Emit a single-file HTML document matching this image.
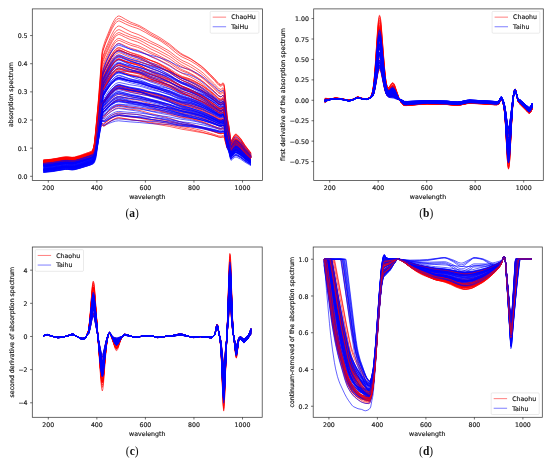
<!DOCTYPE html>
<html lang="en">
<head>
<meta charset="utf-8">
<title>Spectra of ChaoHu and TaiHu</title>
<style>
html,body{margin:0;padding:0;background:#fff;}
body{width:550px;height:460px;overflow:hidden;}
svg{display:block;}
.t text{font-family:"DejaVu Sans","Liberation Sans",sans-serif;font-size:6.25px;fill:#1c1c1c;stroke:#1c1c1c;stroke-width:0.18px;}
.cap text{font-family:"Liberation Serif","DejaVu Serif",serif;font-size:11.5px;fill:#111;}
</style>
</head>
<body>
<svg width="550" height="460" viewBox="0 0 550 460">
<rect width="550" height="460" fill="#fff"/>
<g><g fill="none" stroke-width="0.9" stroke-opacity="0.68" stroke-linejoin="round"><g stroke="#ff0000"><path d="M43.4 163.5l9.1-.8 12.8-1.9 2.4 0 4.3 .4 2.4-.2 5.5-1.4 9.1-2.8 2.4-.8 1.2-.7 .6-.8 .6-1.3 .6-1.7 .6-2.5 5.5-33.6 1.8-10.5 .6-1.4 1.2-1 2.5-3.7 3-3.9 2.4-2.8 2.4-2.2 1.3-.9 1.2-.6 1.8-.4 1.2 .1 6.1 1.8 4.8 1.2 7.3 1.3 3.1 .6 9.1 2.4 8.5 1.9 9.7 2.6 12.1 4.5 9.7 2.4 4.9 1.6 4.2 1.6 3 1.3 3.1 1.5 9.1 4.9 4.2 2.6 1.9 .5 .6-.1 1.2-.7 .6-.1 .6 .4 .6 1.1 .6 3.2 1.8 12 .6 3.1 1.2 2.2 .6 1.8 1.3 6.2 .6 1.6 1.8-2.5 1.8-2.1 .6-.4 .6-.1 .6 .1 1.2 .6 3.1 2.5 4.2 4.7 6.1 5.5"/><path d="M43.4 161.9l8.5-.9 4.3-.7 4.8-1 4.3-.6 2.4 0 4.3 .5 2.4-.2 5.5-1.5 9.7-3.3 2.4-1.1 .6-.7 1.2-3.4 .6-2.8 .6-4.4 3.7-34.6 1.8-18.6 1.2-14.4 .6-4.6 .6-2.1 2.4-6 4.9-10.4 1.8-3.5 2.4-3.8 1.3-1.6 1.2-1 1.8-.8 .6 0 1.2 .5 4.9 2.2 5.4 2.2 6.7 2 2.4 .9 5.5 2.6 5.5 2.8 6 2.6 3.1 1.5 9.7 5.3 6 4.3 4.3 2.6 2.4 1.2 5.5 2 2.4 1.1 3.7 2 6 3.6 3.7 2.6 5.4 4.5 5.5 4.8 3.6 3.7 1.2 .8 1.3 .6 .6-.1 1.2-1.1 .6-.2 .6 .7 .6 1.7 .6 4.7 1.8 18.3 .6 4.9 1.2 4.5 .6 3.2 1.3 9.4 .6 2.5 1.8-3.1 1.8-2.6 .6-.6 .6-.1 .6 .1 1.2 .8 3.1 3.1 4.2 5.7 6.1 6.9"/><path d="M43.4 160.1l8.5-1 4.3-.7 4.8-1 4.3-.7 2.4 0 4.3 .6 2.4-.2 6.1-1.8 9.1-3.2 2.4-1.1 .6-.4 .6-.8 1.2-2.5 .6-2.1 2.5-10.5 2.4-7 .6-1.5 .6-.9 .6-.5 .6-.2 1.2 1.1 .6 0 4.9-3.6 3-2 3.7-1.8 1.2-.3 1.8-.3 3 .4 9.1 1.5 8.5 1.2 12.2 2.5 18.2 3.2 12.1 2.7 7.3 1.2 14.6 2.6 7.8 1.7 3.1 .9 3.6 1.3 1.8 .4 1.3 .1 1.8-.4 .6 .3 .6 .6 2.4 9.2 .6 1.5 1.2 0 .6 .9 1.3 4.1 .6 1 1.8-2.2 1.8-1.9 .6-.4 .6-.1 .6 .1 1.2 .5 3.1 2.1 4.2 4 6.1 4.8"/><path d="M43.4 163.1l9.1-1 8.5-1.6 4.3-.7 2.4 0 4.3 .5 2.4-.2 6.1-1.8 9.1-3.3 2.4-1.1 .6-.7 .6-1.2 .6-1.5 .6-2.1 3.1-17.6 4.2-21.8 .6-1.2 1.2-.4 2.5-3 4.2-4.5 1.8-1.8 3.7-2.7 1.2-.6 1.8-.3 1.2 .1 10.3 2.2 9.7 1.5 18.9 4.1 9.1 3 7.2 2.8 4.3 1.4 3 .8 5.5 .9 3 .7 8.5 2.6 3 1.1 3.1 1.4 9.1 4.4 3.6 2 1.2 .5 1.3 .3 .6-.1 1.2-.6 .6-.2 .6 .4 .6 1 .6 3.1 1.8 11.5 .6 2.9 1.2 2.3 .6 1.9 1.3 5.9 .6 1.5 1.8-2.3 1.8-1.8 .6-.4 .6-.2 .6 .2 1.2 .5 3.1 2.3 4.2 4.2 6.1 5"/><path d="M43.4 162.3l9.1-.8 12.8-1.9 2.4 0 4.3 .4 2.4-.2 5.5-1.3 9.7-2.9 2.4-.9 .6-.7 .6-1.5 .6-2.1 .6-2.9 1.2-10.5 3.1-33.2 1.8-22 1.2-16.8 .6-5.9 .6-2.8 2.4-7 6.1-14.2 2.4-4.4 1.9-2.7 1.2-1.2 1.2-.7 .6-.1 1.2 .2 1.8 .8 4.3 2.4 5.4 2.7 6.7 2.4 2.4 1.1 5.5 2.9 4.9 2.9 7.9 3.8 9.1 5.1 2.4 1.6 5.4 4.2 4.9 3.4 2.4 1.4 4.9 2.1 2.4 1.3 4.9 3 4.8 3.3 3.1 2.4 3.6 3.4 7.9 7.6 3 3.4 1.2 1.1 1.9 .9 .6-.1 1.2-1.3 .6-.3 .6 .8 .6 1.9 .6 5.1 1.8 19.8 .6 5.3 1.2 4.9 .6 3.4 1.3 10.4 .6 2.7 1.8-3.4 1.8-2.9 .6-.6 .6-.2 .6 .2 1.2 .9 3.1 3.4 4.2 6.4 3.1 4 3 3.7"/><path d="M43.4 161.5l9.8-1 12.1-2.1 2.4 0 4.3 .4 1.8-.1 1.8-.4 4.9-1.6 9.1-3.1 2.4-1.1 .6-.8 .6-1.4 .6-1.8 .6-2.6 7.3-52.3 .6-2.2 1.2-1.4 1.8-3.2 4.9-7.4 1.8-2.6 2.4-2.8 1.3-1.2 1.2-.7 1.8-.6 1.2 .1 5.5 1.6 4.2 1.1 3.1 .6 4.8 .7 3 .6 10.4 3 6 1.5 3.1 1 9.1 3.6 6.6 3.4 4.9 2.2 2.4 .9 7.3 2.2 4.9 1.9 4.2 1.9 3 1.6 3.1 1.9 9.1 6.1 3 2.3 1.2 .8 1.9 .6 .6-.1 1.2-.9 .6-.3 .6 .6 .6 1.3 3 22.3 1.2 3.1 .6 2.4 1.3 7.4 .6 1.8 1.8-2.8 1.8-2.3 .6-.5 .6-.1 .6 .1 1.2 .7 3.1 2.8 4.2 5.1 6.1 6.2"/><path d="M43.4 161.7l7.9-.8 9.7-1.6 4.3-.6 2.4 .1 4.3 .4 2.4-.1 6.1-1.5 8.5-2.6 3-1.2 .6-.6 .6-1.1 .6-1.7 .6-2.3 .6-3.5 4.3-33.3 2.4-20.8 .6-3.8 .6-1.6 1.2-2 1.9-3.6 5.4-8.9 2.4-3 1.9-1.9 1.2-.8 1.8-.6 1.2 .2 5.5 1.9 4.8 1.5 7.3 1.8 2.4 .7 11 4.3 7.9 2.7 9.7 3.9 3 1.5 9.7 5.4 8.5 3.7 8.5 4.1 3.6 1.9 3.1 1.9 6 4.1 7.9 5.8 1.9 .7 .6-.1 1.2-.9 .6-.2 .6 .5 .6 1.4 3 22.6 1.2 3.5 .6 2.5 1.3 7.8 .6 2.1 1.8-2.7 1.8-2.2 .6-.5 .6-.2 .6 .1 1.2 .7 3.1 2.7 4.2 5 6.1 6"/><path d="M43.4 161.4l9.1-.9 8.5-1.5 4.3-.5 2.4 0 4.3 .4 2.4-.2 6.1-1.6 9.1-2.9 2.4-1 .6-.7 .6-1.2 .6-1.5 .6-2.3 3.1-18.4 3.6-20.6 .6-3.3 .6-1.5 1.2-.7 1.8-2.6 4.9-5.9 2.4-2.6 3.1-2.6 1.2-.6 1.8-.4 1.2 .1 4.9 1 3 .5 9.1 1 2.4 .3 3.7 .9 7.9 2.3 8.5 1.8 9.7 2.3 12.1 4.3 9.1 2.3 11.5 3.7 3.7 1.6 5.4 2.6 3.7 2.1 3.6 2.3 1.2 .6 1.3 .4 .6-.1 1.2-.7 .6-.1 .6 .4 .6 1.2 .6 3.4 1.8 12.7 .6 3.2 1.2 2.2 .6 1.9 1.3 6.3 .6 1.5 1.8-2.6 1.8-2.2 .6-.5 .6-.1 .6 .1 1.2 .7 3.1 2.5 4.2 4.8 6.1 5.8"/><path d="M43.4 162.4l8.5-1 9.1-1.7 4.3-.6 2.4 0 4.3 .5 2.4-.2 5.5-1.5 9.1-3.1 3-1.3 .6-.7 1.2-2.7 .6-2.1 .6-3.4 6.7-45.1 .6-2.6 1.8-2.3 1.9-3.2 4.2-6.3 1.8-2.4 2.4-2.6 1.3-1.1 1.2-.7 1.8-.6 1.2 .2 5.5 1.6 4.8 1.3 9.1 1.9 3.7 1.2 8.5 3.4 7.9 2.3 10.3 3.2 6 2.6 4.3 1.6 2.4 .6 6.7 1.3 3.6 1.1 6.1 2.5 4.3 2.1 11.5 7.2 4.2 2.9 1.9 .7 .6-.1 1.2-.8 .6-.1 .6 .5 .6 1.2 .6 3.5 1.8 13.1 .6 3.3 1.2 2.2 .6 2 1.3 6.8 .6 1.7 1.8-2.8 1.8-2.3 .6-.6 .6-.1 .6 .1 1.2 .7 3.1 2.7 4.2 5.1 6.1 6.2"/><path d="M43.4 163.3l8.5-1 9.1-1.6 4.3-.6 2.4 0 4.3 .4 2.4-.1 6.7-2 7.9-2.8 3-1.3 .6-.5 .6-.8 1.2-2.7 .6-2.3 1.8-9 1.3-5.3 2.4-9.2 1.2-3 .6-.8 1.2 .3 .6-.2 1.9-1.5 3-2.3 3.6-2.2 3.1-1.5 1.2-.3 1.8-.2 7.9 .9 10.3 .7 3.6 .6 11 2.5 17.6 3.3 11.5 2.9 9.7 1.6 9.1 1.9 6.7 1.9 13.3 4.5 1.9 .1 1.8-.5 .6 .2 .6 .8 2.4 10.9 .6 2.1 1.2 1 .6 1.2 1.3 4.7 .6 1.2 1.8-2.1 1.8-1.8 .6-.4 .6-.1 .6 .1 1.2 .6 3.1 2.1 4.2 3.9 6.1 4.7"/><path d="M43.4 161.7l9.8-1 12.1-1.9 2.4 0 4.3 .4 2.4-.2 5.5-1.6 9.1-3 2.4-1 .6-.4 .6-1.1 .6-1.6 .6-2.2 .6-3.2 4.3-34.6 3-26.6 .6-2.3 1.2-2 1.8-3.6 6.7-10.6 2.4-2.9 1.3-1.3 1.2-.8 1.8-.6 1.2 .2 4.9 1.7 3.6 1.1 7.9 1.9 2.4 .8 3.7 1.6 9.7 5.2 17.6 7.4 10.9 6.1 2.4 1.1 4.9 1.7 2.4 1.1 4.3 2.1 6 3.2 3.7 2.3 6 4.4 4.3 3.2 3.6 3.2 1.2 .7 1.3 .5 .6 0 1.2-.8 .6-.2 .6 .6 .6 1.5 3 22.2 1.2 3.2 .6 2.5 1.3 8 .6 2.2 1.8-2.8 1.8-2.4 .6-.5 .6-.2 .6 .2 1.2 .7 3.1 2.7 4.2 5.2 6.1 6.2"/><path d="M43.4 161.4l9.1-.9 12.8-2 2.4 0 4.3 .4 2.4-.2 5.5-1.5 9.1-2.9 2.4-.8 .6-.5 .6-.8 .6-1.2 .6-1.6 .6-2.4 3.1-16.3 2.4-11.4 1.2-5 .6-1.9 .6-.5 .6-.1 .6-.3 1.8-1.9 4.9-4.7 2.4-2.1 3.1-2.1 1.2-.5 1.8-.3 1.2 .1 5.5 1.1 4.8 .8 10.3 1.4 15.8 2.8 4.9 1.1 8.5 2.1 12.1 4 7.9 1.8 14 3.8 7.2 2.6 3.7 1.6 3.6 1.9 1.2 .4 1.3 .3 .6-.1 1.8-.7 .6 .4 .6 .9 2.4 13.4 .6 2.5 1.2 1.4 .6 1.5 1.3 5.5 .6 1.4 1.8-2.5 1.8-2 .6-.5 .6-.1 .6 .1 1.2 .7 3.1 2.6 4.2 4.6 3.1 2.9 3 2.6"/><path d="M43.4 160.2l8.5-.8 9.1-1.5 4.3-.5 2.4 0 4.3 .4 2.4-.1 6.7-1.8 8.5-2.6 2.4-1 .6-.8 .6-1.4 .6-1.8 .6-2.7 4.3-31.5 3-24 .6-2.4 1.2-1.5 2.5-4.1 4.2-6.2 1.8-2.4 2.4-2.5 1.3-1.1 1.2-.7 1.8-.5 1.2 .1 4.9 1.3 3 .7 8.5 1.4 2.4 .5 3.7 1.2 9.7 4 18.2 5.4 10.3 5 2.4 .9 7.3 2.4 4.9 2.2 3 1.5 4.9 3 12.1 9 2.4 2 1.2 .7 1.9 .7 .6-.1 1.2-.9 .6-.2 .6 .5 .6 1.4 .6 3.8 1.8 14.3 .6 3.6 1.2 2.7 .6 2.3 1.3 7.3 .6 1.9 1.8-3 1.8-2.4 .6-.6 .6-.1 .6 .1 1.2 .7 3.1 2.8 4.2 5.4 6.1 6.4"/><path d="M43.4 161.4l8.5-1 4.3-.8 4.8-1 4.3-.7 2.4 0 4.3 .4 2.4-.2 5.5-1.7 9.1-3.1 2.4-.9 .6-.5 .6-.8 .6-1.3 .6-1.6 .6-2.4 3.1-16.7 2.4-11.5 1.2-5.2 .6-2 .6-.6 .6-.1 .6-.2 1.8-2.2 4.9-5 2.4-2.3 3.1-2.2 1.2-.6 1.8-.3 1.2 .1 9.1 1.9 8.5 1.2 2.4 .5 12.2 3.7 17.6 4.3 10.3 3.3 3 .6 5.5 1 3.6 .9 6.7 2.1 4.3 1.6 9.7 4.6 6 3.3 1.9 .5 .6 0 1.8-.6 .6 .4 .6 1 2.4 13.3 .6 2.7 1.2 1.8 .6 1.6 1.3 5.7 .6 1.4 1.8-2.2 1.8-1.9 .6-.4 .6-.2 .6 .2 1.2 .5 3.1 2.2 4.2 4.2 6.1 5"/><path d="M43.4 161.7l8.5-.9 9.1-1.5 4.3-.6 2.4 0 4.3 .4 2.4-.2 5.5-1.4 9.7-2.9 1.8-.6 .6-.5 .6-1.1 .6-1.6 .6-2.2 .6-3.3 3.7-28.1 3-25.5 .6-4.2 .6-1.9 1.2-1.9 1.2-2.4 7.3-11.9 2.4-3.1 1.3-1.3 1.2-.8 1.8-.6 1.2 .1 1.8 .6 3.7 1.5 5.4 1.9 9.7 2.6 18.3 6.4 10.3 4.9 6.6 3.9 4.9 2.5 2.4 1 4.9 1.6 3 1.1 6.7 3 3.6 1.8 3.7 2.1 5.4 3.6 4.3 2.9 3 2.4 1.2 .8 1.9 .6 .6-.1 1.2-.9 .6-.3 .6 .6 .6 1.4 3 22.6 1.2 3.1 .6 2.5 1.3 7.9 .6 2 1.8-2.9 1.8-2.3 .6-.5 .6-.2 .6 .2 1.2 .8 3.1 2.9 4.2 5.4 3.1 3.4 3 3"/><path d="M43.4 160.2l9.8-.9 12.1-1.8 2.4 0 4.3 .5 2.4-.2 6.1-1.6 9.1-2.9 2.4-.9 .6-.6 .6-1.1 .6-1.3 .6-1.9 3.1-16.3 2.4-11.1 1.8-7.4 .6-.9 1.2 0 .6-.6 1.9-2.1 4.2-4.2 1.8-1.6 3.7-2.5 1.2-.5 1.8-.3 1.2 .1 6.1 .9 10.3 1.1 3 .6 3.1 1 7.9 3.2 3.6 1.3 15.2 4 11.5 3.9 9.7 2.3 10.3 3.1 3.7 1.4 5.4 2.2 9.1 4.1 1.9 .4 .6-.1 1.8-.6 .6 .3 .6 .9 2.4 11.8 .6 2.1 1.2 1.1 .6 1.3 1.3 5.3 .6 1.4 1.8-2.3 1.8-2 .6-.4 .6-.1 .6 .1 1.2 .6 3.1 2.3 4.2 4.2 6.1 5.2"/><path d="M43.4 161l9.8-.9 12.1-1.9 2.4 0 4.3 .4 2.4-.2 5.5-1.5 9.7-2.9 2.4-1 .6-.6 1.2-2.9 .6-2.3 .6-3.6 5.5-41.3 1.2-10.3 .6-3.1 .6-1.3 1.2-1.8 1.9-3.4 4.2-6.8 1.8-2.6 2.4-2.8 1.3-1.1 1.2-.8 1.8-.6 1.2 .1 6.7 1.7 9.7 1.3 2.4 .5 3.7 1.4 9.7 4.2 17.6 5.7 2.4 1.1 8.5 4.3 9.7 3.6 5.5 2.5 4.2 2.2 3.1 1.8 3 2 8.5 6 3 2.4 1.2 .9 1.9 .7 .6-.1 1.2-.9 .6-.2 .6 .5 .6 1.4 3 22.7 1.2 3.3 .6 2.4 1.3 7.6 .6 2 1.8-2.8 1.8-2.3 .6-.5 .6-.2 .6 .1 1.2 .7 3.1 2.7 4.2 5.1 6.1 6.1"/><path d="M43.4 161.9l9.1-.8 12.8-2 2.4 0 4.3 .4 1.8-.1 1.8-.4 4.9-1.4 9.7-2.9 1.8-.8 .6-.6 .6-1.1 .6-1.4 .6-2 3.1-14.8 2.4-10.1 .6-2.2 1.2-3.3 .6-.4 .6 .1 .6-.1 7.3-6.3 3-2.1 2.5-1.3 2.4-.5 7.9 1.1 9.7 1 4.9 .9 9.7 2.7 7.2 1.8 10.4 2.7 12.1 3.9 9.7 2.1 10.3 2.7 9.7 3.3 8.5 3.3 1.9 .3 .6 0 1.8-.5 .6 .2 .6 .8 2.4 10.4 .6 1.8 1.2 .6 .6 1 1.3 4.8 .6 1.3 1.8-2.3 1.8-1.8 .6-.4 .6-.1 .6 .1 1.2 .6 3.1 2.3 4.2 4.2 6.1 5"/><path d="M43.4 163.8l9.1-.9 12.8-2 2.4 0 4.3 .5 2.4-.2 5.5-1.4 8.5-2.7 3-1.1 .6-.5 .6-1 .6-1.6 .6-2.1 .6-3.2 3.7-30.4 3.6-33.8 .6-2.6 3-5.9 4.9-7.7 1.8-2.7 2.4-2.8 1.3-1.2 1.2-.8 1.8-.6 1.2 .1 5.5 1.9 4.2 1.2 7.9 1.6 2.4 .7 5.5 1.9 5.5 2.2 7.2 2.4 9.8 3.9 3 1.4 10.3 5.9 8.5 3.5 12.1 6 3.1 1.9 5.4 3.8 4.3 3.2 3.6 3.3 1.2 .7 1.3 .5 .6-.1 1.2-.9 .6-.3 .6 .7 .6 1.5 3 24.7 1.2 3.7 .6 2.7 1.3 8.2 .6 2.2 1.8-2.9 1.8-2.4 .6-.6 .6-.1 .6 .1 1.2 .7 3.1 2.9 4.2 5.3 6.1 6.4"/><path d="M43.4 163.5l9.1-1 12.8-2.2 2.4 0 4.3 .4 2.4-.2 5.5-1.6 9.7-3.3 2.4-1 .6-.5 .6-1.1 .6-1.7 .6-2.2 .6-3.5 3.7-31.8 3.6-35.6 .6-2.8 3.7-8.2 3.6-7 1.8-3.1 2.4-3.4 1.3-1.4 1.2-.9 1.8-.7 1.2 .2 5.5 2.1 4.8 1.6 2.5 .6 4.8 1 3 .9 9.8 3.3 5.4 1.7 3.7 1.5 9.7 4.9 6.6 4.3 4.3 2.5 2.4 1.1 5.5 1.8 2.4 1 4.3 2.1 4.2 2.4 3 2 2.5 1.9 10.3 8.6 3 2.8 1.2 .9 1.9 .8 .6-.2 1.2-1.1 .6-.3 .6 .7 .6 1.6 .6 4.5 1.8 17.5 .6 4.7 1.2 4.4 .6 3 1.3 9 .6 2.3 1.8-3 1.8-2.4 .6-.6 .6-.1 .6 .1 1.2 .8 3.1 3 4.2 5.5 3.1 3.4 3 3.2"/><path d="M43.4 163.2l9.1-.9 12.8-2 2.4 0 4.3 .4 2.4-.2 5.5-1.4 10.3-3.1 1.8-.8 .6-.9 1.2-4.1 .6-3.3 .6-5.2 3.7-38.1 3-37.3 .6-4.3 .6-1.9 2.4-6.2 4.9-10.4 1.8-3.6 2.4-3.8 1.3-1.7 1.2-1 1.8-.8 1.2 .2 5.5 2.5 4.2 1.6 3.1 1 4.2 1.2 2.4 1 4.3 2.2 7.3 4.2 7.2 3.5 10.4 5.5 2.4 1.5 4.8 3.7 5.5 3.9 9.1 4.8 7.9 4.9 3.6 2.5 3.1 2.5 6 5.3 3.7 3.4 3 3.2 1.2 1.1 1.9 .8 .6-.1 1.2-1.2 .6-.3 .6 .8 .6 1.8 .6 4.9 2.4 25.2 1.2 5.6 .6 3.6 1.3 10.2 .6 2.8 1.8-3 1.8-2.5 .6-.6 .6-.2 .6 .2 1.2 .7 3.1 3 4.2 5.5 6.1 6.7"/><path d="M43.4 160.9l8.5-.9 9.1-1.7 4.3-.6 2.4 0 4.3 .4 2.4-.2 5.5-1.4 11.5-3.7 .6-.4 .6-.8 1.2-2.5 .6-2.1 1.8-8.4 1.3-4.7 2.4-7.8 1.2-2.2 .6-.6 1.2 .7 .6 0 7.3-5.2 1.8-1.1 3.1-1.5 1.2-.4 1.8-.3 1.2 .1 9.7 1.3 10.9 1 10.4 1.5 7.9 .9 9.7 1.5 12.1 2.5 9.7 1.4 10.3 2 9.1 2.6 9.7 3.2 1.9 .1 1.8-.5 .6 .3 .6 .7 2.4 10.9 .6 2 1.2 .8 .6 1.2 1.3 4.5 .6 1.1 1.8-2.2 1.8-1.8 .6-.4 .6-.1 .6 .1 1.2 .5 3.1 2.2 4.2 4 6.1 4.8"/><path d="M43.4 161.8l9.1-.9 8.5-1.4 4.3-.5 2.4 0 4.3 .4 2.4-.2 6.1-1.6 9.1-2.8 2.4-.9 .6-.8 .6-1.2 .6-1.5 .6-2.3 3.1-18.3 4.2-23.8 .6-1.4 1.2-.8 1.8-2.5 6.7-8.2 2.4-2.3 1.3-.9 1.2-.7 1.8-.4 1.2 .1 1.8 .5 6.1 1.9 4.9 1.3 22.4 4.6 4.9 1.3 9.7 3.3 6 2.7 5.5 2.2 9.1 2.5 11.5 4.1 9.1 4.3 3.7 1.9 4.2 2.5 1.9 .5 .6-.1 1.2-.6 .6-.2 .6 .4 .6 1.1 3 18.4 1.2 2.6 .6 2 1.3 6.3 .6 1.7 1.8-2.3 1.8-1.9 .6-.4 .6-.1 .6 .1 1.2 .6 3.1 2.1 4.2 4.1 6.1 5"/><path d="M43.4 162.7l8.5-1 4.3-.7 4.8-1 4.3-.6 2.4 0 4.3 .5 2.4-.1 5.5-1.6 8.5-3 3-1.2 .6-.5 .6-1 .6-1.6 .6-2.1 .6-3.2 4.3-32.7 2.4-20.2 .6-4.3 .6-2 1.2-1.8 1.8-3.3 6.7-10.2 2.4-2.8 1.3-1.2 1.2-.8 1.8-.5 1.2 .1 1.8 .6 3.7 1.5 5.4 1.8 8.5 2.5 6.1 2.5 5.5 2.5 6 2.3 3.7 1.6 9.1 4.2 12.1 7.1 7.9 3.6 12.1 6 9.1 5.8 3.7 2.4 3 2.3 1.2 .8 1.9 .7 .6-.1 1.2-.8 .6-.2 .6 .5 .6 1.3 3 20.8 1.2 3.3 .6 2.4 1.3 7.6 .6 2.1 1.8-2.6 1.8-2.1 .6-.4 .6-.2 .6 .2 1.2 .6 3.1 2.5 4.2 4.7 6.1 5.6"/><path d="M43.4 162.8l8.5-1 4.3-.7 4.8-.9 4.3-.7 2.4 0 4.3 .5 2.4-.1 5.5-1.6 9.1-3 2.4-1 .6-.4 .6-.9 .6-1.4 .6-1.8 .6-2.7 3.1-19.1 3.6-21.9 .6-2.9 .6-1.3 1.2-1 1.8-2.6 6.7-8.5 2.4-2.4 1.3-1 1.2-.7 1.8-.5 1.2 .1 1.8 .5 3.7 1.1 5.4 1.5 9.1 1.6 10.4 2.7 7.8 1.7 11 3.1 7.3 2.9 4.2 1.4 2.4 .6 5.5 .9 4.2 1.2 4.9 1.8 4.2 2 17 10.2 1.9 .5 .6-.1 1.2-.7 .6-.2 .6 .4 .6 1.2 .6 3.3 1.8 12.2 .6 3 1.2 2 .6 1.9 1.3 6.3 .6 1.6 1.8-2.7 1.8-2.2 .6-.5 .6-.2 .6 .2 1.2 .6 3.1 2.7 4.2 4.8 6.1 6"/><path d="M43.4 161.3l9.8-.9 12.1-1.8 2.4 0 4.3 .4 2.4-.1 5.5-1.5 10.3-3.3 1.8-.8 .6-.8 1.2-3.5 .6-2.9 .6-4.5 3.7-32.4 1.8-17.3 1.2-13.2 .6-3.4 3-6.7 4.9-9.3 1.8-3.1 2.4-3.5 1.3-1.4 1.2-1 1.8-.6 1.2 .1 1.8 .8 5.5 2.8 4.8 2.3 6.1 2.1 2.4 1 9.8 4.6 7.8 3.3 10.4 4.9 2.4 1.4 4.8 3.3 5.5 3.5 9.1 4.4 10.9 6.2 3.1 2.1 5.4 4.2 4.9 3.8 3 2.7 1.2 .9 1.9 .7 .6-.1 1.2-1.1 .6-.3 .6 .6 .6 1.6 .6 4 1.8 15.1 .6 3.8 1.2 2.9 .6 2.4 1.3 8.5 .6 2.3 1.8-3.3 1.8-2.6 .6-.6 .6-.2 .6 .2 1.2 .9 3.1 3.2 4.2 6 3.1 3.7 3 3.4"/><path d="M43.4 161.9l8.5-1 4.3-.7 4.8-1.1 4.3-.6 2.4 0 4.3 .5 2.4-.1 6.1-1.8 10.9-3.9 .6-.4 .6-.7 1.2-2.6 .6-2 1.8-8.5 1.3-4.7 2.4-7.9 .6-1.4 .6-.9 .6-.7 .6 .2 .6 .4 .6 0 7.3-5.8 1.8-1.3 3.1-1.8 1.2-.4 1.8-.3 3 .4 9.7 2 9.1 1.5 11 2.3 18.2 3 11.5 2.8 7.9 1.3 5.5 1.1 8.5 2.1 15.7 5 1.9 .2 .6 0 1.8-.6 .6 .3 .6 .6 2.4 9.5 .6 1.5 1.2 .1 .6 .9 1.3 4.2 .6 1.1 1.8-2.3 1.8-1.9 .6-.4 .6-.1 .6 .1 1.2 .6 3.1 2.2 4.2 4.3 6.1 5"/><path d="M43.4 161.4l8.5-1 4.3-.7 4.8-1 4.3-.7 2.4 0 4.3 .5 2.4-.1 5.5-1.7 9.7-3.5 2.4-1.1 .6-.8 1.2-3.5 .6-2.9 .6-4.5 5.5-49.8 1.2-13.3 .6-3.6 3.7-7.9 4.2-8.1 1.8-3.1 2.4-3.4 1.3-1.4 1.2-1 1.8-.6 1.2 .1 5.5 2.3 4.8 1.8 7.3 2.1 1.8 .6 6.1 2.8 5.5 2.7 7.9 3.4 9.7 5.5 7.2 5.1 4.3 2.5 2.4 1.1 5.5 1.9 3 1.3 3.7 1.9 6 3.4 3.7 2.5 5.4 4.2 4.9 4 3 2.9 1.2 .9 1.9 .8 .6-.1 1.2-1 .6-.3 .6 .6 .6 1.6 .6 4.4 1.8 16.9 .6 4.5 1.2 4.1 .6 2.9 1.3 8.9 .6 2.4 1.8-3 1.8-2.4 .6-.5 .6-.2 .6 .2 1.2 .7 3.1 3 4.2 5.5 3.1 3.4 3 3.2"/><path d="M43.4 160.9l9.1-1 12.8-2.1 2.4 0 4.3 .5 2.4-.2 5.5-1.6 9.1-3.1 2.4-1 .6-.5 .6-1.1 1.2-4.4 .6-3.8 .6-5.4 3.7-38.2 3-36.2 .6-3.7 3-7.8 4.9-10.5 1.8-3.7 2.4-3.9 1.3-1.7 1.2-1.1 1.8-.7 1.2 .2 5.5 2.8 4.8 2.1 2.5 1 4.8 1.5 2.4 .9 6.1 2.9 4.3 2.1 6 2.7 3.7 1.9 9.7 5.8 6 4.7 5.5 3.8 9.1 4.6 5.5 3.4 4.2 2.8 3.7 2.9 5.4 4.9 5.5 5.2 3 3.3 1.2 1.1 1.9 .9 .6-.1 1.2-1.2 .6-.4 .6 .8 .6 1.9 .6 5 1.8 19.6 .6 5.3 1.2 5.1 .6 3.5 1.3 10.2 .6 2.8 1.8-3.3 1.8-2.7 .6-.6 .6-.2 .6 .2 1.2 .8 3.1 3.3 4.2 6 3.1 3.8 3 3.5"/><path d="M43.4 164l8.5-1 4.3-.7 4.8-1 4.3-.6 2.4 0 4.3 .4 2.4-.2 5.5-1.6 9.1-3.1 2.4-1 .6-.5 .6-1.3 1.2-4.9 .6-4.2 .6-5.8 3.1-34.5 3.6-47.7 .6-3.9 3-8.6 6.7-14.9 2.4-4.2 1.3-1.8 1.2-1.1 1.2-.7 .6-.2 1.2 .2 5.5 2.8 4.8 2.1 2.5 .9 4.2 1.3 2.4 1 6.1 3.2 5.5 3.3 7.2 3.7 3.1 2 7.3 5.1 7.2 6.2 4.3 3.1 2.4 1.4 6.1 2.7 2.4 1.3 5.5 3.4 4.2 3 3.7 3 5.4 5.1 4.9 4.9 3 3.5 1.2 1.2 1.9 1 .6-.1 1.2-1.3 .6-.3 .6 .8 .6 2 .6 5.3 2.4 26.6 1.2 5.5 .6 3.7 1.3 10.9 .6 3 1.8-3.5 1.8-2.8 .6-.6 .6-.2 .6 .1 1.2 .9 3.1 3.3 4.2 6.3 6.1 7.6"/><path d="M43.4 160.8l8.5-.9 9.1-1.6 4.3-.6 2.4 0 4.3 .4 2.4-.2 5.5-1.5 9.7-3.2 2.4-1 .6-.7 1.2-3.1 .6-2.4 .6-3.9 5.5-45.2 1.2-11.6 .6-3.7 .6-1.5 1.2-2.1 1.9-3.8 4.2-7.3 1.8-2.8 2.4-2.9 1.3-1.3 1.2-.8 1.8-.5 1.2 .3 6.1 2.6 4.8 1.9 7.3 2.1 2.4 .9 10.4 4.2 6 2.3 3.7 1.5 9.1 4.3 6 3.8 5.5 3.1 9.1 3.7 12.1 6 3.7 2.2 4.8 3.2 3.7 2.7 3.6 3.2 1.2 .7 1.3 .5 .6-.1 1.2-.9 .6-.2 .6 .6 .6 1.5 .6 4 1.8 14.9 .6 3.9 1.2 3.1 .6 2.5 1.3 8 .6 2.2 1.8-3 1.8-2.3 .6-.6 .6-.1 .6 .1 1.2 .8 3.1 2.9 4.2 5.4 3.1 3.4 3 3.1"/><path d="M43.4 160.3l8.5-.9 4.3-.7 4.8-1.1 4.3-.6 2.4 0 4.3 .5 2.4-.2 5.5-1.6 9.7-3.6 2.4-1.1 .6-.8 1.2-3.6 .6-3 .6-4.6 4.3-41.2 1.2-12.5 1.2-14.4 .6-4.3 .6-1.8 3.1-7.2 4.2-8.8 1.8-3.4 2.4-3.7 1.3-1.6 1.2-1 1.8-.7 1.2 .2 5.5 2.6 4.8 2 2.5 .9 4.8 1.4 2.4 .9 6.1 3 4.9 2.6 7.2 3.2 9.1 4.8 3.1 1.8 5.4 3.9 4.9 3.2 2.4 1.2 4.9 2 2.4 1.2 5.5 3.2 4.2 2.7 2.4 1.8 3.1 2.5 9.1 8.2 3 3.1 1.2 1 1.9 .9 .6-.1 1.2-1.2 .6-.2 .6 .7 .6 1.7 3 27 1.2 4.1 .6 2.9 1.3 9.4 .6 2.5 1.8-3.3 1.8-2.7 .6-.7 .6-.1 .6 .1 1.2 .8 3.1 3.3 4.2 6 3.1 3.8 3 3.6"/><path d="M43.4 161l9.1-.9 12.8-2 2.4 0 4.3 .4 2.4-.1 5.5-1.4 10.9-3.4 1.2-.5 .6-.4 .6-1.2 1.2-4.6 .6-4 .6-5.8 3.7-41.8 3-40.4 .6-4.1 3.1-9.5 3-7.7 2.4-5.7 2.4-4.5 1.9-2.8 1.2-1.2 1.2-.7 .6-.1 1.2 .2 5.5 2.7 4.2 1.9 3.1 1.2 4.2 1.3 2.4 1 4.3 2.5 7.3 4.8 6 3.3 3.1 1.8 9.7 6.2 6 5.1 4.9 3.5 2.4 1.4 4.9 2.2 2.4 1.2 3.7 2.3 6 4.3 3.7 3.1 5.4 5.3 5.5 5.6 3 3.6 1.2 1.1 1.9 1 .6-.1 1.2-1.2 .6-.4 .6 .8 .6 2 .6 5.4 1.8 21 .6 5.6 1.2 5.4 .6 3.7 1.3 11 .6 2.9 1.8-3.5 1.8-2.9 .6-.7 .6-.1 .6 .1 1.2 .9 3.1 3.5 4.2 6.6 3.1 4 3 3.8"/><path d="M43.4 163.8l8.5-.9 9.1-1.6 4.3-.6 2.4 0 4.3 .4 2.4-.1 5.5-1.5 9.1-3 2.4-.9 1.2-.7 .6-1 .6-1.6 .6-2.1 .6-3.2 3.7-31.1 3.6-35.2 .6-3 3.7-8.3 3-6 2.4-4.2 2.4-3.4 1.3-1.4 1.2-1 1.8-.7 1.2 .2 1.8 .7 6.1 2.8 4.9 1.9 7.2 1.8 10.4 2.8 5.4 1.3 4.3 1.5 9.1 4.4 6 3.7 4.3 2.1 3 1.2 5.5 1.4 2.4 .8 3.7 1.6 5.4 2.8 3.7 2.2 4.2 3.2 7.3 6 3.6 3.4 1.2 .8 1.3 .5 .6 0 1.2-1.1 .6-.2 .6 .6 .6 1.7 .6 4.5 1.8 17.7 .6 4.6 1.2 4.1 .6 2.9 1.3 8.6 .6 2.2 1.8-3.1 1.8-2.6 .6-.6 .6-.2 .6 .2 1.2 .8 3.1 3 4.2 5.7 6.1 6.9"/></g><g stroke="#0000ff"><path d="M43.4 165.5l9.1-1 12.8-2.1 2.4-.1 4.3 .4 2.4-.2 5.5-1.7 9.7-3.5 1.8-.8 1.8-1.1 .6-1.1 .6-1.7 .6-2.4 .6-3.7 1.2-10.8 2.5-24.6 3-33.3 .6-5.9 .6-3.1 3.1-7.7 2.4-4.9 2.4-4.1 2.4-3.2 1.9-2.1 1.2-.9 1.8-.6 1.2 .2 5.5 2 3.6 1.2 3 .8 5.5 1.2 3 1.1 5.5 2.5 4.9 2.4 6 2.6 3.1 1.5 9.1 4.9 6.6 4.3 3.7 1.9 3 1.2 6.7 1.7 4.2 1.8 4.3 2.3 4.2 2.9 13.4 11.2 2.4 2.2 1.2 .9 1.9 .7 .6-.1 1.2-1 .6-.3 .6 .6 .6 1.6 .6 4.7 2.4 23.6 1.2 4.9 .6 3.2 1.3 9.6 .6 2.5 1.8-3.1 1.8-2.5 .6-.6 .6-.1 .6 .1 1.2 .8 3.1 3 4.2 5.5 6.1 6.8"/><path d="M43.4 172.1l9.1-.9 12.8-2 2.4 0 4.3 .4 2.4-.1 5.5-1.5 9.1-2.7 2.4-.9 1.2-.6 .6-.6 .6-1 .6-1.4 .6-1.9 1.8-9.3 3.7-20.2 .6-2.7 1.2-1.2 .6-.1 1.2 .3 4.9-2.3 3-1.2 3.7-1.1 3-.3 11.5 1.1 9.1 .6 11.6 1.1 19.4 1.1 10.9 1.3 9.1 .8 6.1 .7 4.8 .8 17.6 3.5 1.9 .2 2.4-.4 .6 .2 .6 .5 .6 2.6 1.8 10.3 .6 2.8 1.2 2.7 .6 1.8 1.3 5.3 .6 1.4 1.8-1.7 1.8-1.4 .6-.4 1.2 0 1.2 .5 3.1 1.7 4.2 3.2 6.1 3.9"/><path d="M43.4 168l9.1-1 12.8-2.2 2.4 0 4.3 .4 1.8-.1 5.5-1.6 9.7-3.3 1.8-.6 1.8-.9 .6-.6 .6-1.1 .6-1.3 .6-2 6.1-31.9 1.2-1.8 .6-.1 .6 .3 .6 .1 4.3-2.9 3.6-2.2 3.7-1.5 1.2-.3 1.8-.2 17.6 1.3 4.9 .7 26.7 5 14.5 3.5 13.4 2.4 7.9 1.2 5.4 1 4.9 1.1 5.4 1.6 1.9 .2 1.8-.3 .6 .2 .6 .6 .6 2.7 2.4 13 1.2 2.7 .6 1.8 1.3 5.7 .6 1.5 1.8-1.7 1.8-1.5 .6-.3 1.2 0 1.2 .4 3.1 1.7 4.2 3.2 6.1 3.9"/><path d="M43.4 164.8l9.1-.9 12.8-2 2.4 0 4.3 .4 2.4-.2 5.5-1.5 10.3-3 2.4-.9 .6-.4 .6-.8 .6-1.3 .6-1.8 .6-2.6 5.5-36.6 1.2-7 .6-2.7 .6-1.2 .6-.5 .6-.7 1.3-2.1 2.4-3.5 3.6-4.4 2.4-2.3 1.3-1 1.2-.6 1.8-.5 1.2 .1 10.3 2.7 8.5 1.8 3.7 1.1 9.7 3.3 17.6 4.6 3 1.1 9.7 3.9 6.7 2.2 13.3 4.8 9.1 4 7.3 3.7 1.9 .4 .6 0 1.8-.8 .6 .4 .6 1 3 18.6 1.2 2.6 .6 2 1.3 6.6 .6 1.8 1.8-2.4 1.8-2 .6-.5 .6-.1 .6 .1 1.2 .6 3.1 2.3 4.2 4.4 6.1 5.3"/><path d="M43.4 166.1l9.1-.9 12.8-2 2.4 0 4.3 .4 2.4-.2 5.5-1.5 9.1-3 1.8-.6 2.4-1.2 .6-.6 .6-1.1 .6-1.4 .6-2.1 6.1-34.3 1.2-3.1 .6-.6 .6 .2 .6-.2 1.9-1.9 1.8-1.6 3.6-2.5 3.7-1.7 1.2-.4 1.8-.2 1.2 0 9.1 1.4 7.9 .9 3 .5 13.4 3.5 7.3 1.5 9.7 1.7 10.9 2.8 8.5 1.5 7.9 1.9 6.1 1.6 15.1 5.1 1.9 .4 .6-.1 1.8-.5 .6 .3 .6 .7 .6 2.8 1.8 10.6 .6 2.8 1.2 2.4 .6 1.9 1.3 5.8 .6 1.6 1.8-2 1.8-1.7 .6-.3 .6-.2 .6 .1 1.2 .5 3.1 1.9 4.2 3.5 6.1 4.4"/><path d="M43.4 169.2l9.1-.9 12.8-1.9 2.4 0 4.3 .4 2.4-.2 5.5-1.5 9.7-3.1 1.8-.6 1.8-1 .6-.8 .6-1.3 .6-1.7 .6-2.7 1.9-12.2 4.2-31.6 1.2-7.1 .6-1.6 1.2-1.6 1.9-2.9 1.8-2.5 2.4-2.8 1.8-1.7 3.1-2.4 1.2-.6 1.8-.4 1.2 .1 5.5 1.4 4.8 1 9.7 1.4 10.4 1.9 6 .9 3.1 .7 9.1 2.8 6.6 2.5 3.7 1.1 3.6 .9 7.9 1.1 3 .7 4.3 1.3 4.2 1.5 4.3 1.9 7.9 3.9 4.8 2.8 1.9 .5 .6 0 1.2-.6 .6-.2 .6 .4 .6 1.2 .6 3.6 1.8 14.2 .6 3.8 1.2 3.3 .6 2.3 1.3 6.9 .6 1.8 1.8-2.5 1.8-2 .6-.5 .6-.1 .6 .1 1.2 .6 3.1 2.5 4.2 4.6 6.1 5.5"/><path d="M43.4 166.9l8.5-1 9.1-1.7 4.3-.6 2.4 0 4.3 .5 2.4-.2 5.5-1.6 10.3-3.4 2.4-1 .6-.6 1.2-2.4 .6-2.1 .6-3.1 5.5-37.9 1.2-7.3 .6-2.3 .6-.9 .6-.6 .6-.9 1.3-2.1 2.4-3.5 3.6-4.6 2.4-2.4 1.3-1 1.2-.7 1.8-.4 1.2 .1 9.7 2.2 7.9 1.3 3 .6 10.4 3.1 7.2 1.9 9.8 3 3 1 4.8 1.9 3.7 1.1 3 .7 6.7 .8 4.2 1 5.5 1.9 4.3 1.8 11.5 5.9 4.2 2.3 1.9 .5 .6-.1 1.2-.6 .6-.2 .6 .4 .6 1.1 .6 3.5 1.8 13.9 .6 3.8 1.2 3.4 .6 2.3 1.3 7.1 .6 1.9 1.8-2.4 1.8-2 .6-.5 .6-.1 .6 .1 1.2 .6 3.1 2.4 4.2 4.3 6.1 5.3"/><path d="M43.4 165.9l9.1-.9 8.5-1.5 4.3-.6 2.4 0 4.3 .4 2.4-.2 5.5-1.5 8.5-2.8 2.4-.9 1.8-.8 .6-.6 .6-1 .6-1.3 .6-2 .6-2.9 5.5-32.4 1.2-4.2 .6-1 1.2-.2 4.3-4.1 3.6-2.9 3.7-2 1.2-.4 1.8-.3 1.2 .1 10.3 1.9 9.7 1.4 11 2.5 18.2 3.8 12.7 3.7 7.3 1.7 13.3 3.4 9.1 2.9 7.3 2.7 1.9 .3 .6 0 1.8-.6 .6 .3 .6 .8 .6 2.9 1.8 11.1 .6 3 1.2 2.5 .6 2 1.3 6 .6 1.6 1.8-2.1 1.8-1.7 .6-.4 .6-.1 .6 .1 1.2 .6 3.1 2 4.2 3.8 6.1 4.6"/><path d="M43.4 169.1l9.1-1 8.5-1.7 4.3-.7 2.4 0 4.3 .5 2.4-.2 5.5-1.7 10.3-3.6 2.4-1.1 .6-.8 1.2-3.4 .6-2.8 .6-4.2 3.1-26.2 3.6-34.1 .6-2.9 3.7-7.4 3-5.2 2.4-3.7 2.4-2.9 1.3-1.3 1.2-.8 1.8-.6 1.2 .2 1.8 .6 4.3 1.7 5.4 1.9 8.5 2.5 11 4.4 7.9 2.8 10.3 4.3 7.3 3.9 4.2 1.8 2.4 .8 6.1 1.4 4.9 1.6 6 2.6 4.3 2.2 7.9 5 3 2.1 3 2.4 1.2 .7 1.3 .5 .6 0 1.2-.8 .6-.2 .6 .6 .6 1.4 .6 4.1 1.8 15.9 .6 4.3 1.2 4.1 .6 2.7 1.3 8.4 .6 2.3 1.8-2.7 1.8-2.2 .6-.5 .6-.1 .6 .1 1.2 .7 3.1 2.7 4.2 5 6.1 6"/><path d="M43.4 169.2l9.8-.9 12.1-1.8 2.4 0 4.3 .3 2.4-.1 5.5-1.5 10.3-3.1 3-1.3 .6-.6 1.2-2.9 .6-2.5 .6-3.8 3.1-24.6 3.6-32.3 .6-3.2 2.5-5.3 1.2-2.2 1.8-3 2.4-3.2 2.4-2.6 1.9-1.6 1.2-.7 1.8-.4 1.2 .2 7.3 2.6 4.8 1.5 7.3 1.4 11 2.6 7.2 1.4 12.2 3.4 10.9 4.5 9.1 2.4 4.3 1.5 3 1.3 4.8 2.7 9.7 6.8 6.7 4.2 1.2 .4 1.3 .1 .6-.1 1.2-1 .6-.3 .6 .4 .6 1.2 .6 4 2.4 20.5 1.2 4.5 .6 2.8 1.3 8.1 .6 2.2 1.8-2.6 1.8-2 .6-.5 .6-.1 .6 .1 1.2 .7 3.1 2.7 4.2 4.7 3.1 3 3 2.7"/><path d="M43.4 165.1l9.1-.9 8.5-1.4 4.3-.6 2.4 0 4.3 .5 2.4-.2 5.5-1.4 9.1-2.9 2.4-.9 1.8-1 .6-.8 .6-1.3 .6-1.7 .6-2.7 5.5-33.3 .6-2.9 1.2-4 .6-.5 .6-.1 .6-.5 1.3-1.6 2.4-2.6 3.6-3.2 3.7-2.2 1.2-.5 1.8-.3 1.2 .2 1.8 .4 7.9 2.5 4.3 1.1 6.6 1 13.4 1.5 3 .4 3.7 .9 6.6 1.8 8.5 2.7 3.7 .9 3 .6 8.5 1 7.9 1.6 4.9 1.3 6 2.1 4.9 1.9 3.6 1.8 1.8 .7 1.3 .1 1.8-.4 .6 .3 .6 1 3 18.7 1.2 3 .6 2.1 1.3 6.3 .6 1.6 1.8-2.1 1.8-1.7 .6-.4 .6-.2 .6 .1 1.2 .6 3.1 2 4.2 3.9 6.1 4.7"/><path d="M43.4 171.8l9.1-.9 12.8-2 2.4 0 4.3 .4 2.4-.2 5.5-1.5 10.3-3.2 2.4-1.1 .6-.6 1.2-2.9 .6-2.4 .6-3.7 3.1-23.9 3.6-31.3 .6-2.8 3.1-5.4 3-4.4 2.4-3.1 2.4-2.5 1.9-1.6 1.2-.7 1.8-.4 1.2 .1 1.8 .5 9.7 3.1 8.5 2.1 11 3.8 6.6 1.9 11.6 3.7 3 1.2 10.9 5.3 21.3 8.4 7.9 3.9 6.6 3.7 1.9 .5 .6 0 1.2-.7 .6-.2 .6 .4 .6 1.1 3 20.1 1.2 2.8 .6 2.3 1.3 7.3 .6 1.9 1.8-2.6 1.8-2.1 .6-.4 .6-.2 .6 .2 1.2 .6 3.1 2.6 4.2 4.7 6.1 5.7"/><path d="M43.4 168.2l8.5-.9 9.1-1.6 4.3-.6 2.4 0 4.3 .5 2.4-.1 5.5-1.4 9.1-2.8 2.4-.9 1.2-.6 .6-.7 .6-1.3 .6-1.5 .6-2.4 1.2-7.3 4.9-32.6 1.2-5.6 .6-1.2 1.2-.9 2.5-2.9 4.8-5 2.4-1.8 1.9-1.2 1.2-.5 1.8-.4 1.2 .1 10.3 2.2 9.1 1.5 18.2 4.5 11.6 3.6 6.6 2.5 3.7 1.2 3 .8 7.9 1.5 7.3 2.2 4.8 1.8 16.4 7.2 1.9 .4 .6-.1 1.8-.7 .6 .3 .6 .9 2.4 14 .6 2.8 1.2 2.1 .6 1.8 1.3 6.3 .6 1.7 1.8-2.4 1.8-1.9 .6-.5 .6-.1 .6 .1 1.2 .6 3.1 2.4 4.2 4.3 6.1 5.2"/><path d="M43.4 166.4l9.8-.9 12.1-1.8 2.4-.1 4.3 .4 1.8-.1 2.4-.6 13.4-3.9 1.8-.6 2.4-1.1 .6-.7 .6-1.1 .6-1.5 .6-2.3 5.5-31.1 .6-2.8 1.2-3.3 .6-.4 .6 0 3.7-4 3.6-3 2.4-1.5 1.9-.9 1.8-.4 1.2-.1 9.1 1.2 10.9 1.1 18.8 3.5 10.4 2.4 6.6 1.8 4.9 1.2 10.9 1.8 10.3 2.2 9.1 2.7 8.5 3 1.9 .3 .6 0 1.8-.6 .6 .3 .6 .8 .6 2.9 1.8 11.6 .6 3.1 1.2 2.9 .6 1.9 1.3 6 .6 1.6 1.8-2.1 1.8-1.6 .6-.4 .6-.1 .6 .1 1.2 .4 3.1 2 4.2 3.7 6.1 4.5"/><path d="M43.4 165.3l9.1-1 12.8-2.1 2.4-.1 4.3 .4 2.4-.2 5.5-1.6 10.3-3.5 2.4-1 .6-.7 .6-1.3 .6-1.8 .6-2.7 .6-4.1 3.7-34.3 3-31.7 .6-4.4 .6-2 2.5-5.8 3-6.1 2.4-4.1 2.4-3.3 1.9-2.1 1.2-.9 1.8-.6 1.2 .1 9.7 3.8 9.7 3.1 6.7 2.9 4.9 2.4 6.6 2.8 3.7 2 7.3 4.3 6.6 4.6 4.9 3 3 1.5 4.9 1.9 3 1.4 6.1 3.1 4.2 2.5 3.1 2 4.8 3.5 5.5 4 3 2.5 1.2 .7 1.9 .7 .6-.1 1.2-1 .6-.3 .6 .5 .6 1.5 3 24.5 1.2 3.8 .6 2.8 1.3 9.1 .6 2.4 1.8-3 1.8-2.5 .6-.6 .6-.2 .6 .2 1.2 .7 3.1 3 4.2 5.6 6.1 6.7"/><path d="M43.4 163.4l9.1-1 8.5-1.5 4.3-.6 2.4 0 4.3 .5 2.4-.2 5.5-1.5 9.7-3.1 2.4-1 .6-.5 .6-1 .6-1.6 .6-2.1 .6-3.2 6.7-53.1 .6-3.8 .6-1.7 1.2-1.7 1.9-3.4 3.6-5.9 2.4-3.6 2.4-2.8 1.3-1.2 1.2-.8 1.8-.6 1.2 .1 1.8 .5 3.7 1.2 5.4 1.5 8.5 2 6.1 2.2 5.5 2.1 7.2 2.5 10.4 4.7 7.2 3.9 3.7 1.7 3 1.1 5.5 1.3 2.4 .8 3.7 1.4 4.2 1.9 5.5 3.1 15.1 10.1 1.9 .5 .6 0 1.2-.9 .6-.2 .6 .5 .6 1.3 3 22 1.2 3.2 .6 2.5 1.3 7.8 .6 2.1 1.8-2.8 1.8-2.3 .6-.5 .6-.2 .6 .1 1.2 .7 3.1 2.7 4.2 5 6.1 6.1"/><path d="M43.4 168.2l8.5-.9 9.1-1.6 4.3-.6 2.4 0 4.3 .4 2.4-.2 5.5-1.5 9.7-3 1.8-.6 1.2-.7 .6-.7 .6-1.2 .6-1.7 .6-2.4 1.8-11.8 4.3-30.2 1.2-6.7 .6-1.5 1.2-1.1 2.5-3.4 4.8-5.5 2.4-2.2 1.9-1.3 1.2-.6 1.8-.4 1.2 .1 6.1 1 10.3 1.3 2.4 .4 3.7 1.1 7.9 2.5 6.6 2 3.1 1 8.5 3.4 6.6 3.1 6.1 2.4 9.1 2.6 11.5 3.8 9.1 3.8 7.9 3.8 1.9 .5 .6-.1 1.8-.7 .6 .4 .6 .9 3 18 1.2 2.5 .6 2 1.3 6.6 .6 1.7 1.8-2.3 1.8-2 .6-.4 .6-.1 .6 .1 1.2 .6 3.1 2.4 4.2 4.3 6.1 5.3"/><path d="M43.4 169.9l9.1-1 8.5-1.4 4.3-.6 2.4 0 4.3 .5 2.4-.2 5.5-1.5 9.7-3.3 3-1.3 .6-.5 .6-1.1 .6-1.5 .6-2.1 .6-3.2 1.9-13.3 4.2-34.3 .6-4.4 .6-3.2 .6-1.5 3.1-5.1 2.4-3.5 2.4-3.1 2.4-2.5 1.9-1.5 1.2-.7 1.8-.5 1.2 .1 6.7 1.1 10.3 1.1 3.6 .9 11.6 4.4 18.2 5.3 12.1 5.1 19.4 6.9 3.7 1.6 4.8 2.3 4.3 2.3 3.6 2.3 1.2 .5 1.3 .4 .6-.1 1.2-.7 .6-.2 .6 .5 .6 1.1 .6 3.7 1.8 14.4 .6 3.8 1.2 3.4 .6 2.4 1.3 7.4 .6 1.9 1.8-2.6 1.8-2.1 .6-.5 .6-.1 .6 .1 1.2 .6 3.1 2.5 4.2 4.6 6.1 5.7"/><path d="M43.4 163.5l7.9-.8 9.7-1.7 3.7-.5 2.4-.1 5.5 .6 1.8-.1 5.5-1.4 7.8-2.5 3.1-1 2.4-1.2 .6-.6 .6-1.2 .6-1.5 .6-2.3 6.1-37.8 1.2-5.1 .6-1.1 .6-.2 .6-.4 1.3-1.8 2.4-3.1 3.6-3.6 3.7-2.6 1.2-.5 1.8-.3 1.2 .1 1.8 .4 9.7 2.3 7.9 1.4 11.6 3 18.2 4.2 11.5 3.6 10.3 2.2 10.3 2.9 3.7 1.3 5.4 2.3 4.3 1.8 3.6 1.9 1.2 .4 1.3 .3 .6-.1 1.8-.6 .6 .3 .6 1 .6 3.3 1.8 12.8 .6 3.5 1.2 3.3 .6 2.2 1.3 6.6 .6 1.8 1.8-2.2 1.8-1.8 .6-.4 .6-.1 .6 .1 1.2 .5 3.1 2.1 4.2 4 6.1 4.8"/><path d="M43.4 172.5l9.1-.9 8.5-1.5 4.3-.7 2.4 0 4.3 .4 2.4-.2 5.5-1.5 9.7-3.2 3-1.2 .6-.6 .6-1.1 .6-1.7 .6-2.4 1.2-8.5 3.1-29.3 3-33.5 .6-5.1 .6-2.8 1.8-4.8 1.3-2.7 2.4-4.8 2.4-4.1 2.4-3.4 1.9-2.1 1.2-.9 1.8-.6 1.2 .2 1.8 .6 3.7 1.4 5.4 1.9 8.5 2.5 15.8 5.6 3 1.3 11.6 5.9 6 4.1 6.1 3.7 7.3 3.4 14 7 8.4 5.5 3.1 2.1 3.6 3.1 1.2 .8 1.3 .5 .6 0 1.2-.8 .6-.2 .6 .6 .6 1.5 3 24.1 1.2 3.7 .6 2.8 1.3 8.6 .6 2.4 1.8-2.9 1.8-2.4 .6-.6 .6-.1 .6 .1 1.2 .8 3.1 2.8 4.2 5.3 6.1 6.4"/><path d="M43.4 170.6l8.5-.9 9.1-1.6 4.3-.6 2.4 0 4.3 .4 2.4-.1 5.5-1.6 9.7-3.2 3.6-1.6 .6-.6 1.2-3 .6-2.4 .6-3.9 3.1-23.5 2.4-20.8 1.2-9.3 .6-2.5 2.5-4.5 1.2-1.9 1.8-2.7 2.4-2.9 2.4-2.3 1.9-1.4 1.2-.7 1.8-.4 1.2 .1 8.5 2 8.5 1.3 2.4 .5 3.7 1.1 9.1 3.2 18.2 4.7 10.9 4.4 9.1 2.8 10.9 4.2 3.1 1.4 6 3.3 8.5 5 1.9 .5 .6 0 1.2-.8 .6-.2 .6 .5 .6 1.2 .6 3.7 2.4 19 1.2 4 .6 2.6 1.3 7.6 .6 2 1.8-2.4 1.8-2 .6-.4 .6-.1 .6 .1 1.2 .6 3.1 2.3 4.2 4.4 6.1 5.3"/><path d="M43.4 165.7l9.8-1 12.1-2 2.4 0 4.3 .4 2.4-.2 5.5-1.6 9.7-3.1 2.4-.9 .6-.5 .6-1 .6-1.4 .6-2 .6-3 6.1-46.3 1.2-7.8 .6-1.6 1.2-1.5 1.9-3.2 3.6-5.5 2.4-3.3 2.4-2.6 1.3-1.2 1.2-.7 1.8-.5 1.2 .1 1.8 .5 6.7 2.5 4.3 1.3 7.8 1.7 11 3.3 18.8 4.4 3 1.2 8.5 3.7 7.9 2.7 11.5 4.6 3.1 1.5 4.8 2.6 9.7 5.8 1.9 .4 .6-.1 1.2-.8 .6-.2 .6 .4 .6 1.2 .6 3.8 1.8 14.9 .6 4 1.2 3.7 .6 2.5 1.3 7.7 .6 2 1.8-2.6 1.8-2.1 .6-.5 .6-.1 .6 .1 1.2 .7 3.1 2.6 4.2 4.8 6.1 5.8"/><path d="M43.4 165.3l9.1-1 8.5-1.5 4.3-.6 2.4 0 4.3 .5 2.4-.2 5.5-1.6 9.1-3.1 2.4-1 1.2-.7 .6-.7 .6-1.1 .6-1.5 .6-2.1 3.1-16.4 2.4-12 .6-2.4 1.2-1.6 .6 0 .6 .4 .6 .1 4.9-3.4 3.6-2.1 3.1-1.4 1.2-.3 1.8-.2 9.1 .8 11.5 .8 29.2 3.8 12.1 2.4 9.1 1.2 7.3 1.4 4.2 1.1 10.3 3.3 6.7 1.8 2.5 .2 2.4-.7 .6 .1 .6 .7 .6 2.8 1.8 11.2 .6 3 1.2 2.8 .6 1.9 1.3 5.7 .6 1.5 1.8-2 1.8-1.6 .6-.3 .6-.1 .6 .1 1.2 .5 3.1 1.9 4.2 3.6 6.1 4.3"/><path d="M43.4 169.2l8.5-.9 9.1-1.6 4.3-.6 2.4 0 4.3 .5 2.4-.2 5.5-1.5 9.7-2.9 3-1.2 .6-.5 .6-.9 .6-1.5 .6-1.9 .6-3.1 1.9-12.7 4.2-32.8 1.2-7.2 .6-1.4 1.2-1.7 1.9-3.1 2.4-3.4 2.4-3 2.4-2.4 1.9-1.5 1.2-.6 1.8-.5 1.2 0 9.7 2.1 9.7 1.5 3.7 .9 7.9 2.5 7.9 1.9 10.3 2.8 11.5 4.3 9.7 2.4 4.9 1.5 3 1.2 4.2 2 9.8 5.6 5.4 3 1.2 .5 1.9 .4 .6-.2 1.2-.8 .6-.2 .6 .4 .6 1 .6 3.7 2.4 18.4 1.2 3.9 .6 2.6 1.3 7.3 .6 1.9 1.8-2.3 1.8-2 .6-.4 .6-.1 .6 .1 1.2 .5 3.1 2.3 4.2 4.3 6.1 5.1"/><path d="M43.4 170.1l9.1-.9 12.8-1.9 2.4 0 4.3 .4 2.4-.2 5.5-1.4 9.7-2.9 2.4-.9 .6-.5 .6-.9 .6-1.5 .6-2.1 .6-3.1 2.5-19.3 4.2-38.8 .6-4.5 .6-2.3 3.1-5.4 3-4.4 2.4-3.3 2.4-2.5 1.9-1.7 1.2-.7 1.8-.4 6.1 .7 10.3 .1 1.8 .3 2.4 .7 3.7 1.6 7.3 3.9 2.4 1.2 17.6 6.7 13.3 7.2 11 5.1 7.2 2.9 3.1 1.3 7.3 3.9 6.6 4.3 1.9 .6 .6 0 1.2-.8 .6-.2 .6 .5 .6 1.3 3 21.9 1.2 3.4 .6 2.5 1.3 7.9 .6 2.2 1.8-2.7 1.8-2.1 .6-.5 .6-.2 .6 .2 1.2 .6 3.1 2.6 4.2 4.9 6.1 5.8"/><path d="M43.4 169.3l9.1-1 8.5-1.4 4.3-.6 2.4-.1 4.3 .5 2.4-.2 5.5-1.5 9.7-3.1 2.4-1 .6-.5 .6-1.2 .6-1.7 .6-2.3 .6-3.7 1.2-10.1 1.9-17.3 3.6-37.9 .6-4.8 .6-2.5 3.1-6.5 4.2-7.5 1.8-2.8 2.4-3.1 1.3-1.3 1.2-.9 1.8-.5 1.2 .1 1.8 .7 4.9 2.2 4.8 2 9.1 2.8 17.6 6.6 10.4 5.2 7.2 4.5 4.3 2.3 2.4 1 5.5 1.7 3 1.2 3.7 1.7 4.8 2.5 2.4 1.4 3.1 2 9.7 6.9 3 2.4 1.2 .8 1.9 .7 .6-.1 1.2-1 .6-.2 .6 .5 .6 1.4 3 24.3 1.2 3.8 .6 2.8 1.3 8.6 .6 2.4 1.8-3 1.8-2.4 .6-.5 .6-.2 .6 .1 1.2 .8 3.1 2.8 4.2 5.3 6.1 6.5"/><path d="M43.4 164.4l9.8-.9 12.1-1.9 2.4 0 4.3 .4 2.4-.2 5.5-1.5 9.1-3 2.4-.9 2.4-1.1 .6-.7 .6-1.2 .6-1.5 .6-2.3 5.5-31.4 .6-2.9 1.2-3.6 .6-.4 .6 0 3.7-4.3 3.6-3 3.7-2.3 1.2-.4 1.8-.3 3 .4 9.7 2 8.5 1.2 11 2 7.2 1.2 10.4 2.4 7.2 2.1 4.3 .9 3 .5 6.1 .5 4.2 .7 6.1 1.5 4.3 1.3 9.7 3.8 5.4 2.3 1.9 .5 .6 0 1.8-.5 .6 .3 .6 .8 .6 3.2 1.8 12.1 .6 3.2 1.2 3.2 .6 2.1 1.3 6.1 .6 1.7 1.8-2 1.8-1.7 .6-.4 .6-.1 .6 .1 1.2 .5 3.1 2 4.2 3.6 6.1 4.4"/><path d="M43.4 164.2l9.1-1 8.5-1.6 4.3-.7 2.4 0 4.3 .5 2.4-.2 5.5-1.7 9.7-3.4 3.6-1.8 .6-.6 .6-1.2 .6-1.6 .6-2.4 .6-3.7 5.5-42.8 1.2-9 .6-2.9 1.2-1.8 1.3-2.5 1.8-3.1 1.2-1.8 2.4-2.9 2.4-2.3 1.9-1.4 1.2-.6 1.8-.4 1.2 .1 7.3 1.7 9.1 1.4 2.4 .5 4.3 1.3 7.9 2.8 9.7 2.9 9.1 3.3 6 2.8 4.9 2.1 2.4 .9 7.3 2.1 9.7 3.8 3.7 1.8 5.4 3.1 5.5 3.3 3 2.1 1.2 .7 1.9 .5 .6-.1 1.2-.8 .6-.2 .6 .4 .6 1.3 .6 3.9 2.4 19.5 1.2 4 .6 2.7 1.3 7.9 .6 2.1 1.8-2.6 1.8-2 .6-.5 .6-.1 .6 .1 1.2 .7 3.1 2.5 4.2 4.7 6.1 5.6"/><path d="M43.4 171.4l9.1-.9 12.8-2.1 2.4 0 4.3 .5 2.4-.2 5.5-1.6 9.7-3.1 3.6-1.6 .6-.5 1.2-2.4 .6-1.9 .6-3 3.1-19.8 2.4-17.1 1.2-6.3 .6-1.9 1.2-1.4 1.9-2.6 1.8-2.1 3-2.9 2.4-1.8 1.9-1.1 1.2-.5 1.8-.3 1.2 0 8.5 1.4 11.5 1.2 6.1 1 10.9 2.2 4.9 1.6 12.1 4.9 3.7 1.3 4.2 1.1 6.7 1 3 .6 9.7 2.8 9.7 3.9 7.9 3.6 1.9 .4 .6 0 1.8-.5 .6 .3 .6 .9 3 17.8 1.2 2.7 .6 2 1.3 6.3 .6 1.7 1.8-2.2 1.8-1.7 .6-.4 .6-.2 .6 .1 1.2 .6 3.1 2.1 4.2 3.9 6.1 4.7"/><path d="M43.4 172.3l9.1-.9 8.5-1.4 4.3-.6 2.4 0 4.3 .5 2.4-.2 5.5-1.4 10.9-3.4 3-1.4 .6-.8 1.2-3.3 .6-2.8 .6-4.1 3.1-24.9 3-27.8 .6-4.9 .6-2.6 1.9-4.5 1.2-2.5 1.8-3.3 2.4-3.6 2.4-3 1.9-1.8 1.2-.8 1.8-.6 1.2 .2 1.8 .6 9.7 3.8 7.9 2.6 11.6 5.1 18.2 6.9 7.3 3.6 4.2 1.9 2.4 .8 6.7 2 7.9 3.2 4.2 1.9 3.7 1.9 9.1 5.2 4.2 2.7 1.9 .6 .6 0 1.2-.7 .6-.1 .6 .4 .6 1.2 3 20.8 1.2 3.4 .6 2.4 1.3 7.7 .6 2.1 1.8-2.5 1.8-1.9 .6-.5 .6-.1 .6 .1 1.2 .6 3.1 2.4 4.2 4.5 6.1 5.3"/><path d="M43.4 166.9l7.9-.8 9.7-1.7 4.3-.5 2.4 0 4.3 .4 2.4-.2 5.5-1.4 10.3-3.1 3-1.2 .6-.5 1.2-2.5 .6-2.1 .6-3.2 5.5-36.8 1.2-6.2 .6-1.8 1.2-1.1 1.9-2.9 1.8-2.3 3.6-3.7 3.7-2.8 1.2-.5 1.8-.4 1.2 .1 1.8 .5 11 3.2 7.8 1.6 18.3 4.4 9.7 3.1 6.6 2.6 5.5 1.8 9.1 2.3 15.8 4.5 6.7 2.4 3 1.4 3 1.6 1.2 .5 1.3 .3 .6 0 1.8-.6 .6 .3 .6 1 3 18.5 1.2 2.9 .6 2.1 1.3 6.5 .6 1.7 1.8-2.2 1.8-1.8 .6-.5 .6-.1 .6 .1 1.2 .5 3.1 2.1 4.2 3.9 6.1 5"/><path d="M43.4 164.3l9.8-.9 12.1-1.9 2.4 0 4.3 .3 1.8-.1 6.1-1.7 9.7-3 2.4-.9 1.2-.8 .6-1 .6-1.6 .6-2.3 .6-3.4 3.7-32.4 3-29.9 .6-5.1 .6-2.5 3.7-8.2 1.8-3.5 2.4-4.1 2.4-3.2 1.9-2 1.2-.8 1.8-.6 .6 .1 1.2 .3 5.5 2.3 4.8 1.7 2.5 .7 4.8 1.1 2.4 .8 9.8 3.6 8.5 2.7 10.9 4 10.9 5.7 2.4 1 4.9 1.6 2.4 1 4.9 2.2 3.6 1.9 4.9 3.2 11.5 8.9 2.4 2 1.2 .8 1.9 .6 .6-.1 1.2-1.1 .6-.3 .6 .6 .6 1.4 .6 4.5 1.8 17.6 .6 4.7 1.2 4.4 .6 3 1.3 8.9 .6 2.4 1.8-3.1 1.8-2.5 .6-.6 .6-.1 .6 .1 1.2 .7 3.1 2.8 4.2 5.4 6.1 6.6"/><path d="M43.4 170.5l8.5-.8 9.1-1.6 4.3-.5 2.4 0 4.3 .5 2.4-.1 5.5-1.4 9.7-3 3.6-1.5 .6-.7 1.2-3.2 .6-2.7 .6-4.2 3.1-26.9 3.6-36.6 .6-3.5 3.1-7.4 2.4-4.6 2.4-3.8 2.4-3 1.9-1.9 1.2-.8 1.8-.6 1.2 .2 1.8 .6 5.5 2.2 4.8 1.8 8.5 2.3 9.8 3.7 7.8 2.6 10.4 4 3 1.4 10.3 5.6 18.2 8.1 3.7 1.8 7.8 4.7 3.1 2 3.6 2.9 1.2 .7 1.3 .4 .6 0 1.2-.8 .6-.2 .6 .6 .6 1.4 .6 4.1 1.8 15.8 .6 4.3 1.2 4 .6 2.7 1.3 8.3 .6 2.2 1.8-2.7 1.8-2.2 .6-.5 .6-.1 .6 .1 1.2 .7 3.1 2.6 4.2 4.9 6.1 6"/><path d="M43.4 163.6l8.5-.9 9.1-1.5 4.3-.6 2.4 0 4.3 .5 2.4-.1 5.5-1.4 9.1-2.7 3.6-1.3 .6-.5 .6-1 .6-1.2 .6-1.8 3.1-15.4 3-13.7 1.2-1 .6 .2 1.2 .9 .6-.3 1.3-.9 3-1.8 3.6-1.9 3.7-1.4 3-.3 17 1.3 3 .3 14.6 3 6.1 .8 10.9 1.2 10.3 2 8.5 1.2 6.7 1.1 6 1.3 16.4 4.1 1.9 .2 2.4-.4 .6 .2 .6 .5 .6 2.6 1.8 9.8 .6 2.6 1.2 2.3 .6 1.8 1.3 5.4 .6 1.4 1.8-1.8 1.8-1.5 .6-.4 .6 0 .6 0 1.2 .5 3.1 1.8 4.2 3.3 6.1 4.1"/><path d="M43.4 164.3l8.5-.8 9.1-1.6 4.3-.5 2.4 0 4.3 .4 2.4-.2 5.5-1.4 9.1-2.8 2.4-.8 1.2-.7 .6-.9 .6-1.4 .6-1.9 .6-3 1.8-13.3 4.3-33.8 1.2-8.4 .6-1.8 1.2-1.6 2.5-4.3 4.8-7.3 2.4-2.8 1.9-1.7 1.2-.8 1.8-.5 1.2 .1 5.5 1.7 5.4 1.4 7.3 1.6 3.7 1.2 9.1 3.7 7.9 2.6 9.7 3.6 2.4 1.1 4.8 2.3 4.3 1.8 2.4 .9 7.9 2 7.9 3.1 3.6 1.6 3.1 1.6 9.7 5.8 3 2 1.2 .7 1.9 .6 .6-.1 1.2-.8 .6-.2 .6 .4 .6 1.3 .6 3.7 1.8 14.7 .6 3.8 1.2 3.6 .6 2.5 1.3 7.7 .6 2 1.8-2.6 1.8-2.2 .6-.5 .6-.2 .6 .1 1.2 .7 3.1 2.5 4.2 4.7 6.1 5.8"/><path d="M43.4 163.5l9.1-.9 12.8-2.2 2.4 0 4.3 .4 2.4-.3 5.5-1.6 9.7-3.4 2.4-1 1.2-.8 .6-.9 .6-1.4 .6-1.8 .6-2.8 5.5-33.1 1.2-5.2 .6-1.7 .6-.5 .6-.1 .6-.5 1.3-1.8 2.4-3.1 3.6-3.8 3.7-2.9 1.2-.5 1.8-.4 1.2 .1 1.8 .4 6.7 2 4.3 1.1 7.8 1.5 9.8 2.3 7.8 1.6 9.1 2.1 3.1 .8 5.4 1.7 4.9 1.4 7.9 1.6 3.6 .8 5.5 1.6 4.2 1.5 17 7.6 1.9 .3 .6 0 1.8-.8 .6 .4 .6 .9 .6 3.2 1.8 12.6 .6 3.4 1.2 3.2 .6 2.2 1.3 6.6 .6 1.8 1.8-2.2 1.8-1.7 .6-.4 .6-.2 .6 .1 1.2 .6 3.1 2.1 4.2 3.9 6.1 4.8"/><path d="M43.4 170l9.1-1 8.5-1.6 4.3-.6 2.4 0 4.3 .5 2.4-.2 6.1-1.8 9.1-3.3 3.6-1.7 .6-.6 .6-1.1 .6-1.6 .6-2.2 .6-3.4 3.1-23.1 2.4-20 1.2-9 .6-3.1 3.1-5.7 1.8-2.7 2.4-3 1.8-1.8 3.1-2.5 1.2-.6 1.8-.3 1.2 .1 10.3 3 9.7 2.2 11 3.6 7.9 2.4 10.9 4 6 2.8 4.9 2 2.4 .8 7.3 1.9 7.9 2.9 4.9 2.3 14.5 8.1 1.2 .6 1.9 .4 .6-.1 1.2-.7 .6-.3 .6 .4 .6 1.1 3 19.9 1.2 2.9 .6 2.2 1.3 7.3 .6 1.9 1.8-2.5 1.8-2.1 .6-.4 .6-.1 .6 .1 1.2 .7 3.1 2.6 4.2 4.7 3.1 2.9 3 2.7"/><path d="M43.4 171.9l9.1-.9 8.5-1.4 4.3-.5 2.4 0 4.3 .4 2.4-.1 5.5-1.4 9.1-2.7 3.6-1.4 .6-.5 1.2-2.2 .6-1.8 .6-2.8 3.1-18.2 2.4-15.5 1.2-4.3 .6-1.1 1.2-.5 2.5-2.2 4.8-3.5 4.3-2.2 1.2-.3 1.8-.3 17 2.3 3.6 .6 15.2 4.3 6.1 1.4 9.7 1.9 11.5 3.3 23.1 5.3 7.9 2.1 6 1.9 1.9 .4 2.4-.4 .6 .2 .6 .7 2.4 11.4 .6 2.3 1.2 1.6 .6 1.5 1.3 5.6 .6 1.5 1.8-2 1.8-1.6 .6-.3 .6-.1 .6 .1 1.2 .5 3.1 2 4.2 3.7 6.1 4.4"/><path d="M43.4 165.5l9.1-1 8.5-1.6 4.3-.6 2.4-.1 4.3 .4 2.4-.2 5.5-1.7 9.7-3.3 2.4-1.1 1.2-.8 .6-.9 .6-1.5 .6-2 .6-3.1 5.5-40.5 1.2-8.3 .6-3.1 .6-1.4 1.2-1.6 1.3-2.3 1.2-1.9 1.8-2.7 2.4-3 2.4-2.5 1.9-1.6 1.2-.6 1.8-.5 1.8 .3 10.3 2.9 9.1 2 11 3.6 18.2 5.5 3 1.2 9.7 4.4 19.4 7 3.7 1.4 4.2 2 3.7 1.9 2.4 1.4 3 2.1 1.2 .6 1.3 .5 .6 0 1.2-.6 .6-.1 .6 .5 .6 1.2 3 20.7 1.2 2.9 .6 2.3 1.3 7.2 .6 1.9 1.8-2.5 1.8-2.2 .6-.4 .6-.2 .6 .1 1.2 .7 3.1 2.5 4.2 4.6 6.1 5.7"/><path d="M43.4 167.6l8.5-.9 9.1-1.6 4.3-.6 2.4 0 4.3 .5 2.4-.1 5.5-1.4 9.7-3.1 3.6-1.6 .6-.5 .6-1.2 .6-1.7 .6-2.3 .6-3.7 3.1-25 3.6-32.9 .6-3.9 .6-1.8 2.5-5.5 2.4-4.6 2.4-3.8 2.4-3 1.9-1.8 1.2-.8 1.8-.6 1.2 .1 1.8 .6 5.5 2.2 4.8 1.7 8.5 2.2 10.4 3.8 7.2 2.1 11 3.7 2.4 1 9.7 4.7 8.5 2.9 14 5.7 4.2 2.2 3.6 2.1 3.1 2 3.6 3 1.8 1 .7 .2 .6 0 1.2-.7 .6-.2 .6 .6 .6 1.4 .6 4.1 1.8 16.1 .6 4.2 1.2 3.9 .6 2.7 1.3 8.1 .6 2.2 1.8-2.8 1.8-2.2 .6-.6 .6-.1 .6 .1 1.2 .7 3.1 2.6 4.2 4.9 6.1 6"/><path d="M43.4 170.1l8.5-.9 4.3-.7 4.8-1 4.3-.7 2.4 0 4.3 .5 2.4-.1 5.5-1.6 9.7-3.2 3.6-1.6 .6-.5 .6-1.2 .6-1.7 .6-2.4 .6-3.7 1.3-10 1.8-17.2 3.6-37.6 .6-5 .6-2.5 1.9-5 1.2-2.8 1.8-3.7 2.4-4.1 2.4-3.2 1.9-2.1 1.2-.8 1.8-.6 1.2 .1 1.8 .7 4.3 1.8 5.4 2.1 9.1 2.9 9.8 3.9 7.2 2.5 9.7 4.3 3.7 1.8 10.9 6.6 7.3 3.5 13.3 6.8 8.5 5.4 7.9 5.6 1.9 .6 .6-.1 1.2-.9 .6-.3 .6 .6 .6 1.4 3 23.8 1.2 3.6 .6 2.7 1.3 8.6 .6 2.4 1.8-3 1.8-2.4 .6-.6 .6-.1 .6 .1 1.2 .8 3.1 3 4.2 5.5 3.1 3.4 3 3.1"/><path d="M43.4 170.7l9.1-.9 12.8-2.1 2.4 0 4.3 .4 2.4-.2 5.5-1.6 9.1-2.9 1.8-.6 1.8-.9 .6-.7 .6-1.1 .6-1.5 .6-2.2 1.8-10.8 4.3-27.8 1.2-4.8 .6-1.1 1.2-.6 2.5-2.5 4.8-4 4.3-2.5 1.2-.4 1.8-.3 6.7 .7 10.9 .5 4.9 .9 9.7 2.5 7.9 1.8 9.1 2.4 10.9 3.3 3.6 .7 7.3 .9 4.9 1 4.8 1.4 3.7 1.3 15.7 6.4 1.9 .4 .6 0 1.8-.5 .6 .3 .6 .8 .6 3 1.8 11.4 .6 3.1 1.2 2.9 .6 2.1 1.3 6.1 .6 1.7 1.8-2 1.8-1.6 .6-.4 .6-.1 .6 .1 1.2 .5 3.1 1.9 4.2 3.6 6.1 4.4"/><path d="M43.4 164.2l10.4-.9 11.5-1.6 2.4 0 4.3 .3 2.4-.2 5.5-1.4 9.1-2.8 2.4-.8 1.8-.9 .6-.6 .6-1 .6-1.4 .6-2.1 5.5-29.8 .6-2.8 1.2-2.7 .6-.3 .6 .2 .6-.1 1.9-1.9 1.8-1.7 2.4-1.9 1.8-1.2 3.1-1.6 1.2-.4 1.8-.3 3 .4 9.1 1.5 9.1 1 11.6 1.9 18.8 2.5 10.3 2.3 9.1 1.6 9.1 2 4.9 1.3 15.1 5 1.9 .2 .6-.1 1.8-.6 .6 .2 .6 .7 .6 3 1.8 11.8 .6 3.1 1.2 3.1 .6 2 1.3 6 .6 1.6 1.8-2 1.8-1.6 .6-.4 .6-.1 .6 .1 1.2 .5 3.1 1.9 4.2 3.6 6.1 4.4"/><path d="M43.4 166.9l9.1-1 8.5-1.6 4.3-.7 2.4 0 4.3 .5 2.4-.2 5.5-1.7 9.1-3.2 2.4-1 1.2-.8 .6-.9 .6-1.3 .6-1.7 .6-2.7 5.5-32 .6-2.6 .6-1.8 .6-1.3 .6-.2 .6 0 .6-.2 2.5-2.1 3.6-2.7 1.8-1.2 3.7-1.8 1.2-.3 1.8-.3 6.7 .6 10.9 .4 3.6 .5 11.6 3 17.6 3.4 10.3 2.6 3 .5 7.3 .9 5.5 1.1 5.4 1.4 3.7 1.1 9.7 3.5 4.8 2 1.9 .4 .6 0 1.8-.5 .6 .3 .6 .8 3 17.5 1.2 2.7 .6 2 1.3 5.9 .6 1.6 1.8-2.1 1.8-1.7 .6-.4 .6-.1 .6 .1 1.2 .4 3.1 2 4.2 3.6 6.1 4.6"/><path d="M43.4 170.8l8.5-.8 9.1-1.5 4.3-.6 2.4 0 4.3 .5 2.4-.2 5.5-1.4 9.1-2.7 2.4-.8 1.2-.7 .6-1 1.2-3.7 .6-3.1 .6-4.5 3.1-27.6 3-31.2 .6-5.3 .6-2.8 3.1-6.7 3.6-6.6 2.4-3.9 2.4-3.2 1.3-1.3 1.2-.8 1.8-.7 1.2 .2 1.8 .7 7.3 3.3 4.3 1.7 7.2 1.8 11.6 4 9.1 2.5 7.3 1.7 2.4 .7 2.4 1.1 8.5 4.2 7.3 2.8 14 6.1 4.2 2.5 4.2 2.7 3.1 2.1 3.6 3 1.2 .7 1.3 .5 .6 0 1.2-.9 .6-.2 .6 .6 .6 1.5 .6 4.4 1.8 17.2 .6 4.6 1.2 4.3 .6 2.9 1.3 8.5 .6 2.3 1.8-2.9 1.8-2.4 .6-.5 .6-.1 .6 .1 1.2 .8 3.1 2.9 4.2 5.3 3.1 3.3 3 3.1"/><path d="M43.4 165.7l9.1-.8 12.8-1.9 2.4-.1 4.3 .4 2.4-.2 5.5-1.4 9.7-2.9 3-1.1 .6-.6 .6-1.1 .6-1.5 .6-2.2 .6-3.3 5.5-42.6 1.2-8.9 .6-3 .6-1.3 .6-.8 2.5-4 2.4-3.4 2.4-2.8 2.4-2.3 1.9-1.4 1.2-.6 1.8-.4 1.2 .1 8.5 2 8.5 1.4 2.4 .5 3.7 1.2 9.1 3.3 18.2 4.9 10.3 4.2 9.7 2.9 10.9 4.3 3.1 1.4 5.4 3 4.9 2.8 3.6 2.4 1.2 .6 1.3 .3 .6 0 1.2-.7 .6-.2 .6 .5 .6 1.2 .6 3.8 2.4 19.1 1.2 4.1 .6 2.6 1.3 7.7 .6 2 1.8-2.4 1.8-1.9 .6-.5 .6-.1 .6 .1 1.2 .6 3.1 2.3 4.2 4.3 6.1 5.3"/><path d="M43.4 166.8l8.5-.9 9.1-1.7 4.3-.6 2.4 0 4.3 .5 2.4-.2 5.5-1.5 9.1-2.9 2.4-.9 1.8-.9 .6-.7 .6-1.1 .6-1.6 .6-2.2 6.1-38 1.2-4.9 .6-1.1 .6-.2 .6-.4 1.3-1.8 2.4-2.8 3-2.8 2.4-1.8 1.9-1.1 1.2-.5 1.8-.3 1.2 0 10.3 2.1 9.7 1.5 11 2.6 7.2 1.6 9.1 2.1 3.1 .9 5.4 1.8 4.9 1.4 9.7 1.9 7.9 2.1 4.9 1.7 15.7 6.6 1.9 .3 .6-.1 1.8-.8 .6 .3 .6 .9 .6 3.1 1.8 11.7 .6 3.1 1.2 2.5 .6 2 1.3 6.3 .6 1.7 1.8-2.3 1.8-1.9 .6-.4 .6-.1 .6 .1 1.2 .6 3.1 2.3 4.2 4.2 6.1 5.1"/><path d="M43.4 163.9l9.1-.9 12.8-2 2.4 0 4.3 .4 2.4-.2 5.5-1.5 9.7-3.3 1.8-.7 2.4-1.3 .6-.9 .6-1.6 .6-2.1 .6-3.3 7.3-59.5 .6-2 .6-1 1.9-4.4 1.8-3.5 2.4-3.7 1.8-2.3 3.1-3.1 1.2-.8 1.8-.5 1.2 .2 6.1 2.2 4.8 1.5 7.9 1.9 15.8 4.4 4.3 1.4 10.3 4.7 6.6 3.9 5.5 2.8 9.1 3.5 12.8 5.6 8.4 4.9 3.1 1.9 3 2.3 1.2 .8 1.9 .7 .6-.1 1.2-.8 .6-.2 .6 .5 .6 1.4 3 23.4 1.2 3.7 .6 2.6 1.3 8.2 .6 2.1 1.8-2.7 1.8-2.2 .6-.5 .6-.2 .6 .2 1.2 .7 3.1 2.7 4.2 5.1 3.1 3.1 3 2.9"/></g><g stroke="#ff0000"><path d="M43.4 161.1l9.1-.9 12.8-2.1 2.4-.1 4.3 .5 2.4-.2 6.1-1.7 9.1-3.1 2.4-1 .6-.4 .6-.8 1.2-2.4 .6-2.1 2.5-10.5 2.4-7.4 .6-1.6 .6-1 .6-.7 .6-.3 1.2 .9 .6 0 4.9-3.7 3-2.1 3.7-1.8 1.2-.4 1.8-.2 3 .3 9.7 1.5 8.5 .9 29.8 4.4 11.5 2.6 8.5 1.6 10.9 2.4 18.2 5.3 1.9 .2 2.4-.5 .6 .2 .6 .7 2.4 9 .6 1.5 1.2-.2 .6 .8 1.3 4 .6 1 1.8-2.3 1.8-1.9 .6-.4 .6-.1 .6 .1 1.2 .6 3.1 2.2 4.2 4.2 6.1 5.1"/><path d="M43.4 162.4l9.1-.9 12.8-1.9 2.4 0 4.3 .4 2.4-.2 5.5-1.4 9.7-3 2.4-.9 .6-.4 1.2-2 .6-1.6 .6-2.3 2.5-12.6 2.4-10.8 1.2-4.8 .6-2.1 .6-1.3 .6-.4 .6 .1 .6-.3 1.9-2 3-2.9 1.8-1.6 1.8-1.4 3.1-1.9 1.2-.4 1.8-.3 1.2 0 9.7 1.6 11.6 1.2 15.1 2.2 2.5 .4 7.8 2.2 7.9 2.5 3.7 1 3.6 .7 9.1 1.2 7.9 1.9 6.1 2 9.7 4 4.2 1.8 1.9 .4 .6 0 1.8-.7 .6 .3 .6 .9 2.4 12.7 .6 2.5 1.2 1.4 .6 1.5 1.3 5.1 .6 1.3 1.8-2.4 1.8-1.9 .6-.4 .6-.1 .6 .1 1.2 .6 3.1 2.2 4.2 4.2 6.1 5.1"/></g><g stroke="#0000ff"><path d="M43.4 165.5l9.8-1 12.1-2 2.4-.1 4.3 .4 1.8-.1 1.8-.5 4.3-1.3 9.1-3.1 1.8-.6 1.8-.9 .6-.8 .6-1.2 .6-1.6 .6-2.4 5.5-35.4 .6-3.7 1.2-5.5 .6-1.2 1.2-.6 1.9-2.4 2.4-2.7 3.6-3.7 3.7-2.6 1.2-.6 1.8-.3 1.8 .3 10.3 2.4 8.5 1.6 11.6 3.3 7.9 2 10.3 3.1 6.6 2.6 4.9 1.7 10.3 2.4 10.9 3.3 9.1 3.7 7.9 3.7 1.9 .4 .6 0 1.8-.7 .6 .3 .6 1 3 18.2 1.2 2.7 .6 2 1.3 6.5 .6 1.8 1.8-2.3 1.8-1.8 .6-.5 .6-.1 .6 .1 1.2 .6 3.1 2.3 4.2 4.2 6.1 5"/></g><g stroke="#ff0000"><path d="M43.4 161.5l7.9-.9 9.7-1.7 4.3-.6 2.4 0 4.3 .5 2.4-.2 5.5-1.4 8.5-2.7 3-1.1 1.2-.7 .6-.9 .6-1.4 .6-1.9 .6-2.9 7.3-53.3 .6-2 1.2-1.6 1.9-3.6 3-4.9 3-4.3 2.4-2.6 1.3-1.2 1.2-.7 1.8-.5 1.2 .2 5.5 2 4.8 1.6 7.9 1.9 2.4 .7 9.8 3.4 7.8 2.3 9.8 3.6 3 1.3 10.3 5.3 9.1 3.4 11.5 5.1 3.7 2.1 5.4 3.3 3.7 2.5 4.2 3.1 1.9 .7 .6-.1 1.2-.8 .6-.2 .6 .6 .6 1.3 .6 3.7 1.8 13.8 .6 3.5 1.2 2.8 .6 2.3 1.3 7.3 .6 1.9 1.8-2.7 1.8-2.2 .6-.5 .6-.1 .6 .1 1.2 .7 3.1 2.7 4.2 5 6.1 6"/></g><g stroke="#0000ff"><path d="M43.4 164.6l7.9-.9 9.7-1.9 4.3-.6 2.4 0 4.3 .5 2.4-.2 5.5-1.5 9.1-3 1.8-.7 2.4-1.1 .6-.7 .6-1.2 .6-1.6 .6-2.4 6.1-40.3 1.2-6.4 .6-1.5 1.2-1 1.3-2.1 2.4-3.5 3-3.7 2.4-2.3 1.9-1.4 1.2-.7 1.8-.4 1.2 0 9.1 1.9 10.3 1.7 3.7 1.1 8.5 2.7 17.6 4.5 12.7 4.8 7.9 2.2 13.4 4.4 8.4 3.7 7.3 3.9 1.9 .5 .6-.1 1.2-.6 .6-.2 .6 .4 .6 1.1 .6 3.5 1.8 13.4 .6 3.6 1.2 3.3 .6 2.3 1.3 7 .6 1.9 1.8-2.4 1.8-1.9 .6-.5 .6-.1 .6 .1 1.2 .7 3.1 2.3 4.2 4.4 6.1 5.2"/></g><g stroke="#ff0000"><path d="M43.4 161.9l8.5-1 9.1-1.6 4.3-.7 2.4 .1 4.3 .5 2.4-.2 5.5-1.5 9.7-3.2 2.4-1 .6-.6 1.2-2.9 .6-2.2 .6-3.5 5.5-40.3 1.2-9.8 .6-3.2 .6-1.3 1.2-1.7 1.9-3.5 4.2-6.8 1.8-2.7 2.4-2.8 1.3-1.3 1.2-.8 1.8-.6 1.2 .1 4.9 1.4 4.2 1 7.9 1.4 1.8 .4 3.7 1.4 7.9 3.9 3 1.3 6.7 2.1 7.9 2.1 2.4 .8 2.4 1.1 8.5 4.3 8.5 3.4 11.5 5.4 3.1 1.7 5.4 3.6 4.9 3.2 3 2.3 1.2 .7 1.9 .6 .6-.1 1.2-.9 .6-.3 .6 .5 .6 1.3 .6 3.8 1.8 14.1 .6 3.6 1.2 2.7 .6 2.2 1.3 7.4 .6 1.9 1.8-2.9 1.8-2.4 .6-.5 .6-.1 .6 .1 1.2 .7 3.1 2.9 4.2 5.3 6.1 6.5"/><path d="M43.4 162.3l9.1-1 8.5-1.4 4.3-.6 2.4 0 4.3 .4 2.4-.1 5.5-1.5 9.7-3 1.8-.7 1.2-.7 .6-1.1 .6-1.6 .6-2.3 .6-3.5 3.7-33.3 3.6-38 .6-3.2 3.7-9.1 3-6.5 2.4-4.7 2.4-3.7 1.3-1.6 1.2-1.1 1.8-.7 1.2 .2 1.8 .7 3.7 1.8 5.4 2.2 6.7 2 3 1.1 10.4 5 7.2 3.1 9.1 4.6 3.1 1.7 5.4 3.7 4.9 3.1 2.4 1.2 4.9 2 2.4 1.1 5.5 3 4.2 2.6 2.4 1.7 3.1 2.5 9.1 7.7 3 2.9 1.2 1 1.9 .7 .6-.1 1.2-1.1 .6-.4 .6 .7 .6 1.6 .6 4.6 1.8 17.6 .6 4.7 1.2 4.3 .6 3 1.3 9.2 .6 2.5 1.8-3.1 1.8-2.6 .6-.6 .6-.1 .6 .1 1.2 .8 3.1 3.1 4.2 5.7 3.1 3.6 3 3.3"/><path d="M43.4 162.9l8.5-.9 4.3-.7 4.8-1 4.3-.7 2.4 0 4.3 .5 2.4-.2 5.5-1.5 9.7-3.4 2.4-1 .6-.6 1.2-2.4 .6-2 .6-3 2.5-15 2.4-13.9 1.8-10.3 .6-2.1 1.8-1.7 1.9-2.7 4.2-5.4 1.8-2.1 2.4-2.3 1.3-1 1.2-.6 1.8-.5 1.2 .1 5.5 1.4 4.8 1 9.7 1.5 11 2.9 6 1.3 3.1 .8 9.1 3 6 2.5 4.3 1.4 3 .8 5.5 .9 3 .7 3.7 1.1 4.8 1.7 3 1.3 3.7 1.8 8.5 4.5 3.6 2.3 1.2 .5 1.3 .3 .6-.1 1.2-.7 .6-.1 .6 .4 .6 1.1 3 19.3 1.2 2.8 .6 2 1.3 6.4 .6 1.6 1.8-2.4 1.8-2 .6-.4 .6-.1 .6 .1 1.2 .6 3.1 2.3 4.2 4.3 6.1 5.2"/></g><g stroke="#0000ff"><path d="M43.4 163.4l8.5-1 4.3-.7 4.8-1.1 4.3-.6 2.4 0 4.3 .5 2.4-.2 5.5-1.6 9.7-3.5 1.8-.7 2.4-1.3 .6-.6 .6-1.1 .6-1.4 .6-2.1 3.1-15.3 2.4-10.2 .6-1.9 1.2-.1 1.2 1.3 .6-.1 1.3-1.1 1.8-1.2 3.6-1.9 4.3-1.6 3-.3 9.7 1.1 10.9 1 17 2.4 5.5 1 13.3 3.3 5.5 1 9.1 1.1 7.9 1.4 4.9 1 14.5 3.4 3.1 .3 2.4-.6 .6 .2 .6 .5 .6 2.6 2.4 13 1.2 3 .6 2 1.3 5.6 .6 1.5 1.8-1.6 1.8-1.3 .6-.3 1.2 0 1.2 .4 3.1 1.6 4.2 2.9 6.1 3.6"/></g><g stroke="#ff0000"><path d="M43.4 161.6l9.1-.9 12.8-2 2.4 0 4.3 .5 2.4-.2 5.5-1.5 10.3-3.3 1.8-.8 .6-.8 1.2-4.1 .6-3.3 1.2-11.7 3.1-35.7 1.8-23.6 1.2-18.3 .6-5.7 .6-2.6 2.4-7.3 6.1-14.8 2.4-4.6 1.9-2.9 1.2-1.2 1.2-.7 .6-.1 1.2 .2 1.8 .9 3.7 2.2 5.4 2.9 2.5 1 4.2 1.6 2.4 1.1 5.5 3.2 5.5 3.5 6 3.3 3.1 1.8 9.7 6.5 6 5.1 4.9 3.8 2.4 1.5 4.9 2.4 2.4 1.4 7.3 4.9 3.6 2.6 3.7 3.1 5.4 5.3 4.3 4.3 3 3.6 1.2 1.2 1.9 1.1 .6-.1 1.2-1.3 .6-.3 .6 .8 .6 2 .6 5.4 2.4 27.1 1.2 5.6 .6 3.8 1.3 11.2 .6 3 1.8-3.5 1.8-2.9 .6-.7 .6-.1 .6 .1 1.2 .9 3.1 3.4 4.2 6.4 3.1 4.1 3 3.7"/></g><g stroke="#0000ff"><path d="M43.4 167.1l8.5-.8 9.1-1.5 4.3-.6 2.4 .1 4.3 .4 2.4-.1 5.5-1.4 9.7-2.9 1.8-.7 2.4-1.2 .6-.8 .6-1.2 .6-1.8 .6-2.6 5.5-33.6 .6-3 1.2-4.2 .6-.7 .6-.2 1.9-2.5 1.8-2.1 3.6-3.3 3.7-2.4 1.2-.5 1.8-.3 1.2 .1 9.7 1.9 9.7 1.6 13.4 3.8 17 3.7 3.6 1.1 9.7 3.3 9.1 2.7 10.3 2.7 4.3 1.2 6.1 2.1 6 2.4 1.9 .3 .6 0 1.8-.6 .6 .3 .6 .8 3 17.1 1.2 2.7 .6 2 1.3 6.2 .6 1.6 1.8-2 1.8-1.7 .6-.3 .6-.1 .6 0 1.2 .6 3.1 1.9 4.2 3.7 6.1 4.5"/></g><g stroke="#ff0000"><path d="M43.4 163.1l9.8-.9 12.1-1.7 2.4 0 4.3 .3 2.4-.1 5.5-1.4 9.7-2.9 2.4-.9 .6-.5 .6-1 .6-1.5 .6-2.1 .6-3.1 3.7-27.4 3.6-29.1 .6-1.9 1.2-2 1.9-3.5 3.6-5.8 1.8-2.6 2.4-2.9 1.9-1.8 1.2-.7 1.8-.6 1.2 .2 8.5 2.5 8.5 1.8 2.4 .7 6.1 2.4 5.5 2.3 7.9 3 10.9 4.7 6 3.4 5.5 2.8 9.1 3.3 10.9 4.9 3.7 2 5.4 3.4 4.3 2.9 3 2.3 1.2 .8 1.9 .7 .6-.1 1.2-.8 .6-.2 .6 .5 .6 1.3 .6 3.6 1.8 13.4 .6 3.4 1.2 2.4 .6 2.1 1.3 7.3 .6 1.9 1.8-2.9 1.8-2.3 .6-.6 .6-.1 .6 .1 1.2 .8 3.1 2.8 4.2 5.3 6.1 6.3"/></g><g stroke="#0000ff"><path d="M43.4 169.1l8.5-.9 4.3-.7 4.8-1 4.3-.6 2.4 0 4.3 .5 2.4-.2 5.5-1.5 8.5-3.1 2.4-.9 2.4-1.4 .6-.8 .6-1.4 .6-1.8 .6-2.8 1.9-13.3 4.8-39.6 .6-4.3 .6-2.2 1.2-2 1.3-2.4 1.8-2.9 1.2-1.8 2.4-3.1 2.4-2.4 1.9-1.5 1.2-.6 1.8-.5 1.2 .1 10.3 3 7.3 1.5 2.4 .6 11 3.7 7.2 2.1 9.1 3.2 3.1 1.2 5.4 2.6 4.9 2.1 2.4 .8 7.3 2 4.3 1.6 4.2 1.8 4.9 2.5 15.1 9.1 1.9 .6 .6-.1 1.2-.7 .6-.2 .6 .4 .6 1.2 3 21.3 1.2 3.3 .6 2.4 1.3 7.4 .6 2 1.8-2.5 1.8-2.1 .6-.5 .6-.1 .6 .1 1.2 .6 3.1 2.4 4.2 4.6 6.1 5.6"/><path d="M43.4 164.6l8.5-1 9.1-1.7 4.3-.6 2.4 0 4.3 .5 2.4-.2 5.5-1.5 9.7-3.2 3-1.3 .6-.6 .6-1.1 .6-1.6 .6-2.3 .6-3.5 3.7-30.9 3-27.6 .6-4.3 .6-2 1.2-2.4 1.9-4.2 2.4-4.7 2.4-4.1 2.4-3.3 1.9-2.1 1.2-.9 1.8-.6 1.2 .2 1.8 .7 7.9 3.9 4.3 1.8 8.5 2.4 12.1 3 3.6 1.2 4.3 2 6.7 3.5 6.6 4.3 4.3 2.6 2.4 1.3 13.4 5.9 8.5 2.8 5.4 2.4 3.7 2.3 4.8 3.8 1.2 .7 1.3 .4 .6-.1 1.2-.8 .6-.2 .6 .6 .6 1.4 .6 4.3 1.8 16.5 .6 4.4 1.2 4.3 .6 2.9 1.3 8.6 .6 2.3 1.8-2.7 1.8-2.2 .6-.5 .6-.2 .6 .2 1.2 .7 3.1 2.8 4.2 5.2 3.1 3.2 3 2.9"/></g><g stroke="#ff0000"><path d="M43.4 162l9.1-.9 12.8-1.9 2.4 0 4.3 .4 2.4-.2 5.5-1.4 9.1-2.7 2.4-.9 .6-.5 .6-1.2 .6-1.7 .6-2.4 .6-3.6 3.7-30.8 3-28.9 .6-4.7 .6-2.2 2.4-4.8 6.7-11.1 2.4-3.2 1.9-2 1.2-.9 1.8-.5 1.2 .2 5.5 2.3 4.8 1.7 3.1 .8 6 1.2 11 3.1 6.6 1.6 3.7 1.2 8.5 3 1.8 .8 4.8 2.7 4.9 2.4 2.4 .9 4.9 1.5 2.4 .9 7.9 3.6 3.6 1.9 3.7 2.3 4.8 3.5 4.3 3.4 3.6 3.5 1.8 1.1 .7 .3 .6-.1 1.2-1 .6-.2 .6 .6 .6 1.7 .6 4.7 1.8 18.4 .6 4.9 1.2 4.9 .6 3 1.3 8.8 .6 2.2 1.8-2.9 1.8-2.4 .6-.5 .6-.2 .6 .2 1.2 .7 3.1 2.8 4.2 5.3 6.1 6.4"/></g><g stroke="#0000ff"><path d="M43.4 163.7l7.9-.9 9.7-1.8 4.3-.6 2.4 0 4.3 .5 2.4-.1 5.5-1.5 9.7-3.2 3.6-1.6 .6-.5 .6-1 .6-1.4 .6-2 .6-3.1 5.5-35.9 1.2-6.4 .6-2.1 1.2-1 1.9-3.1 1.8-2.6 1.8-2.1 1.8-1.9 3.7-3 1.2-.5 1.8-.4 1.8 .2 10.3 2.8 9.1 1.9 11 3.4 6.6 1.8 9.7 3 3.1 1 5.4 2.2 4.9 1.7 10.3 2.6 10.3 3.3 3.7 1.4 5.4 2.5 8.5 4.2 1.9 .5 .6 0 1.8-.8 .6 .4 .6 1 .6 3.3 2.4 16.3 1.2 3.2 .6 2.3 1.3 7 .6 1.8 1.8-2.2 1.8-1.8 .6-.4 .6-.1 .6 .1 1.2 .6 3.1 2.2 4.2 4.1 6.1 4.9"/><path d="M43.4 163.8l9.1-.9 8.5-1.5 4.3-.6 2.4 0 4.3 .4 2.4-.1 5.5-1.6 9.7-3.2 3.6-1.6 .6-.5 .6-1 .6-1.5 .6-2 .6-3.2 5.5-35.4 1.2-6.2 .6-1.9 1.2-1 1.9-3.1 1.8-2.6 3.6-4.3 3.7-3.2 1.2-.7 1.8-.4 1.2 0 1.8 .4 7.9 1.7 7.9 1.5 2.4 .6 3.1 1.1 7.3 3.2 3 1.1 15.8 4.8 7.3 2.8 4.2 1.4 9.7 2.4 8.5 2.8 5.5 2.2 14.5 6.9 1.9 .4 .6-.1 1.8-.8 .6 .3 .6 1 .6 3.1 1.8 11.8 .6 3 1.2 2.3 .6 1.9 1.3 6.6 .6 1.8 1.8-2.5 1.8-2 .6-.4 .6-.1 .6 .1 1.2 .6 3.1 2.6 4.2 4.6 3.1 2.8 3 2.6"/><path d="M43.4 170.2l9.8-1 12.1-2 2.4-.1 4.3 .4 1.8-.1 1.8-.4 4.3-1.3 9.1-3 1.8-.7 1.8-.9 .6-.6 .6-1.2 .6-1.5 .6-2.1 1.2-6.9 4.9-31 1.2-4.7 .6-1 1.2-.6 1.9-2 2.4-2.4 3.6-3.2 3.7-2.3 1.2-.4 1.8-.4 3 .4 10.3 2.2 8.5 1.1 10.4 1.7 9.1 1 9.1 .7 3 .5 4.3 1 6 1.8 9.7 2.5 10.3 2.5 8.5 2.8 7.9 3.1 1.9 .4 .6-.1 1.8-.6 .6 .3 .6 .8 .6 3.2 1.8 12.4 .6 3.3 1.2 2.8 .6 2.1 1.3 6.1 .6 1.6 1.8-2.2 1.8-1.9 .6-.4 .6-.1 .6 .1 1.2 .6 3.1 2.2 4.2 4.1 6.1 4.9"/></g><g stroke="#ff0000"><path d="M43.4 163l8.5-1 9.1-1.7 4.3-.7 2.4 0 4.3 .5 2.4-.2 5.5-1.6 9.7-3.3 2.4-1 .6-.6 .6-1.2 .6-1.8 .6-2.6 .6-3.9 3.7-32.9 3-31.1 .6-5 .6-2.4 2.4-5.6 4.3-8.6 1.8-3.3 2.4-3.6 1.9-2.3 1.2-1 1.8-.6 1.2 .2 1.8 .8 4.3 2.2 5.4 2.4 8.5 2.8 10.4 4.2 5.4 2 2.4 1.1 10.4 6 7.2 5.1 4.9 3.1 2.4 1.3 7.3 3.1 6.7 3.7 4.2 2.5 3.1 2.2 6 4.7 4.3 3.5 3 2.8 1.2 .9 1.9 .8 .6-.1 1.2-1 .6-.3 .6 .7 .6 1.6 3 25.1 1.2 3.9 .6 2.9 1.3 8.9 .6 2.4 1.8-3 1.8-2.5 .6-.5 .6-.2 .6 .2 1.2 .7 3.1 3 4.2 5.4 6.1 6.6"/></g><g stroke="#0000ff"><path d="M43.4 168.6l9.1-.9 12.8-2.1 2.4 0 4.3 .4 2.4-.2 5.5-1.6 9.1-3.2 2.4-.9 1.2-.8 .6-.9 .6-1.3 .6-1.8 .6-2.6 5.5-36.8 .6-3.6 1.2-5.4 .6-1 1.2-.9 2.5-2.9 3.6-3.8 1.8-1.7 3.7-2.5 1.2-.5 1.8-.4 1.2 .1 8.5 1.7 8.5 1.2 3 .6 4.3 1.2 7.3 2.4 17.6 4.7 6.6 2.4 3.7 1.1 3 .7 6.7 1.1 4.2 1 4.9 1.5 4.2 1.5 12.2 5.6 4.2 2.2 1.9 .4 .6 0 1.8-.6 .6 .3 .6 1 3 18.4 1.2 2.9 .6 2.1 1.3 6.4 .6 1.7 1.8-2.1 1.8-1.8 .6-.4 .6-.2 .6 .1 1.2 .5 3.1 2 4.2 3.9 6.1 4.8"/><path d="M43.4 164.4l9.1-.9 12.8-2 2.4 0 4.3 .4 2.4-.2 5.5-1.5 9.7-2.9 2.4-1 .6-.4 .6-1 .6-1.4 .6-2 .6-3 5.5-40.4 1.2-8.4 .6-3.2 .6-1.4 1.2-1.3 1.9-3 3.6-5.1 2.4-2.9 2.4-2.4 1.3-1 1.2-.7 1.8-.5 1.2 .1 1.8 .5 3.7 1.2 5.4 1.4 9.1 2 17.6 4.8 4.3 1.8 6.7 3.4 6 3.3 3.1 1.3 4.2 1.3 6.1 .9 3 .7 3.1 1 4.8 1.9 5.5 2.7 14.5 8.4 1.9 .6 .6-.1 1.2-.7 .6-.1 .6 .4 .6 1.2 .6 3.5 1.8 13.8 .6 3.7 1.2 3.4 .6 2.3 1.3 7.4 .6 1.9 1.8-2.4 1.8-2 .6-.5 .6-.1 .6 .1 1.2 .7 3.1 2.4 4.2 4.4 6.1 5.4"/><path d="M43.4 169.2l8.5-.9 9.1-1.6 4.3-.6 2.4 0 4.3 .5 2.4-.2 5.5-1.4 9.7-3.2 3-1.3 .6-.6 .6-1.4 .6-1.9 .6-2.8 1.2-9.7 3.1-31.9 3-36.1 .6-5.1 .6-2.6 2.5-6.5 2.4-5.2 2.4-4.6 1.8-2.9 1.8-2.4 1.3-1.4 1.2-1 1.8-.6 1.2 .3 1.8 .8 6.7 3.5 4.3 1.9 7.2 2 10.4 3 6 1.4 3.7 1.1 9.7 3.6 6 3.3 4.9 2.3 2.4 .8 5.5 1.6 3 1.1 6.1 3.1 4.8 3.1 3.1 2.4 9.1 7.7 3 3 1.2 1 1.9 .8 .6-.1 1.2-1 .6-.3 .6 .7 .6 1.7 .6 5.1 1.8 20 .6 5.3 1.2 5 .6 3.4 1.3 9.7 .6 2.5 1.8-3.3 1.8-2.7 .6-.6 .6-.1 .6 .1 1.2 .9 3.1 3.3 4.2 6.1 3.1 3.8 3 3.5"/><path d="M43.4 163.2l9.1-.9 8.5-1.4 4.3-.6 2.4 .1 4.3 .4 2.4-.1 5.5-1.5 9.1-2.9 2.4-1 1.2-.6 .6-.5 1.2-2.2 .6-1.8 .6-2.9 2.5-14.8 3-17.3 1.2-4.5 .6-1.3 .6-.3 .6 0 .6-.5 1.3-1.6 2.4-2.6 3.6-3.4 3.7-2.4 1.2-.5 1.8-.3 1.2 .1 1.8 .3 9.7 2.5 9.1 1.6 11 2.5 19.4 3.5 10.3 3.1 9.1 2 9.7 2.8 4.9 1.7 13.9 5.6 1.9 .4 .6-.1 1.8-.6 .6 .3 .6 .8 .6 3.1 1.8 11.4 .6 3 1.2 2.3 .6 1.9 1.3 6.1 .6 1.6 1.8-2.3 1.8-1.9 .6-.4 .6-.1 .6 .1 1.2 .5 3.1 2.3 4.2 4.2 6.1 5.1"/><path d="M43.4 171.5l9.1-1 8.5-1.5 4.3-.7 2.4 0 4.3 .5 2.4-.2 5.5-1.5 9.7-3.3 1.8-.7 1.2-.7 .6-.9 .6-1.1 .6-1.6 .6-2.3 5.5-30.8 .6-2.2 .6-1.2 .6-.8 1.8-.1 4.9-3.1 3-1.6 3.7-1.5 1.2-.3 1.8-.2 13.3 1.5 22.5 1.5 4.3 .4 9.1 1.4 11.5 2.1 10.3 1 6.7 1 6.7 1.3 15.7 4.1 1.9 .2 2.4-.4 .6 .2 .6 .6 .6 2.8 1.8 11.1 .6 2.9 1.2 2.9 .6 1.9 1.3 5.6 .6 1.4 1.8-1.8 1.8-1.5 .6-.3 .6-.1 .6 .1 1.2 .4 3.1 1.8 4.2 3.4 6.1 4"/></g><g stroke="#ff0000"><path d="M43.4 160.2l9.1-.8 12.8-2 2.4 0 4.3 .4 2.4-.1 5.5-1.5 9.1-2.8 2.4-.9 .6-.4 .6-1 1.2-4.2 .6-3.5 .6-5.2 3.7-36.5 3-34.6 .6-3.7 3-7.6 4.9-10.3 1.8-3.6 2.4-3.9 1.3-1.6 1.2-1.1 1.8-.8 1.2 .2 1.8 .8 3.7 1.9 5.4 2.4 6.7 2.2 2.4 1 5.5 2.9 5.5 3.1 7.2 3.4 9.8 5.2 2.4 1.5 5.4 4 4.9 3.1 2.4 1.2 4.9 1.9 2.4 1.2 4.3 2.4 5.4 3.5 3.7 2.8 5.4 4.9 5.5 5 3 3.2 1.2 1 1.9 .9 .6-.1 1.2-1.1 .6-.3 .6 .7 .6 1.8 .6 4.9 2.4 24.2 1.2 5.1 .6 3.4 1.3 9.9 .6 2.7 1.8-3.2 1.8-2.5 .6-.6 .6-.2 .6 .2 1.2 .7 3.1 3.1 4.2 5.7 6.1 6.9"/></g><g stroke="#0000ff"><path d="M43.4 163.6l9.1-1.1 8.5-1.6 4.3-.7 2.4 0 4.3 .4 2.4-.2 5.5-1.7 9.7-3.3 1.8-.8 1.8-.9 .6-.5 .6-1 .6-1.6 .6-2.3 .6-3.4 7.3-63.3 .6-2.3 .6-1.2 1.9-4.8 1.8-3.9 2.4-4.3 1.8-2.7 3.1-3.6 1.2-.9 1.8-.6 1.2 .1 1.8 .7 5.5 2.2 4.8 1.7 22.5 5.9 3.6 1.3 3.1 1.4 4.2 2.4 4.3 2.5 4.8 3.1 4.3 2.2 3.6 1.6 5.5 1.5 3 1.1 4.3 1.8 3.6 1.9 4.9 3.1 15.1 11.4 1.9 .7 .6-.1 1.2-.9 .6-.2 .6 .5 .6 1.5 3 24.8 1.2 3.7 .6 2.7 1.3 8.5 .6 2.2 1.8-3.1 1.8-2.5 .6-.6 .6-.1 .6 .1 1.2 .7 3.1 2.8 4.2 5.4 6.1 6.7"/><path d="M43.4 171.9l9.1-.9 8.5-1.5 4.3-.6 2.4 0 4.3 .4 2.4-.2 5.5-1.5 10.3-3.2 3-1.3 .6-.6 1.2-2.7 .6-2.2 .6-3.5 3.1-22.1 2.4-19.7 1.2-8.3 .6-2.5 3.7-6.2 1.8-2.6 2.4-3.1 2.4-2.4 1.9-1.5 1.2-.7 1.8-.4 1.2 .1 10.9 2.6 9.1 1.6 11 3 7.2 1.7 8.5 3.1 8.5 3.6 3.7 1.3 3.6 .9 6.1 1 3 .6 5.5 1.6 4.2 1.4 3.7 1.4 5.4 2.6 4.3 2.2 3 1.8 1.8 .9 1.3 .4 .6-.1 1.2-.6 .6-.1 .6 .4 .6 1.2 .6 3.5 1.8 14.1 .6 3.8 1.2 3.6 .6 2.4 1.3 7.1 .6 1.9 1.8-2.3 1.8-1.9 .6-.4 .6-.2 .6 .1 1.2 .6 3.1 2.2 4.2 4.2 6.1 5.1"/></g><g stroke="#ff0000"><path d="M43.4 162.7l8.5-.9 4.3-.7 4.8-1 4.3-.6 2.4 0 4.3 .5 2.4-.2 5.5-1.5 9.1-3.1 2.4-.9 .6-.3 .6-.5 .6-1.1 .6-1.6 .6-2.2 .6-3.3 7.3-58.4 .6-2 1.2-1.9 1.9-3.5 3.6-5.8 1.8-2.6 2.4-2.8 1.9-1.8 1.2-.7 1.8-.5 1.2 .1 6.1 1.5 9.7 1.3 3 .6 3.7 1.4 7.9 3.8 2.4 1 17 5.5 2.4 1.2 9.1 4.8 8.5 3.3 10.9 5.4 3.7 2.2 5.4 3.8 4.9 3.5 3 2.4 1.2 .8 1.9 .7 .6-.1 1.2-1 .6-.2 .6 .5 .6 1.5 .6 4 1.8 15.5 .6 4.1 1.2 3.8 .6 2.6 1.3 8 .6 2.1 1.8-2.7 1.8-2.3 .6-.5 .6-.1 .6 .1 1.2 .7 3.1 2.7 4.2 5.1 6.1 6"/><path d="M43.4 163.3l8.5-.9 9.1-1.5 4.3-.6 2.4 0 4.3 .4 2.4-.1 5.5-1.4 9.1-2.9 2.4-.8 1.2-.8 .6-.9 .6-1.5 .6-2.1 .6-3.1 3.7-29.6 3.6-32.6 .6-2.6 3.7-7.5 3-5.6 2.4-3.9 2.4-3.1 1.3-1.3 1.2-.9 1.8-.6 1.2 .1 7.3 2.5 4.8 1.4 5.5 1.3 2.4 .9 3.1 1.6 7.3 4.4 2.4 1.2 6.7 2.8 8.5 3.1 2.4 1 10.9 6.3 8.5 3.7 9.7 5 3 1.7 3.7 2.5 8.5 6.1 3 2.5 1.2 .8 1.9 .6 .6 0 1.2-1 .6-.3 .6 .6 .6 1.4 3 22.8 1.2 3.4 .6 2.6 1.3 8 .6 2.2 1.8-2.8 1.8-2.3 .6-.5 .6-.2 .6 .2 1.2 .7 3.1 2.8 4.2 5.1 6.1 6.3"/></g><g stroke="#0000ff"><path d="M43.4 163.5l9.1-1 8.5-1.5 4.3-.6 2.4 0 4.3 .5 2.4-.2 5.5-1.5 9.7-3.2 1.8-.7 1.8-1.1 .6-.8 .6-1.4 .6-1.8 .6-2.7 5.5-34.9 1.2-6.1 .6-2.3 .6-.8 .6-.2 .6-.6 1.3-2 2.4-3.1 3.6-3.9 3.7-2.8 1.2-.6 1.8-.3 1.8 .2 10.9 2.5 22.5 4.1 3.6 .8 10.4 3.5 7.2 2.9 4.9 1.7 2.4 .7 8.5 1.9 9.1 2.9 5.5 2.3 9.1 4.3 4.2 2.1 1.9 .4 .6 0 1.8-.8 .6 .4 .6 1 3 18.9 1.2 2.9 .6 2.1 1.3 6.6 .6 1.8 1.8-2.4 1.8-1.9 .6-.5 .6-.1 .6 .1 1.2 .6 3.1 2.2 4.2 4.3 6.1 5.2"/></g><g stroke="#ff0000"><path d="M43.4 162.5l8.5-1 4.3-.7 4.8-1 4.3-.6 2.4 0 4.3 .4 2.4-.2 5.5-1.6 9.7-3.3 2.4-1 .6-.6 .6-1.2 .6-1.8 .6-2.4 .6-3.8 3.7-31.9 3-29.8 .6-4.9 .6-2.3 1.2-2.5 1.2-2.9 3.7-7.3 2.4-4.5 2.4-3.6 1.9-2.2 1.2-1 1.8-.7 1.2 .2 7.9 3.1 4.2 1.4 5.5 1.5 3 1.2 4.9 2.7 6.1 3.7 7.3 3.4 10.9 5.4 6 3.9 4.9 2.9 2.4 1.2 7.3 2.9 9.7 5.2 3.7 2.3 6 4.5 4.9 3.9 3 2.8 1.2 .9 1.9 .8 .6-.1 1.2-1 .6-.2 .6 .6 .6 1.6 3 24.3 1.2 3.6 .6 2.7 1.3 8.7 .6 2.3 1.8-3 1.8-2.4 .6-.6 .6-.1 .6 .1 1.2 .8 3.1 3 4.2 5.6 3.1 3.4 3 3.2"/></g><g stroke="#0000ff"><path d="M43.4 166l8.5-.9 9.1-1.6 4.3-.6 2.4 0 4.3 .5 2.4-.2 5.5-1.5 9.1-2.8 2.4-.9 1.2-.6 .6-.7 .6-1 .6-1.4 .6-1.9 3.1-15.3 2.4-11.1 .6-2.1 1.2-.2 1.2 .9 .6 .2 4.9-2.7 3-1.5 3.7-1.3 3-.4 13.3 1.3 23.1 1.5 4.3 .4 9.7 1.2 11.5 1.8 9.7 1 11.5 1.4 8.5 1.5 9.1 1.9 1.9 .1 1.8-.3 .6 .2 .6 .5 .6 2.7 1.8 10.6 .6 2.8 1.2 2.6 .6 1.8 1.3 5.3 .6 1.4 1.8-1.7 1.8-1.5 .6-.3 1.2 0 1.2 .4 3.1 1.8 4.2 3.2 6.1 4"/><path d="M43.4 164.8l9.8-.9 12.1-1.9 2.4 0 4.3 .4 2.4-.2 5.5-1.4 9.7-3 1.8-.7 1.8-.9 .6-.7 .6-1.1 .6-1.5 .6-2.3 5.5-31.9 .6-3.1 1.2-3.8 .6-.7 .6 0 .6-.4 1.3-1.6 2.4-2.7 3.6-3.3 3.7-2.4 1.2-.5 1.8-.4 1.8 .2 10.9 2 23.1 3.3 3.6 .7 3.7 1 6.7 2.1 7.2 2.7 5.5 1.9 22.5 5.8 7.8 2.5 7.3 2.7 1.9 .3 .6 0 1.8-.6 .6 .3 .6 .8 .6 3 1.8 11.8 .6 3.1 1.2 3.1 .6 2 1.3 6.3 .6 1.7 1.8-2 1.8-1.7 .6-.4 .6-.1 .6 .1 1.2 .6 3.1 2 4.2 3.7 6.1 4.4"/><path d="M43.4 170.1l9.1-.9 12.8-2 2.4 0 4.3 .4 2.4-.2 5.5-1.4 9.1-3 2.4-.9 1.2-.7 .6-1 1.2-4 .6-3.4 .6-4.9 3.1-30.1 3-34.5 .6-6.1 .6-3.3 3.1-7.1 3-5.5 2.4-3.9 2.4-3.1 1.9-1.9 1.2-.8 1.8-.4 1.2 .2 5.5 2.4 4.8 1.9 7.3 2.1 2.4 .9 11.6 5.4 18.2 7.2 2.4 1.3 9.1 5.4 9.1 3.8 5.5 2.8 3.6 2.1 4.9 3.3 10.3 7.9 3 2.6 1.2 .9 1.9 .7 .6-.1 1.2-.9 .6-.3 .6 .6 .6 1.5 .6 4.3 1.8 16.7 .6 4.5 1.2 4.1 .6 2.9 1.3 9 .6 2.4 1.8-3 1.8-2.5 .6-.5 .6-.2 .6 .1 1.2 .7 3.1 2.9 4.2 5.3 6.1 6.6"/><path d="M43.4 163.5l9.1-.9 12.8-1.9 2.4 0 4.3 .4 2.4-.2 5.5-1.4 9.1-2.7 2.4-.8 1.2-.7 .6-.8 .6-1.5 .6-2 .6-2.9 1.8-14.3 4.9-42.5 .6-4.9 .6-2.5 1.2-1.9 1.9-3.8 2.4-4.1 1.8-3 1.8-2.6 2.4-2.8 1.3-1.2 1.2-.8 1.8-.6 1.2 .1 4.9 1.4 3 .7 4.2 .7 4.9 .7 2.4 .6 3.7 1.2 8.5 3.5 7.3 2.2 9.7 3.2 2.4 1 10.9 5.3 7.3 2.6 6.7 2.8 6 2.2 3.1 1.4 3.6 1.9 3 1.8 3.1 2.1 3.6 3.1 1.8 1 .7 .2 .6-.1 1.2-.8 .6-.2 .6 .6 .6 1.5 .6 4.4 1.8 17.4 .6 4.6 1.2 4.5 .6 2.9 1.3 8.6 .6 2.2 1.8-2.8 1.8-2.4 .6-.5 .6-.1 .6 .1 1.2 .7 3.1 2.7 4.2 5.1 6.1 6.2"/></g><g stroke="#ff0000"><path d="M43.4 163.9l8.5-.9 9.1-1.6 4.3-.5 2.4 0 4.3 .4 2.4-.2 5.5-1.4 9.7-2.9 2.4-1 .6-.5 1.2-2.5 .6-2.1 .6-3.1 6.7-42.5 .6-2.3 1.8-2.1 1.9-2.7 3.6-4.7 2.4-2.8 2.4-2.2 1.3-1 1.2-.6 1.8-.4 1.2 .1 5.5 1.5 4.8 1.2 9.7 1.7 10.4 2.7 7.2 1.7 11 3.6 7.2 3.1 3.7 1.3 3 .8 6.7 1 3.6 .9 5.5 2 4.2 1.9 12.2 6.7 4.2 2.6 1.9 .5 .6-.1 1.2-.7 .6-.2 .6 .4 .6 1.2 .6 3.2 1.8 12.3 .6 3 1.2 2.2 .6 1.9 1.3 6.3 .6 1.7 1.8-2.7 1.8-2.1 .6-.5 .6-.1 .6 .1 1.2 .6 3.1 2.5 4.2 4.7 6.1 5.7"/></g><g stroke="#0000ff"><path d="M43.4 170.9l8.5-.9 4.3-.7 4.8-1 4.3-.6 2.4 .1 4.3 .5 2.4-.2 5.5-1.5 9.1-3.1 2.4-.9 1.2-.8 .6-.9 .6-1.3 .6-1.9 .6-2.7 1.8-12.1 3.7-27.2 1.2-7.8 .6-2.9 .6-1.4 1.2-1.4 1.9-2.6 5.4-6.5 2.4-2.3 1.9-1.5 1.2-.6 1.8-.5 1.2 .1 10.3 1.9 9.1 1.3 3.7 1 9.1 2.8 17.6 3.9 3 1 9.1 3.2 7.3 2.1 13.3 4.3 9.1 3.9 7.3 3.7 1.9 .4 .6 0 1.2-.6 .6-.2 .6 .4 .6 1.1 .6 3.4 1.8 13 .6 3.4 1.2 2.7 .6 2.1 1.3 6.7 .6 1.7 1.8-2.5 1.8-2 .6-.5 .6-.1 .6 .1 1.2 .6 3.1 2.4 4.2 4.6 6.1 5.5"/><path d="M43.4 164l8.5-.9 4.3-.7 4.8-1 4.3-.6 2.4 0 4.3 .5 2.4-.1 5.5-1.6 9.7-3.3 3.6-1.6 .6-.6 1.2-2.7 .6-2.2 6.1-40.2 1.2-6.6 .6-1.8 1.2-1.1 1.9-3.2 1.8-2.7 3.6-4.4 2.4-2.3 1.3-.9 1.2-.6 1.8-.5 1.2 .1 1.8 .5 5.5 1.6 4.8 1.3 8.5 1.7 9.8 2.4 8.5 1.8 10.3 2.6 11.5 4.3 9.7 2.6 11.5 3.8 3.7 1.6 5.4 2.5 3.7 1.9 3.6 2.2 1.2 .5 1.3 .4 .6 0 1.2-.6 .6-.1 .6 .4 .6 1.1 .6 3.6 2.4 17.8 1.2 3.7 .6 2.4 1.3 7.2 .6 1.9 1.8-2.2 1.8-1.9 .6-.4 .6-.1 .6 .1 1.2 .6 3.1 2.2 4.2 4.1 6.1 5"/></g></g>
<rect x="32.3" y="8.9" width="230.1" height="171.5" fill="none" stroke="#3a3a3a" stroke-width="0.75"/>
<path d="M48.3 180.4v2.2M96.85 180.4v2.2M145.4 180.4v2.2M193.95 180.4v2.2M242.5 180.4v2.2M32.3 176.3h-2.2M32.3 148.16h-2.2M32.3 120.01h-2.2M32.3 91.86h-2.2M32.3 63.71h-2.2M32.3 35.56h-2.2" stroke="#222" stroke-width="0.65" fill="none"/>
<rect x="210.2" y="11.4" width="48.7" height="21.8" rx="1" fill="#fff" fill-opacity="0.8" stroke="#d4d4d4" stroke-width="0.5"/>
<path d="M212.7 17.15h13.4" stroke="#ff0000" stroke-opacity="0.5" stroke-width="1.0"/>
<path d="M212.7 26.75h13.4" stroke="#0000ff" stroke-opacity="0.5" stroke-width="1.0"/>
<g class="t"><text x="48.3" y="189.8" text-anchor="middle">200</text><text x="96.85" y="189.8" text-anchor="middle">400</text><text x="145.4" y="189.8" text-anchor="middle">600</text><text x="193.95" y="189.8" text-anchor="middle">800</text><text x="242.5" y="189.8" text-anchor="middle">1000</text><text x="27.6" y="178.9" text-anchor="end">0.0</text><text x="27.6" y="150.76" text-anchor="end">0.1</text><text x="27.6" y="122.61" text-anchor="end">0.2</text><text x="27.6" y="94.46" text-anchor="end">0.3</text><text x="27.6" y="66.31" text-anchor="end">0.4</text><text x="27.6" y="38.16" text-anchor="end">0.5</text><text x="147.35" y="198.5" text-anchor="middle">wavelength</text><text transform="translate(13.3 94.65) rotate(-90)" text-anchor="middle" font-size="6.55">absorption spectrum</text><text x="231.2" y="19.4">ChaoHu</text><text x="231.2" y="29">TaiHu</text></g></g>
<g><g fill="none" stroke-width="0.9" stroke-opacity="0.68" stroke-linejoin="round"><g stroke="#ff0000"><path d="M324.8 99.4l1.3-.2 3 .2 5.5-.9 1.8-.1 2.4 .2 4.2 .7 4.9 1.1 1.8 .1 1.2-.3 2.4-.8 3.1-1.7 1.2-.3 1.2 .1 3.6 1.2 3.1 .3 1.8-.1 1.2-.5 1.2-.9 1.2-1.4 .6-1.2 .6-1.8 .6-2.6 .6-3.9 .7-5.2 1.2-14.9 2.4-36.9 .6-7.1 .6-5 .6-2.3 .6 .5 .6 3.3 .6 5.7 3.1 40.9 1.2 12 .6 4.1 .6 2.9 .6 1.8 .6 .9 .6 .2 .6-.4 2.4-3.6 .6-.6 .7-.1 .6 .3 .6 .8 .6 1.3 4.2 12.6 1.2 2.9 1.8 2.7 1.9 1.8 .6 .3 .6 .1 1.8 0 16.4-1.4 3.6-.2 19.4 .5 8.5 .7 3 .1 2.4-.2 6.7-1.4 3-.3 12.2 .5 12.7 .9 2.4 0 1.8-.5 .6-1.3 1.3-3.7 .6-.4 .6 .9 1.2 3.8 .6 2.6 .6 4.1 .6 6.3 .6 8.8 1.8 33.6 .6 7.5 .6 2.7 .7-2.7 .6-7.7 1.8-35.3 1.2-19.3 .6-6.8 .6-4.6 .6-2.6 .6-.5 .6 1.1 1.8 8.4 .6 1.9 .6 1.3 1.3 1.5 6.6 6.6 1.2 1.4 .7 .5 .6 .3 .6-.2 1.2-1.5 1.2-2.5"/><path d="M324.8 98.8l1.3-.1 3 .5 5.5-.9 2.4 0 6.6 .9 4.3 1 1.8 0 1.2-.2 2.4-.8 3.1-1.7 1.2-.3 1.2 .2 3.6 1.1 3.1 .3 1.8-.1 1.2-.5 1.2-.8 1.2-1.3 .6-1.2 .6-1.7 .6-2.6 .6-3.8 .7-5.2 1.2-14.6 2.4-36.4 .6-7 .6-4.9 .6-2.3 .6 .5 .6 3.3 .6 5.6 3.1 40.4 1.2 11.8 .6 4.1 .6 2.9 .6 1.8 .6 1 .6 .2 .6-.3 2.4-3.2 .6-.5 .7-.1 .6 .3 .6 .8 .6 1.2 4.2 11.8 1.2 2.7 1.8 2.6 1.9 1.7 .6 .4 .6 .1 1.8 0 16.4-1.4 3.6-.2 19.4 .5 8.5 .7 3 .1 2.4-.2 6.7-1.4 3-.3 12.2 .5 12.7 .9 2.4 0 1.8-.5 .6-1.3 1.3-3.7 .6-.4 .6 .9 1.2 3.8 .6 2.6 .6 4.1 .6 6.2 .6 8.7 1.8 33.1 .6 7.5 .6 2.7 .7-2.7 .6-7.6 1.8-34.8 1.2-18.9 .6-6.5 .6-4.6 .6-2.4 .6-.6 .6 1.1 1.8 8.1 .6 1.9 .6 1.3 1.3 1.6 6.6 6.6 1.2 1.4 .7 .5 .6 .3 .6-.2 1.2-1.5 1.2-2.4"/><path d="M324.8 99.9l1.9-.4 7.2-1.2 1.9-.2 3.6 .3 4.2 .7 4.3 1 1.8 0 1.2-.2 2.4-.8 3.1-1.7 1.2-.3 1.2 .2 3.6 1.1 2.5 .3 1.8 0 1.2-.3 1.2-.7 1.2-.9 .6-.7 .6-1.1 .6-1.7 .6-2.5 .6-3.7 .7-5 1.2-14.3 2.4-35.5 .6-6.9 .6-4.8 .6-2.2 .6 .5 .6 3.2 .6 5.5 3.1 39.3 1.2 11.6 .6 3.9 .6 2.7 .6 1.7 .6 .9 .6 .1 .6-.5 .6-.8 1.8-2.9 .6-.6 .7-.2 .6 .4 .6 .8 .6 1.2 4.2 12.5 1.2 2.9 1.8 2.6 1.9 1.8 .6 .3 .6 .1 1.8 0 17-1.4 3.6-.1 18.8 .5 8.5 .7 3 .1 2.4-.2 6.7-1.5 3-.3 12.2 .5 12.7 .9 2.4 .1 1.8-.6 .6-1.2 1.3-3.7 .6-.4 .6 .9 1.2 3.8 .6 2.6 .6 4.1 .6 6.2 .6 8.8 1.8 33.3 .6 7.5 .6 2.7 .7-2.8 .6-7.6 1.8-35 1.2-19.2 .6-6.7 .6-4.6 .6-2.6 .6-.5 .6 1.1 1.8 8.4 .6 2 .6 1.3 1.3 1.5 6.6 6.5 1.2 1.4 .7 .6 .6 .2 .6-.2 1.2-1.5 1.2-2.4"/><path d="M324.8 99.6l1.3-.3 3 0 5.5-.9 1.8-.1 2.4 .2 4.2 .7 4.9 1.1 1.8 0 1.2-.2 2.4-.8 3.1-1.7 1.2-.3 1.2 .2 3.6 1.1 3.1 .3 1.8-.1 1.2-.5 1.2-.8 1.2-1.3 .6-1.1 .6-1.6 .6-2.5 .6-3.6 .7-4.9 1.2-14.1 2.4-34.7 .6-6.8 .6-4.7 .6-2.2 .6 .6 .6 3.1 .6 5.3 3.1 38.6 1.2 11.3 .6 3.9 .6 2.7 .6 1.7 .6 .8 .6 .1 .6-.4 2.4-3.5 .6-.6 .7-.1 .6 .3 .6 .8 .6 1.2 4.2 12.1 1.2 2.8 1.8 2.6 1.9 1.8 .6 .3 .6 .1 1.8 0 16.4-1.4 3.6-.2 19.4 .5 8.5 .7 3 .1 2.4-.2 6.7-1.4 3-.3 12.2 .5 12.7 .9 2.4 0 1.8-.5 .6-1.3 1.3-3.7 .6-.4 .6 .9 1.2 3.8 .6 2.5 .6 3.9 .6 6 .6 8.5 1.8 32.1 .6 7.2 .6 2.6 .7-2.7 .6-7.3 1.8-33.6 1.2-18 .6-6.1 .6-4.2 .6-2.3 .6-.6 .6 1 1.8 7 .6 1.7 .6 1.1 .7 .7 2.4 2.3 6.7 6.7 .6 .2 .6-.2 1.2-1.5 1.2-2.4"/><path d="M324.8 99.9l1.3-.3 3.6-.4 4.2-.8 1.9-.1 3.6 .3 4.2 .7 4.3 .9 1.8 .1 1.2-.3 2.4-.8 3.1-1.6 1.2-.3 1.2 .2 3.6 1 3.1 .4 1.8-.1 1.2-.5 1.2-.8 1.2-1.3 .6-1 .6-1.6 .6-2.4 .6-3.5 .7-4.9 1.2-13.7 2.4-34.1 .6-6.6 .6-4.6 .6-2.1 .6 .5 .6 3 .6 5.2 3.1 37.9 1.2 11 .6 3.8 .6 2.6 .6 1.7 .6 .8 .6 .1 .6-.4 .6-.8 1.8-2.8 .6-.6 .7-.1 .6 .3 .6 .8 .6 1.2 4.2 11.9 1.2 2.7 1.8 2.6 1.9 1.8 .6 .3 .6 .1 1.8 0 17-1.4 3.6-.1 18.8 .4 8.5 .8 3 .1 2.4-.3 6.7-1.4 3-.3 12.2 .5 12.7 .9 2.4 .1 1.8-.6 .6-1.3 1.3-3.6 .6-.4 .6 .9 1.2 3.8 .6 2.6 .6 3.9 .6 6.1 .6 8.6 1.8 32.5 .6 7.3 .6 2.7 .7-2.7 .6-7.4 1.8-34.2 1.2-18.5 .6-6.4 .6-4.5 .6-2.4 .6-.6 .6 1.1 1.8 8 .6 1.8 .6 1.3 1.3 1.5 6.6 6.6 1.2 1.4 .7 .5 .6 .3 .6-.2 1.2-1.5 1.2-2.5"/><path d="M324.8 101.7l4.3-2 6.1-1 1.8 0 2.4 .2 4.2 .7 3.7 .9 1.8 .1 1.8-.2 2.4-.8 3.1-1.6 1.2-.3 1.2 .1 3.6 1.1 2.5 .3 1.8 0 1.2-.3 1.2-.6 1.2-1 .6-.8 .6-1.1 .6-1.6 .6-2.4 .6-3.5 .7-4.7 1.2-13.5 2.4-33.3 .6-6.5 .6-4.5 .6-2.1 .6 .5 .6 3 .6 5.1 3.1 37.1 1.2 10.8 .6 3.8 .6 2.6 .6 1.7 .6 .9 .6 .2 .6-.3 2.4-3.1 .6-.4 .7-.1 .6 .3 .6 .7 .6 1.1 4.2 10.9 1.2 2.6 1.8 2.4 1.9 1.7 1.2 .5 1.8-.1 17-1.3 3.6-.2 18.8 .5 8.5 .7 3 .1 3-.3 6.7-1.4 2.4-.2 12.2 .5 12.7 .9 2.4 0 1.8-.5 .6-1.3 1.3-3.6 .6-.4 .6 .9 1.2 3.6 .6 2.5 .6 3.7 .6 5.7 .6 8 1.8 30.5 .6 6.9 .6 2.4 .7-2.5 .6-7 1.8-32.2 1.2-17.8 .6-6.3 .6-4.3 .6-2.5 .6-.5 .6 1.2 1.8 8.3 .6 1.9 .6 1.3 1.3 1.5 6.6 6.6 1.2 1.4 .7 .6 .6 .2 .6-.2 1.2-1.5 1.2-2.4"/><path d="M324.8 100.3l2.5-.5 6.6-1.2 1.9-.1 3.6 .3 4.2 .7 4.3 .9 1.8 .1 1.2-.3 2.4-.8 3.1-1.6 1.2-.3 1.2 .2 3.6 1 2.5 .3 1.8 .1 1.2-.3 1.2-.7 1.2-.9 .6-.7 .6-1.1 .6-1.5 .6-2.4 .6-3.3 .7-4.7 1.2-13.1 2.4-32.7 .6-6.3 .6-4.4 .6-2.1 .6 .5 .6 2.9 .6 5 3.1 36.4 1.2 10.7 .6 3.7 .6 2.7 .6 1.7 .6 1 .6 .3 .6-.1 .6-.4 1.8-1.9 .6-.3 .7-.1 .6 .3 .6 .7 1.2 2.1 3.6 8.4 1.2 2.2 1.8 2.3 1.9 1.6 1.2 .5 1.8-.1 17-1.3 3.6-.1 19.4 .5 7.9 .7 3 .1 2.4-.2 6.7-1.5 3-.3 5.5 .2 13.9 .8 6.1 .5 1.8 0 1.8-.6 .6-1.2 1.3-3.6 .6-.4 .6 .9 1.2 3.7 .6 2.5 .6 3.8 .6 5.8 .6 8.2 1.8 31 .6 7 .6 2.5 .7-2.6 .6-7 1.8-32.8 1.2-18.1 .6-6.4 .6-4.4 .6-2.4 .6-.5 .6 1.1 1.8 8.5 .6 1.9 .6 1.4 1.3 1.5 6.6 6.7 1.2 1.4 .7 .5 .6 .3 .6-.2 1.2-1.5 1.2-2.4"/><path d="M324.8 100.1l1.9-.3 2.4-.3 4.8-.8 1.9-.1 3.6 .3 4.2 .6 4.3 .9 1.8 .1 1.8-.4 2.5-.9 3-1.5 .6 0 1.2 .1 3.6 1 4.3 .4 1.8-.5 2.4-1.3 .6-.5 .6-.8 .6-1.3 .6-1.8 .7-2.7 1.2-7.8 2.4-19.5 .6-3.8 .6-2.6 .6-1.2 .6 .3 .6 1.7 .6 3 3.1 21.7 1.2 6.4 1.2 4 .6 1.1 .6 .7 .6 .4 .6 .1 .6-.1 2.4-.8 1.3 .2 .6 .3 1.2 1.1 4.8 5.3 3.1 2.5 1.2 .7 .6 .1 2.4 0 19.4-1.3 20 .5 7.9 .7 3 .1 2.4-.2 6.7-1.4 3-.3 4.9 .1 15.2 .9 5.4 .4 1.8 0 1.8-.5 .6-1.2 1.3-3.4 .6-.4 .6 .8 .6 1.4 1.2 3.3 .6 2.5 .6 3.8 .6 5.2 1.8 19.8 .6 4.5 .6 1.6 .7-1.7 .6-4.5 3-34.6 .6-5 .6-3.6 .6-2 .6-.2 .6 1.2 1.8 7.7 .6 1.8 .6 1 .7 .7 1.8 1.4 6.6 6.4 .7 .6 .6 .2 .6-.2 1.2-1.6 1.2-2.5"/><path d="M324.8 100.4l3.1-.7 6-1.1 1.9-.2 3.6 .3 4.2 .7 4.3 .9 1.8 .1 1.2-.3 2.4-.7 3.1-1.6 1.2-.3 1.2 .2 3.6 1 2.5 .3 1.8 .1 1.2-.4 1.2-.6 1.2-.9 .6-.7 .6-1 .6-1.5 .6-2.2 .6-3.3 .7-4.5 1.2-12.8 2.4-31.9 .6-6.1 .6-4.3 .6-2 .6 .4 .6 2.9 .6 4.9 3.1 35.3 1.2 10.4 .6 3.5 .6 2.5 .6 1.6 .6 .8 .6 .2 .6-.3 2.4-2.9 .6-.5 .7-.1 .6 .3 .6 .7 1.2 2.4 3.6 9.3 1.2 2.5 1.8 2.5 1.9 1.7 1.2 .5 1.8-.1 16.4-1.3 3.6-.2 19.4 .5 8.5 .7 3 .1 2.4-.2 6.7-1.4 3-.4 12.2 .5 12.7 .9 2.4 .1 1.8-.6 .6-1.2 1.3-3.7 .6-.4 .6 .9 1.2 3.6 .6 2.3 .6 3.6 .6 5.6 .6 7.9 1.8 29.8 .6 6.7 .6 2.5 .7-2.5 .6-6.8 1.8-31.6 1.2-17.4 .6-6.2 .6-4.2 .6-2.4 .6-.5 .6 1.2 1.8 8.1 .6 2 .6 1.2 1.3 1.6 6.6 6.6 1.2 1.4 .7 .5 .6 .3 .6-.2 1.2-1.5 1.2-2.4"/><path d="M324.8 101.5l4.3-2.1 5.5-1 1.8 0 2.4 .2 4.8 .7 3.7 .8 1.8 .2 1.8-.3 2.4-.7 3.1-1.6 1.2-.3 1.2 .2 3.6 1 2.5 .3 1.8 .1 1.2-.4 1.2-.6 1.2-.8 .6-.7 .6-.9 .6-1.4 .6-2.1 .6-3.1 .7-4.4 1.2-12.2 2.4-30.5 .6-6 .6-4.1 .6-1.9 .6 .5 .6 2.7 .6 4.7 3.1 33.9 1.2 9.9 .6 3.4 .6 2.5 .6 1.5 .6 .9 .6 .2 .6-.3 2.4-2.6 .6-.4 .7-.1 .6 .3 .6 .6 1.2 2.3 3.6 8.6 1.2 2.4 1.8 2.4 1.9 1.7 1.2 .4 1.8-.1 17-1.4 3.6-.1 18.8 .5 8.5 .7 3 .1 2.4-.2 6.7-1.4 3-.3 12.2 .5 12.7 .9 2.4 0 1.8-.5 .6-1.3 1.3-3.7 .6-.4 .6 .9 1.2 3.5 .6 2.3 .6 3.4 .6 5.4 .6 7.5 1.8 28.6 .6 6.4 .6 2.3 .7-2.3 .6-6.6 1.8-30.3 1.2-16.9 .6-6.1 .6-4.2 .6-2.3 .6-.5 .6 1.2 1.8 8 .6 1.9 .6 1.2 .7 .8 7.2 7 1.2 1.3 .7 .6 .6 .2 .6-.2 1.2-1.5 1.2-2.5"/><path d="M324.8 101.2l4.3-1.8 6.1-1 1.8 0 2.4 .3 4.2 .7 3.7 .8 1.8 .1 1.8-.2 2.4-.8 3.1-1.5 1.2-.3 1.2 .1 3.6 1 4.3 .4 1.2-.3 1.2-.6 1.2-.7 .6-.6 .6-.8 .6-1.2 .6-1.9 .6-2.7 .7-3.9 1.2-10.9 2.4-27.3 .6-5.2 .6-3.7 .6-1.7 .6 .4 .6 2.4 .6 4.2 3.1 30.3 1.2 8.9 .6 3 .6 2.2 .6 1.5 .6 .7 .6 .3 .6-.2 .6-.4 1.8-1.7 .6-.3 .7-.1 .6 .3 .6 .5 1.2 1.9 3 6.1 1.2 2.1 .6 .9 1.8 1.9 1.9 1.6 1.2 .4 1.8 0 17-1.3 3.6-.1 19.4 .5 7.9 .7 3 .1 2.4-.2 6.7-1.4 3-.3 4.9 .1 15.2 .9 5.4 .4 1.8 .1 1.8-.6 .6-1.2 1.3-3.4 .6-.4 .6 .8 1.2 3.5 .6 2.3 .6 3.4 .6 5.3 .6 7.3 1.8 27.4 .6 6.2 .6 2.2 .7-2.3 .6-6.3 1.8-29.2 1.2-16.4 .6-5.9 .6-4.2 .6-2.3 .6-.4 .6 1.2 1.8 8.1 .6 1.9 .6 1.3 .7 .8 7.2 7.1 1.2 1.3 .7 .5 .6 .3 .6-.2 1.2-1.5 1.2-2.5"/><path d="M324.8 99.2l1.3-.1 3 .2 5.5-.9 1.8-.1 3.6 .4 3.6 .7 3.7 .8 1.8 .2 1.8-.3 2.4-.8 3.1-1.7 1.2-.3 1.2 .2 3.6 1.1 2.5 .3 1.8 .1 1.2-.4 1.2-.6 1.2-.8 .6-.7 .6-.9 .6-1.3 .6-2.1 .6-3.1 .7-4.2 1.2-12 2.4-30 .6-5.8 .6-4 .6-1.9 .6 .4 .6 2.7 .6 4.6 3.1 33.2 1.2 9.7 .6 3.3 .6 2.3 .6 1.5 .6 .6 .6 .1 .6-.4 .6-.8 1.8-2.5 .6-.5 .7-.2 .6 .3 .6 .7 .6 1.1 3.6 9.3 1.2 2.7 .6 1 1.2 1.6 1.2 1.4 1.3 1 1.2 .4 1.8 0 17-1.3 3.6-.1 19.4 .5 7.9 .7 3 .1 3-.3 6.7-1.4 2.4-.2 5.5 .1 14.6 .9 5.4 .4 1.8 0 1.8-.5 .6-1.3 1.3-3.5 .6-.4 .6 .9 1.2 3.6 .6 2.3 .6 3.6 .6 5.4 .6 7.6 1.8 28.7 .6 6.5 .6 2.3 .7-2.4 .6-6.6 1.8-30.4 1.2-17 .6-6.1 .6-4.2 .6-2.4 .6-.4 .6 1.1 1.8 7.7 .6 1.8 .6 1.1 .7 .7 2.4 2.1 6 6 .7 .5 .6 .3 .6-.2 1.2-1.6 1.2-2.4"/><path d="M324.8 101.1l4.3-1.7 6.1-1.1 1.8 .1 2.4 .2 4.2 .8 3.7 .8 1.8 .2 1.8-.2 2.4-.9 3.1-1.7 1.2-.3 1.2 .2 3.6 1.1 2.5 .3 1.8 .1 1.2-.3 1.2-.7 1.2-.7 .6-.6 .6-.8 .6-1.2 .6-1.8 .6-2.7 .7-3.8 1.2-10.9 2.4-27 .6-5.3 .6-3.6 .6-1.7 .6 .4 .6 2.4 .6 4.1 3.1 30.2 1.2 8.9 .6 3.1 .6 2.2 .6 1.5 .6 .9 .6 .4 .6 0 .6-.3 1.8-1.3 .6-.2 .7 0 .6 .2 .6 .5 1.2 1.7 3 5.2 1.2 1.9 2.4 2.5 1.9 1.5 1.2 .4 1.8-.1 17-1.2 3.6-.1 19.4 .6 7.9 .7 3 .1 3-.3 6.7-1.5 2.4-.2 4.9 .2 15.2 .8 5.4 .5 1.8 0 1.8-.6 .6-1.1 1.3-3.4 .6-.4 .6 .9 1.2 3.4 .6 2.3 .6 3.4 .6 5.1 .6 7.2 1.8 26.7 .6 6.1 .6 2.1 .7-2.2 .6-6.1 1.8-28.6 1.2-16.1 .6-5.8 .6-4.1 .6-2.2 .6-.5 .6 1.2 1.8 7.9 .6 1.8 .6 1.2 .7 .8 2.4 2.1 6 6.1 .7 .5 .6 .3 .6-.2 1.2-1.6 1.2-2.4"/><path d="M324.8 101.5l4.3-2.1 5.5-1 1.8-.1 2.4 .2 4.8 .8 3.7 .9 1.8 .2 1.8-.3 2.4-.9 3.1-1.6 1.2-.3 1.2 .1 3.6 1.1 2.5 .4 1.8 0 1.2-.3 1.2-.6 1.2-.9 .6-.7 .6-.9 .6-1.4 .6-2.2 .6-3.2 .7-4.4 1.2-12.5 2.4-31.1 .6-6 .6-4.2 .6-1.9 .6 .4 .6 2.8 .6 4.8 3.1 34.5 1.2 10.1 .6 3.5 .6 2.5 .6 1.6 .6 .8 .6 .2 .6-.3 2.4-2.8 .6-.4 .7-.1 .6 .2 .6 .7 1.2 2.3 3 7.4 1.2 2.6 .6 1.1 1.2 1.5 1.2 1.4 1.3 1 1.2 .4 1.8 0 17-1.3 3.6-.2 19.4 .6 7.9 .6 3 .2 3-.4 6.7-1.4 2.4-.2 5.5 .2 14.6 .8 5.4 .5 1.8 0 1.8-.6 .6-1.2 1.3-3.5 .6-.4 .6 .9 1.2 3.6 .6 2.3 .6 3.7 .6 5.5 .6 7.8 1.8 29.5 .6 6.6 .6 2.4 .7-2.5 .6-6.7 1.8-31.2 1.2-17.4 .6-6.2 .6-4.4 .6-2.4 .6-.5 .6 1.2 1.8 8.2 .6 1.9 .6 1.2 .7 .8 7.2 7 1.2 1.4 .7 .5 .6 .3 .6-.2 1.2-1.5 1.2-2.5"/><path d="M324.8 102l1.3-.6 1.8-1.3 1.2-.7 5.5-1 1.8 0 2.4 .2 4.8 .7 3.7 .9 1.8 .2 1.8-.3 2.4-.8 3.1-1.6 1.2-.3 1.2 .1 3.6 1.1 3.1 .3 1.8 0 3-1.4 1.2-1.1 .6-.9 .6-1.4 .6-2.2 .7-3.2 1.2-9 2.4-22.5 .6-4.4 .6-3 .6-1.4 .6 .3 .6 2 .6 3.5 3.1 25 1.2 7.3 .6 2.5 .6 1.8 .6 1.1 .6 .6 .6 .1 .6-.2 2.4-2.1 .6-.3 .7-.1 .6 .2 .6 .5 .6 .7 4.2 7.5 1.2 1.7 3.1 2.9 1.2 .7 .6 .1 2.4 0 19.4-1.3 20 .5 7.9 .7 3 .1 2.4-.2 6.7-1.4 3-.4 4.9 .2 15.2 .9 5.4 .4 1.8 0 1.8-.5 .6-1.2 1.3-3.4 .6-.4 .6 .8 1.2 3.1 .6 1.8 .6 2.7 .6 4.1 .6 5.7 1.8 21.6 .6 4.8 .6 1.7 .7-1.8 .6-4.9 3-37.1 .6-5.1 .6-3.7 .6-2.1 .6-.3 .6 1.2 1.8 7.7 .6 1.7 .6 1.1 .7 .6 1.8 1.4 6.6 6.5 .7 .6 .6 .2 .6-.2 1.2-1.5 1.2-2.6"/><path d="M324.8 99.3l1.3-.2 3-.1 5.5-.9 1.8 0 3.6 .3 3.6 .6 3.7 .9 1.8 .2 1.8-.3 2.4-.8 3.7-1.8 .6-.1 1.2 .1 3.6 1.1 2.5 .3 1.8 .1 1.8-.6 1.8-.9 .6-.5 .6-.6 .6-1.1 .6-1.6 .6-2.5 .7-3.5 1.2-10.1 2.4-25.1 .6-4.9 .6-3.3 .6-1.6 .6 .4 .6 2.2 .6 3.8 3.1 28 1.2 8.3 .6 2.9 .6 2.1 .6 1.4 .6 .8 .6 .4 .6 0 .6-.2 1.8-1.2 .6-.2 .7 0 .6 .2 .6 .5 1.2 1.5 3.6 5.8 1.2 1.7 3.1 3 1.2 .7 .6 .1 2.4 0 16.4-1.3 3-.1 20 .5 7.9 .7 3 .1 2.4-.2 6.7-1.4 3-.3 4.9 .1 15.2 .9 5.4 .4 1.8 0 1.8-.5 .6-1.2 1.3-3.5 .6-.4 .6 .8 1.2 3.3 .6 2 .6 3 .6 4.6 .6 6.4 1.8 24.4 .6 5.5 .6 1.9 .7-2 .6-5.6 1.8-26 1.2-14.9 .6-5.4 .6-3.8 .6-2.1 .6-.4 .6 1.2 1.8 7.4 .6 1.7 .6 1.1 .7 .7 1.8 1.4 6.6 6.6 .7 .5 .6 .3 .6-.2 1.2-1.6 1.2-2.5"/><path d="M324.8 100.8l4.3-1.3 4.8-.9 1.9-.2 3.6 .3 4.2 .8 4.3 1 1.8 0 1.2-.2 2.4-.9 3.1-1.7 1.2-.3 1.2 .2 3.6 1.1 2.5 .3 1.8 .1 1.2-.3 1.2-.7 1.2-.8 .6-.6 .6-.9 .6-1.2 .6-1.9 .6-2.9 .7-3.9 1.2-11.3 2.4-28 .6-5.5 .6-3.7 .6-1.8 .6 .4 .6 2.5 .6 4.3 3.1 31.2 1.2 9.2 .6 3.2 .6 2.3 .6 1.5 .6 .9 .6 .3 .6 0 .6-.4 1.8-1.5 .6-.3 .7 0 .6 .2 .6 .6 1.2 1.8 3.6 7 1.2 2 2.4 2.7 1.3 1 .6 .3 .6 .1 2.4-.1 16.4-1.3 3-.1 20 .5 7.9 .7 3 .1 2.4-.2 6.7-1.4 3-.3 5.5 .1 14.6 .8 5.4 .5 1.8 0 1.8-.5 .6-1.3 1.3-3.5 .6-.4 .6 .8 1.2 3.4 .6 2.1 .6 3.1 .6 4.8 .6 6.8 1.8 25.6 .6 5.8 .6 2.1 .7-2.2 .6-5.8 1.8-27.3 1.2-15.4 .6-5.6 .6-3.9 .6-2.2 .6-.4 .6 1.2 1.8 7.9 .6 1.8 .6 1.2 1.3 1.5 6.6 6.5 1.2 1.3 .7 .6 .6 .3 .6-.3 1.2-1.5 1.2-2.4"/><path d="M324.8 100.7l4.3-1.3 4.8-.9 1.9-.2 3.6 .3 4.2 .7 4.3 .9 1.8 .1 1.8-.4 2.5-.9 3-1.6 .6 0 1.2 .1 3.6 1.1 4.3 .3 1.8-.5 1.8-.9 .6-.5 .6-.5 .6-.9 .6-1.4 .6-2.2 .7-3.1 1.2-8.9 2.4-22.1 .6-4.3 .6-3 .6-1.4 .6 .4 .6 1.9 .6 3.4 3.1 24.7 1.2 7.3 1.2 4.5 .6 1.3 .6 .8 .6 .4 .6 .1 .6-.1 2.4-.9 1.3 .2 .6 .4 1.2 1.2 4.8 6.1 3.1 2.8 1.2 .7 .6 .1 2.4-.1 16.4-1.2 3-.1 20 .5 7.9 .7 3 .1 3-.3 6.7-1.4 2.4-.3 4.9 .2 15.2 .8 5.4 .5 1.8 0 1.8-.5 .6-1.2 1.3-3.5 .6-.4 .6 .8 .6 1.4 1.2 3.5 .6 2.7 .6 4.1 .6 5.7 1.8 21.7 .6 4.9 .6 1.7 .7-1.8 .6-4.9 1.8-23.5 1.2-13.6 .6-5.1 .6-3.7 .6-2 .6-.3 .6 1.2 1.8 7.4 .6 1.6 .6 1.1 .7 .6 1.8 1.4 6.6 6.5 .7 .5 .6 .2 .6-.2 1.2-1.5 1.2-2.5"/><path d="M324.8 102.2l1.3-.6 1.8-1.4 1.2-.7 5.5-1 1.8-.1 2.4 .2 4.8 .8 3.7 .8 1.8 .2 1.8-.3 2.4-.8 3.1-1.5 1.2-.3 1.2 .1 3.6 1.1 2.5 .3 1.8 0 1.2-.3 1.2-.6 1.2-.8 .6-.6 .6-.9 .6-1.3 .6-1.9 .6-3 .7-4 1.2-11.5 2.4-28.6 .6-5.6 .6-3.8 .6-1.8 .6 .4 .6 2.5 .6 4.4 3.1 31.9 1.2 9.4 .6 3.3 .6 2.3 .6 1.6 .6 .9 .6 .4 .6 0 .6-.4 1.8-1.4 .6-.3 .7 0 .6 .3 1.2 1.3 3.6 6.7 1.2 1.9 2.4 2.5 1.9 1.5 1.2 .5 1.8-.1 17-1.2 3.6-.1 19.4 .6 7.9 .7 3 .1 3-.3 6.7-1.5 2.4-.2 4.9 .2 15.2 .8 5.4 .5 1.8 0 1.8-.5 .6-1.2 1.3-3.4 .6-.3 .6 .8 1.2 3.6 .6 2.3 .6 3.6 .6 5.4 .6 7.4 1.8 27.9 .6 6.3 .6 2.3 .7-2.3 .6-6.4 1.8-29.6 1.2-16.6 .6-5.8 .6-4.2 .6-2.2 .6-.5 .6 1.2 1.8 8 .6 1.9 .6 1.2 1.3 1.5 6.6 6.5 1.2 1.3 .7 .6 .6 .3 .6-.2 1.2-1.5 1.2-2.5"/><path d="M324.8 100.9l4.3-1.5 6.1-1.1 1.8 0 2.4 .3 4.2 .8 3.7 .8 1.8 .2 1.8-.3 2.4-.8 3.7-1.9 .6-.1 1.2 .2 3.6 1.1 2.5 .3 1.8 .1 1.8-.6 1.8-1 .6-.5 .6-.6 .6-.9 .6-1.4 .6-2.2 .7-3.2 1.2-9.1 2.4-22.8 .6-4.4 .6-3 .6-1.5 .6 .4 .6 2 .6 3.5 3.1 25.3 1.2 7.4 .6 2.6 .6 1.9 .6 1.2 .6 .6 .6 .3 .6-.1 .6-.3 1.8-1.4 .6-.2 .7-.1 .6 .2 .6 .5 1.2 1.5 4.2 6.6 3 3 1.3 1 .6 .3 .6 .1 2.4-.1 19.4-1.3 20 .5 7.9 .8 3 .1 2.4-.2 6.7-1.5 3-.3 4.9 .2 15.2 .8 5.4 .5 1.8 0 1.8-.6 .6-1.1 1.3-3.4 .6-.4 .6 .8 1.2 3.1 .6 1.9 .6 2.7 .6 4.1 .6 5.7 1.8 21.4 .6 4.9 .6 1.7 .7-1.8 .6-4.9 3-37 .6-5.1 .6-3.8 .6-2 .6-.3 .6 1.2 1.8 8.1 .6 1.9 .6 1.2 .7 .7 2.4 2.2 6 6.1 .7 .5 .6 .3 .6-.2 1.2-1.6 1.2-2.4"/><path d="M324.8 100l1.3-.3 3.6-.2 4.9-.8 1.8-.1 2.4 .2 4.2 .7 4.9 1 1.8 0 1.2-.2 2.4-.8 3.1-1.6 1.2-.3 1.2 .2 3.6 1 3.1 .4 1.8-.1 1.2-.5 1.2-.7 1.2-1.1 .6-.9 .6-1.3 .6-2 .6-2.9 .7-4.1 1.2-11.4 2.4-28.6 .6-5.6 .6-3.8 .6-1.8 .6 .4 .6 2.6 .6 4.4 3.1 31.7 1.2 9.3 .6 3.2 .6 2.3 .6 1.5 .6 .8 .6 .2 .6-.2 .6-.5 1.8-1.9 .6-.3 .7-.1 .6 .2 .6 .6 1.2 2.1 3.6 7.9 1.2 2.2 1.8 2.2 1.9 1.6 1.2 .4 1.8 0 17-1.3 3.6-.2 19.4 .5 7.9 .7 3 .1 2.4-.2 6.7-1.4 3-.3 5.5 .2 13.9 .7 6.1 .5 1.8 0 1.8-.5 .6-1.2 1.3-3.6 .6-.4 .6 .8 1.2 3.6 .6 2.3 .6 3.4 .6 5.4 .6 7.5 1.8 28.4 .6 6.4 .6 2.3 .7-2.3 .6-6.5 1.8-30.1 1.2-16.7 .6-5.9 .6-4.2 .6-2.2 .6-.5 .6 1.1 1.8 7.3 .6 1.7 .6 1 .7 .7 1.8 1.4 6.6 6.5 .7 .5 .6 .3 .6-.2 1.2-1.6 1.2-2.5"/><path d="M324.8 100.4l2.5-.6 6.6-1.2 1.9-.1 3.6 .3 4.2 .7 4.3 1 1.8 0 1.2-.2 2.4-.9 3.1-1.6 1.2-.3 1.2 .1 3.6 1.1 2.5 .3 1.8 .1 1.2-.3 1.2-.6 1.2-.9 .6-.7 .6-.9 .6-1.4 .6-2.1 .6-3 .7-4.2 1.2-12 2.4-29.7 .6-5.8 .6-4 .6-1.9 .6 .4 .6 2.7 .6 4.6 3.1 33.1 1.2 9.8 .6 3.4 .6 2.4 .6 1.6 .6 1 .6 .3 .6-.1 .6-.3 1.8-1.6 .6-.3 .7-.1 .6 .3 .6 .6 1.2 1.9 4.2 8.5 .6 .9 1.8 2.1 1.9 1.6 1.2 .4 1.8 0 17-1.4 3.6-.1 19.4 .5 7.9 .7 3 .1 2.4-.2 6.7-1.4 3-.3 5.5 .2 14.6 .8 5.4 .4 1.8 0 1.8-.5 .6-1.2 1.3-3.5 .6-.4 .6 .8 1.2 3.6 .6 2.3 .6 3.5 .6 5.4 .6 7.6 1.8 28.5 .6 6.4 .6 2.3 .7-2.3 .6-6.6 1.8-30.1 1.2-16.6 .6-5.9 .6-4.1 .6-2.2 .6-.5 .6 1.1 1.8 7.3 .6 1.7 .6 1.1 .7 .7 2.4 2.1 6 6 .7 .6 .6 .2 .6-.2 1.2-1.5 1.2-2.5"/><path d="M324.8 102.3l1.3-.7 1.8-1.3 1.2-.7 5.5-1 1.8-.1 2.4 .2 4.8 .8 3.7 .9 1.8 .2 1.8-.3 2.4-.9 3.7-1.9 .6 0 1.2 .1 3.6 1.1 2.5 .4 1.8 0 1.2-.3 1.2-.6 1.2-.7 .6-.6 .6-.7 .6-1.1 .6-1.6 .6-2.5 .7-3.5 1.2-9.9 2.4-24.9 .6-4.8 .6-3.4 .6-1.5 .6 .4 .6 2.2 .6 3.8 3.1 27.6 1.2 8.1 .6 2.8 .6 2 .6 1.4 .6 .7 .6 .2 .6-.1 .6-.4 1.8-1.5 .6-.3 .7-.1 .6 .3 .6 .5 1.2 1.7 3.6 6.7 1.2 1.9 2.4 2.6 1.3 1 .6 .3 .6 .1 2.4 0 16.4-1.4 3-.1 19.4 .5 8.5 .7 3 .1 2.4-.2 6.7-1.4 3-.3 5.5 .2 13.9 .7 6.1 .5 1.8 0 1.8-.5 .6-1.2 1.3-3.6 .6-.4 .6 .8 1.2 3.4 .6 2 .6 3 .6 4.7 .6 6.6 1.8 25 .6 5.6 .6 2 .7-2.1 .6-5.7 1.8-26.7 1.2-15.3 .6-5.6 .6-3.9 .6-2.2 .6-.4 .6 1.2 1.8 7.9 .6 1.9 .6 1.1 .7 .8 2.4 2.2 6 6 .7 .6 .6 .2 .6-.2 1.2-1.5 1.2-2.5"/><path d="M324.8 101.1l4.3-1.6 6.1-1.1 1.8 0 2.4 .3 4.2 .7 3.7 .9 1.8 .2 1.8-.3 2.4-.9 3.1-1.7 1.2-.3 1.2 .2 3.6 1.1 2.5 .3 1.8 .1 1.2-.3 1.2-.7 1.2-.9 .6-.8 .6-.9 .6-1.5 .6-2.3 .6-3.3 .7-4.5 1.2-13 2.4-32.2 .6-6.2 .6-4.4 .6-2 .6 .5 .6 2.9 .6 4.9 3.1 35.8 1.2 10.5 .6 3.6 .6 2.5 .6 1.6 .6 .9 .6 .2 .6-.3 2.4-2.9 .6-.5 .7-.1 .6 .3 .6 .7 .6 1.1 4.2 10.5 1.2 2.5 1.8 2.4 1.9 1.7 1.2 .4 1.8 0 17-1.4 3.6-.1 19.4 .5 7.9 .7 3 .1 2.4-.2 6.7-1.5 3-.3 6.1 .2 13.3 .8 6.1 .5 1.8 0 1.8-.6 .6-1.2 1.3-3.6 .6-.5 .6 .9 1.2 3.6 .6 2.3 .6 3.6 .6 5.5 .6 7.7 1.8 29.2 .6 6.5 .6 2.4 .7-2.4 .6-6.7 1.8-30.9 1.2-17 .6-6 .6-4.2 .6-2.3 .6-.5 .6 1.1 1.8 7.6 .6 1.7 .6 1.1 9.1 9 .7 .5 .6 .3 .6-.3 1.2-1.5 1.2-2.5"/><path d="M324.8 100.7l4.3-1.2 4.8-.8 1.9-.2 3.6 .3 4.2 .7 4.3 .9 1.8 .1 1.2-.3 2.4-.8 3.1-1.6 1.2-.3 1.2 .2 3.6 1 2.5 .3 1.8 .1 1.2-.3 1.2-.6 1.2-.8 .6-.6 .6-.8 .6-1.3 .6-1.9 .6-2.8 .7-3.8 1.2-11.1 2.4-27.5 .6-5.4 .6-3.7 .6-1.7 .6 .4 .6 2.4 .6 4.3 3.1 30.6 1.2 9 .6 3.1 .6 2.2 .6 1.4 .6 .8 .6 .2 .6-.2 .6-.4 1.8-1.8 .6-.4 .7 0 .6 .2 .6 .6 .6 .9 4.2 8.5 1.2 1.9 2.4 2.7 1.3 1 .6 .3 .6 .1 2.4-.1 16.4-1.2 3-.1 20 .5 7.9 .7 3 .1 2.4-.2 6.7-1.5 3-.3 4.9 .2 15.2 .8 5.4 .5 1.8 0 1.8-.6 .6-1.2 1.3-3.4 .6-.5 .6 .9 1.2 3.4 .6 2.1 .6 3.1 .6 4.9 .6 6.7 1.8 25.6 .6 5.7 .6 2.1 .7-2.1 .6-5.9 1.8-27.1 1.2-15.2 .6-5.4 .6-3.9 .6-2.1 .6-.4 .6 1.1 1.8 7.6 .6 1.8 .6 1.2 .7 .8 7.2 7.1 1.2 1.3 .7 .6 .6 .2 .6-.2 1.2-1.5 1.2-2.5"/><path d="M324.8 101.5l4.3-2 6.1-1 1.8 0 2.4 .3 4.2 .7 3.7 .8 1.8 .2 1.8-.3 2.4-.8 3.1-1.7 1.2-.3 1.2 .2 3.6 1.1 2.5 .3 1.8 .1 1.2-.4 1.2-.6 1.2-.8 .6-.7 .6-.9 .6-1.3 .6-2 .6-3 .7-4.1 1.2-11.7 2.4-29.2 .6-5.6 .6-4 .6-1.8 .6 .4 .6 2.6 .6 4.5 3.1 32.4 1.2 9.6 .6 3.2 .6 2.3 .6 1.5 .6 .8 .6 .2 .6-.2 2.4-2.5 .6-.4 .7 0 .6 .2 .6 .6 1.2 2.2 3 6.7 1.2 2.5 .6 .9 1.2 1.5 1.2 1.3 1.3 1 1.2 .4 1.8 0 17-1.3 3.6-.1 19.4 .5 7.9 .7 3 .1 2.4-.2 6.7-1.5 3-.3 5.5 .2 14.6 .8 5.4 .5 1.8 0 1.8-.6 .6-1.2 1.3-3.5 .6-.4 .6 .9 1.2 3.5 .6 2.2 .6 3.4 .6 5.3 .6 7.3 1.8 27.6 .6 6.2 .6 2.3 .7-2.3 .6-6.3 1.8-29.3 1.2-16.3 .6-5.7 .6-4 .6-2.3 .6-.4 .6 1.1 1.8 8 .6 1.9 .6 1.2 1.3 1.6 6.6 6.6 1.2 1.4 .7 .5 .6 .3 .6-.2 1.2-1.5 1.2-2.4"/><path d="M324.8 100l1.9-.3 3-.3 4.9-.8 1.8-.1 2.4 .2 4.2 .7 4.9 1 1.8 .1 1.8-.4 2.5-.9 3-1.6 .6-.1 1.2 .2 3.6 1.1 4.3 .3 1.8-.5 2.4-1.3 .6-.5 .6-.8 .6-1.2 .6-1.9 .7-2.7 1.2-7.8 2.4-19.6 .6-3.8 .6-2.7 .6-1.2 .6 .3 .6 1.7 .6 3 3.1 21.9 1.2 6.4 1.2 4 .6 1.1 .6 .7 .6 .3 .6 .1 .6-.2 2.4-.8 1.3 .1 .6 .4 1.2 1.1 4.8 5.6 3.1 2.6 1.2 .7 .6 .1 2.4-.1 19.4-1.3 20 .5 7.9 .7 3 .2 2.4-.3 6.7-1.4 3-.3 4.9 .1 15.2 .9 5.4 .5 1.8 0 1.8-.6 .6-1.2 1.3-3.4 .6-.4 .6 .8 .6 1.4 1.2 3.1 .6 2.3 .6 3.4 .6 4.9 1.8 18.2 .6 4.1 .6 1.4 .7-1.5 .6-4.2 3-32 .6-4.6 .6-3.4 .6-1.8 .6-.3 .6 1.2 1.8 7.4 .6 1.7 .6 1.1 .7 .6 1.8 1.4 6.6 6.5 .7 .5 .6 .3 .6-.2 1.2-1.6 1.2-2.5"/><path d="M324.8 98.8l1.3-.1 3 .5 5.5-1 2.4 0 6 .9 4.3 1 1.8 .2 1.8-.3 2.4-.9 3.7-1.9 .6-.1 1.2 .2 3.6 1.1 2.5 .3 1.8 .1 1.2-.3 1.8-.8 1.8-1.2 .6-.8 .6-1.3 .6-1.9 .7-2.9 1.2-8.3 2.4-20.8 .6-4.1 .6-2.8 .6-1.3 .6 .3 .6 1.9 .6 3.2 3.1 23.2 1.2 6.8 1.2 4.2 .6 1.3 .6 .7 .6 .4 .6 .1 .6-.1 2.4-.8 1.3 .2 .6 .3 1.2 1.2 4.2 4.8 3.7 3.1 1.2 .7 .6 .1 2.4-.1 19.4-1.2 20 .5 7.9 .7 3 .1 2.4-.2 6.7-1.4 3-.3 4.9 .1 15.2 .9 5.4 .4 1.8 0 1.8-.5 .6-1.2 1.3-3.3 .6-.4 .6 .8 1.2 3.2 .6 1.8 .6 2.8 .6 4.2 .6 5.7 1.8 21.7 .6 4.8 .6 1.8 .7-1.8 .6-5 1.8-23.3 1.2-13.5 .6-5.1 .6-3.6 .6-1.9 .6-.4 .6 1.2 1.8 7.1 .6 1.6 .6 1 2.5 1.8 6.6 6.5 .7 .5 .6 .3 .6-.3 1.2-1.5 1.2-2.5"/><path d="M324.8 100.6l4.3-1.2 4.8-.9 1.9-.1 3.6 .3 4.2 .7 4.3 1 1.8 0 1.2-.2 2.4-.9 3.1-1.6 1.2-.3 1.2 .1 3.6 1.1 2.5 .3 1.8 .1 1.2-.3 1.2-.6 1.2-.9 .6-.6 .6-.8 .6-1.3 .6-2 .6-2.9 .7-4 1.2-11.5 2.4-28.5 .6-5.6 .6-3.8 .6-1.8 .6 .4 .6 2.5 .6 4.4 3.1 31.7 1.2 9.3 .6 3.2 .6 2.2 .6 1.4 .6 .7 .6 .1 .6-.3 2.4-2.9 .6-.5 .7-.1 .6 .3 .6 .6 1.2 2.3 3 7.2 1.2 2.5 .6 1 1.2 1.5 1.2 1.3 1.3 1 1.2 .5 1.8-.1 17-1.3 3.6-.1 19.4 .5 7.9 .7 3 .2 2.4-.3 6.7-1.4 3-.3 5.5 .2 14.6 .8 5.4 .4 1.8 .1 1.8-.6 .6-1.2 1.3-3.5 .6-.4 .6 .9 1.2 3.4 .6 2.2 .6 3.3 .6 5 .6 7.1 1.8 26.8 .6 6 .6 2.1 .7-2.2 .6-6.1 1.8-28.4 1.2-16 .6-5.7 .6-4 .6-2.3 .6-.4 .6 1.1 1.8 7.7 .6 1.8 .6 1.1 .7 .8 2.4 2.1 6 6.1 .7 .5 .6 .3 .6-.2 1.2-1.6 1.2-2.4"/><path d="M324.8 99.5l1.3-.2 3 .2 5.5-1 1.8 0 2.4 .2 4.2 .7 4.9 1.1 1.8 .1 1.2-.3 2.4-.9 3.1-1.6 1.2-.4 1.2 .2 3.6 1.1 3.1 .4 1.8-.1 1.2-.5 1.2-.8 1.2-1.2 .6-1 .6-1.5 .6-2.2 .6-3.3 .7-4.4 1.2-12.7 2.4-31.6 .6-6.1 .6-4.3 .6-2 .6 .5 .6 2.8 .6 4.9 3.1 35.1 1.2 10.3 .6 3.6 .6 2.5 .6 1.7 .6 .9 .6 .3 .6-.1 .6-.5 1.8-2 .6-.3 .7-.1 .6 .3 .6 .6 1.2 2.2 3.6 8.5 1.2 2.3 1.8 2.4 1.9 1.6 1.2 .5 1.8-.1 17-1.4 3.6-.1 18.8 .5 8.5 .7 3 .1 2.4-.2 6.7-1.4 3-.3 12.2 .5 12.7 .9 2.4 0 1.8-.5 .6-1.3 1.3-3.7 .6-.4 .6 .9 1.2 3.7 .6 2.3 .6 3.7 .6 5.6 .6 8 1.8 30.2 .6 6.8 .6 2.4 .7-2.5 .6-6.9 1.8-31.9 1.2-17.7 .6-6.3 .6-4.4 .6-2.4 .6-.5 .6 1.2 1.8 8 .6 1.8 .6 1.2 .7 .8 2.4 2.2 6 6 .7 .6 .6 .2 .6-.2 1.2-1.5 1.2-2.5"/><path d="M324.8 99.4l1.3-.1 3 .2 5.5-.9 1.8-.1 3.6 .4 3.6 .6 3.7 .9 1.8 .1 1.8-.2 2.4-.9 3.1-1.5 1.2-.3 1.2 .1 3.6 1.1 2.5 .3 1.8 0 1.2-.3 1.2-.6 1.2-.8 .6-.6 .6-.8 .6-1.3 .6-1.9 .6-2.8 .7-3.8 1.2-11.1 2.4-27.5 .6-5.3 .6-3.7 .6-1.7 .6 .4 .6 2.4 .6 4.2 3.1 30.6 1.2 8.9 .6 3.1 .6 2.1 .6 1.4 .6 .7 .6 .1 .6-.3 2.4-2.6 .6-.5 .7-.1 .6 .3 .6 .6 1.2 2.1 3.6 8.2 1.2 2.2 1.8 2.2 1.9 1.7 1.2 .4 1.8 0 17-1.4 3.6-.1 19.4 .5 7.9 .7 3 .1 2.4-.2 6.7-1.4 3-.3 5.5 .1 13.9 .8 6.1 .5 1.8 0 1.8-.5 .6-1.3 1.3-3.5 .6-.5 .6 .9 1.2 3.4 .6 2.1 .6 3.2 .6 4.9 .6 6.9 1.8 26.2 .6 5.9 .6 2.1 .7-2.2 .6-6 1.8-27.9 1.2-15.6 .6-5.7 .6-4 .6-2.2 .6-.4 .6 1.2 1.8 8 .6 1.9 .6 1.3 1.3 1.4 6.6 6.6 1.2 1.3 .7 .6 .6 .3 .6-.2 1.2-1.6 1.2-2.4"/><path d="M324.8 99.5l1.3-.2 3 .1 5.5-.9 1.8-.1 2.4 .2 4.2 .7 4.9 1.1 1.8 0 1.2-.2 2.4-.8 3.1-1.7 1.2-.3 1.2 .2 3.6 1.1 3.1 .3 1.8-.1 1.2-.5 1.2-.7 1.2-1.2 .6-1 .6-1.4 .6-2.2 .6-3.2 .7-4.4 1.2-12.6 2.4-31.2 .6-6 .6-4.2 .6-2 .6 .5 .6 2.8 .6 4.8 3.1 34.6 1.2 10.3 .6 3.5 .6 2.5 .6 1.7 .6 .9 .6 .3 .6-.2 .6-.5 1.8-1.8 .6-.4 .7-.1 .6 .3 .6 .6 1.2 2.2 3 6.8 1.2 2.4 .6 1 1.2 1.5 1.2 1.3 1.3 1 1.2 .4 1.8 0 17-1.3 3.6-.2 19.4 .6 7.9 .7 3 .1 3-.3 6.7-1.5 2.4-.2 5.5 .2 14.6 .8 5.4 .5 1.8 0 1.8-.6 .6-1.2 1.3-3.5 .6-.4 .6 .9 1.2 3.7 .6 2.4 .6 3.7 .6 5.7 .6 8 1.8 30 .6 6.7 .6 2.5 .7-2.5 .6-6.9 1.8-31.8 1.2-17.7 .6-6.2 .6-4.4 .6-2.4 .6-.5 .6 1.2 1.8 8.4 .6 1.9 .6 1.3 1.3 1.6 6.6 6.5 1.2 1.4 .7 .6 .6 .2 .6-.2 1.2-1.5 1.2-2.4"/><path d="M324.8 101.6l4.3-1.9 5.5-1 1.8-.1 2.4 .3 4.8 .7 3.7 .8 1.8 .2 1.8-.3 2.4-.8 3.7-1.7 .6-.1 1.2 .1 3.6 1.1 4.3 .4 1.8-.6 1.8-.9 .6-.5 .6-.5 .6-.8 .6-1.3 .6-2 .7-2.7 1.2-8.1 2.4-20.1 .6-3.9 .6-2.7 .6-1.3 .6 .3 .6 1.8 .6 3.1 3.1 22.4 1.2 6.7 1.2 4 .6 1.2 .6 .7 .6 .4 .6 .1 .6-.1 2.4-.8 1.3 .1 .6 .4 1.2 1.1 4.2 4.6 3.7 2.8 1.2 .7 .6 .1 2.4 0 19.4-1.2 20 .5 7.9 .7 3 .1 2.4-.2 6.7-1.4 3-.3 4.3 .1 15.8 .9 5.4 .5 1.8 0 1.8-.6 .6-1.1 1.3-3.3 .6-.4 .6 .8 1.2 3.2 .6 1.8 .6 2.7 .6 4 .6 5.6 1.8 20.8 .6 4.6 .6 1.7 .7-1.7 .6-4.8 1.8-22.4 1.2-13.1 .6-4.8 .6-3.5 .6-1.9 .6-.3 .6 1.1 1.8 7.7 .6 1.7 .6 1.2 .7 .8 7.2 7 1.2 1.4 .7 .5 .6 .3 .6-.2 1.2-1.6 1.2-2.4"/><path d="M324.8 101.1l4.3-1.6 6.1-1 1.8 0 2.4 .3 4.2 .6 3.7 .9 1.8 .2 1.8-.3 2.4-.8 3.1-1.6 1.2-.3 1.2 .1 3.6 1.1 2.5 .3 1.8 .1 1.2-.4 1.2-.6 1.2-.9 .6-.7 .6-.9 .6-1.4 .6-2.2 .6-3.2 .7-4.4 1.2-12.4 2.4-30.9 .6-6 .6-4.2 .6-1.9 .6 .4 .6 2.8 .6 4.7 3.1 34.4 1.2 10.1 .6 3.4 .6 2.5 .6 1.5 .6 .8 .6 .2 .6-.2 2.4-2.8 .6-.4 .7-.1 .6 .3 .6 .6 .6 1.1 4.2 10 1.2 2.3 1.8 2.3 1.9 1.7 1.2 .4 1.8 0 17-1.4 3.6-.1 19.4 .5 7.9 .7 3 .1 3-.3 6.7-1.4 2.4-.2 5.5 .1 13.9 .8 6.1 .5 1.8 0 1.8-.5 .6-1.3 1.3-3.5 .6-.4 .6 .8 1.2 3.6 .6 2.2 .6 3.5 .6 5.4 .6 7.5 1.8 28.4 .6 6.4 .6 2.3 .7-2.3 .6-6.5 1.8-30.2 1.2-16.8 .6-6 .6-4.2 .6-2.3 .6-.5 .6 1.2 1.8 8.2 .6 1.9 .6 1.3 1.3 1.5 6.6 6.6 1.2 1.4 .7 .5 .6 .3 .6-.2 1.2-1.5 1.2-2.5"/><path d="M324.8 101.3l4.3-1.8 6.1-1.1 1.8 .1 2.4 .2 4.2 .8 3.7 .9 1.8 .2 1.8-.3 2.4-.9 3.1-1.7 1.2-.3 1.2 .2 3.6 1.1 2.5 .3 1.8 .1 1.2-.4 1.2-.6 1.2-.9 .6-.7 .6-1 .6-1.4 .6-2.1 .6-3.1 .7-4.4 1.2-12.3 2.4-30.8 .6-5.9 .6-4.2 .6-1.9 .6 .4 .6 2.8 .6 4.7 3.1 34.1 1.2 10.1 .6 3.4 .6 2.4 .6 1.6 .6 .8 .6 .2 .6-.3 2.4-2.8 .6-.5 .7-.1 .6 .3 .6 .7 1.2 2.3 3.6 8.8 1.2 2.4 1.8 2.4 1.9 1.7 1.2 .4 1.8 0 17-1.4 3.6-.1 19.4 .5 7.9 .7 3 .1 2.4-.2 6.7-1.5 3-.3 12.2 .5 12.7 .9 2.4 .1 1.8-.6 .6-1.2 1.3-3.6 .6-.5 .6 .9 1.2 3.5 .6 2.3 .6 3.4 .6 5.2 .6 7.4 1.8 28 .6 6.3 .6 2.3 .7-2.3 .6-6.4 1.8-29.8 1.2-16.5 .6-5.8 .6-4.2 .6-2.2 .6-.5 .6 1.2 1.8 8.1 .6 1.9 .6 1.3 1.3 1.6 6.6 6.6 1.2 1.4 .7 .5 .6 .3 .6-.2 1.2-1.5 1.2-2.4"/><path d="M324.8 99.4l1.3-.2 3 .2 5.5-.9 1.8-.1 3.6 .4 3.6 .6 3.7 .9 1.8 .2 1.8-.3 2.4-.8 3.7-1.9 .6-.1 1.2 .2 3.6 1.1 2.5 .3 1.8 .1 1.2-.4 1.2-.6 1.2-.8 .6-.6 .6-.8 .6-1.2 .6-1.9 .6-2.8 .7-3.8 1.2-11.1 2.4-27.5 .6-5.3 .6-3.7 .6-1.8 .6 .5 .6 2.4 .6 4.2 3.1 30.6 1.2 9 .6 3.2 .6 2.2 .6 1.5 .6 .8 .6 .3 .6-.1 .6-.4 1.8-1.5 .6-.3 .7-.1 .6 .3 .6 .5 1.2 1.9 3.6 7 1.2 2 2.4 2.7 1.3 .9 .6 .3 .6 .2 2.4-.1 16.4-1.3 3-.1 20 .5 7.9 .7 3 .1 2.4-.2 6.7-1.4 3-.4 5.5 .2 14.6 .8 5.4 .5 1.8 0 1.8-.5 .6-1.3 1.3-3.5 .6-.4 .6 .8 1.2 3.3 .6 2.1 .6 3 .6 4.7 .6 6.6 1.8 24.9 .6 5.6 .6 2 .7-2 .6-5.7 1.8-26.6 1.2-15 .6-5.4 .6-3.8 .6-2.1 .6-.4 .6 1.1 1.8 7.5 .6 1.8 .6 1.1 .7 .7 2.4 2.2 6 6.1 .7 .5 .6 .3 .6-.2 1.2-1.5 1.2-2.5"/><path d="M324.8 99l1.3-.1 3 .4 5.5-1 2.4 0 6 .9 4.3 1 1.8 .2 1.8-.3 2.4-.9 3.7-1.9 .6 0 1.2 .1 3.6 1.1 2.5 .3 1.8 .1 1.8-.6 1.8-1 .6-.5 .6-.7 .6-1 .6-1.7 .6-2.4 .7-3.5 1.2-10 2.4-24.9 .6-4.9 .6-3.3 .6-1.6 .6 .4 .6 2.2 .6 3.8 3.1 27.7 1.2 8.2 .6 2.8 .6 2 .6 1.2 .6 .7 .6 .2 .6-.1 .6-.5 1.8-1.6 .6-.3 .7-.1 .6 .2 .6 .6 1.2 1.7 3 5.7 1.2 2 .6 .8 2.4 2.5 1.3 .9 .6 .3 .6 .1 2.4 0 19.4-1.3 20 .5 7.9 .7 3 .1 2.4-.2 6.7-1.4 3-.4 4.9 .2 15.2 .9 5.4 .4 1.8 0 1.8-.5 .6-1.2 1.3-3.4 .6-.4 .6 .8 1.2 3.3 .6 2 .6 3 .6 4.5 .6 6.3 1.8 23.7 .6 5.4 .6 1.9 .7-2 .6-5.4 1.8-25.3 1.2-14.3 .6-5.2 .6-3.6 .6-2 .6-.4 .6 1.1 1.8 7.4 .6 1.7 .6 1.1 .7 .8 2.4 2.2 6 6.1 .7 .6 .6 .2 .6-.2 1.2-1.5 1.2-2.5"/><path d="M324.8 100.6l4.3-1.2 4.8-.9 1.9-.1 3.6 .3 4.2 .7 4.3 .9 1.8 .1 1.2-.3 2.4-.8 3.1-1.6 1.2-.3 1.2 .2 3.6 1 2.5 .3 1.8 .1 1.2-.3 1.2-.6 1.2-.8 .6-.6 .6-.9 .6-1.3 .6-1.9 .6-2.9 .7-4 1.2-11.5 2.4-28.5 .6-5.5 .6-3.9 .6-1.7 .6 .4 .6 2.5 .6 4.4 3.1 31.7 1.2 9.3 .6 3.1 .6 2.3 .6 1.5 .6 .7 .6 .2 .6-.2 2.4-2.5 .6-.3 .7-.1 .6 .2 .6 .6 .6 1 4.2 9.1 1.2 2.1 1.8 2.2 1.9 1.6 1.2 .4 1.8 0 17-1.3 3.6-.1 19.4 .5 7.9 .7 3 .1 2.4-.2 6.7-1.5 3-.3 5.5 .2 14.6 .8 5.4 .5 1.8 0 1.8-.6 .6-1.2 1.3-3.5 .6-.4 .6 .8 1.2 3.5 .6 2.1 .6 3.3 .6 5 .6 7 1.8 26.6 .6 5.9 .6 2.2 .7-2.2 .6-6.1 1.8-28.2 1.2-15.8 .6-5.7 .6-4 .6-2.2 .6-.4 .6 1.1 1.8 7.5 .6 1.7 .6 1.1 .7 .7 2.4 2.1 6 6.1 .7 .5 .6 .3 .6-.3 1.2-1.5 1.2-2.5"/><path d="M324.8 99l1.3-.1 3 .5 5.5-1 2.4 0 6 .9 4.3 1 1.8 .2 1.8-.3 2.4-.9 3.7-1.9 .6-.1 1.2 .2 3.6 1.1 2.5 .3 1.8 .1 1.8-.6 1.8-.9 .6-.5 .6-.6 .6-.9 .6-1.5 .6-2.2 .7-3.1 1.2-9 2.4-22.5 .6-4.4 .6-3 .6-1.4 .6 .3 .6 2 .6 3.5 3.1 25 1.2 7.4 .6 2.5 .6 1.9 .6 1.2 .6 .7 .6 .2 .6 0 .6-.3 1.8-1.3 .6-.2 .7-.1 .6 .2 1.2 1.1 4.8 7.2 3 2.9 1.3 1 .6 .3 .6 .1 2.4-.1 19.4-1.3 20 .6 7.9 .7 3 .1 2.4-.2 6.7-1.5 3-.3 4.9 .2 15.2 .8 5.4 .5 1.8 0 1.8-.5 .6-1.2 1.3-3.4 .6-.4 .6 .8 .6 1.5 1.2 3.4 .6 2.7 .6 4 .6 5.6 1.8 21 .6 4.7 .6 1.7 .7-1.7 .6-4.9 3-36.4 .6-5.2 .6-3.7 .6-2.1 .6-.3 .6 1.3 1.8 8 .6 1.8 .6 1.2 .7 .7 1.8 1.5 6.6 6.5 .7 .6 .6 .2 .6-.2 1.2-1.5 1.2-2.5"/><path d="M324.8 102.2l1.3-.7 1.8-1.4 1.2-.7 5.5-1 1.8-.1 2.4 .2 4.8 .8 3.7 .8 1.8 .2 1.8-.3 2.4-.8 3.7-1.8 .6 0 1.2 .1 3.6 1.1 4.3 .3 1.2-.3 2.4-.9 1.2-.7 .6-.6 .6-1 .6-1.6 .7-2.4 1.2-6.9 2.4-17.3 .6-3.4 .6-2.3 .6-1.1 .6 .3 .6 1.5 .6 2.7 3.1 19.2 1.2 5.8 1.2 3.5 .6 1 .6 .6 .6 .4 1.2 0 2.4-.7 1.3 .2 .6 .3 1.2 .9 3.6 3.4 2.4 1.6 1.9 1.5 1.2 .6 .6 .1 2.4 0 16.4-1.1 3.6-.1 19.4 .5 7.9 .8 3 .1 2.4-.2 6.7-1.5 3-.3 4.3 .2 15.8 .8 5.4 .5 1.8 0 1.8-.5 .6-1.2 1.3-3.2 .6-.4 .6 .8 .6 1.3 1.2 3 .6 2.2 .6 3.1 .6 4.4 1.8 16.2 .6 3.7 .6 1.3 .7-1.4 .6-3.7 3-29 .6-4.3 .6-3.2 .6-1.8 .6-.2 .6 1.3 1.8 7.6 .6 1.7 .6 1.2 .7 .7 2.4 2.1 6 6.1 .7 .5 .6 .3 .6-.2 1.2-1.6 1.2-2.4"/><path d="M324.8 99.9l1.9-.4 3-.4 4.2-.8 1.9-.2 3.6 .3 4.2 .8 4.3 1 1.8 0 1.8-.4 2.5-1 1.8-1.1 1.2-.5 .6-.1 1.2 .1 3.6 1.2 2.5 .3 1.8 .1 1.2-.3 2.4-1 1.2-.7 .6-.5 .6-1 .6-1.6 .7-2.4 1.2-7 2.4-17.4 .6-3.4 .6-2.4 .6-1.1 .6 .3 .6 1.6 .6 2.6 3.1 19.5 1.2 5.8 1.2 3.6 .6 1.1 .6 .6 .6 .4 1.2 .2 2.4-.5 1.3 .2 .6 .3 1.2 .8 4.8 4.2 3.1 2.4 1.2 .7 .6 .1 2.4-.1 19.4-1.2 20 .5 7.9 .7 3 .1 2.4-.2 6.7-1.4 3-.4 4.3 .2 15.8 .9 5.4 .4 1.8 0 1.8-.5 .6-1.2 1.3-3.3 .6-.4 .6 .7 .6 1.4 1.2 3 .6 2.2 .6 3.3 .6 4.5 1.8 17.1 .6 3.8 .6 1.4 .7-1.4 .6-4 3-30.4 .6-4.5 .6-3.3 .6-1.9 .6-.2 .6 1.3 1.8 7.3 .6 1.6 .6 1 2.5 1.9 6.6 6.4 .7 .5 .6 .3 .6-.2 1.2-1.6 1.2-2.5"/><path d="M324.8 100.3l2.5-.6 6.6-1.1 1.9-.1 3.6 .3 4.2 .6 4.3 1 1.8 0 1.8-.4 2.5-.9 3-1.5 .6-.1 1.2 .2 3.6 1 4.3 .4 1.8-.5 1.8-.8 1.2-.7 .6-.6 .6-.9 .6-1.6 .7-2.2 1.2-6.6 2.4-16.5 .6-3.2 .6-2.2 .6-1.1 .6 .3 .6 1.5 1.2 5.8 1.9 11.6 1.2 6.5 1.2 4.4 .6 1.5 .6 1 .6 .6 .6 .4 .6 .2 3-.4 1.3 .2 .6 .2 4.8 3.6 2.4 1.4 1.9 1.4 1.2 .7 .6 .1 2.4 0 17-1.1 3-.1 19.4 .5 7.9 .7 3 .2 2.4-.2 6.7-1.5 3-.3 4.3 .1 15.8 .9 5.4 .5 1.8 0 1.8-.5 .6-1.2 1.3-3.1 .6-.4 .6 .7 .6 1.4 1.2 3 .6 2.2 .6 3.3 .6 4.4 1.8 16.5 .6 3.7 .6 1.4 .7-1.4 .6-3.8 3-29.4 .6-4.4 .6-3.2 .6-1.8 .6-.2 .6 1.2 1.8 7.2 .6 1.6 .6 1 2.5 1.9 6.6 6.5 .7 .5 .6 .3 .6-.3 1.2-1.5 1.2-2.5"/><path d="M324.8 102.9l1.3-.7 1.8-1.9 1.2-.9 .6-.2 4.9-.9 1.8-.1 2.4 .2 4.8 .8 3.7 .9 1.8 .2 1.8-.3 2.4-.8 3.1-1.7 1.2-.3 1.2 .2 3.6 1.1 4.3 .4 1.2-.3 3.6-1.4 .6-.5 .6-.7 .6-1.3 .7-2 1.2-5.9 2.4-14.8 .6-2.9 .6-2 .6-.9 .6 .2 .6 1.3 1.2 5.3 1.9 10.4 1.2 5.8 1.2 4 .6 1.3 .6 1 .6 .6 1.2 .5 3-.1 1.9 .4 1.2 .6 6 3.8 1.9 1.4 1.2 .7 .6 .1 2.4 0 19.4-1.2 20 .5 7.9 .7 3 .1 2.4-.2 6.7-1.4 3-.3 4.3 .1 15.8 .9 5.4 .4 1.8 0 1.8-.5 .6-1.1 1.3-3.3 .6-.4 .6 .7 .6 1.4 1.2 2.8 .6 2.1 .6 3 .6 4.1 1.8 15.5 .6 3.5 .6 1.2 .7-1.2 .6-3.6 3-27.6 .6-4.2 .6-3 .6-1.7 .6-.2 .6 1.2 1.8 6.9 .6 1.5 .6 1 2.5 1.9 6.6 6.4 .7 .5 .6 .3 .6-.2 1.2-1.6 1.2-2.5"/><path d="M324.8 99.4l1.3-.2 3 0 5.5-.9 1.8 0 3.6 .3 3.6 .6 3.7 .9 1.8 .2 1.8-.3 2.4-.8 3.1-1.6 1.2-.3 1.2 .1 3.6 1.1 3.7 .4 1.2-.1 4.2-1.4 .6-.4 .6-.6 .6-1.2 .7-1.7 1.2-5.3 2.4-13.2 .6-2.5 .6-1.8 .6-.8 .6 .2 .6 1.1 .6 2.1 3.1 14.7 1.2 4.4 1.2 2.7 .6 .8 .6 .5 .6 .3 1.2 .1 1.8-.3 1.3 0 1.8 .6 6.6 4.3 1.9 1.5 1.2 .6 .6 .1 2.4 0 19.4-1.2 20 .5 7.9 .7 3 .1 2.4-.2 6.7-1.4 3-.3 4.3 .1 15.8 .9 5.4 .4 1.8 0 1.8-.5 .6-1.1 1.3-3.3 .6-.4 .6 .7 .6 1.3 1.2 2.9 .6 2 .6 3 .6 4.2 1.8 15.6 .6 3.5 .6 1.2 .7-1.3 .6-3.6 3-27.5 .6-4 .6-3 .6-1.6 .6-.2 .6 1 1.8 6.2 .6 1.3 .6 .8 2.5 1.5 2.4 2.4 4.9 4.4 .6 .2 .6-.2 1.2-1.6 1.2-2.5"/><path d="M324.8 100.8l4.3-1.2 4.8-.8 1.9-.2 3.6 .3 4.2 .7 4.3 .9 1.8 0 1.8-.4 2.5-.8 3-1.5 .6-.1 1.2 .2 3.6 1 4.3 .3 1.8-.5 3-1.3 .6-.5 .6-.8 .6-1.3 .7-1.9 1.2-5.8 2.4-14.4 .6-2.7 .6-2 .6-.9 .6 .2 .6 1.3 .6 2.2 3.1 16 1.2 4.7 .6 1.6 .6 1.2 .6 .7 .6 .4 .6 .1 1.2-.3 1.8-1 .6-.2 1.3 .1 .6 .3 1.2 1 3.6 3.9 4.3 3.2 1.2 .7 .6 .1 2.4-.1 16.4-1 3.6-.1 19.4 .5 7.9 .7 3 .1 2.4-.2 6.7-1.4 3-.3 4.3 .1 15.8 .9 5.4 .5 1.8 0 1.8-.6 .6-1.1 1.3-3.2 .6-.4 .6 .7 .6 1.3 1.2 2.9 .6 1.9 .6 2.9 .6 4 1.8 14.9 .6 3.3 .6 1.2 .7-1.2 .6-3.5 3-26.8 1.2-7.2 .6-1.7 .6-.2 .6 1.2 1.8 6.8 .6 1.6 .6 .9 2.5 1.6 2.4 2.5 4.2 3.9 .7 .5 .6 .2 .6-.2 1.2-1.5 1.2-2.6"/><path d="M324.8 101.9l1.3-.6 1.8-1.2 1.2-.7 5.5-1 1.8-.1 2.4 .2 4.8 .8 3.7 .9 1.8 .2 1.8-.3 2.4-.8 3.7-1.9 .6-.1 1.2 .1 3.6 1.1 2.5 .4 1.8 .1 1.8-.6 1.8-.8 1.2-.8 .6-.7 .6-1 .6-1.7 .7-2.5 1.2-7.4 2.4-18.3 .6-3.5 .6-2.5 .6-1.1 .6 .2 .6 1.7 1.2 6.5 1.9 12.8 1.2 7.2 1.2 5 .6 1.5 .6 1.2 .6 .7 .6 .4 .6 .1 3-.4 1.3 .2 .6 .2 1.2 .9 4.2 3.9 3.7 2.8 1.2 .6 .6 .2 2.4-.1 19.4-1.2 20 .5 7.9 .7 3 .1 2.4-.2 6.7-1.4 3-.3 4.3 .1 15.8 .9 5.4 .4 1.8 0 1.8-.5 .6-1.2 1.3-3.3 .6-.4 .6 .8 .6 1.4 1.2 3.1 .6 2.4 .6 3.4 .6 4.9 1.8 18.1 .6 4.1 .6 1.4 .7-1.5 .6-4.2 3-31.5 .6-4.5 .6-3.2 .6-1.8 .6-.3 .6 1.1 1.8 6.8 .6 1.6 .6 .9 2.5 1.7 6.6 6.5 .7 .5 .6 .2 .6-.2 1.2-1.6 1.2-2.5"/><path d="M324.8 99.6l1.3-.2 3 .1 5.5-.9 1.8 0 3.6 .3 3.6 .6 3.7 .8 1.8 .2 1.8-.2 2.4-.8 3.7-1.8 .6-.1 1.2 .2 3.6 1 4.3 .4 1.2-.3 3.6-1.6 .6-.4 .6-.8 .6-1.3 .7-2 1.2-5.8 2.4-14.4 .6-2.9 .6-1.9 .6-.9 .6 .2 .6 1.3 1.2 5.1 1.9 10.2 1.2 5.8 1.2 3.9 1.2 2.2 .6 .7 1.2 .6 3.7 0 1.8 .6 6 3.4 2.5 1.8 1.2 .6 .6 .2 2.4-.1 16.4-1.1 3.6-.1 19.4 .5 7.9 .7 3 .2 2.4-.2 6.7-1.5 3-.3 4.3 .1 15.8 .9 5.4 .5 1.8 0 1.8-.5 .6-1.2 1.3-3.2 .6-.4 .6 .7 .6 1.3 1.2 2.8 .6 1.9 .6 2.9 .6 3.9 1.8 14.7 .6 3.3 .6 1.2 .7-1.2 .6-3.4 3-26.7 1.2-7.2 .6-1.7 .6-.2 .6 1.2 1.8 6.9 .6 1.5 .6 .9 2.5 1.7 2.4 2.4 4.2 3.9 .7 .5 .6 .3 .6-.3 1.2-1.5 1.2-2.6"/><path d="M324.8 98.3l1.3-.1 3 1 5.5-.8 3 0 6 .9 3.7 .8 1.8 .2 1.8-.2 2.4-.9 3.1-1.6 1.2-.3 1.2 .2 3.6 1 3.7 .4 1.2-.1 4.2-1.5 .6-.3 .6-.8 .6-1.1 .7-1.8 1.2-5.5 2.4-13.6 .6-2.7 .6-1.8 .6-.9 .6 .2 .6 1.3 .6 2.1 3.1 15.2 1.2 4.5 1.2 2.8 .6 .8 .6 .5 .6 .3 1.2 0 2.4-.4 1.3 .1 .6 .2 1.2 .7 3.6 2.6 2.4 1.5 1.9 1.3 1.2 .7 .6 .1 2.4 0 16.4-1.1 3.6-.1 19.4 .5 7.9 .7 3 .2 3-.4 6.7-1.4 2.4-.2 4.3 .1 15.8 .9 5.4 .5 1.8 0 1.8-.5 .6-1.2 1.3-3.2 .6-.4 .6 .7 .6 1.3 1.2 2.7 .6 1.8 .6 2.6 .6 3.6 1.8 13.5 .6 3.1 .6 1.1 .7-1.2 .6-3.1 3-24.8 1.2-6.9 .6-1.6 .6-.2 .6 1.2 1.8 6.8 .6 1.5 .6 .9 2.5 1.7 6.6 6.3 .7 .5 .6 .3 .6-.3 1.2-1.5 1.2-2.5"/><path d="M324.8 101.2l4.3-1.9 6.1-1 1.8 0 2.4 .3 4.2 .7 3.7 .9 1.8 .2 1.8-.3 2.4-.9 3.1-1.7 1.2-.3 1.2 .2 3.6 1.1 2.5 .3 1.8 .1 1.2-.3 3.6-1.4 .6-.5 .6-.7 .6-1.3 .7-2 1.2-5.9 2.4-14.6 .6-2.9 .6-2 .6-.9 .6 .2 .6 1.3 .6 2.3 3.1 16.4 1.2 4.9 1.2 3 .6 .9 .6 .5 .6 .3 1.2 .2 2.4-.4 1.3 .1 .6 .2 1.2 .8 3.6 2.6 2.4 1.5 1.9 1.3 1.2 .7 .6 .1 2.4 0 16.4-1.1 3.6-.1 19.4 .5 7.9 .7 3 .2 2.4-.3 6.7-1.4 3-.3 4.3 .1 15.8 .9 5.4 .5 1.8 0 1.8-.5 .6-1.2 1.3-3.2 .6-.4 .6 .7 .6 1.4 1.2 2.8 .6 2 .6 3 .6 4 1.8 15.2 .6 3.4 .6 1.2 .7-1.3 .6-3.5 3-27.4 1.2-7.4 .6-1.8 .6-.2 .6 1.2 1.8 7 .6 1.5 .6 1 2.5 1.6 2.4 2.4 4.2 3.9 .7 .5 .6 .2 .6-.2 1.2-1.6 1.2-2.5"/><path d="M324.8 101l4.3-1.5 6.1-1.1 1.8 0 2.4 .3 4.2 .7 3.7 .9 1.8 .2 1.8-.3 2.4-.9 3.7-1.9 .6-.1 1.2 .2 3.6 1.1 2.5 .3 1.8 .1 1.2-.3 2.4-1 1.2-.7 .6-.5 .6-1 .6-1.4 .7-2.2 1.2-6.6 2.4-16.4 .6-3.1 .6-2.2 .6-1.1 .6 .3 .6 1.4 .6 2.5 3.1 18.3 1.2 5.4 .6 1.8 .6 1.4 .6 .9 .6 .5 .6 .2 1.2-.1 2.4-1 1.3 .1 .6 .4 1.2 1 3.6 3.7 4.3 3.2 1.2 .7 .6 .1 2.4 0 16.4-1.1 3.6-.1 19.4 .5 7.9 .7 3 .2 2.4-.2 6.7-1.5 3-.3 4.3 .1 15.8 .9 5.4 .5 1.8 0 1.8-.5 .6-1.2 1.3-3.2 .6-.4 .6 .8 .6 1.3 1.2 3 .6 2.1 .6 3.2 .6 4.3 1.8 16.1 .6 3.6 .6 1.3 .7-1.3 .6-3.8 3-29.2 1.2-7.8 .6-1.8 .6-.2 .6 1.3 1.8 7.7 .6 1.7 .6 1.1 .7 .7 1.8 1.3 6.6 6.5 .7 .5 .6 .3 .6-.2 1.2-1.6 1.2-2.5"/></g><g stroke="#0000ff"><path d="M324.8 100.7l3.7-.9 5.4-1.1 1.9-.1 3.6 .3 4.2 .7 4.3 1 1.8 .1 1.2-.3 2.4-.8 3.1-1.7 1.2-.4 1.2 .2 3.6 1.1 2.5 .4 1.8 0 1.2-.3 1.2-.7 1.2-.9 .6-.7 .6-1 .6-1.4 .6-2.2 .6-3.1 .7-4.3 1.2-12.3 2.4-30.6 .6-5.9 .6-4.1 .6-1.9 .6 .4 .6 2.7 .6 4.7 3.1 34 1.2 10 .6 3.4 .6 2.5 .6 1.6 .6 .8 .6 .2 .6-.2 .6-.5 1.8-2 .6-.4 .7-.1 .6 .3 .6 .6 1.2 2.2 4.2 9.6 .6 1 1.2 1.5 1.2 1.3 1.3 1 1.2 .4 1.8 0 17-1.3 3.6-.1 19.4 .5 7.9 .7 3 .1 2.4-.2 6.7-1.5 3-.3 5.5 .2 14.6 .8 5.4 .5 1.8 0 1.8-.6 .6-1.2 1.3-3.5 .6-.4 .6 .9 1.2 3.7 .6 2.4 .6 3.8 .6 5.8 .6 8.1 1.8 30.5 .6 6.9 .6 2.5 .7-2.5 .6-7 1.8-32.1 1.2-17.5 .6-6 .6-4.1 .6-2.3 .6-.6 .6 1 1.8 7.1 .6 1.6 .6 1 .7 .7 1.8 1.5 7.3 7.1 .6 .3 .6-.2 1.2-1.6 1.2-2.4"/><path d="M324.8 100.2l1.9-.4 7.2-1.2 1.9-.2 3.6 .3 4.2 .7 4.3 1 1.8 0 1.2-.2 2.4-.8 3.1-1.6 1.2-.4 1.2 .2 3.6 1.1 3.1 .3 1.8-.1 1.2-.5 1.2-.7 1.2-1.1 .6-.9 .6-1.4 .6-2.1 .6-3 .7-4.2 1.2-12 2.4-29.9 .6-5.8 .6-4 .6-1.9 .6 .4 .6 2.7 .6 4.6 3.1 33.2 1.2 9.8 .6 3.4 .6 2.4 .6 1.6 .6 .9 .6 .3 .6-.1 .6-.4 1.8-1.8 .6-.3 .7 0 .6 .2 .6 .6 .6 .9 4.2 8.8 1.2 2.1 2.4 2.7 1.3 1 1.2 .4 1.8 0 17-1.4 3.6-.1 19.4 .5 7.9 .7 3 .1 2.4-.2 6.7-1.4 3-.3 5.5 .2 14.6 .8 5.4 .4 1.8 0 1.8-.5 .6-1.2 1.3-3.5 .6-.4 .6 .9 1.2 3.6 .6 2.5 .6 3.8 .6 5.8 .6 8 1.8 30.5 .6 6.9 .6 2.5 .7-2.6 .6-6.9 1.8-32.2 1.2-17.6 .6-6.1 .6-4.2 .6-2.4 .6-.5 .6 1.1 1.8 7.4 .6 1.7 .6 1.1 9.1 8.9 .7 .6 .6 .2 .6-.2 1.2-1.5 1.2-2.5"/><path d="M324.8 100.3l1.9-.4 7.2-1.1 1.9-.2 3.6 .3 4.2 .7 4.3 .9 1.8 0 1.2-.2 2.4-.8 3.1-1.6 1.2-.2 1.2 .1 3.6 1 3.1 .4 1.8-.1 1.2-.5 1.2-.7 1.2-1.2 .6-.9 .6-1.3 .6-2.1 .6-3 .7-4.1 1.2-11.7 2.4-29.2 .6-5.6 .6-4 .6-1.8 .6 .4 .6 2.6 .6 4.5 3.1 32.5 1.2 9.5 .6 3.3 .6 2.4 .6 1.5 .6 .9 .6 .3 .6-.1 .6-.4 1.8-1.7 .6-.4 .7 0 .6 .2 .6 .6 .6 .9 3.6 7.3 1.2 2.2 .6 .8 1.8 2 1.9 1.5 1.2 .4 1.8 0 17-1.2 3.6-.1 19.4 .5 7.9 .7 3 .1 2.4-.2 6.7-1.4 3-.4 4.9 .2 15.2 .9 5.4 .4 1.8 0 1.8-.5 .6-1.2 1.3-3.4 .6-.4 .6 .9 1.2 3.7 .6 2.5 .6 3.8 .6 5.8 .6 8.1 1.8 30.2 .6 6.8 .6 2.5 .7-2.5 .6-6.9 1.8-32 1.2-17.6 .6-6.2 .6-4.3 .6-2.3 .6-.5 .6 1.1 1.8 7.8 .6 1.8 .6 1.2 .7 .8 7.2 7 1.2 1.4 .7 .5 .6 .3 .6-.2 1.2-1.6 1.2-2.4"/><path d="M324.8 100.7l2.5-.6 6.6-1.2 1.9-.1 3.6 .3 4.2 .7 4.3 1 1.8 0 1.8-.4 2.5-.9 3-1.7 .6 0 1.2 .1 3.6 1.1 2.5 .4 1.8 0 1.2-.3 1.2-.6 1.2-.8 .6-.6 .6-.7 .6-1.1 .6-1.6 .6-2.4 .7-3.3 1.2-9.6 2.4-24 .6-4.6 .6-3.3 .6-1.5 .6 .4 .6 2.1 .6 3.7 3.1 26.7 1.2 7.8 .6 2.8 .6 1.9 .6 1.3 .6 .8 .6 .3 .6-.1 .6-.3 1.8-1.2 .6-.2 .7-.1 .6 .2 1.2 1.2 3.6 5.7 1.2 1.6 3.7 3.3 1.2 .7 .6 .1 2.4-.1 19.4-1.2 20 .5 7.9 .7 3 .2 3-.4 6.7-1.4 2.4-.2 4.3 .1 15.8 .9 5.4 .5 1.8 0 1.8-.6 .6-1.1 1.3-3.3 .6-.4 .6 .8 1.2 3.3 .6 2 .6 2.9 .6 4.4 .6 6.2 1.8 22.9 .6 5.1 .6 1.9 .7-1.9 .6-5.3 1.8-24.7 1.2-14.3 .6-5.3 .6-3.8 .6-2.1 .6-.3 .6 1.2 1.8 7.3 .6 1.7 .6 1 .7 .5 1.8 1.3 6.6 6.4 .7 .6 .6 .2 .6-.2 1.2-1.6 1.2-2.5"/><path d="M324.8 100.6l2.5-.6 6.6-1.2 1.9-.1 3.6 .3 4.2 .7 4.3 .9 1.8 .1 1.2-.3 2.4-.8 3.1-1.6 1.2-.4 1.2 .2 3.6 1.1 3.1 .4 1.8-.1 1.2-.5 1.2-.7 1.2-1.1 .6-.9 .6-1.2 .6-1.9 .6-2.7 .7-3.8 1.2-10.9 2.4-27.2 .6-5.2 .6-3.7 .6-1.7 .6 .4 .6 2.4 .6 4.2 3.1 30.2 1.2 9 .6 3.1 .6 2.3 .6 1.6 .6 1 .6 .4 .6 .1 .6-.2 1.8-1 .6-.2 .7 0 .6 .3 .6 .4 1.2 1.6 3.6 5.8 1.2 1.7 2.4 2.4 1.3 1 1.2 .4 1.8 0 17-1.3 3.6-.1 19.4 .5 7.9 .7 3 .1 2.4-.2 6.7-1.5 3-.3 4.9 .2 15.2 .8 5.4 .5 1.8 0 1.8-.6 .6-1.2 1.3-3.4 .6-.5 .6 .9 1.2 3.4 .6 2.1 .6 3.3 .6 4.9 .6 6.9 1.8 26 .6 5.8 .6 2.1 .7-2.1 .6-6 1.8-27.6 1.2-15.5 .6-5.5 .6-3.9 .6-2.2 .6-.4 .6 1.1 1.8 7.2 .6 1.6 .6 1.1 .7 .6 1.8 1.4 6.6 6.6 .7 .5 .6 .3 .6-.3 1.2-1.5 1.2-2.5"/><path d="M324.8 100.8l4.3-1.1 4.8-.9 1.9-.1 3.6 .3 4.2 .7 4.3 .9 1.8 .1 1.2-.3 2.4-.8 3.1-1.6 1.2-.3 1.2 .1 3.6 1.1 2.5 .3 1.8 .1 1.2-.3 1.2-.6 1.2-.9 .6-.6 .6-.8 .6-1.3 .6-1.8 .6-2.7 .7-3.8 1.2-10.8 2.4-26.9 .6-5.2 .6-3.6 .6-1.7 .6 .4 .6 2.4 .6 4.1 3.1 30 1.2 8.9 .6 3.1 .6 2.3 .6 1.5 .6 1 .6 .5 .6 .1 .6-.1 1.8-1 .6-.1 .7 0 .6 .2 .6 .5 1.2 1.5 3 4.5 1.2 1.6 3 2.9 1.3 .9 1.2 .4 1.8 0 17-1.2 3.6-.1 19.4 .5 7.9 .7 3 .1 3-.3 6.7-1.4 2.4-.2 4.9 .1 15.2 .9 5.4 .4 1.8 0 1.8-.5 .6-1.2 1.3-3.3 .6-.4 .6 .9 1.2 3.4 .6 2.3 .6 3.3 .6 5.1 .6 7 1.8 26.4 .6 5.9 .6 2.1 .7-2.1 .6-6.1 1.8-27.8 1.2-15.4 .6-5.5 .6-3.8 .6-2.1 .6-.4 .6 1 1.8 6.9 .6 1.5 .6 1 2.5 2.1 7.3 7.1 .6 .3 .6-.2 1.2-1.6 1.2-2.5"/><path d="M324.8 100.4l1.9-.4 7.2-1.2 1.9-.2 3.6 .3 4.2 .7 4.3 .9 1.8 .1 1.2-.3 2.4-.8 3.1-1.5 1.2-.3 1.2 .1 3.6 1.1 3.1 .3 1.8-.1 1.2-.5 1.2-.7 1.2-1.1 .6-.9 .6-1.3 .6-1.9 .6-2.9 .7-3.9 1.2-11.3 2.4-28.2 .6-5.4 .6-3.8 .6-1.8 .6 .4 .6 2.5 .6 4.4 3.1 31.3 1.2 9.2 .6 3.2 .6 2.3 .6 1.6 .6 .8 .6 .4 .6 0 .6-.4 1.8-1.4 .6-.3 .7 0 .6 .2 1.2 1.4 3 5.5 1.2 1.9 1.2 1.4 3.7 3.1 1.2 .4 1.8 0 17.6-1.1 3-.1 19.4 .5 7.9 .7 3 .2 2.4-.2 6.7-1.5 3-.3 4.3 .1 15.8 .9 5.4 .5 1.8 0 1.8-.5 .6-1.2 1.3-3.2 .6-.3 .6 .8 1.2 3.6 .6 2.4 .6 3.6 .6 5.3 .6 7.4 1.8 27.5 .6 6.2 .6 2.2 .7-2.2 .6-6.3 1.8-29 1.2-15.9 .6-5.5 .6-3.9 .6-2.1 .6-.4 .6 .9 1.8 6.7 .6 1.5 .6 1 2.5 2 7.3 7.1 .6 .2 .6-.2 1.2-1.5 1.2-2.5"/><path d="M324.8 100.3l1.9-.4 3-.4 4.2-.7 1.9-.2 3.6 .3 4.2 .7 4.3 .9 1.8 .1 1.2-.3 2.4-.8 3.1-1.5 1.2-.3 1.2 .1 3.6 1.1 3.1 .3 1.8-.1 1.2-.5 1.2-.6 1.2-1.1 .6-.9 .6-1.2 .6-1.9 .6-2.7 .7-3.9 1.2-10.9 2.4-27.2 .6-5.3 .6-3.7 .6-1.7 .6 .4 .6 2.5 .6 4.1 3.1 30.3 1.2 8.9 .6 3 .6 2.2 .6 1.5 .6 .7 .6 .3 .6-.2 .6-.4 1.8-1.7 .6-.4 .7 0 .6 .2 .6 .6 .6 .8 3.6 7.1 1.2 2 .6 .9 1.8 1.8 1.9 1.6 1.2 .4 1.8 0 17-1.2 3.6-.1 19.4 .5 7.9 .7 3 .1 2.4-.2 6.7-1.4 3-.4 4.9 .2 15.2 .8 5.4 .5 1.8 0 1.8-.5 .6-1.2 1.3-3.4 .6-.4 .6 .9 1.2 3.4 .6 2.2 .6 3.4 .6 5.1 .6 7 1.8 26.5 .6 5.9 .6 2.2 .7-2.2 .6-6.1 1.8-28 1.2-15.6 .6-5.5 .6-3.8 .6-2.2 .6-.4 .6 1.1 1.8 6.9 .6 1.6 .6 1 2.5 2.1 6.6 6.5 .7 .6 .6 .2 .6-.2 1.2-1.5 1.2-2.5"/><path d="M324.8 101.3l4.3-1.7 6.1-1 1.8 0 2.4 .3 4.2 .7 3.7 .8 1.8 .2 1.8-.3 2.4-.8 3.7-1.8 .6-.1 1.2 .2 3.6 1 2.5 .3 1.8 .1 1.8-.6 1.8-1 .6-.5 .6-.6 .6-.9 .6-1.5 .6-2.2 .7-3.2 1.2-9 2.4-22.5 .6-4.3 .6-3 .6-1.5 .6 .4 .6 2 .6 3.4 3.1 25 1.2 7.4 .6 2.6 .6 1.8 .6 1.2 .6 .7 .6 .3 .6-.1 .6-.2 1.8-1.3 .6-.2 .7 0 .6 .2 1.2 1.1 3 4.5 1.2 1.5 4.3 3.5 1.2 .7 .6 .1 2.4-.1 17-1 3-.1 19.4 .6 7.9 .7 3 .1 2.4-.2 6.7-1.4 3-.4 4.3 .2 15.8 .9 5.4 .4 1.8 0 1.8-.5 .6-1.1 1.3-3.1 .6-.4 .6 .8 1.2 3.3 .6 2 .6 3.1 .6 4.5 .6 6.2 1.8 22.9 .6 5.2 .6 1.8 .7-1.9 .6-5.2 1.8-24.5 1.2-13.8 .6-4.9 .6-3.6 .6-1.9 .6-.4 .6 1.1 1.8 6.6 .6 1.5 .6 1 2.5 1.9 7.3 7 .6 .3 .6-.3 1.2-1.5 1.2-2.5"/><path d="M324.8 99.5l1.3-.2 3 .2 5.5-.9 1.8-.1 3.6 .4 3.6 .6 3.7 .9 1.8 .2 1.8-.3 2.4-.8 3.7-1.9 .6-.1 1.2 .1 3.6 1.1 2.5 .4 1.8 .1 1.8-.6 2.4-1.3 1.2-1.2 .6-1.2 .6-1.8 .7-2.6 1.2-7.7 2.4-19.1 .6-3.7 .6-2.6 .6-1.2 .6 .3 .6 1.7 .6 2.9 3.1 21.3 1.2 6.4 1.2 3.8 .6 1.1 .6 .7 .6 .4 .6 .1 .6-.1 2.4-.7 1.3 .2 .6 .3 1.2 1 3 3.1 3 1.8 1.9 1.3 1.2 .7 .6 .1 2.4 0 17-1 3-.1 19.4 .5 7.9 .8 3 .1 2.4-.2 6.7-1.5 3-.3 3.7 .1 16.4 1 5.4 .4 1.8 0 1.8-.5 .6-1.1 1.3-3 .6-.4 .6 .8 .6 1.3 1.2 3.4 .6 2.5 1.2 8.6 1.8 18.2 .6 4.1 .6 1.4 .7-1.5 .6-4.2 3-32 .6-4.6 .6-3.4 .6-1.9 .6-.3 .6 1.3 1.8 7.3 .6 1.7 .6 1 .7 .6 1.8 1.3 6.6 6.5 .7 .5 .6 .3 .6-.3 1.2-1.5 1.2-2.5"/><path d="M324.8 100.4l1.9-.4 7.2-1.1 1.9-.1 3.6 .3 4.2 .6 4.3 .9 1.8 .1 1.2-.3 2.4-.7 3.1-1.6 1.2-.2 1.2 .1 3.6 1 3.1 .4 1.8-.1 1.2-.5 1.2-.7 1.2-1.2 .6-.9 .6-1.3 .6-2 .6-2.8 .7-4 1.2-11.2 2.4-28 .6-5.4 .6-3.8 .6-1.8 .6 .5 .6 2.5 .6 4.2 3.1 31.2 1.2 9.2 .6 3.1 .6 2.3 .6 1.5 .6 .9 .6 .3 .6-.1 .6-.3 1.8-1.6 .6-.3 .7 0 .6 .2 1.2 1.4 3 5.7 1.8 2.9 2.4 2.5 1.9 1.5 1.2 .4 1.8 0 17-1.1 3.6-.1 19.4 .5 7.9 .7 3 .1 2.4-.2 6.7-1.4 3-.4 4.3 .2 15.8 .9 5.4 .4 1.8 0 1.8-.5 .6-1.2 1.3-3.3 .6-.3 .6 .9 1.2 3.6 .6 2.5 .6 3.8 .6 5.8 .6 7.9 1.8 29.7 .6 6.6 .6 2.4 .7-2.4 .6-6.8 1.8-31.2 1.2-16.9 .6-5.9 .6-4 .6-2.3 .6-.5 .6 1 1.8 6.8 .6 1.6 .6 1 2.5 2.1 7.3 7 .6 .3 .6-.2 1.2-1.6 1.2-2.4"/><path d="M324.8 100.8l3.7-1 5.4-1 1.9-.2 3.6 .4 4.2 .7 4.3 .9 1.8 .1 1.8-.5 2.5-.8 3-1.7 .6-.1 1.2 .2 3.6 1.1 2.5 .3 1.8 .1 1.8-.6 1.8-.9 .6-.5 1.2-1.4 .6-1.2 .6-2 .7-2.7 1.2-8.1 2.4-20 .6-3.9 .6-2.7 .6-1.3 .6 .3 .6 1.8 .6 3.1 3.1 22.3 1.2 6.6 .6 2.3 .6 1.7 .6 1.1 .6 .7 .6 .3 .6 0 .6-.2 2.4-1 .7-.1 .6 .2 1.2 .9 3 3.7 1.2 1.2 2.4 1.6 1.9 1.5 1.2 .6 .6 .1 2.4 0 17-1 3-.1 19.4 .6 7.9 .7 3 .1 2.4-.2 6.7-1.4 3-.4 3.7 .1 16.4 1 5.4 .4 1.8 0 1.8-.5 .6-1.1 1.3-3.1 .6-.3 .6 .8 1.2 3 .6 1.8 .6 2.7 1.2 9.2 1.8 19.7 .6 4.4 .6 1.6 .7-1.7 .6-4.5 1.8-21.2 1.2-12.4 .6-4.6 .6-3.3 .6-1.9 .6-.3 .6 1.1 1.8 6.5 .6 1.4 .6 .9 2.5 1.6 2.4 2.5 4.9 4.4 .6 .2 .6-.2 1.2-1.5 1.2-2.6"/><path d="M324.8 100.6l3.7-.9 5.4-1 1.9-.1 3.6 .3 4.2 .7 4.3 .9 1.8 .1 1.8-.4 2.5-.9 3-1.6 .6-.1 1.2 .1 3.6 1.1 2.5 .3 1.8 .1 1.2-.3 1.2-.6 1.2-.7 .6-.6 .6-.7 .6-1.1 .6-1.6 .6-2.4 .7-3.4 1.2-9.8 2.4-24.3 .6-4.8 .6-3.2 .6-1.6 .6 .4 .6 2.2 .6 3.7 3.1 27.1 1.2 7.9 .6 2.8 .6 1.9 .6 1.3 .6 .7 .6 .2 .6-.2 .6-.4 1.8-1.5 .6-.3 .7-.1 .6 .2 1.2 1.3 3 5.3 1.8 2.7 3.7 3.3 1.2 .7 .6 .1 2.4-.1 16.4-1 3.6-.1 19.4 .5 7.9 .7 3 .1 2.4-.2 6.7-1.4 3-.3 4.3 .1 15.8 .9 5.4 .4 1.8 0 1.8-.5 .6-1.1 1.3-3.2 .6-.4 .6 .8 1.2 3.3 .6 2 .6 3 .6 4.6 .6 6.2 1.8 23.1 .6 5.2 .6 1.9 .7-1.9 .6-5.4 1.8-24.8 1.2-14.3 .6-5.3 .6-3.7 .6-2.1 .6-.4 .6 1.2 1.8 7.4 .6 1.6 .6 1.1 .7 .6 1.8 1.4 6.6 6.5 .7 .5 .6 .3 .6-.3 1.2-1.5 1.2-2.5"/><path d="M324.8 100.5l1.9-.5 7.2-1.1 1.9-.2 3.6 .3 4.2 .7 4.3 .9 1.8 0 1.8-.4 2.5-.8 3-1.5 .6-.1 1.2 .2 3.6 1 4.3 .3 1.8-.5 1.8-.9 .6-.5 .6-.6 .6-.9 .6-1.3 .6-2 .7-2.8 1.2-8.2 2.4-20.5 .6-3.9 .6-2.8 .6-1.3 .6 .3 .6 1.8 .6 3.2 3.1 22.8 1.2 6.7 .6 2.4 .6 1.7 .6 1.2 .6 .7 .6 .3 .6 .1 .6-.2 2.4-1 1.3 .2 .6 .4 1.2 1.2 2.4 2.9 1.2 1.2 4.3 3.1 1.2 .7 .6 .1 2.4-.1 17-1 3-.1 19.4 .6 7.9 .7 3 .1 2.4-.2 6.7-1.4 3-.4 4.3 .2 15.8 .9 5.4 .4 1.8 0 1.8-.5 .6-1.1 1.3-3.1 .6-.4 .6 .8 1.2 3.1 .6 1.8 .6 2.8 .6 3.9 .6 5.4 1.8 20.1 .6 4.5 .6 1.6 .7-1.6 .6-4.7 3-34.8 .6-5 .6-3.6 .6-2 .6-.2 .6 1.2 1.8 7.6 .6 1.7 .6 1.1 .7 .6 1.8 1.4 6.6 6.5 .7 .5 .6 .2 .6-.2 1.2-1.5 1.2-2.5"/><path d="M324.8 100.4l1.9-.4 7.2-1.1 1.9-.2 3.6 .3 4.2 .7 4.3 .9 1.8 0 1.2-.2 2.4-.8 3.1-1.5 1.2-.3 1.2 .2 3.6 1 3.1 .3 1.8-.1 1.2-.4 1.2-.7 1.2-1.1 .6-.8 .6-1.2 .6-1.9 .6-2.7 .7-3.7 1.2-10.6 2.4-26.5 .6-5.1 .6-3.6 .6-1.7 .6 .4 .6 2.4 .6 4 3.1 29.5 1.2 8.8 .6 3 .6 2.3 .6 1.5 .6 .9 .6 .4 .6 .1 .6-.2 1.8-1.1 .6-.2 .7 0 .6 .2 1.2 1.2 3 4.7 1.2 1.5 1.2 1.2 3.7 2.8 1.2 .4 1.8 0 17.6-1.1 3-.1 19.4 .6 7.9 .7 3 .1 2.4-.2 6.7-1.4 3-.4 4.3 .2 15.8 .9 5.4 .4 1.8 0 1.8-.5 .6-1.1 1.3-3.1 .6-.4 .6 .9 1.2 3.5 .6 2.2 .6 3.5 .6 5.2 .6 7.1 1.8 26.2 .6 5.9 .6 2.2 .7-2.2 .6-6 1.8-28.1 1.2-15.9 .6-5.7 .6-4.1 .6-2.3 .6-.4 .6 1.2 1.8 7.6 .6 1.7 .6 1 .7 .7 1.8 1.3 6.6 6.5 .7 .5 .6 .3 .6-.2 1.2-1.6 1.2-2.5"/><path d="M324.8 101.1l4.3-1.4 6.1-1 1.8 0 2.4 .2 4.2 .7 3.7 .8 1.8 .2 1.8-.3 2.4-.8 3.7-1.7 .6-.1 1.2 .2 3.6 1 4.3 .3 1.8-.5 1.8-.9 .6-.4 .6-.5 .6-.9 .6-1.2 .6-1.9 .7-2.8 1.2-7.9 2.4-19.7 .6-3.9 .6-2.6 .6-1.3 .6 .3 .6 1.8 .6 3 3.1 22 1.2 6.5 .6 2.2 .6 1.7 .6 1.1 .6 .6 .6 .2 .6 0 .6-.2 1.8-1 .6-.2 .7 0 .6 .2 1.2 .9 3.6 4.5 1.2 .9 1.8 1 1.9 1.4 1.2 .7 .6 .1 2.4 0 20-1 19.4 .5 7.9 .7 3 .1 2.4-.2 6.7-1.4 3-.3 3.7 .1 16.4 .9 5.4 .5 1.8 0 1.8-.6 .6-1 1.3-3 .6-.4 .6 .8 1.2 3.1 .6 1.8 .6 2.7 1.2 9.1 1.8 19.4 .6 4.4 .6 1.6 .7-1.7 .6-4.4 3-33.5 .6-4.6 .6-3.4 .6-1.9 .6-.3 .6 1.1 1.8 6.3 .6 1.4 .6 .8 1.9 .9 .6 .4 2.4 2.5 4.9 4.2 .6 .2 .6-.2 1.2-1.6 1.2-2.5"/><path d="M324.8 100.2l1.3-.3 3-.3 4.8-.9 1.9-.2 3.6 .4 4.2 .7 4.3 1 1.8 0 1.8-.4 2.5-.9 1.8-1.1 1.2-.6 .6-.1 1.2 .2 3.6 1.1 2.5 .3 1.8 .1 1.8-.6 1.8-1 .6-.5 .6-.6 .6-.9 .6-1.5 .6-2.1 .7-3.1 1.2-8.9 2.4-22.1 .6-4.3 .6-3 .6-1.4 .6 .3 .6 2 .6 3.4 3.1 24.7 1.2 7.3 .6 2.5 .6 1.8 .6 1.3 .6 .7 .6 .3 .6 0 .6-.2 1.8-1 .6-.2 .7-.1 .6 .2 1.2 1.1 3 4.1 1.2 1.5 4.3 3.5 1.2 .7 .6 .1 2.4-.1 17-1 3-.1 19.4 .5 7.9 .7 3 .1 2.4-.2 6.7-1.4 3-.3 4.3 .1 15.8 .9 5.4 .5 1.8 0 1.8-.6 .6-1.1 1.3-3.1 .6-.4 .6 .8 1.2 3.2 .6 1.9 .6 2.8 .6 4.3 .6 5.8 1.8 21.5 .6 4.9 .6 1.7 .7-1.7 .6-5 1.8-23.1 1.2-13.3 .6-4.8 .6-3.5 .6-1.9 .6-.3 .6 1.1 1.8 6.4 .6 1.5 .6 .9 2.5 1.7 2.4 2.4 4.9 4.5 .6 .2 .6-.2 1.2-1.5 1.2-2.6"/><path d="M324.8 102.1l4.3-2.3 5.5-1 1.8 0 2.4 .2 4.8 .7 3.7 .9 1.8 .2 1.8-.3 2.4-.8 3.7-1.8 .6-.1 1.2 .2 3.6 1 4.3 .4 1.8-.6 1.2-.6 1.2-.8 1.2-1.4 .6-1.3 .6-1.9 .7-2.8 1.2-8 2.4-19.9 .6-3.9 .6-2.7 .6-1.3 .6 .3 .6 1.8 .6 3.1 3.1 22.2 1.2 6.5 .6 2.3 .6 1.6 .6 1 .6 .6 .6 .2 .6-.1 .6-.3 1.8-1.3 .6-.2 .7-.1 .6 .2 1.2 1 3 4.3 1.2 1.4 4.3 3.1 1.2 .7 .6 .1 2.4 0 17-1 3-.1 19.4 .5 7.9 .8 3 .1 3-.3 6.7-1.4 2.4-.3 3.7 .1 16.4 1 5.4 .4 1.8 0 1.8-.5 .6-1.1 1.3-3 .6-.4 .6 .8 1.2 3.3 .6 2 .6 3 1.2 10.3 1.8 22.1 .6 4.9 .6 1.8 .7-1.8 .6-5.1 1.8-23.7 1.2-13.8 .6-5.1 .6-3.7 .6-2 .6-.3 .6 1.1 1.8 6.7 .6 1.5 .6 .9 2.5 1.5 2.4 2.4 4.2 3.8 .7 .5 .6 .3 .6-.3 1.2-1.5 1.2-2.6"/><path d="M324.8 101.9l4.3-2.3 5.5-1 1.8-.1 2.4 .2 4.8 .8 3.7 .9 1.8 .2 1.8-.3 2.4-.8 3.7-2 .6 0 1.2 .1 3.6 1.1 2.5 .4 1.8 0 1.2-.3 1.2-.6 1.2-.8 .6-.6 .6-.8 .6-1.2 .6-1.9 .6-2.7 .7-3.7 1.2-10.9 2.4-26.9 .6-5.2 .6-3.7 .6-1.7 .6 .4 .6 2.4 .6 4.2 3.1 29.9 1.2 8.9 .6 3.1 .6 2.2 .6 1.4 .6 .8 .6 .3 .6 0 .6-.4 1.8-1.5 .6-.3 .7 0 .6 .2 1.2 1.3 3 5.5 1.2 1.9 1.2 1.3 3.7 3 1.2 .5 1.8-.1 17.6-1.1 3 0 19.4 .5 7.9 .7 3 .1 2.4-.2 6.7-1.4 3-.3 4.3 .1 15.8 .9 5.4 .5 1.8 0 1.8-.6 .6-1.1 1.3-3.1 .6-.4 .6 .8 1.2 3.5 .6 2.3 .6 3.4 .6 5.1 .6 7 1.8 25.9 .6 5.9 .6 2.1 .7-2.2 .6-5.9 1.8-27.8 1.2-15.7 .6-5.7 .6-4.1 .6-2.2 .6-.4 .6 1.2 1.8 7.7 .6 1.7 .6 1.1 .7 .7 1.8 1.5 6.6 6.5 .7 .6 .6 .2 .6-.2 1.2-1.5 1.2-2.5"/><path d="M324.8 100.3l1.9-.4 3-.4 4.2-.7 1.9-.2 3.6 .3 4.2 .7 4.3 .9 1.8 .1 1.8-.4 2.5-.9 3-1.5 .6-.1 1.2 .1 3.6 1.1 4.3 .3 1.2-.3 1.2-.5 1.2-.8 .6-.5 .6-.7 .6-1.1 .6-1.7 .6-2.4 .7-3.4 1.2-9.8 2.4-24.3 .6-4.7 .6-3.3 .6-1.5 .6 .4 .6 2.1 .6 3.8 3.1 27 1.2 8.1 .6 2.7 .6 2.1 .6 1.3 .6 .8 .6 .4 .6 0 .6-.2 1.8-1.1 .6-.2 .7 0 .6 .2 1.2 1.1 3 4.5 1.2 1.5 1.2 1.2 3.1 2.4 1.2 .7 .6 .1 2.4 0 17-1.1 3-.1 19.4 .6 7.9 .7 3 .1 2.4-.2 6.7-1.4 3-.4 4.3 .2 15.8 .9 5.4 .4 1.8 0 1.8-.5 .6-1.1 1.3-3.2 .6-.3 .6 .8 1.2 3.3 .6 2.2 .6 3.2 .6 4.8 .6 6.5 1.8 24.3 .6 5.5 .6 1.9 .7-2 .6-5.5 1.8-25.9 1.2-14.4 .6-5.2 .6-3.7 .6-2 .6-.4 .6 1 1.8 6.4 .6 1.4 .6 .9 2.5 1.7 2.4 2.4 4.9 4.5 .6 .2 .6-.2 1.2-1.6 1.2-2.5"/><path d="M324.8 100.6l3.1-.8 6-1.1 1.9-.1 3.6 .3 4.2 .7 4.3 .9 1.8 .1 1.8-.5 2.5-.8 3-1.6 .6-.1 1.2 .2 3.6 1 2.5 .3 1.8 .1 1.2-.3 1.2-.6 1.2-.7 .6-.6 .6-.7 .6-1.1 .6-1.6 .6-2.4 .7-3.5 1.2-9.8 2.4-24.4 .6-4.8 .6-3.3 .6-1.5 .6 .4 .6 2.2 .6 3.7 3.1 27.2 1.2 8 .6 2.8 .6 1.9 .6 1.3 .6 .7 .6 .3 .6-.1 .6-.4 1.8-1.4 .6-.3 .7-.1 .6 .3 1.2 1.2 3 5.2 1.8 2.5 3.7 3.2 1.2 .8 .6 .1 2.4-.1 16.4-1 3.6-.1 19.4 .5 7.9 .7 3 .1 2.4-.2 6.7-1.4 3-.4 4.3 .2 15.8 .9 5.4 .4 1.8 0 1.8-.5 .6-1.1 1.3-3.2 .6-.4 .6 .8 1.2 3.3 .6 2 .6 3.1 .6 4.5 .6 6.2 1.8 23.3 .6 5.3 .6 1.8 .7-1.9 .6-5.3 1.8-24.8 1.2-14 .6-5 .6-3.5 .6-2 .6-.4 .6 1 1.8 6.3 .6 1.4 .6 .8 2.5 1.6 2.4 2.4 4.9 4.5 .6 .2 .6-.2 1.2-1.6 1.2-2.5"/><path d="M324.8 101l4.3-1.4 4.8-.9 1.9-.2 3.6 .4 4.2 .7 4.3 1 1.8 .1 1.8-.5 2.5-.9 1.8-1.1 1.2-.6 .6-.1 1.2 .2 3.6 1.1 2.5 .3 1.8 .1 1.8-.6 1.8-1 .6-.4 .6-.6 .6-.9 .6-1.3 .6-2 .7-2.9 1.2-8.4 2.4-21 .6-4.1 .6-2.8 .6-1.3 .6 .3 .6 1.8 .6 3.3 3.1 23.3 1.2 7 .6 2.4 .6 1.8 .6 1.2 .6 .7 .6 .3 .6 .1 .6-.2 2.4-1 .7 0 .6 .2 .6 .4 1.2 1.2 2.4 3 1.2 1.2 2.4 1.7 1.9 1.4 1.2 .7 .6 .1 2.4-.1 17-1 3 0 19.4 .5 7.9 .7 3 .1 2.4-.2 6.7-1.4 3-.3 3.7 .1 16.4 .9 5.4 .4 1.8 .1 1.8-.6 .6-1.1 1.3-3 .6-.4 .6 .8 1.2 3.1 .6 1.9 .6 2.7 .6 4.1 .6 5.5 1.8 20.3 .6 4.6 .6 1.6 .7-1.7 .6-4.6 1.8-22 1.2-12.7 .6-4.7 .6-3.4 .6-1.8 .6-.3 .6 1 1.8 6 .6 1.3 .6 .7 1.9 .8 .6 .5 2.4 2.5 4.9 4.2 .6 .2 .6-.2 1.2-1.6 1.2-2.6"/><path d="M324.8 101.3l4.3-1.6 6.1-1 1.8 0 2.4 .3 4.2 .7 3.7 .9 1.8 .1 1.8-.2 2.4-.9 3.7-1.9 .6-.1 1.2 .2 3.6 1.1 2.5 .3 1.8 .1 1.8-.6 2.4-1.4 1.2-1.3 .6-1.2 .6-1.9 .7-2.6 1.2-7.9 2.4-19.4 .6-3.8 .6-2.7 .6-1.2 .6 .3 .6 1.8 1.2 6.9 1.9 13.7 1.2 7.6 1.2 5.2 .6 1.7 .6 1.2 .6 .8 .6 .4 .6 .1 3-.6 1.3 .2 1.2 .7 2.4 2.4 1.2 1 3 1.5 1.9 1.3 1.2 .7 .6 .1 2.4-.1 20-1 19.4 .6 7.9 .7 3 .1 2.4-.2 6.7-1.4 3-.3 3.7 .1 16.4 .9 5.4 .5 1.8 0 1.8-.6 .6-1 1.3-3 .6-.3 .6 .7 1.2 3.1 .6 1.9 .6 2.7 1.2 9.3 1.8 19.6 .6 4.4 .6 1.6 .7-1.7 .6-4.5 1.8-21.2 1.2-12.4 .6-4.7 .6-3.3 .6-1.9 .6-.3 .6 1.1 1.8 6.4 .6 1.5 .6 .8 2.5 1.5 2.4 2.4 4.9 4.4 .6 .2 .6-.2 1.2-1.6 1.2-2.5"/><path d="M324.8 101.4l4.3-1.6 6.1-1 1.8 0 2.4 .2 4.2 .7 3.7 .8 1.8 .2 1.8-.3 2.4-.7 3.1-1.6 1.2-.3 1.2 .1 3.6 1.1 2.5 .3 1.8 .1 1.2-.4 1.2-.6 1.2-.8 .6-.6 .6-.9 .6-1.2 .6-1.9 .6-2.7 .7-3.8 1.2-10.8 2.4-26.9 .6-5.3 .6-3.6 .6-1.7 .6 .4 .6 2.4 .6 4.1 3.1 30 1.2 8.8 .6 3.1 .6 2.1 .6 1.5 .6 .8 .6 .3 .6-.1 .6-.4 1.8-1.5 .6-.3 .7-.1 .6 .3 1.2 1.3 3 5.6 1.2 1.8 1.2 1.3 3.7 3 1.2 .4 1.8-.1 17.6-1 3-.1 19.4 .5 7.9 .8 3 .1 3-.3 6.7-1.5 2.4-.2 4.3 .2 15.8 .9 5.4 .4 1.8 0 1.8-.5 .6-1.1 1.3-3.1 .6-.4 .6 .9 1.2 3.5 .6 2.3 .6 3.5 .6 5.2 .6 7.1 1.8 26.4 .6 6 .6 2.1 .7-2.2 .6-6 1.8-28.1 1.2-15.6 .6-5.5 .6-3.9 .6-2.2 .6-.4 .6 1 1.8 6.9 .6 1.6 .6 1 2.5 1.8 6.6 6.5 .7 .5 .6 .3 .6-.2 1.2-1.6 1.2-2.5"/><path d="M324.8 100.7l3.7-.9 5.4-1.1 1.9-.1 3.6 .3 4.2 .7 4.3 1 1.8 0 1.8-.4 2.5-.9 3-1.6 .6-.1 1.2 .1 3.6 1.1 2.5 .4 1.8 0 1.2-.3 1.2-.6 1.2-.8 .6-.6 .6-.8 .6-1.1 .6-1.8 .6-2.6 .7-3.6 1.2-10.4 2.4-25.9 .6-5 .6-3.5 .6-1.7 .6 .4 .6 2.3 .6 4 3.1 28.8 1.2 8.5 .6 3 .6 2.1 .6 1.4 .6 .8 .6 .4 .6-.1 .6-.3 1.8-1.4 .6-.2 .7-.1 .6 .3 1.2 1.2 3 5.2 1.8 2.6 3.7 3.3 1.2 .7 .6 .1 2.4-.1 16.4-1 3.6-.1 19.4 .5 7.9 .7 3 .1 2.4-.2 6.7-1.4 3-.4 4.3 .2 15.8 .9 5.4 .4 1.8 0 1.8-.5 .6-1.1 1.3-3.3 .6-.3 .6 .8 1.2 3.4 .6 2.3 .6 3.3 .6 5.1 .6 6.9 1.8 25.8 .6 5.9 .6 2.1 .7-2.2 .6-5.9 1.8-27.6 1.2-15.5 .6-5.6 .6-4 .6-2.2 .6-.4 .6 1.2 1.8 7.1 .6 1.6 .6 .9 2.5 1.9 6.6 6.4 .7 .5 .6 .3 .6-.3 1.2-1.5 1.2-2.5"/><path d="M324.8 101.4l4.3-1.5 6.1-1.1 1.8 .1 2.4 .2 4.2 .7 3.7 .9 1.8 .2 1.8-.3 2.4-.8 3.1-1.7 1.2-.3 1.2 .2 3.6 1.1 2.5 .3 1.8 .1 1.2-.4 1.2-.6 1.2-.8 .6-.7 .6-.8 .6-1.1 .6-1.8 .6-2.6 .7-3.5 1.2-10.3 2.4-25.6 .6-4.9 .6-3.5 .6-1.6 .6 .4 .6 2.3 .6 3.9 3.1 28.4 1.2 8.4 .6 2.9 .6 2.1 .6 1.4 .6 .8 .6 .2 .6 0 .6-.4 1.8-1.4 .6-.3 .7-.1 .6 .3 1.2 1.2 3 5.3 1.8 2.5 3.7 3.2 1.2 .7 .6 .1 2.4 0 17-1.1 3 0 19.4 .5 7.9 .7 3 .1 3-.3 6.7-1.4 2.4-.3 4.3 .2 15.8 .9 5.4 .4 1.8 0 1.8-.5 .6-1.1 1.3-3.2 .6-.4 .6 .9 1.2 3.4 .6 2.2 .6 3.4 .6 5 .6 6.9 1.8 25.6 .6 5.8 .6 2.1 .7-2.1 .6-5.9 1.8-27.3 1.2-15.4 .6-5.5 .6-3.8 .6-2.2 .6-.4 .6 1.1 1.8 7.2 .6 1.6 .6 1 .7 .7 1.8 1.3 6.6 6.6 .7 .5 .6 .2 .6-.2 1.2-1.5 1.2-2.5"/><path d="M324.8 100.9l4.3-1.3 4.8-.8 1.9-.2 3.6 .3 4.2 .7 4.3 .9 1.8 0 1.2-.2 2.4-.8 3.1-1.5 1.2-.3 1.2 .2 3.6 1 4.3 .3 1.2-.3 1.2-.6 1.2-.8 .6-.7 .6-.9 .6-1.3 .6-2 .6-2.9 .7-4 1.2-11.4 2.4-28.5 .6-5.5 .6-3.8 .6-1.8 .6 .4 .6 2.6 .6 4.3 3.1 31.6 1.2 9.4 .6 3.2 .6 2.3 .6 1.5 .6 .8 .6 .3 .6-.1 .6-.5 1.8-1.7 .6-.3 .7-.1 .6 .3 .6 .6 .6 .8 3 6.1 1.8 2.9 2.4 2.5 1.9 1.5 1.2 .4 1.8 0 17-1.1 3.6-.1 19.4 .5 7.9 .7 3 .1 2.4-.2 6.7-1.4 3-.3 4.3 .1 15.8 .9 5.4 .4 1.8 .1 1.8-.6 .6-1.1 1.3-3.3 .6-.3 .6 .9 1.2 3.6 .6 2.4 .6 3.7 .6 5.6 .6 7.7 1.8 28.8 .6 6.4 .6 2.3 .7-2.3 .6-6.6 1.8-30.4 1.2-16.9 .6-5.9 .6-4.2 .6-2.3 .6-.5 .6 1.1 1.8 7.2 .6 1.7 .6 1 .7 .6 1.8 1.4 6.6 6.4 .7 .6 .6 .2 .6-.2 1.2-1.5 1.2-2.6"/><path d="M324.8 100.6l4.3-1.2 4.8-.9 1.9-.1 3.6 .3 4.2 .7 4.3 1 1.8 0 1.8-.4 2.5-.9 3-1.6 .6-.1 1.2 .1 3.6 1.1 2.5 .4 1.8 0 1.8-.6 1.8-.9 .6-.6 .6-.6 .6-1 .6-1.5 .6-2.4 .7-3.3 1.2-9.5 2.4-23.6 .6-4.6 .6-3.2 .6-1.5 .6 .3 .6 2.2 .6 3.6 3.1 26.3 1.2 7.8 .6 2.7 .6 2 .6 1.3 .6 .8 .6 .3 .6 0 .6-.3 1.8-1.1 .6-.2 .7 0 .6 .2 1.2 1.1 3 4.5 1.8 2.4 3.7 3.1 1.2 .7 .6 .2 2.4-.1 16.4-1.1 3.6-.1 19.4 .5 7.9 .7 3 .2 3-.4 6.7-1.4 2.4-.2 4.3 .1 15.8 .9 5.4 .5 1.8 0 1.8-.6 .6-1.1 1.3-3.3 .6-.3 .6 .8 1.2 3.3 .6 2.1 .6 3.1 .6 4.6 .6 6.4 1.8 23.9 .6 5.4 .6 1.9 .7-2 .6-5.5 1.8-25.6 1.2-14.6 .6-5.3 .6-3.8 .6-2.1 .6-.4 .6 1.1 1.8 7.2 .6 1.7 .6 1 2.5 1.9 6.6 6.5 .7 .5 .6 .2 .6-.2 1.2-1.5 1.2-2.5"/><path d="M324.8 100.4l1.9-.5 7.2-1.2 1.9-.1 3.6 .3 4.2 .7 4.3 .9 1.8 .1 1.8-.4 2.5-.9 3-1.6 .6-.1 1.2 .2 3.6 1 2.5 .3 1.8 .1 1.8-.5 2.4-1.4 1.2-1.3 .6-1.2 .6-1.9 .7-2.6 1.2-7.9 2.4-19.5 .6-3.8 .6-2.6 .6-1.2 .6 .3 .6 1.7 .6 3 3.1 21.8 1.2 6.4 1.2 4 .6 1.1 .6 .7 .6 .4 .6 .1 .6-.1 2.4-.7 1.3 .2 .6 .3 1.2 1 3 3.2 1.2 .8 1.8 1.1 1.9 1.4 1.2 .6 .6 .1 2.4 0 17-1 3-.1 19.4 .6 7.9 .7 3 .1 2.4-.2 6.7-1.4 3-.4 3.7 .1 16.4 1 5.4 .4 1.8 0 1.8-.5 .6-1.1 1.3-3.1 .6-.3 .6 .8 .6 1.4 1.2 3.4 .6 2.6 1.2 9.1 1.8 19.3 .6 4.4 .6 1.6 .7-1.6 .6-4.5 3-33.3 .6-4.7 .6-3.4 .6-1.8 .6-.3 .6 1.1 1.8 6.2 .6 1.3 .6 .8 1.9 .8 .6 .4 2.4 2.5 4.9 4.2 .6 .2 .6-.2 1.2-1.6 1.2-2.6"/><path d="M324.8 100.1l9.1-1.4 1.9-.2 3.6 .3 4.2 .7 4.3 .9 1.8 0 1.8-.4 2.5-.8 3-1.5 .6-.1 1.2 .2 3.6 1 4.3 .3 1.2-.3 1.2-.5 1.2-.7 .6-.6 .6-.6 .6-1.1 .6-1.6 .6-2.5 .7-3.3 1.2-9.8 2.4-24.2 .6-4.7 .6-3.2 .6-1.6 .6 .4 .6 2.2 .6 3.7 3.1 27 1.2 8 1.2 4.9 .6 1.4 .6 .8 .6 .5 .6 .1 .6-.1 2.4-1 .7 0 .6 .2 .6 .4 1.2 1.4 3.6 4.7 4.3 3.6 1.2 .6 .6 .2 2.4-.1 16.4-1.1 3.6-.1 19.4 .6 7.9 .7 3 .1 3-.3 6.7-1.5 2.4-.2 4.3 .2 15.8 .9 5.4 .4 1.8 0 1.8-.5 .6-1.1 1.3-3.3 .6-.3 .6 .8 1.2 3.3 .6 2 .6 3.1 .6 4.6 .6 6.3 1.8 23.4 .6 5.3 .6 1.9 .7-2 .6-5.4 1.8-25.1 1.2-14.4 .6-5.3 .6-3.7 .6-2.1 .6-.4 .6 1.2 1.8 7.1 .6 1.6 .6 1 2.5 1.9 6.6 6.5 .7 .5 .6 .2 .6-.2 1.2-1.5 1.2-2.6"/><path d="M324.8 99.3l1.3-.1 3 .4 5.5-.9 2.4 0 6 .8 4.3 .9 1.8 .2 1.8-.2 2.4-.8 3.7-1.8 .6-.1 1.2 .1 3.6 1.1 4.3 .4 1.8-.6 1.8-.9 .6-.5 .6-.6 .6-.8 .6-1.4 .6-2 .7-2.8 1.2-8.4 2.4-20.7 .6-4 .6-2.8 .6-1.3 .6 .3 .6 1.9 .6 3.2 3.1 23 1.2 6.9 .6 2.3 .6 1.8 .6 1.2 .6 .7 .6 .3 .6 0 .6-.1 2.4-1.1 .7 0 .6 .2 1.2 .9 3 3.7 1.2 1.2 2.4 1.6 1.9 1.4 1.2 .6 .6 .1 2.4 0 17-1 3 0 19.4 .5 7.9 .7 3 .1 2.4-.2 6.7-1.4 3-.3 3.7 .1 16.4 .9 5.4 .5 1.8 0 1.8-.6 .6-1.1 1.3-3 .6-.4 .6 .8 1.2 3.2 .6 1.9 .6 2.8 1.2 9.8 1.8 20.8 .6 4.7 .6 1.7 .7-1.7 .6-4.8 1.8-22.6 1.2-13.1 .6-5 .6-3.5 .6-2 .6-.3 .6 1.2 1.8 6.9 .6 1.6 .6 .9 2.5 1.8 6.6 6.4 .7 .5 .6 .2 .6-.2 1.2-1.6 1.2-2.5"/><path d="M324.8 99.8l1.3-.3 3 .1 5.5-.9 1.8-.1 3.6 .4 3.6 .6 3.7 .9 1.8 .2 1.8-.3 2.4-.8 3.7-1.9 .6-.1 1.2 .2 3.6 1.1 2.5 .3 1.8 .1 1.2-.3 1.2-.6 1.2-.7 .6-.6 .6-.7 .6-1 .6-1.5 .6-2.3 .7-3.2 1.2-9.3 2.4-23.2 .6-4.5 .6-3.1 .6-1.4 .6 .3 .6 2.1 .6 3.5 3.1 25.8 1.2 7.7 .6 2.6 .6 2 .6 1.3 .6 .8 .6 .3 .6 0 .6-.2 1.8-.9 .6-.2 .7 0 .6 .2 .6 .4 1.2 1.4 3 4.2 1.2 1.4 3.7 3 1.2 .7 .6 .1 2.4-.1 16.4-1 3.6-.1 19.4 .5 7.9 .7 3 .1 3-.3 6.7-1.4 2.4-.3 4.3 .2 15.8 .9 5.4 .4 1.8 0 1.8-.5 .6-1.1 1.3-3.2 .6-.4 .6 .8 1.2 3.2 .6 1.9 .6 2.8 .6 4.3 .6 5.8 1.8 21.9 .6 4.9 .6 1.7 .7-1.8 .6-5 1.8-23.5 1.2-13.7 .6-5.1 .6-3.7 .6-2 .6-.3 .6 1.2 1.8 7.1 .6 1.6 .6 .9 2.5 1.8 6.6 6.5 .7 .5 .6 .2 .6-.2 1.2-1.6 1.2-2.5"/><path d="M324.8 99.9l1.3-.2 3 0 5.5-.9 1.8-.1 2.4 .2 4.2 .7 4.9 1 1.8 .1 1.8-.5 2.5-.8 3-1.6 .6-.1 1.2 .2 3.6 1 4.3 .4 1.2-.3 1.2-.5 1.2-.8 .6-.5 .6-.7 .6-.9 .6-1.5 .6-2.3 .7-3.1 1.2-9.1 2.4-22.5 .6-4.4 .6-3.1 .6-1.4 .6 .4 .6 2 .6 3.4 3.1 25.2 1.2 7.5 1.2 4.5 .6 1.3 .6 .8 .6 .4 .6 .1 .6-.1 2.4-.9 .7 0 .6 .2 .6 .4 1.2 1.2 2.4 3.1 1.2 1.2 2.4 1.6 1.9 1.4 1.2 .7 .6 .1 2.4-.1 17-.9 3-.1 19.4 .5 7.9 .7 3 .2 2.4-.3 6.7-1.4 3-.3 3.7 .1 16.4 .9 5.4 .5 1.8 0 1.8-.5 .6-1.1 1.3-3.1 .6-.3 .6 .8 1.2 3.3 .6 2 .6 3.1 .6 4.6 .6 6.1 1.8 22.8 .6 5.2 .6 1.8 .7-1.9 .6-5.2 1.8-24.5 1.2-14 .6-5.2 .6-3.6 .6-2.1 .6-.3 .6 1.1 1.8 6.7 .6 1.6 .6 .9 2.5 1.6 2.4 2.5 4.2 3.9 .7 .5 .6 .2 .6-.2 1.2-1.6 1.2-2.5"/><path d="M324.8 100.2l1.9-.4 7.2-1.2 1.9-.2 3.6 .3 4.2 .7 4.3 1 1.8 .1 1.8-.5 2.5-.9 3-1.6 .6-.1 1.2 .2 3.6 1.1 2.5 .3 1.8 .1 1.8-.6 1.8-1 .6-.5 .6-.7 .6-1 .6-1.6 .6-2.3 .7-3.3 1.2-9.5 2.4-23.7 .6-4.6 .6-3.2 .6-1.5 .6 .3 .6 2.2 .6 3.6 3.1 26.4 1.2 7.8 .6 2.7 .6 2 .6 1.3 .6 .7 .6 .3 .6 0 .6-.3 1.8-1.2 .6-.2 .7 0 .6 .2 1.2 1.1 3 4.6 1.2 1.5 4.3 3.4 1.2 .7 .6 .1 2.4 0 17-1 3-.1 19.4 .5 7.9 .7 3 .2 2.4-.3 6.7-1.4 3-.3 3.7 .1 16.4 .9 5.4 .5 1.8 0 1.8-.5 .6-1.1 1.3-3.1 .6-.4 .6 .9 1.2 3.3 .6 2.2 .6 3.2 .6 4.9 .6 6.5 1.8 24.3 .6 5.4 .6 2 .7-2 .6-5.6 1.8-25.9 1.2-14.7 .6-5.4 .6-3.8 .6-2.1 .6-.3 .6 1.1 1.8 6.9 .6 1.5 .6 1 2.5 1.7 6.6 6.4 .7 .5 .6 .3 .6-.2 1.2-1.6 1.2-2.5"/><path d="M324.8 100.9l3.7-.9 5.4-.9 1.9-.2 3.6 .3 4.2 .7 4.3 1 1.8 0 1.2-.2 2.4-.9 3.1-1.6 1.2-.3 1.2 .2 3.6 1 2.5 .4 1.8 0 1.2-.3 1.2-.6 1.2-.9 .6-.7 .6-.9 .6-1.3 .6-2 .6-2.8 .7-3.9 1.2-11.1 2.4-27.6 .6-5.3 .6-3.8 .6-1.7 .6 .4 .6 2.5 .6 4.2 3.1 30.7 1.2 9.1 .6 3.2 .6 2.3 .6 1.5 .6 .9 .6 .4 .6 0 .6-.3 1.8-1.3 .6-.2 .7 0 .6 .2 .6 .5 1.2 1.7 3 5.4 1.2 1.8 2.4 2.5 1.9 1.5 1.2 .4 1.8 0 17-1.2 3.6-.1 19.4 .5 7.9 .7 3 .1 2.4-.2 6.7-1.4 3-.3 4.9 .1 15.2 .9 5.4 .4 1.8 0 1.8-.5 .6-1.2 1.3-3.3 .6-.4 .6 .9 1.2 3.4 .6 2.3 .6 3.4 .6 5.2 .6 7.2 1.8 27 .6 6 .6 2.2 .7-2.2 .6-6.2 1.8-28.6 1.2-15.9 .6-5.6 .6-4 .6-2.2 .6-.4 .6 1.1 1.8 7.1 .6 1.6 .6 1 .7 .7 1.8 1.4 6.6 6.5 .7 .6 .6 .2 .6-.2 1.2-1.5 1.2-2.5"/><path d="M324.8 100.8l3.7-.9 5.4-.9 1.9-.2 3.6 .3 4.2 .7 4.3 .9 1.8 .1 1.2-.3 2.4-.8 3.1-1.6 1.2-.3 1.2 .2 3.6 1 2.5 .3 1.8 .1 1.2-.3 1.2-.6 1.2-.9 .6-.6 .6-.8 .6-1.3 .6-1.8 .6-2.7 .7-3.7 1.2-10.6 2.4-26.4 .6-5.1 .6-3.5 .6-1.7 .6 .4 .6 2.3 .6 4.1 3.1 29.4 1.2 8.6 .6 3 .6 2.2 .6 1.4 .6 .8 .6 .3 .6 0 .6-.4 1.8-1.4 .6-.3 .7 0 .6 .2 1.2 1.3 3.6 6.4 1.2 1.9 3 3.1 1.3 .9 .6 .3 .6 .1 2.4 0 19.4-1.3 20 .5 7.9 .7 3 .1 3-.3 6.7-1.4 2.4-.2 4.9 .1 15.2 .9 5.4 .4 1.8 0 1.8-.5 .6-1.2 1.3-3.3 .6-.4 .6 .9 1.2 3.5 .6 2.3 .6 3.5 .6 5.3 .6 7.3 1.8 27.5 .6 6.2 .6 2.2 .7-2.3 .6-6.3 1.8-29 1.2-16 .6-5.7 .6-3.9 .6-2.2 .6-.4 .6 1 1.8 7.1 .6 1.6 .6 1.1 3.1 2.7 6 6 .7 .6 .6 .2 .6-.2 1.2-1.5 1.2-2.5"/><path d="M324.8 101.6l4.3-1.8 5.5-1 1.8-.1 2.4 .2 4.8 .8 3.7 .8 1.8 .2 1.8-.3 2.4-.8 3.7-1.8 .6-.1 1.2 .2 3.6 1 2.5 .4 1.8 0 1.8-.5 1.2-.7 1.2-.9 .6-.6 .6-1 .6-1.4 .6-2.2 .7-3.1 1.2-8.8 2.4-22.1 .6-4.3 .6-3 .6-1.4 .6 .4 .6 1.9 .6 3.4 3.1 24.6 1.2 7.2 .6 2.5 .6 1.9 .6 1.1 .6 .7 .6 .3 .6-.1 .6-.3 1.8-1.2 .6-.3 .7 0 .6 .2 1.2 1.1 3 4.5 1.2 1.5 4.3 3.4 1.2 .7 .6 .1 2.4-.1 17-1 3 0 19.4 .5 7.9 .7 3 .1 2.4-.2 6.7-1.4 3-.3 4.3 .1 15.8 .9 5.4 .4 1.8 .1 1.8-.6 .6-1.1 1.3-3.1 .6-.4 .6 .8 1.2 3.2 .6 1.9 .6 2.8 .6 4.1 .6 5.6 1.8 20.9 .6 4.7 .6 1.7 .7-1.8 .6-4.7 1.8-22.5 1.2-12.9 .6-4.8 .6-3.4 .6-1.9 .6-.3 .6 1 1.8 6.7 .6 1.5 .6 1 2.5 1.8 7.3 6.9 .6 .3 .6-.2 1.2-1.6 1.2-2.5"/><path d="M324.8 100.2l1.9-.3 3-.2 4.9-.9 1.8-.1 2.4 .3 4.2 .6 4.9 1.1 1.8 0 1.2-.2 2.4-.8 3.1-1.6 1.2-.3 1.2 .1 3.6 1.1 3.1 .3 1.8 0 1.2-.5 1.2-.7 1.2-1.1 .6-.9 .6-1.2 .6-1.8 .6-2.7 .7-3.7 1.2-10.6 2.4-26.5 .6-5.2 .6-3.5 .6-1.7 .6 .4 .6 2.4 .6 4 3.1 29.5 1.2 8.7 .6 3 .6 2.1 .6 1.4 .6 .8 .6 .3 .6-.1 .6-.4 1.8-1.6 .6-.3 .7 0 .6 .2 1.2 1.3 3.6 6.7 1.2 1.8 3 3 1.3 1 .6 .2 .6 .2 2.4-.1 19.4-1.2 20 .5 7.9 .7 3 .1 3-.3 6.7-1.4 2.4-.2 4.3 .1 15.8 .9 5.4 .4 1.8 0 1.8-.5 .6-1.2 1.3-3.2 .6-.4 .6 .8 1.2 3.5 .6 2.3 .6 3.5 .6 5.2 .6 7.2 1.8 26.9 .6 6.1 .6 2.1 .7-2.2 .6-6.1 1.8-28.5 1.2-15.7 .6-5.6 .6-3.8 .6-2.2 .6-.4 .6 1 1.8 7.1 .6 1.6 .6 1.1 3.1 2.8 6 6 .7 .5 .6 .3 .6-.2 1.2-1.6 1.2-2.4"/><path d="M324.8 100.4l1.3-.3 3.6-.5 4.2-.8 1.9-.1 3.6 .3 4.2 .7 4.3 1 1.8 0 1.2-.2 2.4-.9 3.1-1.6 1.2-.3 1.2 .1 3.6 1.1 3.1 .4 1.8-.1 1.2-.5 1.2-.7 1.2-1.1 .6-.9 .6-1.2 .6-1.9 .6-2.7 .7-3.7 1.2-10.9 2.4-26.9 .6-5.2 .6-3.7 .6-1.7 .6 .4 .6 2.4 .6 4.2 3.1 30 1.2 8.8 .6 3.1 .6 2.2 .6 1.5 .6 .9 .6 .3 .6 0 .6-.3 1.8-1.3 .6-.3 .7 0 .6 .2 1.2 1.3 3 5.2 1.2 1.9 1.2 1.3 3.7 3.1 1.2 .4 1.8 0 17.6-1.2 3 0 19.4 .5 7.9 .7 3 .1 2.4-.2 6.7-1.4 3-.3 4.3 .1 15.8 .9 5.4 .4 1.8 .1 1.8-.6 .6-1.1 1.3-3.2 .6-.4 .6 .9 1.2 3.5 .6 2.3 .6 3.5 .6 5.2 .6 7.2 1.8 26.8 .6 6 .6 2.2 .7-2.2 .6-6.2 1.8-28.5 1.2-16.1 .6-5.7 .6-4.1 .6-2.3 .6-.4 .6 1.2 1.8 7.4 .6 1.7 .6 1 .7 .7 1.8 1.3 6.6 6.5 .7 .6 .6 .2 .6-.2 1.2-1.5 1.2-2.6"/><path d="M324.8 100l1.3-.2 3-.1 5.5-.9 1.8-.1 2.4 .2 4.2 .7 4.9 1.1 1.8 0 1.8-.4 2.5-.9 3-1.6 .6-.1 1.2 .1 3.6 1.1 2.5 .3 1.8 .1 1.2-.3 1.2-.6 1.2-.8 .6-.7 .6-.8 .6-1.1 .6-1.8 .6-2.6 .7-3.7 1.2-10.4 2.4-26 .6-5.1 .6-3.5 .6-1.6 .6 .4 .6 2.3 .6 4 3.1 29 1.2 8.5 .6 3 .6 2.2 .6 1.5 .6 .9 .6 .4 .6 0 .6-.2 1.8-1.2 .6-.2 .7 0 .6 .2 .6 .5 1.2 1.6 4.2 6.6 3 3 1.3 .9 .6 .3 .6 .1 2.4 0 19.4-1.3 20 .5 7.9 .7 3 .1 2.4-.2 6.7-1.4 3-.4 4.9 .2 15.2 .9 5.4 .4 1.8 0 1.8-.5 .6-1.2 1.3-3.4 .6-.4 .6 .9 1.2 3.4 .6 2.2 .6 3.3 .6 5.1 .6 7 1.8 26.2 .6 5.9 .6 2.2 .7-2.2 .6-6 1.8-27.9 1.2-15.6 .6-5.5 .6-3.9 .6-2.1 .6-.5 .6 1.1 1.8 7 .6 1.6 .6 1 2.5 2 6.6 6.5 .7 .5 .6 .3 .6-.2 1.2-1.6 1.2-2.5"/><path d="M324.8 100.5l1.9-.4 3-.4 4.2-.8 1.9-.2 3.6 .3 4.2 .7 4.3 1 1.8 0 1.8-.4 2.5-.9 3-1.6 .6-.1 1.2 .2 3.6 1.1 2.5 .3 1.8 0 1.2-.3 1.2-.6 1.2-.7 .6-.6 .6-.7 .6-1 .6-1.6 .6-2.3 .7-3.3 1.2-9.5 2.4-23.6 .6-4.5 .6-3.2 .6-1.5 .6 .4 .6 2.1 .6 3.6 3.1 26.2 1.2 7.8 .6 2.8 .6 1.9 .6 1.4 .6 .8 .6 .4 .6 .1 .6-.2 1.8-.9 .6-.2 .7 0 .6 .2 1.2 1 3 4.2 1.2 1.3 4.3 3.2 1.2 .7 .6 .1 2.4 0 17-1.1 3 0 19.4 .5 7.9 .7 3 .1 2.4-.2 6.7-1.4 3-.3 3.7 .1 16.4 .9 5.4 .5 1.8 0 1.8-.6 .6-1 1.3-3.1 .6-.4 .6 .9 1.2 3.3 .6 2.2 .6 3.3 .6 4.9 .6 6.6 1.8 24.5 .6 5.6 .6 2 .7-2.1 .6-5.6 1.8-26.2 1.2-14.8 .6-5.4 .6-3.8 .6-2.1 .6-.4 .6 1.1 1.8 7.3 .6 1.7 .6 1 .7 .6 1.8 1.5 6.6 6.5 .7 .6 .6 .2 .6-.2 1.2-1.5 1.2-2.5"/><path d="M324.8 100.2l1.9-.3 3-.3 4.9-.8 1.8 0 2.4 .2 4.2 .6 4.9 1 1.8 .1 1.2-.3 2.4-.8 3.1-1.5 1.2-.3 1.2 .2 3.6 1 3.1 .3 1.8 0 1.2-.5 1.2-.7 1.2-1.1 .6-.9 .6-1.3 .6-1.9 .6-2.8 .7-3.9 1.2-11 2.4-27.3 .6-5.3 .6-3.7 .6-1.7 .6 .4 .6 2.4 .6 4.2 3.1 30.4 1.2 9 .6 3 .6 2.2 .6 1.4 .6 .7 .6 .2 .6-.2 2.4-2.3 .6-.4 .7-.1 .6 .3 .6 .6 .6 .8 3.6 7.5 1.2 2.2 .6 .8 1.8 2 1.9 1.6 1.2 .4 1.8 0 17-1.2 3.6-.2 19.4 .6 7.9 .7 3 .1 2.4-.2 6.7-1.5 3-.3 4.9 .2 15.2 .8 5.4 .5 1.8 0 1.8-.6 .6-1.2 1.3-3.4 .6-.4 .6 .9 1.2 3.6 .6 2.3 .6 3.5 .6 5.4 .6 7.4 1.8 28.1 .6 6.3 .6 2.3 .7-2.3 .6-6.4 1.8-29.7 1.2-16.3 .6-5.7 .6-4 .6-2.2 .6-.4 .6 1 1.8 6.6 .6 1.6 .6 .9 2.5 1.8 7.3 7 .6 .3 .6-.3 1.2-1.5 1.2-2.5"/><path d="M324.8 100.4l2.5-.6 6.6-1.2 1.9-.1 3.6 .3 4.2 .7 4.3 1 1.8 0 1.8-.4 2.5-.9 3-1.7 .6 0 1.2 .1 3.6 1.1 2.5 .3 1.8 .1 1.8-.6 1.8-1 .6-.5 .6-.6 .6-1 .6-1.5 .6-2.2 .7-3.2 1.2-9.2 2.4-22.9 .6-4.5 .6-3.1 .6-1.4 .6 .3 .6 2.1 .6 3.5 3.1 25.6 1.2 7.6 1.2 4.6 .6 1.4 .6 .8 .6 .5 .6 .1 .6-.1 2.4-.8 1.3 .2 .6 .4 1.2 1.2 2.4 3 1.8 2 3.7 2.9 1.2 .7 .6 .1 2.4-.1 16.4-1.1 3.6-.1 19.4 .6 7.9 .7 3 .1 2.4-.2 6.7-1.5 3-.3 4.3 .2 15.8 .8 5.4 .5 1.8 0 1.8-.5 .6-1.2 1.3-3.2 .6-.4 .6 .8 1.2 3.2 .6 2 .6 2.9 .6 4.3 .6 6 1.8 22.2 .6 5 .6 1.8 .7-1.8 .6-5.1 1.8-23.8 1.2-13.6 .6-4.9 .6-3.5 .6-1.9 .6-.3 .6 1 1.8 6.2 .6 1.4 .6 .8 2.5 1.6 2.4 2.4 4.9 4.4 .6 .2 .6-.2 1.2-1.6 1.2-2.5"/><path d="M324.8 101.8l4.3-2 5.5-1.1 1.8-.1 2.4 .3 4.8 .8 3.7 .9 1.8 .2 1.8-.3 2.4-.9 3.7-1.9 .6-.1 1.2 .2 3.6 1.1 2.5 .3 1.8 .1 1.2-.3 1.2-.6 1.2-.6 1.2-.9 .6-.8 .6-1.1 .6-1.8 .7-2.5 1.2-7.5 2.4-18.8 .6-3.6 .6-2.5 .6-1.2 .6 .3 .6 1.6 1.2 6.7 1.9 13.1 1.2 7.4 1.2 5 .6 1.6 .6 1.1 .6 .7 .6 .4 .6 .1 3-.8 1.3 .2 1.2 .7 3.6 3.5 3 1.8 1.9 1.3 1.2 .7 .6 .1 2.4 0 17-1 3-.1 19.4 .5 7.9 .8 3 .1 2.4-.2 6.7-1.5 3-.3 3.7 .1 16.4 1 5.4 .4 1.8 0 1.8-.5 .6-1.1 1.3-3 .6-.4 .6 .8 .6 1.4 1.2 3.4 .6 2.7 1.2 9.1 1.8 19.3 .6 4.3 .6 1.6 .7-1.6 .6-4.5 3-33.3 .6-4.7 .6-3.4 .6-1.9 .6-.2 .6 1.1 1.8 6.4 .6 1.4 .6 .8 1.9 .9 .6 .5 2.4 2.5 4.9 4.2 .6 .3 .6-.3 1.2-1.5 1.2-2.6"/><path d="M324.8 101l4.3-1.5 6.1-1 1.8 0 2.4 .3 4.2 .7 3.7 .8 1.8 .2 1.8-.3 2.4-.8 3.7-1.8 .6-.1 1.2 .2 3.6 1 4.3 .4 1.8-.5 1.8-.9 .6-.5 .6-.5 .6-.8 .6-1.3 .6-2 .7-2.9 1.2-8.2 2.4-20.5 .6-4 .6-2.8 .6-1.3 .6 .3 .6 1.9 1.2 7.2 1.9 14.5 1.2 8.1 1.2 5.4 .6 1.8 .6 1.3 .6 .8 .6 .4 .6 .1 3-.6 1.3 .2 1.2 .8 3.6 3.6 3 1.7 1.9 1.4 1.2 .7 .6 .1 2.4-.1 17-.9 3-.1 19.4 .5 7.9 .7 3 .2 2.4-.3 6.7-1.4 3-.3 3.7 .1 16.4 .9 5.4 .5 1.8 0 1.8-.5 .6-1.1 1.3-3 .6-.4 .6 .8 1.2 3.1 .6 1.9 .6 2.7 1.2 9.5 1.8 20.2 .6 4.6 .6 1.6 .7-1.7 .6-4.6 1.8-21.8 1.2-12.6 .6-4.7 .6-3.3 .6-1.9 .6-.3 .6 1.1 1.8 6.4 .6 1.4 .6 .9 2.5 1.6 2.4 2.4 4.9 4.5 .6 .2 .6-.2 1.2-1.6 1.2-2.5"/><path d="M324.8 100.9l3.7-.9 5.4-.9 1.9-.2 3.6 .3 4.2 .7 4.3 .9 1.8 .1 1.8-.4 2.5-.9 3-1.6 .6-.1 1.2 .2 3.6 1 4.3 .4 1.8-.5 2.4-1.3 1.2-1.1 .6-1 .6-1.5 .7-2.2 1.2-6.5 2.4-16.2 .6-3.2 .6-2.2 .6-1 .6 .3 .6 1.4 1.2 5.8 1.9 11.4 1.2 6.4 1.2 4.4 .6 1.4 .6 1 .6 .7 .6 .3 .6 .2 3-.3 1.3 .1 .6 .3 3.6 2.6 1.2 .5 2.4 .9 1.9 1.2 1.2 .7 .6 .1 2.4-.1 20-.9 19.4 .5 7.9 .7 3 .1 2.4-.2 6.7-1.4 3-.3 3.7 .1 16.4 .9 5.4 .5 1.8 0 1.8-.5 .6-1.1 1.3-2.9 .6-.4 .6 .7 .6 1.3 1.2 3.1 .6 2.1 1.2 7.2 1.8 15.2 .6 3.4 .6 1.2 .7-1.3 .6-3.5 3-27.3 1.2-7.2 .6-1.7 .6-.2 .6 1.1 1.8 6.2 .6 1.3 .6 .8 1.9 .6 .6 .5 2.4 2.5 4.9 4 .6 .3 .6-.3 1.2-1.5 1.2-2.6"/><path d="M324.8 100.7l3.7-.9 5.4-1 1.9-.1 3.6 .3 4.2 .7 4.3 .9 1.8 .1 1.8-.5 2.5-.8 3-1.6 .6-.1 1.2 .1 3.6 1.1 4.3 .4 1.8-.5 3-1.5 .6-.5 .6-.9 .6-1.4 .7-2 1.2-6.1 2.4-15.2 .6-2.9 .6-2.1 .6-.9 .6 .2 .6 1.4 1.2 5.4 1.9 10.6 1.2 6 1.2 4.1 .6 1.3 .6 1 .6 .6 1.2 .6 3-.2 1.9 .3 3.6 2.3 3.6 1 3.1 1.8 .6 .1 2.4 0 20-.9 19.4 .5 7.9 .7 3 .2 2.4-.3 6.7-1.4 3-.3 20.1 1.1 5.4 .4 1.8 0 1.8-.5 .6-1 1.3-2.9 .6-.4 .6 .7 .6 1.3 1.2 3 .6 2 1.2 6.8 1.8 14 .6 3.2 .6 1.1 .7-1.1 .6-3.3 3-25.8 1.2-7.1 .6-1.7 .6-.1 .6 1.2 1.8 6.5 .6 1.4 .6 .8 1.9 .9 .6 .4 2.4 2.5 4.2 3.7 .7 .5 .6 .2 .6-.2 1.2-1.6 1.2-2.6"/><path d="M324.8 101.2l4.3-1.4 4.8-.9 1.9-.2 3.6 .3 4.2 .8 4.3 .9 1.8 .1 1.2-.3 2.4-.8 3.1-1.7 1.2-.3 1.2 .2 3.6 1.1 2.5 .3 1.8 .1 1.8-.6 3-1.6 .6-.5 .6-.9 .6-1.4 .7-2 1.2-6.1 2.4-15.4 .6-3 .6-2 .6-1 .6 .2 .6 1.4 1.2 5.4 1.9 10.8 1.2 6.1 1.2 4.1 .6 1.4 .6 .9 .6 .7 1.2 .5 3-.2 1.3 .2 1.2 .5 3 2 1.2 .3 1.8 .2 .6 .2 3.1 1.8 .6 .1 2.4 0 20-.9 19.4 .5 7.9 .8 3 .1 2.4-.2 6.7-1.4 3-.4 19.4 1.1 7.3 .5 1.2-.1 1.2-.5 .6-1 1.3-2.8 .6-.3 .6 .7 .6 1.3 1.2 3 .6 2.2 1.2 7 1.8 14.5 .6 3.3 .6 1.2 .7-1.3 .6-3.3 3-26.3 1.2-7 .6-1.7 .6-.1 .6 1.1 1.8 6.2 .6 1.4 .6 .7 1.9 .8 .6 .4 2.4 2.5 4.9 4.2 .6 .2 .6-.2 1.2-1.6 1.2-2.6"/><path d="M324.8 100.1l1.3-.2 3 0 5.5-.9 1.8 0 3.6 .4 3.6 .5 3.7 .8 1.8 .2 1.8-.3 2.4-.7 3.7-1.8 .6 0 1.2 .1 3.6 1 4.3 .4 1.8-.5 2.4-1.3 1.2-1 .6-.9 .6-1.4 .7-2.1 1.2-6.1 2.4-15.2 .6-3 .6-2.1 .6-.9 .6 .2 .6 1.4 1.2 5.4 1.9 10.7 1.2 6 1.2 4.1 .6 1.4 .6 .9 .6 .6 .6 .4 .6 .1 3-.3 1.3 .1 .6 .3 3.6 2.4 3.6 1.2 2.5 1.6 .6 .3 .6 .1 2.4 0 20-1 19.4 .5 7.9 .8 3 .1 2.4-.2 6.7-1.4 3-.3 19.4 1 6.1 .5 1.8 0 1.8-.6 .6-1 1.3-2.9 .6-.4 .6 .7 .6 1.3 1.2 2.9 .6 1.9 1.2 6.6 1.8 13.5 .6 3.1 .6 1.1 .7-1.2 .6-3.1 3-24.9 1.2-6.9 .6-1.6 .6-.2 .6 1.2 1.8 6.1 .6 1.3 .6 .7 1.9 .7 .6 .5 2.4 2.4 4.9 4.1 .6 .3 .6-.3 1.2-1.6 1.2-2.5"/><path d="M324.8 100.9l3.7-.9 5.4-1 1.9-.1 3.6 .3 4.2 .6 4.3 .9 1.8 .1 1.8-.4 2.5-.9 3-1.5 .6-.1 1.2 .2 3.6 1 4.3 .4 1.8-.5 1.8-.8 1.2-.7 .6-.6 .6-.8 .6-1.3 .7-1.9 1.2-5.8 2.4-14.5 .6-2.8 .6-1.9 .6-.9 .6 .2 .6 1.3 1.2 5.1 1.9 10.2 1.2 5.7 1.2 3.9 1.2 2.2 .6 .6 1.2 .6 3-.1 1.9 .3 3.6 2.1 1.2 .2 1.8 .1 .6 .2 3.1 1.8 3 .1 20-.9 19.4 .5 7.9 .8 3 .1 2.4-.2 6.7-1.4 3-.4 19.4 1.1 7.3 .5 1.2-.1 1.2-.5 .6-1 1.3-2.8 .6-.3 .6 .7 .6 1.3 1.2 2.9 .6 2.1 1.2 6.6 1.8 13.5 .6 3.1 .6 1.1 .7-1.1 .6-3.2 3-24.7 1.2-6.7 .6-1.6 .6-.2 .6 1.1 1.8 5.9 .6 1.2 .6 .7 1.9 .6 .6 .5 2.4 2.5 4.9 4 .6 .3 .6-.3 1.2-1.5 1.2-2.6"/><path d="M324.8 100.4l1.9-.4 3-.4 4.2-.8 1.9-.2 3.6 .3 4.2 .7 4.3 1 1.8 .1 1.8-.5 2.5-.9 1.8-1.1 1.2-.6 .6 0 1.2 .1 3.6 1.1 2.5 .4 1.8 .1 1.2-.3 3.6-1.7 .6-.4 .6-.8 .6-1.2 .7-1.9 1.2-5.6 2.4-14 .6-2.8 .6-1.9 .6-.9 .6 .3 .6 1.2 1.2 5 1.9 9.9 1.2 5.6 1.2 3.9 1.2 2.2 .6 .7 1.2 .7 4.3 .5 4.2 1.6 3 .2 1.2 .5 2.5 1.4 3 .1 20-.9 19.4 .5 7.9 .8 3 .1 3-.3 6.7-1.5 2.4-.2 20.1 1.1 5.4 .4 1.8 0 1.8-.5 .6-1 1.3-2.8 .6-.4 .6 .7 .6 1.3 1.2 2.9 .6 2 1.2 6.6 1.8 13.4 .6 3 .6 1.1 .7-1.2 .6-3.1 3-25.2 1.2-7.3 .6-1.7 .6-.1 .6 1.3 1.8 6.9 .6 1.5 .6 .8 .7 .4 1.2 .5 .6 .5 2.4 2.4 4.2 3.8 .7 .4 .6 .3 .6-.3 1.2-1.5 1.2-2.6"/><path d="M324.8 100.4l1.9-.5 7.2-1.2 1.9-.2 3.6 .3 4.2 .7 4.3 1 1.8 0 1.8-.4 2.5-.9 3-1.6 .6-.1 1.2 .2 3.6 1 2.5 .4 1.8 0 1.2-.2 3.6-1.6 .6-.4 .6-.7 .6-1.2 .7-1.9 1.2-5.5 2.4-13.9 .6-2.7 .6-1.9 .6-.9 .6 .2 .6 1.3 .6 2.1 2.5 12.6 1.2 5.5 1.2 3.9 1.2 2.2 .6 .7 1.2 .7 1.2 .3 3.1 .3 4.2 1.5 3 0 1.2 .5 2.5 1.4 3 .1 20-.9 19.4 .5 7.9 .8 3 .1 2.4-.2 6.7-1.4 3-.4 19.4 1.1 7.3 .5 1.2-.1 1.2-.5 .6-1 1.3-2.8 .6-.3 .6 .7 .6 1.3 1.2 2.8 .6 2 1.2 6.3 1.8 13.1 .6 2.9 .6 1 .7-1.1 .6-3 3-24.1 1.2-6.8 .6-1.7 .6-.1 .6 1.2 1.8 6.1 .6 1.3 .6 .8 1.9 .6 .6 .5 2.4 2.5 4.9 4 .6 .3 .6-.3 1.2-1.5 1.2-2.6"/><path d="M324.8 100.1l1.3-.3 3-.1 5.5-.9 1.8-.1 2.4 .2 4.2 .7 4.9 1.1 1.8 .1 1.8-.5 2.5-.9 3-1.6 .6-.1 1.2 .2 3.6 1.1 2.5 .3 1.8 .1 1.8-.6 1.8-.8 1.2-.8 .6-.6 .6-1 .6-1.5 .7-2.2 1.2-6.5 2.4-16.3 .6-3.2 .6-2.2 .6-1 .6 .2 .6 1.5 1.2 5.8 1.9 11.4 1.2 6.5 1.2 4.4 .6 1.5 .6 1 .6 .7 1.2 .7 1.2 .1 1.8-.1 1.9 .4 3.6 2.2 3.6 1.1 3.1 1.8 .6 .1 2.4 0 20-1 19.4 .5 7.9 .8 3 .1 2.4-.2 6.7-1.4 3-.4 19.4 1.1 6.1 .4 1.8 .1 1.8-.6 .6-1 1.3-2.9 .6-.4 .6 .8 .6 1.3 1.2 3.1 .6 2.3 1.2 7.5 1.8 15.7 .6 3.5 .6 1.3 .7-1.3 .6-3.7 3-27.9 .6-4.1 .6-3.1 .6-1.6 .6-.2 .6 1.1 1.8 6 .6 1.4 .6 .7 1.9 .8 .6 .5 2.4 2.4 4.9 4.2 .6 .3 .6-.3 1.2-1.5 1.2-2.6"/><path d="M324.8 100.8l4.3-1.1 4.8-.9 1.9-.1 3.6 .3 4.2 .7 4.3 .9 1.8 .1 1.8-.5 2.5-.8 3-1.6 .6-.1 1.2 .2 3.6 1 4.3 .4 1.8-.5 3-1.5 .6-.5 .6-.9 .6-1.3 .7-2 1.2-6 2.4-15 .6-2.9 .6-2 .6-.9 .6 .2 .6 1.3 1.2 5.4 1.9 10.5 1.2 5.9 1.2 4 1.2 2.3 .6 .7 1.2 .6 3-.1 1.9 .4 3.6 2 1.2 .3 1.8 .2 .6 .2 3.1 1.8 .6 .1 2.4 0 20-.9 19.4 .5 7.9 .7 3 .2 2.4-.2 6.7-1.5 3-.3 20.1 1.1 5.4 .4 1.8 0 1.8-.5 .6-1 1.3-2.8 .6-.4 .6 .7 .6 1.3 1.2 3 .6 2.1 1.2 6.7 1.8 13.9 .6 3.1 .6 1.1 .7-1.1 .6-3.3 3-25.6 1.2-7.1 .6-1.7 .6-.2 .6 1.2 1.8 6.4 .6 1.4 .6 .8 1.9 .7 .6 .4 2.4 2.5 4.2 3.7 .7 .4 .6 .2 .6-.2 1.2-1.6 1.2-2.6"/><path d="M324.8 100.6l3.7-.9 5.4-1 1.9-.1 3.6 .3 4.2 .7 4.3 .9 1.8 0 1.8-.4 2.5-.8 3-1.6 .6-.1 1.2 .2 3.6 1 4.3 .4 1.8-.5 1.8-.8 1.2-.6 .6-.6 .6-.9 .6-1.4 .7-2.1 1.2-6.2 2.4-15.4 .6-3 .6-2.1 .6-1 .6 .2 .6 1.4 1.2 5.5 1.9 10.9 1.2 6.1 1.2 4.2 1.2 2.4 .6 .7 1.2 .7 1.2 .1 1.8 0 1.3 .2 1.2 .5 3 1.6 3 .4 .6 .2 3.1 1.8 .6 .1 2.4 0 20-.9 19.4 .5 7.9 .7 3 .2 2.4-.2 6.7-1.5 3-.3 20.1 1.1 5.4 .4 1.8 0 1.8-.5 .6-1 1.3-2.8 .6-.4 .6 .7 .6 1.3 1.2 3 .6 2.1 1.2 6.8 1.8 14.1 .6 3.2 .6 1.1 .7-1.2 .6-3.3 3-25.7 1.2-7 .6-1.7 .6-.1 .6 1.1 1.8 6.3 .6 1.4 .6 .8 1.9 .7 .6 .5 2.4 2.5 4.9 4.1 .6 .2 .6-.2 1.2-1.6 1.2-2.5"/><path d="M324.8 101.6l4.3-2 5.5-1 1.8-.1 2.4 .3 4.8 .7 3.7 .9 1.8 .2 1.8-.3 2.4-.8 3.7-1.9 .6-.1 1.2 .2 3.6 1.1 2.5 .3 1.8 .1 1.8-.6 1.8-.8 1.2-.8 .6-.6 .6-1.1 .6-1.6 .7-2.3 1.2-7 2.4-17.3 .6-3.3 .6-2.4 .6-1.1 .6 .3 .6 1.5 1.2 6.2 1.9 12.2 1.2 6.8 1.2 4.7 .6 1.5 .6 1.1 .6 .7 .6 .4 .6 .2 3-.2 1.3 .2 .6 .3 3.6 2.5 1.2 .6 2.4 .7 3.1 1.8 .6 .1 2.4 0 20-.9 19.4 .5 7.9 .7 3 .1 2.4-.2 6.7-1.4 3-.3 19.4 1 6.1 .5 1.8 0 1.8-.5 .6-1.1 1.3-2.9 .6-.3 .6 .7 .6 1.4 1.2 3.2 .6 2.4 1.2 7.8 1.8 16.5 .6 3.7 .6 1.3 .7-1.4 .6-3.8 3-29.1 .6-4.3 .6-3.2 .6-1.7 .6-.2 .6 1.1 1.8 6.4 .6 1.4 .6 .8 1.9 .8 .6 .5 2.4 2.5 4.9 4.2 .6 .2 .6-.2 1.2-1.6 1.2-2.5"/><path d="M324.8 101.1l4.3-1.6 6.1-1 1.8 .1 2.4 .2 4.2 .7 3.7 .8 1.8 .2 1.8-.3 2.4-.8 3.7-1.7 .6-.1 1.2 .1 3.6 1.1 4.3 .3 1.8-.5 1.8-.7 1.2-.7 .6-.6 .6-.9 .6-1.5 .7-2.2 1.2-6.5 2.4-16.1 .6-3.1 .6-2.2 .6-1 .6 .2 .6 1.5 1.2 5.7 1.9 11.3 1.2 6.4 1.2 4.4 1.2 2.6 .6 .7 1.2 .8 1.2 .1 1.8 0 1.3 .2 1.2 .5 3 1.6 3 .4 .6 .2 3.1 1.7 3 .1 20-.9 19.4 .5 7.9 .8 3 .1 2.4-.2 6.7-1.4 3-.3 19.4 1 7.3 .5 1.2-.1 1.2-.5 .6-1 1.3-2.8 .6-.3 .6 .7 .6 1.3 1.2 2.9 .6 2.1 1.2 6.7 1.8 13.8 .6 3.1 .6 1.1 .7-1.2 .6-3.1 3-25 1.2-6.6 .6-1.6 .6-.2 .6 1.1 1.8 6.3 .6 1.4 .6 .8 2.5 1.5 2.4 2.4 4.9 4.4 .6 .2 .6-.2 1.2-1.6 1.2-2.5"/><path d="M324.8 100.7l4.3-1.1 4.8-.8 1.9-.2 3.6 .3 4.2 .7 4.3 .9 1.8 0 1.2-.2 2.4-.8 3.1-1.5 1.2-.3 1.2 .1 3.6 1.1 4.3 .3 1.2-.3 1.8-.7 1.8-1.1 .6-.6 .6-1 .6-1.6 .7-2.3 1.2-6.7 2.4-16.9 .6-3.2 .6-2.3 .6-1.1 .6 .3 .6 1.5 1.2 6 1.9 11.8 1.2 6.7 1.2 4.5 .6 1.5 .6 1 .6 .7 .6 .4 .6 .2 3-.3 1.3 .2 .6 .2 4.2 3 3 1.5 1.9 1.3 1.2 .6 .6 .2 2.4-.1 17-1 3 0 19.4 .5 7.9 .7 3 .1 2.4-.2 6.7-1.4 3-.3 3.7 .1 16.4 .9 5.4 .5 1.8 0 1.8-.6 .6-1.1 1.3-3 .6-.4 .6 .8 .6 1.3 1.2 3 .6 2.2 1.2 7.5 1.8 15.8 .6 3.6 .6 1.3 .7-1.4 .6-3.6 2.4-23.3 1.2-9.4 .6-3.1 .6-1.8 .6-.2 .6 1.2 1.8 6.5 .6 1.4 .6 .8 1.9 1 .6 .4 2.4 2.5 4.9 4.2 .6 .3 .6-.3 1.2-1.5 1.2-2.6"/><path d="M324.8 101.1l4.3-1.3 6.1-1 1.8 .1 2.4 .2 4.2 .7 3.7 .8 1.8 .2 1.8-.3 2.4-.8 3.7-1.7 .6-.1 1.2 .1 3.6 1 4.3 .4 1.8-.5 2.4-1.2 1.2-1.1 .6-1 .6-1.6 .7-2.3 1.2-6.6 2.4-16.7 .6-3.2 .6-2.3 .6-1 .6 .2 .6 1.5 1.2 5.9 1.9 11.7 1.2 6.6 1.2 4.5 .6 1.4 .6 1.1 .6 .6 .6 .4 .6 .2 3-.3 1.3 .1 .6 .3 3.6 2.6 1.2 .5 2.4 .7 3.1 1.9 .6 .1 2.4 0 20-1 19.4 .6 7.9 .7 3 .1 2.4-.2 6.7-1.4 3-.3 19.4 1 6.1 .5 1.8 0 1.8-.6 .6-1 1.3-2.9 .6-.3 .6 .7 .6 1.4 1.2 3.3 .6 2.5 1.2 8.4 1.8 17.4 .6 3.9 .6 1.4 .7-1.5 .6-4 3-30.6 .6-4.4 .6-3.3 .6-1.8 .6-.2 .6 1.1 1.8 6.4 .6 1.3 .6 .8 1.9 .9 .6 .4 2.4 2.5 4.9 4.2 .6 .2 .6-.2 1.2-1.6 1.2-2.6"/><path d="M324.8 100.8l2.5-.6 6.6-1.2 1.9-.1 3.6 .3 4.2 .7 4.3 1 1.8 .1 1.8-.5 2.5-.9 1.8-1.1 1.2-.6 .6-.1 1.2 .2 3.6 1.1 2.5 .3 1.8 .1 1.8-.5 2.4-1.4 1.2-1.2 .6-1.1 .6-1.6 .7-2.4 1.2-6.9 2.4-17.4 .6-3.4 .6-2.3 .6-1.1 .6 .2 .6 1.6 1.2 6.2 1.9 12.2 1.2 6.9 1.2 4.7 .6 1.5 .6 1.1 .6 .7 .6 .5 .6 .2 .6 .1 2.4-.3 1.3 .2 .6 .3 3.6 2.5 3.6 1.6 1.9 1.3 1.2 .6 .6 .2 2.4-.1 20-1 19.4 .5 7.9 .7 3 .2 2.4-.3 6.7-1.4 3-.3 3.7 .1 16.4 .9 5.4 .5 1.8 0 1.8-.5 .6-1.1 1.3-3 .6-.4 .6 .8 .6 1.3 1.2 3.2 .6 2.3 1.2 7.9 1.8 16.6 .6 3.7 .6 1.4 .7-1.4 .6-3.8 3-29.3 .6-4.3 .6-3.1 .6-1.7 .6-.2 .6 1.1 1.8 5.8 .6 1.3 .6 .7 1.9 .6 .6 .5 2.4 2.5 4.9 4 .6 .3 .6-.3 1.2-1.5 1.2-2.6"/></g></g>
<rect x="313.7" y="8.9" width="229.6" height="171.5" fill="none" stroke="#3a3a3a" stroke-width="0.75"/>
<path d="M329.7 180.4v2.2M378.2 180.4v2.2M426.7 180.4v2.2M475.2 180.4v2.2M523.7 180.4v2.2M313.7 18.57h-2.2M313.7 39h-2.2M313.7 59.43h-2.2M313.7 79.86h-2.2M313.7 100.29h-2.2M313.7 120.72h-2.2M313.7 141.15h-2.2M313.7 161.58h-2.2" stroke="#222" stroke-width="0.65" fill="none"/>
<rect x="492.1" y="11.4" width="47.7" height="21.8" rx="1" fill="#fff" fill-opacity="0.8" stroke="#d4d4d4" stroke-width="0.5"/>
<path d="M494.6 17.15h13.4" stroke="#ff0000" stroke-opacity="0.5" stroke-width="1.0"/>
<path d="M494.6 26.75h13.4" stroke="#0000ff" stroke-opacity="0.5" stroke-width="1.0"/>
<g class="t"><text x="329.7" y="189.8" text-anchor="middle">200</text><text x="378.2" y="189.8" text-anchor="middle">400</text><text x="426.7" y="189.8" text-anchor="middle">600</text><text x="475.2" y="189.8" text-anchor="middle">800</text><text x="523.7" y="189.8" text-anchor="middle">1000</text><text x="309" y="21.17" text-anchor="end">1.00</text><text x="309" y="41.6" text-anchor="end">0.75</text><text x="309" y="62.03" text-anchor="end">0.50</text><text x="309" y="82.46" text-anchor="end">0.25</text><text x="309" y="102.89" text-anchor="end">0.00</text><text x="309" y="123.32" text-anchor="end">−0.25</text><text x="309" y="143.75" text-anchor="end">−0.50</text><text x="309" y="164.18" text-anchor="end">−0.75</text><text x="428" y="198.5" text-anchor="middle">wavelength</text><text transform="translate(284.7 94.65) rotate(-90)" text-anchor="middle" font-size="6.55">first derivative of the absorption spectrum</text><text x="513.1" y="19.4">Chaohu</text><text x="513.1" y="29">Taihu</text></g></g>
<g><g fill="none" stroke-width="0.9" stroke-opacity="0.68" stroke-linejoin="round"><g stroke="#ff0000"><path d="M43.4 335.7l1.3-.5 1.2-.4 1.8-.1 7.9 2.5 1.8 .4 1.2 0 2.4-.3 3.7-.6 6.7-2.2 1.2-.2 .6 .1 1.2 .5 2.4 1.6 4.3 2.3 .6 .2 1.2 0 1.2-.3 1.2-.6 .6-1.1 1.8-4.4 .7-2 .6-3.7 1.2-12.6 1.8-25 .6-5.7 .6-2.6 .6 1.2 .6 4.7 .6 7.3 5.5 81.4 .6 7.9 .6 5.4 .6 2 .6-1.9 .6-5.3 1.8-24.8 1.3-13.3 1.2-8 .6-2.4 .6-1.5 .6-.5 .6 .6 .6 1.3 1.8 5.5 2.5 8 .6 1.4 .6 .7 .6-.1 .6-.8 .6-1.5 2.4-7.7 1.2-2.5 1.2-1.8 .7-.6 .6-.5 .6-.2 1.8 .2 6.7 1.6 2.4 .3 1.8-.1 4.9-.8 7.9-.3 1.8 .2 4.2 1 2.5 .1 6-.7 7.3-.6 6.1-.9 2.4-.2 2.4 .2 7.9 1.9 2.4 .3 1.9 0 3.6-.6 1.2-.1 11.5 .9 2.5-1.5 .6-1 .6-2.1 1.2-6.6 .6-1.8 .6 .8 .6 3.1 1.8 11.7 .7 6.7 .6 10.9 1.8 47.9 .6 5.6 .6-5.6 .6-14.7 1.2-35.3 1.2-29.5 1.8-60.1 .7-12.5 .6 1.5 .6 14.6 1.2 40.8 .6 14.2 .6 8.8 2.4 23.5 .6 1.4 .6-3 1.3-11.4 .6-4 .6-1.9 .6-.5 .6 .1 .6 .3 2.4 2 .6 0 3.7-3.5 1.8-3.4 1.2-3.3"/><path d="M43.4 335.7l1.3-.7 1.2-.4 1.8-.1 7.9 2.8 1.8 .4 1.2 0 2.4-.2 3.7-.7 6.7-2.6 1.2-.2 .6 .1 1.2 .6 2.4 1.8 4.3 2.6 .6 .2 1.2 0 1.2-.3 1.2-.7 .6-1.2 1.2-3.3 .6-1.2 .7-2 .6-3.5 1.2-12.4 1.8-24.4 .6-5.7 .6-2.5 .6 1.2 .6 4.5 6.1 83.7 .6 7.2 .6 4.8 .6 1.8 .6-1.7 .6-4.7 1.8-22.3 1.3-12 .6-4.2 .6-3.1 .6-2.4 .6-1.4 .6-.4 .6 .6 .6 1.2 4.3 12.6 .6 1.2 .6 .7 .6-.1 .6-.8 .6-1.3 2.4-6.9 1.2-2.3 1.2-1.6 .7-.5 .6-.4 .6-.2 1.8 .1 6.7 1.3 2.4 .3 1.8-.1 4.9-.6 7.9-.3 1.8 .2 4.2 .8 2.5 .1 6-.6 7.3-.5 6.1-.7 2.4-.2 2.4 .2 7.9 1.5 2.4 .3 1.9-.1 4.8-.5 11.5 .7 2.5-1.3 .6-1 .6-2.1 1.2-6.5 .6-1.8 .6 .8 .6 3 1.8 11.6 .7 6.6 .6 10.7 1.8 46.9 .6 5.5 .6-5.5 .6-14.4 1.2-34.6 1.2-29 1.8-59.3 .7-12.3 .6 1.4 .6 14.4 1.2 40.3 .6 14 .6 8.7 2.4 23.1 .6 1.4 .6-3 1.3-11.2 .6-3.9 .6-1.7 .6-.3 .6 .2 3 2.5 .6-.1 3.7-3.5 1.8-3.4 1.2-2.9"/><path d="M43.4 335.8l2.5-.8 1.8-.1 7.9 2.2 1.8 .3 1.2 0 2.4-.2 3.7-.5 6.7-2 1.2-.1 .6 0 1.2 .5 2.4 1.4 4.3 2 .6 .2 1.2 0 1.2-.3 1.2-.5 .6-1 1.8-4.1 .7-2 .6-3.5 1.2-12.1 1.8-24 .6-5.5 .6-2.5 .6 1.2 .6 4.4 .6 7.1 5.5 77.1 .6 7.5 .6 5.1 .6 1.8 .6-1.8 .6-4.9 1.8-23.3 1.3-12.5 .6-4.3 .6-3.3 .6-2.4 .6-1.4 .6-.5 .6 .6 .6 1.2 4.3 12.2 .6 1.2 .6 .6 .6-.1 .6-.7 .6-1.3 2.4-6.6 1.2-2.3 1.9-2.8 .6-.5 .6-.3 1.8 .3 6.7 2.4 1.2 .4 1.2 .1 1.8-.2 4.9-1.1 4.2-.4 3.7-.1 1.8 .3 4.2 1.6 1.2 .1 1.3 0 6-1.1 7.3-.9 6.1-1.4 2.4-.3 2.4 .4 7.9 2.7 2.4 .6 1.9-.1 3.6-.9 1.2-.1 2.4 .2 7.3 1 1.8 .1 1.3-1 1.2-.8 .6-1.1 .6-2.1 1.2-6.5 .6-1.8 .6 .8 .6 3 1.8 11.6 .7 6.3 .6 10.6 1.8 45.9 .6 5.5 .6-5.5 .6-14 1.2-33.9 1.2-28.4 1.8-57.8 .7-12 .6 1.4 .6 14 1.2 39.3 .6 13.6 .6 8.5 2.4 22.7 .6 1.3 .6-2.9 1.3-11 .6-3.8 .6-1.8 .6-.6 .6 .1 .6 .3 2.4 1.9 .6 0 3.7-3.5 .6-.9 1.2-2.5 1.2-3.3"/><path d="M43.4 335.8l2.5-.8 1.8-.1 7.9 2.2 1.8 .3 1.2 .1 2.4-.2 3.7-.6 6.7-2 1.2-.2 .6 .1 1.2 .4 2.4 1.5 4.3 2.1 .6 .1 1.2 0 1.2-.2 1.2-.6 .6-1 1.8-4 .7-1.9 .6-3.4 1.2-11.8 1.8-23.2 .6-5.3 .6-2.4 .6 1.1 .6 4.3 6.1 79.6 .6 6.8 .6 4.7 .6 1.6 .6-1.6 .6-4.5 1.8-21.3 1.3-11.4 .6-4 1.2-5.4 .6-1.4 .6-.4 .6 .5 .6 1.3 4.3 11.9 .6 1.2 .6 .6 .6-.1 .6-.7 .6-1.3 2.4-6.4 1.2-2.1 1.2-1.6 .7-.6 .6-.3 .6-.2 1.8 .1 6.7 1.4 2.4 .3 1.8-.1 4.9-.6 7.9-.4 1.8 .2 4.2 1 2.5 0 6-.6 7.3-.6 6.1-.8 2.4-.1 2.4 .2 7.9 1.6 2.4 .3 1.9 0 4.8-.6 11.5 .8 2.5-1.3 .6-1.1 .6-2.1 1.2-6.4 .6-1.8 .6 .8 .6 3 1.8 11.3 .7 6.2 .6 10.2 1.8 44.6 .6 5.2 .6-5.3 .6-13.6 1.2-32.8 1.2-27.5 1.8-56 .7-11.6 .6 1.4 .6 13.6 1.2 38 .6 13.2 .6 8.2 2.4 22 .6 1.3 .6-2.9 1.3-10.6 .6-3.7 .6-1.2 .6 .2 3.6 3.6 .6 0 2.4-2.4 1.3-1.5 1.2-2.1 1.8-2.7"/><path d="M43.4 335.8l1.3-.6 1.2-.4 1.8-.1 7.9 2.5 1.8 .3 1.2 0 2.4-.2 3.7-.6 6.7-2.2 1.2-.2 .6 .1 1.2 .5 2.4 1.6 4.3 2.3 .6 .1 1.2 .1 1.2-.3 1.2-.6 .6-1.1 1.2-2.9 .6-1.1 .7-1.8 .6-3.2 1.2-11.2 1.8-22.2 .6-5.1 .6-2.2 .6 1 .6 4.1 6.1 76.6 .6 6.6 .6 4.5 .6 1.6 .6-1.5 .6-4.4 1.8-20.7 1.3-11.2 .6-4 1.2-5.4 .6-1.5 .6-.4 .6 .6 .6 1.3 4.3 11.1 .6 1.1 .6 .5 .6 0 .6-.7 .6-1.1 2.4-5.8 1.2-1.9 1.9-2.1 .6-.4 .6-.2 1.8 .2 6.7 1.6 2.4 .3 1.8-.1 4.9-.8 7.9-.3 1.8 .2 4.2 1 2.5 .1 6-.7 7.3-.6 6.1-.9 2.4-.2 2.4 .3 7.9 1.7 2.4 .4 1.9 0 4.8-.7 11.5 .9 2.5-1.4 .6-1 .6-2.1 1.2-6.3 .6-1.7 .6 .8 .6 2.9 1.8 10.7 .7 5.6 .6 9 1.8 39.6 .6 4.6 .6-4.6 .6-12.1 3-68 1.2-34.5 .7-10.2 .6 1.2 .6 11.9 1.2 33.3 .6 11.6 .6 7.2 2.4 19.6 .6 1.2 .6-2.5 1.3-9.6 .6-3.3 .6-1.6 .6-.4 .6 .2 .6 .3 2.4 1.9 .6 0 3.7-3.5 1.8-3.4 1.2-3.3"/><path d="M43.4 335.8l1.3-.6 1.2-.3 1.8-.1 7.9 2.4 1.8 .3 1.2 0 2.4-.2 3.7-.6 6.7-2.1 1.2-.2 .6 .1 1.2 .5 2.4 1.5 4.3 2.2 .6 .1 1.2 .1 1.2-.3 1.2-.6 .6-1 1.2-2.9 .6-1 .7-1.8 .6-3.1 1.2-10.9 1.8-21.6 .6-5 .6-2.2 .6 1 .6 4 .6 6.4 5.5 68.7 .6 6.5 .6 4.5 .6 1.6 .6-1.6 .6-4.3 1.8-20.4 1.3-11.1 .6-3.9 1.2-5.3 .6-1.5 .6-.4 .6 .6 .6 1.3 4.3 11.6 .6 1.1 .6 .6 .6 0 .6-.7 .6-1.2 2.4-6.2 1.2-2 1.2-1.5 .7-.5 .6-.3 .6-.2 1.8 .1 6.7 1.3 2.4 .3 1.8-.1 4.9-.6 7.9-.3 1.8 .2 4.2 .8 2.5 .1 6-.6 7.3-.5 6.1-.7 2.4-.2 2.4 .2 7.9 1.5 2.4 .3 1.9-.1 4.8-.5 11.5 .7 2.5-1.2 .6-1 .6-2.1 1.2-6.3 .6-1.8 .6 .8 .6 2.9 1.8 10.9 .7 5.7 .6 9.4 1.8 40.9 .6 4.8 .6-4.9 .6-12.5 3-70 1.2-35.5 .7-10.5 .6 1.3 .6 12.2 1.2 34.2 .6 11.9 .6 7.4 2.4 20.2 .6 1.2 .6-2.6 1.3-9.8 .6-3.4 .6-1.1 .6 .3 3.6 3.5 .6 0 2.4-2.4 1.3-1.4 3-4.9"/><path d="M43.4 335.7l1.3-.7 1.2-.4 1.8-.1 7.9 2.8 1.8 .4 1.2 0 2.4-.3 3.7-.7 6.7-2.4 1.2-.2 .6 .1 1.2 .5 2.4 1.8 4.3 2.5 .6 .2 1.2 .1 1.2-.4 1.2-.6 .6-1.1 1.2-2.9 .6-.7 .7-1.2 .6-2.3 1.2-8.4 1.8-16.5 .6-3.9 .6-1.7 .6 .8 .6 3.1 .6 4.9 5.5 53.3 .6 5.2 .6 3.5 .6 1.2 .6-1.2 .6-3.4 1.8-16.1 1.3-8.7 .6-3.2 1.2-4.4 .6-1.2 .6-.4 .6 .5 .6 1.1 1.8 3.9 2.5 4.6 .6 .7 .6 .4 .6 0 .6-.5 .6-.8 1.8-3.2 1.2-1.7 1.8-1.7 1.3-.7 .6-.2 1.8 .1 6.7 1.2 2.4 .2 6.7-.6 7.9-.3 1.8 .2 4.2 .8 2.5 0 13.3-1 6.1-.6 2.4-.1 2.4 .2 7.9 1.2 2.4 .3 1.9 0 4.8-.5 11.5 .6 2.5-1.1 .6-1 .6-2 1.2-6.1 .6-1.6 .6 .7 .6 2.8 1.8 10 .7 4.9 .6 7.9 1.8 34.3 .6 4 .6-4 .6-10.5 3-58.8 1.2-29.7 .7-8.8 .6 1 .6 10.3 1.2 28.7 .6 10 .6 6.2 2.4 17.2 .6 1 .6-2.2 1.3-8.5 .6-2.8 .6-1.1 .6 .2 3.6 3.2 .6 0 3.7-3.7 3-5.5"/><path d="M43.4 335.8l2.5-.8 1.8-.1 7.9 2.2 1.8 .3 1.2 0 2.4-.2 3.7-.5 6.7-1.9 1.2-.2 .6 .1 1.2 .4 2.4 1.4 4.3 2 .6 .1 1.2 .1 1.2-.3 1.2-.5 .6-.9 1.2-2.7 .6-.9 .7-1.7 .6-2.9 1.2-10 1.8-19.9 .6-4.6 .6-2 .6 .9 .6 3.7 6.1 69 .6 6 .6 4.1 .6 1.4 .6-1.4 .6-3.9 1.8-18.8 1.3-10.1 .6-3.5 1.2-4.8 .6-1.3 .6-.4 .6 .5 .6 1.2 4.3 10.3 .6 1 .6 .5 .6 0 .6-.6 .6-1.1 2.4-5.5 1.2-1.9 1.9-2 .6-.4 .6-.2 1.8 .1 6.7 1.7 2.4 .3 1.8-.1 4.9-.8 7.9-.3 1.8 .2 4.2 1.1 2.5 0 6-.7 7.3-.6 6.1-1 2.4-.1 2.4 .2 7.9 1.9 2.4 .3 1.9 0 3.6-.6 1.2-.1 11.5 .9 2.5-1.4 .6-1 .6-2.1 1.2-6.3 .6-1.8 .6 .8 .6 2.9 1.8 10.9 .7 5.8 .6 9.4 1.8 41.2 .6 4.8 .6-4.9 .6-12.5 3-70.9 1.2-36.2 .7-10.7 .6 1.2 .6 12.5 1.2 35 .6 12.1 .6 7.6 2.4 20.4 .6 1.2 .6-2.7 1.3-9.9 .6-3.4 .6-1.5 .6-.1 .6 .3 3 2.4 .6 0 3.7-3.6 1.8-3.3 1.2-2.8"/><path d="M43.4 335.7l1.3-.7 1.2-.4 1.8-.1 1.2 .3 2.4 1.1 4.3 1.4 1.8 .4 1.2 0 2.4-.2 3.7-.7 6.7-2.6 1.2-.2 .6 .1 1.2 .6 2.4 1.8 4.3 2.6 .6 .2 1.2 0 1.2-.3 1.2-.7 .6-1.1 1.2-3.2 .6-1 .7-1.6 .6-3 1.2-10.6 1.8-20.9 .6-4.8 .6-2.2 .6 1 .6 3.9 6.1 72.4 .6 6.3 .6 4.2 .6 1.6 .6-1.5 .6-4.2 1.8-19.5 1.3-10.6 .6-3.8 1.2-5.3 .6-1.4 .6-.4 .6 .6 .6 1.3 4.3 11.5 .6 1.1 .6 .5 .6-.1 .6-.6 .6-1.2 2.4-6 1.2-2 1.9-2.3 .6-.4 .6-.2 1.8 .2 6.7 1.8 2.4 .4 1.8-.2 4.9-.8 7.9-.4 1.8 .2 4.2 1.2 2.5 .1 6-.8 7.3-.7 6.1-1.1 2.4-.2 2.4 .3 7.9 2.1 2.4 .4 1.9 0 3.6-.7 1.2-.1 11.5 1 2.5-1.5 .6-1 .6-2.1 1.2-6.3 .6-1.8 .6 .8 .6 2.9 1.8 10.9 .7 5.7 .6 9.4 1.8 40.8 .6 4.8 .6-4.8 .6-12.5 1.2-30.1 1.2-25.2 1.8-51.5 .7-10.7 .6 1.3 .6 12.5 1.2 35 .6 12.1 .6 7.5 2.4 20.3 .6 1.2 .6-2.6 1.3-9.8 .6-3.4 .6-1.3 .6 .1 3.6 3.2 .6 0 3.7-3.7 3-5.5"/><path d="M43.4 335.8l2.5-.8 1.8-.1 7.9 2.2 1.8 .3 1.2 0 2.4-.2 3.7-.5 6.7-2 1.2-.2 .6 .1 1.2 .5 2.4 1.4 4.3 2 .6 .2 1.2 0 1.2-.3 1.2-.5 .6-.9 1.2-2.3 .6-.7 .7-1 .6-2.1 1.2-7.3 1.8-14.4 .6-3.3 .6-1.5 .6 .6 .6 2.7 6.1 50.1 .6 4.4 .6 2.9 .6 1.1 .6-1 .6-2.9 1.8-13.6 1.3-7.5 .6-2.8 1.2-4 .6-1.2 .6-.4 .6 .5 2.4 5.1 1.8 3.3 1.3 1.6 .6 .4 .6 0 .6-.5 .6-.7 2.4-3.9 1.8-2 1.3-1.1 .6-.4 .6-.2 1.8 .2 6.7 1.7 2.4 .3 1.8-.1 4.9-.8 7.9-.4 1.8 .3 4.2 1.1 2.5 0 6-.7 7.3-.7 6.1-.9 2.4-.2 2.4 .3 7.9 1.9 2.4 .3 1.9 0 3-.5 1.8-.2 11.5 .9 2.5-1.4 .6-.9 .6-1.9 1.2-5.9 .6-1.6 .6 .8 .6 2.6 1.8 9.1 .7 3.9 .6 6.2 1.8 26.9 .6 3.2 .6-3.2 .6-8.2 3-46.3 1.2-23.6 .7-6.9 .6 .8 .6 8.1 1.2 22.8 .6 7.9 .6 5 2.4 13.8 .6 .8 .6-1.8 1.3-6.8 .6-2.3 .6-.8 .6 .3 3.6 3.2 .6-.1 3.7-3.7 3-5.6"/><path d="M43.4 335.8l1.3-.6 1.2-.4 1.8-.1 7.9 2.5 1.8 .3 1.2 .1 2.4-.3 3.7-.6 6.7-2.2 1.2-.2 .6 .1 1.2 .5 2.4 1.6 4.3 2.3 .6 .2 1.2 0 1.2-.3 1.2-.6 .6-1.1 1.2-3 .6-1 .7-1.8 .6-3.2 1.2-11.2 1.8-22.2 .6-5.1 .6-2.2 .6 1 .6 4.1 6.1 76.3 .6 6.6 .6 4.4 .6 1.6 .6-1.5 .6-4.4 1.8-20.5 1.3-11.1 .6-3.8 1.2-5.3 .6-1.5 .6-.4 .6 .6 .6 1.3 4.3 11.7 .6 1.1 .6 .6 .6-.1 .6-.7 .6-1.2 2.4-6.2 1.2-2.1 1.9-2.3 .6-.4 .6-.2 1.8 .1 6.7 1.8 2.4 .3 1.8-.1 4.9-.8 7.9-.4 1.8 .2 4.2 1.2 2.5 .1 6-.8 7.3-.7 6.1-1 2.4-.2 2.4 .3 7.9 2 2.4 .4 1.9-.1 3-.5 1.8-.2 11.5 1 2.5-1.5 .6-1.1 .6-2 1.2-6.4 .6-1.7 .6 .8 .6 2.9 1.8 11 .7 5.9 .6 9.7 1.8 42.3 .6 4.9 .6-5 .6-12.9 3-72.8 1.2-37.3 .7-11 .6 1.3 .6 12.8 1.2 36 .6 12.5 .6 7.8 2.4 20.9 .6 1.2 .6-2.7 1.3-10.1 .6-3.6 .6-1.5 .6-.3 .6 .3 3 2.4 .6-.1 3.7-3.5 1.8-3.4 1.2-3"/><path d="M43.4 335.9l2.5-.7 1.8-.1 7.9 2 1.8 .2 1.2 0 6.1-.6 6.7-1.8 1.2-.1 .6 0 1.2 .5 2.4 1.2 4.3 1.8 1.8 .1 1.2-.2 1.2-.4 .6-.8 1.2-2.2 .6-.6 .7-1 .6-1.9 1.2-6.8 1.8-13.5 .6-3.1 .6-1.4 .6 .6 .6 2.5 6.1 46.6 .6 4.1 .6 2.7 .6 1 .6-1 .6-2.6 1.8-12.6 1.3-7 .6-2.6 1.2-3.9 .6-1.1 .6-.4 .6 .5 1.8 3.5 1.8 2.8 1.3 1.5 .6 .5 .6 .3 .6 0 .6-.4 3-3.4 1.2-1.1 1.9-1.9 .6-.5 .6-.2 1.8 .3 6.7 2.2 1.2 .3 1.2 .1 1.8-.2 4.9-1 4.2-.3 3.7-.1 1.8 .2 4.2 1.5 1.2 .1 1.3 0 6-1 7.3-.8 6.1-1.3 2.4-.2 2.4 .4 7.9 2.4 2.4 .5 1.9-.1 3-.7 1.8-.2 2.4 .1 7.3 1 1.8 .1 1.3-1 1.2-.7 .6-.9 .6-1.9 1.2-5.9 .6-1.6 .6 .7 .6 2.7 1.8 9.1 .7 4 .6 6.4 1.8 27.4 .6 3.2 .6-3.2 .6-8.4 3-47 1.2-23.7 .7-7 .6 .8 .6 8.2 1.2 22.9 .6 8 .6 5 2.4 14 .6 .8 .6-1.8 1.3-6.9 .6-2.4 .6-1 .6 0 .6 .3 3 2.4 .6 0 3.7-3.6 1.8-3.3 1.2-3"/><path d="M43.4 335.9l2.5-.7 1.8-.1 7.9 2 1.8 .2 1.2 0 6.1-.6 6.7-1.8 1.2-.1 .6 0 1.2 .4 2.4 1.3 4.3 1.8 1.8 .1 1.2-.2 1.2-.5 .6-.8 1.8-3.4 .7-1.5 .6-2.8 1.2-9.7 1.8-19 .6-4.4 .6-1.9 .6 .8 .6 3.6 .6 5.6 5.5 60.5 .6 5.8 .6 3.9 .6 1.4 .6-1.3 .6-3.8 1.8-18 1.3-9.8 .6-3.4 1.2-4.6 .6-1.3 .6-.3 .6 .4 .6 1.2 4.3 9.6 .6 1 .6 .4 .6 0 .6-.6 .6-1 2.4-5.1 1.2-1.7 1.9-2 .6-.5 .6-.1 1.8 .1 6.7 1.8 2.4 .3 1.8-.1 4.9-.8 7.9-.4 1.8 .2 4.2 1.2 2.5 .1 6-.8 7.3-.7 6.1-1 2.4-.1 2.4 .2 7.9 2 2.4 .4 1.9-.1 3.6-.6 1.2-.1 11.5 1 2.5-1.5 .6-1 .6-2 1.2-6.1 .6-1.7 .6 .8 .6 2.8 1.8 10 .7 4.9 .6 7.9 1.8 34.4 .6 4.1 .6-4.1 .6-10.5 3-59.1 1.2-30 .7-8.9 .6 1 .6 10.4 1.2 29 .6 10.1 .6 6.3 2.4 17.2 .6 1 .6-2.2 1.3-8.4 .6-3 .6-1.5 .6-.5 .6 0 .6 .2 1.2 1.1 1.2 .8 .6-.1 1.8-1.8 1.3-.9 1.2-1.6 1.2-2.6 1.2-3.8"/><path d="M43.4 335.9l2.5-.9 1.8 0 7.9 2.1 1.8 .3 1.2 0 2.4-.2 3.7-.5 6.7-1.9 1.2-.2 .6 .1 1.2 .4 2.4 1.4 4.3 2 .6 .1 1.2 0 1.2-.2 1.2-.5 .6-.9 1.2-2.3 .6-.7 .7-1.1 .6-2.1 1.2-7.5 1.8-14.9 .6-3.4 .6-1.5 .6 .6 .6 2.8 6.1 51.3 .6 4.4 .6 3 .6 1.1 .6-1.1 .6-2.9 1.8-13.8 1.3-7.6 .6-2.8 1.2-4.1 .6-1.2 .6-.4 .6 .5 1.8 3.4 1.8 2.7 1.3 1.4 .6 .5 .6 .3 .6 0 .6-.4 3-3.2 3.1-2.5 1.2-.4 1.8 .1 6.7 1.6 2.4 .3 1.8-.2 4.9-.7 7.9-.3 1.8 .2 4.2 1 2.5 .1 6-.7 7.3-.6 6.1-.9 2.4-.1 2.4 .2 7.9 1.7 2.4 .4 1.9-.1 4.8-.6 11.5 .8 2.5-1.3 .6-1 .6-1.9 1.2-6 .6-1.6 .6 .8 .6 2.7 1.8 9.5 .7 4.4 .6 6.9 1.8 30.4 .6 3.6 .6-3.6 .6-9.3 3-52.1 1.2-26.5 .7-7.9 .6 1 .6 9.1 1.2 25.6 .6 8.9 .6 5.5 2.4 15.4 .6 .9 .6-2 1.3-7.5 .6-2.6 .6-1 .6 .1 .6 .4 3 2.6 .6-.1 3.7-3.6 1.8-3.3 1.2-2.6"/><path d="M43.4 335.9l2.5-.7 1.8-.1 7.9 1.9 1.8 .3 1.2 0 6.1-.6 6.7-1.7 1.2-.2 .6 .1 1.2 .4 2.4 1.2 4.3 1.7 1.8 .2 1.2-.2 1.2-.5 .6-.8 1.2-2.1 .6-.7 .7-1.1 .6-2.1 1.2-7.4 1.8-14.6 .6-3.4 .6-1.5 .6 .7 .6 2.7 6.1 49.8 .6 4.3 .6 2.8 .6 1.1 .6-1 .6-2.8 2.5-17.3 1.2-6.1 1.2-4.2 .6-1.2 .6-.4 .6 .6 2.4 5.3 1.8 3.3 1.3 1.7 .6 .3 .6 0 .6-.5 .6-.7 2.4-3.8 3.1-3.6 .6-.5 .6-.2 1.8 .2 6.7 2.4 1.2 .4 1.2 .1 1.8-.2 4.9-1.1 4.2-.4 3.7-.1 1.8 .3 4.2 1.6 1.2 .1 1.3-.1 6-1 7.3-.9 6.1-1.4 2.4-.2 2.4 .4 7.9 2.6 2.4 .6 1.9-.1 3-.8 1.8-.2 2.4 .1 7.3 1.1 1.8 .1 1.3-1 1.2-.8 .6-.9 .6-1.9 1.2-5.8 .6-1.6 .6 .7 .6 2.7 1.8 8.9 .7 3.8 .6 5.9 1.8 25.8 .6 3 .6-3.1 .6-7.8 1.2-19 1.2-15.9 1.8-32.5 .7-6.7 .6 .8 .6 7.9 1.2 22 .6 7.7 .6 4.8 2.4 13.3 .6 .8 .6-1.7 1.3-6.6 .6-2.2 .6-.9 .6 0 1.2 .8 2.4 2 .6-.1 3.7-3.5 1.8-3.3 1.2-3"/><path d="M43.4 335.9l2.5-.7 1.8-.1 7.9 1.9 1.8 .3 1.2 0 6.1-.6 6.7-1.7 1.2-.2 .6 .1 1.2 .4 2.4 1.2 4.3 1.7 1.8 .2 1.2-.2 1.2-.5 3.1-4.6 .6-1.9 1.2-7 1.8-13.9 .6-3.2 .6-1.4 .6 .6 .6 2.6 6.1 48.1 .6 4.1 .6 2.9 .6 1 .6-1 .6-2.8 1.8-13 1.3-7.2 .6-2.7 1.2-3.9 .6-1.1 .6-.4 .6 .5 2.4 4.5 1.8 2.7 1.3 1.4 .6 .2 .6 0 .6-.3 3-3.7 3.1-2.8 .6-.3 .6-.2 1.8 .2 6.7 1.7 2.4 .3 1.8-.1 4.9-.8 7.9-.4 1.8 .3 4.2 1.1 2.5 0 6-.7 7.3-.7 6.1-.9 2.4-.2 2.4 .3 7.9 1.9 2.4 .3 1.9 0 3-.5 1.8-.2 11.5 .9 2.5-1.4 .6-.9 .6-1.9 1.2-5.8 .6-1.6 .6 .7 .6 2.7 1.8 8.9 .7 3.7 .6 6 1.8 25.6 .6 3.1 .6-3.1 .6-7.8 3-44.1 1.2-22.4 .7-6.6 .6 .8 .6 7.7 1.2 21.6 .6 7.5 .6 4.8 2.4 13.2 .6 .8 .6-1.8 1.3-6.5 .6-2.2 .6-.6 .6 .4 3.6 3.3 .6 0 2.4-2.4 1.3-1.3 3-5.4"/><path d="M43.4 335.8l2.5-.8 1.8-.1 7.9 2.2 1.8 .3 1.2 0 2.4-.2 3.7-.5 6.7-2 1.2-.1 .6 0 1.2 .5 2.4 1.4 4.3 2 .6 .2 1.2 0 1.2-.3 1.2-.5 .6-1 1.8-3.8 .7-1.8 .6-3.2 1.2-11.1 1.8-21.8 .6-5.1 .6-2.2 .6 1 .6 4.1 .6 6.4 5.5 69.9 .6 6.7 .6 4.6 .6 1.6 .6-1.6 .6-4.4 1.8-20.9 1.3-11.2 .6-3.9 .6-2.9 .6-2.2 .6-1.3 .6-.4 .6 .5 .6 1.2 4.3 11.7 .6 1.1 .6 .6 .6 0 .6-.8 .6-1.2 2.4-6.5 1.2-2.2 1.9-2.3 .6-.4 .6-.2 1.8 .2 6.7 1.7 2.4 .3 1.8-.1 4.9-.8 7.9-.4 1.8 .3 4.2 1.1 2.5 .1 6-.8 7.3-.7 6.1-.9 2.4-.2 2.4 .3 7.9 1.9 2.4 .4 1.9-.1 3.6-.6 1.2-.1 11.5 1 2.5-1.5 .6-1 .6-2.1 1.2-6.3 .6-1.7 .6 .8 .6 2.9 1.8 10.7 .7 5.6 .6 9.1 1.8 39.9 .6 4.7 .6-4.8 .6-12.1 1.2-29.3 1.8-38.7 1.2-34 .7-10.1 .6 1.2 .6 11.7 1.2 32.9 .6 11.4 .6 7.2 2.4 19.6 .6 1.2 .6-2.5 1.3-9.7 .6-3.3 .6-1.3 .6 0 3.6 3.1 .6-.1 3.7-3.6 1.8-3.2 1.2-2.5"/><path d="M43.4 335.9l2.5-.7 1.8-.1 7.9 1.9 1.8 .3 1.2 0 6.1-.6 6.7-1.7 1.2-.2 1.8 .5 2.4 1.2 4.3 1.7 1.8 .2 1.2-.2 1.2-.5 3.1-4.5 .6-2 1.2-7 1.8-13.7 .6-3.2 .6-1.4 .6 .6 .6 2.6 6.1 47.4 .6 4.1 .6 2.7 .6 1 .6-.9 .6-2.7 1.8-12.8 1.3-7 .6-2.7 1.2-3.9 .6-1.1 .6-.4 .6 .5 1.8 3.5 1.8 2.9 1.3 1.5 .6 .6 .6 .3 .6-.1 .6-.3 3-3.6 1.8-1.5 1.3-.8 1.2-.4 1.8 .1 6.7 1.2 2.4 .2 6.7-.6 7.9-.3 1.8 .2 4.2 .8 2.5 0 13.3-1 6.1-.6 2.4-.2 2.4 .2 7.9 1.4 2.4 .2 1.9 0 4.8-.5 11.5 .6 2.5-1.1 .6-.9 .6-1.9 1.2-5.8 .6-1.6 .6 .7 .6 2.7 1.8 8.9 .7 3.7 .6 5.9 1.8 25.4 .6 3 .6-3 .6-7.8 1.2-18.7 1.2-15.7 1.8-32.3 .7-6.7 .6 .8 .6 7.9 1.2 21.8 .6 7.7 .6 4.7 2.4 13.2 .6 .8 .6-1.7 1.3-6.5 .6-2.2 .6-.9 .6-.1 .6 .3 3 2.4 .6-.1 3.7-3.5 1.8-3.3 1.2-3.1"/><path d="M43.4 335.8l2.5-.8 1.8-.1 7.9 2.2 1.8 .3 1.2 0 2.4-.2 3.7-.5 6.7-2 1.2-.1 .6 0 1.2 .5 2.4 1.4 4.3 2 .6 .2 1.2 0 1.2-.3 1.2-.5 .6-1 1.8-3.8 .7-1.8 .6-3.1 1.2-10.9 1.8-21.6 .6-5 .6-2.2 .6 1 .6 4 6.1 74.9 .6 6.5 .6 4.5 .6 1.6 .6-1.6 .6-4.3 1.8-20.3 1.3-10.9 .6-3.8 .6-2.9 .6-2.2 .6-1.3 .6-.3 .6 .5 .6 1.2 4.3 11.7 .6 1.2 .6 .6 .6-.1 .6-.7 .6-1.3 2.4-6.5 1.2-2.1 1.9-2.3 .6-.5 .6-.2 1.8 .2 6.7 1.7 2.4 .3 1.8-.1 4.9-.8 7.9-.4 1.8 .3 4.2 1.1 2.5 0 6-.7 7.3-.7 6.1-.9 2.4-.2 2.4 .3 7.9 1.9 2.4 .4 1.9-.1 3.6-.6 1.2-.1 11.5 .9 2.5-1.4 .6-1 .6-2.1 1.2-6.2 .6-1.7 .6 .8 .6 2.8 1.8 10.6 .7 5.5 .6 8.9 1.8 38.8 .6 4.6 .6-4.6 .6-11.9 1.2-28.6 1.2-23.9 1.8-49 .7-10.1 .6 1.1 .6 11.9 1.2 33.3 .6 11.5 .6 7.2 2.4 19.3 .6 1.2 .6-2.5 1.3-9.4 .6-3.3 .6-1.2 .6-.1 .6 .4 3 2.6 .6 0 3.7-3.7 1.8-3.2 1.2-2.6"/><path d="M43.4 335.9l2.5-.9 1.8 0 7.9 2.1 1.8 .3 1.2 0 2.4-.2 3.7-.5 6.7-1.9 1.2-.2 .6 .1 1.2 .4 2.4 1.4 4.3 2 1.8 .1 1.2-.2 1.2-.5 .6-.9 1.2-2.3 .6-.6 .7-1 .6-2 1.2-7.2 1.8-14.1 .6-3.3 .6-1.4 .6 .6 .6 2.7 6.1 48.7 .6 4.2 .6 2.9 .6 1 .6-1 .6-2.7 1.8-13.2 1.3-7.3 .6-2.7 1.2-4 .6-1.2 .6-.3 .6 .5 2.4 4.9 1.8 3 1.3 1.5 .6 .4 .6-.1 .6-.4 .6-.7 2.4-3.5 3.1-3.2 .6-.4 .6-.2 1.8 .2 6.7 2.1 2.4 .4 1.8-.2 4.9-.9 7.9-.5 1.8 .3 4.2 1.3 1.2 .1 1.3 0 6-.9 7.3-.8 6.1-1.1 2.4-.3 2.4 .4 7.9 2.2 2.4 .5 1.9-.1 3-.6 1.8-.2 2.4 .1 7.3 .9 1.8 .1 2.5-1.6 .6-.9 .6-1.9 1.2-5.7 .6-1.6 .6 .8 2.4 11.2 .7 3.5 .6 5.4 1.8 23.4 .6 2.8 .6-2.8 .6-7.2 1.2-17.2 1.2-14.4 1.8-29.4 .7-6.1 .6 .7 .6 7.1 1.2 20 .6 6.9 .6 4.4 2.4 12.2 .6 .7 .6-1.6 1.3-6 .6-2 .6-.5 4.2 4.1 .6 0 2.4-2.4 1.3-1.4 3-5"/><path d="M43.4 335.8l1.3-.5 1.2-.4 1.8-.1 7.9 2.4 1.8 .3 1.2 0 2.4-.2 3.7-.6 6.7-2 1.2-.2 .6 0 1.2 .5 2.4 1.5 4.3 2.1 .6 .2 1.2 0 1.2-.3 1.2-.5 .6-.9 1.2-2.6 .6-.7 .7-1.1 .6-2.3 1.2-7.9 1.8-15.8 .6-3.6 .6-1.6 .6 .7 .6 2.9 6.1 54.3 .6 4.7 .6 3.2 .6 1.1 .6-1.1 .6-3.1 1.8-14.6 1.3-8 .6-2.9 1.2-4.1 .6-1.2 .6-.3 .6 .5 .6 1.1 1.8 3.9 2.5 4.6 .6 .8 .6 .4 .6-.1 .6-.5 .6-.8 2.4-4.2 3.1-3.6 .6-.5 .6-.2 1.8 .2 6.7 2.2 1.2 .3 1.2 .1 1.8-.2 4.9-1 4.2-.3 3.7-.1 1.8 .3 4.2 1.4 1.2 .1 1.3-.1 6-.9 7.3-.8 6.1-1.2 2.4-.2 2.4 .3 7.9 2.4 2.4 .5 1.9-.1 3-.7 1.8-.2 2.4 .1 7.3 1 1.8 .1 2.5-1.7 .6-1 .6-2 1.2-6.1 .6-1.7 .6 .8 .6 2.8 1.8 10.1 .7 4.9 .6 8 1.8 34.9 .6 4.1 .6-4.1 .6-10.7 3-59.8 1.2-30.4 .7-9 .6 1.1 .6 10.5 1.2 29.3 .6 10.2 .6 6.3 2.4 17.5 .6 1 .6-2.2 1.3-8.6 .6-2.9 .6-.8 .6 .6 .6 .9 3 3 .6-.1 3.1-3.1 .6-.8 1.2-2.1 1.8-2.4"/><path d="M43.4 335.9l2.5-.8 1.8-.1 7.9 2.1 1.8 .3 1.2 0 2.4-.2 3.7-.5 6.7-1.9 1.2-.2 .6 .1 1.2 .4 2.4 1.4 4.3 1.9 1.8 .2 1.2-.2 1.2-.5 .6-.9 1.2-2.3 .6-.7 .7-1 .6-2.1 1.2-7.4 1.8-14.6 .6-3.3 .6-1.5 .6 .6 .6 2.8 .6 4.3 5.5 46.7 .6 4.5 .6 3.1 .6 1.1 .6-1.1 .6-2.9 1.8-14.1 1.3-7.7 .6-2.9 1.2-4.1 .6-1.2 .6-.4 .6 .5 2.4 4.8 1.8 2.9 1.3 1.4 .6 .3 .6 0 .6-.4 3-4 3.1-2.9 .6-.4 .6-.1 1.8 .2 6.7 1.7 2.4 .3 1.8-.1 4.9-.8 7.9-.4 1.8 .3 4.2 1.1 2.5 .1 6-.8 7.3-.7 6.1-1 2.4-.1 2.4 .2 7.9 2 2.4 .4 1.9-.1 3-.5 1.8-.2 11.5 1 2.5-1.5 .6-.9 .6-1.8 1.2-5.7 .6-1.6 .6 .8 3.1 14.2 .6 5 1.8 21.7 .6 2.5 .6-2.5 .6-6.7 1.2-15.9 1.2-13.3 1.8-27.2 .7-5.7 .6 .7 .6 6.6 1.2 18.4 .6 6.5 .6 4 2.4 11.4 .6 .7 .6-1.5 1.3-5.6 .6-2 .6-.9 .6-.3 .6 .1 .6 .2 1.2 1.1 1.2 .8 .6 0 3.1-2.8 1.2-1.6 1.2-2.5 1.2-3.7"/><path d="M43.4 335.7l1.3-.5 1.2-.4 1.8-.1 7.9 2.5 1.8 .4 1.2 0 2.4-.3 3.7-.6 6.7-2.2 1.2-.2 .6 .1 1.2 .5 2.4 1.6 4.3 2.3 .6 .2 1.2 0 1.2-.3 1.2-.6 .6-1.1 1.2-3 .6-1 .7-1.9 .6-3.2 1.2-11.3 1.8-22.3 .6-5.2 .6-2.3 .6 1.1 .6 4.1 6.1 76.3 .6 6.5 .6 4.4 .6 1.6 .6-1.5 .6-4.3 1.8-20.3 1.3-10.9 .6-3.9 1.2-5.1 .6-1.4 .6-.4 .6 .5 .6 1.3 4.3 11.1 .6 1 .6 .6 .6-.1 .6-.6 .6-1.2 2.4-5.9 1.2-2 1.9-2.1 .6-.4 .6-.2 1.8 .2 6.7 1.6 2.4 .3 1.8-.1 4.9-.8 7.9-.3 1.8 .2 4.2 1 2.5 .1 6-.7 7.3-.6 6.1-.9 2.4-.2 2.4 .2 7.9 1.9 2.4 .3 1.9 0 3.6-.6 1.2-.1 11.5 .9 2.5-1.4 .6-1 .6-2.1 1.2-6.3 .6-1.8 .6 .8 .6 2.9 1.8 10.9 .7 5.8 .6 9.3 1.8 41 .6 4.8 .6-4.9 .6-12.5 1.2-30.1 1.2-25.3 1.8-51.6 .7-10.8 .6 1.3 .6 12.6 1.2 35 .6 12.2 .6 7.5 2.4 20.4 .6 1.2 .6-2.6 1.3-9.9 .6-3.5 .6-1.6 .6-.6 .6 0 .6 .3 2.4 1.9 .6-.1 3.1-2.7 1.2-1.6 1.2-2.6 1.2-3.5"/><path d="M43.4 335.8l2.5-.8 1.8-.1 7.9 2.2 1.8 .3 1.2 0 2.4-.2 3.7-.5 6.7-2 1.2-.2 .6 .1 1.2 .5 2.4 1.4 4.3 2 .6 .2 1.2 0 1.2-.2 1.2-.6 .6-.8 1.2-2.4 .6-.5 .7-1 .6-1.9 1.2-6.7 1.8-13.4 .6-3.1 .6-1.4 .6 .6 .6 2.5 .6 4 5.5 43.1 .6 4.1 .6 2.8 .6 1 .6-.9 .6-2.8 1.8-13 1.3-7.1 .6-2.6 1.2-3.9 .6-1.2 .6-.3 .6 .4 1.8 3.3 1.8 2.5 1.3 1.4 .6 .5 .6 .2 .6 0 .6-.3 3-3.1 1.2-1 1.9-1.9 .6-.5 .6-.2 1.8 .3 7.3 2.5 1.8 .2 1.8-.1 4.9-1.1 4.2-.4 3.7-.1 1.8 .3 4.2 1.5 1.2 .2 1.3-.1 6-1 7.3-.9 6.1-1.3 2.4-.2 2.4 .4 7.9 2.5 2.4 .5 1.9 0 3-.8 1.8-.2 2.4 .1 7.3 1.1 1.8 .1 1.3-1 1.2-.8 .6-.9 .6-1.9 1.2-5.8 .6-1.6 .6 .7 .6 2.6 1.8 9 .7 3.9 .6 6.1 1.8 26.3 .6 3.1 .6-3.1 .6-8 3-45.2 1.2-22.9 .7-6.8 .6 .8 .6 7.9 1.2 22.1 .6 7.7 .6 4.8 2.4 13.6 .6 .7 .6-1.7 1.3-6.7 .6-2.2 .6-.6 .6 .4 3.6 3.5 .6-.1 2.4-2.3 1.3-1.4 3-5.2"/><path d="M43.4 335.6l1.3-.6 1.2-.4 1.8-.1 1.2 .3 2.4 1.1 4.3 1.4 1.8 .4 1.2 0 2.4-.2 3.7-.7 6.7-2.6 1.2-.2 .6 .1 1.2 .6 2.4 1.8 4.3 2.6 .6 .2 1.2 0 1.2-.3 1.2-.7 .6-1.1 1.2-3.2 .6-1 .7-1.6 .6-3 1.2-10.7 1.8-21 .6-4.9 .6-2.1 .6 .9 .6 4 .6 6.2 5.5 68.5 .6 6.6 .6 4.6 .6 1.6 .6-1.5 .6-4.5 1.8-20.8 1.3-11.2 .6-3.9 .6-3 .6-2.1 .6-1.3 .6-.4 .6 .5 .6 1.1 4.3 11.3 .6 1.1 .6 .6 .6-.1 .6-.7 .6-1.2 2.4-6.2 1.2-2 1.9-2.5 .6-.4 .6-.2 1.8 .2 6.7 1.9 2.4 .4 1.8-.1 4.9-.9 7.9-.5 1.8 .3 4.2 1.3 2.5 .1 6-.9 7.3-.8 6.1-1.1 2.4-.2 2.4 .3 7.9 2.2 2.4 .5 1.9-.1 3-.6 1.8-.2 2.4 .1 7.3 .9 1.8 .1 2.5-1.6 .6-1 .6-2 1.2-6.3 .6-1.7 .6 .8 .6 2.9 1.8 10.4 .7 5.4 .6 8.6 1.8 37.8 .6 4.4 .6-4.4 .6-11.6 1.2-27.8 1.2-23.3 1.8-47.5 .7-9.9 .6 1.1 .6 11.6 1.2 32.3 .6 11.2 .6 7 2.4 18.8 .6 1.1 .6-2.4 1.3-9.2 .6-3.1 .6-1 .6 .3 3.6 3.5 .6-.1 2.4-2.3 1.3-1.5 3-5"/><path d="M43.4 335.9l2.5-.7 1.8-.1 7.9 1.9 1.8 .3 1.2 0 6.1-.6 6.7-1.7 1.2-.2 .6 .1 1.2 .4 2.4 1.2 4.3 1.8 1.8 .1 1.2-.2 1.2-.5 .6-.8 1.2-2.2 .6-.7 .7-1.2 .6-2.3 1.2-7.8 1.8-15.5 .6-3.5 .6-1.6 .6 .7 .6 2.9 .6 4.6 5.5 50.7 .6 4.9 .6 3.4 .6 1.3 .6-1.2 .6-3.3 1.8-15.6 1.3-8.5 .6-3.1 1.2-4.4 .6-1.2 .6-.4 .6 .5 2.4 4.9 1.8 3.3 1.3 1.7 .6 .3 .6 0 .6-.5 .6-.7 2.4-3.8 1.2-1.3 1.9-1.6 1.2-.4 1.8 .1 6.7 1.3 2.4 .3 1.8-.1 4.9-.6 7.9-.3 1.8 .2 4.2 .8 2.5 .1 6-.6 7.3-.5 6.1-.8 2.4-.1 2.4 .2 7.9 1.5 2.4 .3 1.9-.1 4.8-.5 11.5 .7 2.5-1.2 .6-.9 .6-1.9 1.2-5.9 .6-1.6 .6 .7 .6 2.7 1.8 9.2 .7 4 .6 6.4 1.8 27.7 .6 3.3 .6-3.3 .6-8.5 3-47.7 1.2-24.4 .7-7.2 .6 .8 .6 8.4 1.2 23.6 .6 8.2 .6 5.1 2.4 14.2 .6 .8 .6-1.8 1.3-7 .6-2.4 .6-.8 .6 .2 3.6 3 .6 0 3.7-3.6 1.8-3.3 1.2-2.5"/><path d="M43.4 335.8l1.3-.6 1.2-.3 1.8-.1 7.9 2.4 1.8 .3 1.2 0 2.4-.2 3.7-.6 6.7-2.1 1.2-.2 .6 .1 1.2 .5 2.4 1.5 4.3 2.2 .6 .2 1.2 0 1.2-.3 1.2-.6 .6-1 1.2-2.9 .6-1.1 .7-1.8 .6-3.2 1.2-11.1 1.8-21.9 .6-5.1 .6-2.3 .6 1 .6 4.2 6.1 75.1 .6 6.4 .6 4.4 .6 1.6 .6-1.5 .6-4.3 1.8-20 1.3-10.8 .6-3.8 1.2-5 .6-1.3 .6-.4 .6 .5 .6 1.2 4.3 11.5 .6 1.1 .6 .6 .6-.1 .6-.7 .6-1.2 2.4-6.2 1.2-2.1 1.2-1.6 .7-.6 .6-.4 .6-.1 1.8 .1 6.7 1.6 2.4 .3 1.8-.1 4.9-.8 7.9-.3 1.8 .2 4.2 1 2.5 .1 6-.7 7.3-.6 6.1-.9 2.4-.1 2.4 .2 7.9 1.7 2.4 .4 1.9-.1 4.8-.6 11.5 .9 2.5-1.4 .6-1.1 .6-2 1.2-6.4 .6-1.7 .6 .8 .6 2.9 1.8 11 .7 5.8 .6 9.6 1.8 41.7 .6 4.9 .6-4.9 .6-12.8 3-71.5 1.2-36.2 .7-10.6 .6 1.2 .6 12.5 1.2 34.9 .6 12.1 .6 7.6 2.4 20.6 .6 1.2 .6-2.7 1.3-10 .6-3.5 .6-1.3 .6 .1 3.6 3.1 .6 0 3.7-3.7 3-5.5"/><path d="M43.4 335.9l2.5-.7 1.8-.1 7.9 2 1.8 .2 1.2 0 6.1-.6 6.7-1.8 1.2-.1 .6 0 1.2 .4 2.4 1.3 4.3 1.8 1.8 .1 1.2-.2 1.2-.5 .6-.8 1.8-3.5 .7-1.7 .6-2.9 1.2-10.1 1.8-19.9 .6-4.6 .6-2.1 .6 .9 .6 3.8 6.1 68.9 .6 5.9 .6 4 .6 1.5 .6-1.4 .6-3.9 1.8-18.6 1.3-10 .6-3.5 1.2-4.8 .6-1.2 .6-.4 .6 .5 .6 1.1 4.3 10.6 .6 1 .6 .6 .6-.1 .6-.6 .6-1.2 2.4-5.6 1.8-2.9 1.3-1.6 .6-.5 .6-.2 1.8 .2 6.7 2.3 1.2 .3 1.2 .1 1.8-.1 4.9-1.1 4.2-.3 3.7-.2 1.8 .3 4.2 1.5 1.2 .2 1.3-.1 6-1 7.3-.9 6.1-1.3 2.4-.2 2.4 .4 7.9 2.5 2.4 .5 1.9-.1 3.6-.8 1.2-.1 2.4 .1 7.3 1.1 1.8 .1 1.3-1 1.2-.8 .6-1 .6-2 1.2-6.1 .6-1.7 .6 .8 .6 2.8 1.8 10.1 .7 5.1 .6 8.1 1.8 35.4 .6 4.2 .6-4.2 .6-10.8 3-60.9 1.2-30.9 .7-9.1 .6 1.1 .6 10.7 1.2 29.8 .6 10.3 .6 6.5 2.4 17.7 .6 1.1 .6-2.3 1.3-8.7 .6-3 .6-.9 .6 .2 3.6 3.4 .6 0 2.4-2.4 1.3-1.3 3-5.2"/><path d="M43.4 335.9l2.5-.8 1.8-.1 7.9 2.1 1.8 .2 1.2 .1 2.4-.2 3.7-.5 6.7-1.8 1.2-.2 .6 .1 1.2 .4 2.4 1.3 4.3 1.9 1.8 .1 1.2-.2 1.2-.5 3.1-5 .6-2.1 1.2-7.7 1.8-15.1 .6-3.4 .6-1.6 .6 .7 .6 2.8 6.1 51.7 .6 4.4 .6 3 .6 1 .6-1 .6-2.9 1.8-13.8 1.3-7.5 .6-2.8 1.2-4.1 .6-1.2 .6-.4 .6 .5 1.8 3.5 1.8 2.8 1.3 1.5 .6 .5 .6 .3 .6-.1 .6-.3 3-3.4 1.8-1.5 1.3-.9 1.2-.4 1.8 .1 6.7 1.3 2.4 .3 6.7-.7 7.9-.3 1.8 .2 4.2 .8 2.5 0 6-.5 7.3-.5 6.1-.7 2.4-.1 2.4 .2 7.9 1.4 2.4 .3 1.9-.1 4.8-.5 11.5 .7 2.5-1.2 .6-.9 .6-1.9 1.2-5.9 .6-1.6 .6 .7 .6 2.7 1.8 9.1 .7 4.1 .6 6.3 1.8 27.5 .6 3.3 .6-3.3 .6-8.4 3-47.3 1.2-24 .7-7.1 .6 .9 .6 8.3 1.2 23.1 .6 8.1 .6 5 2.4 14.1 .6 .9 .6-1.9 1.3-6.9 .6-2.4 .6-.8 .6 .2 3.6 3 .6 0 3.7-3.7 1.8-3.2 1.2-2.6"/><path d="M43.4 335.8l1.3-.6 1.2-.3 1.8-.1 7.9 2.4 1.8 .3 1.2 0 2.4-.2 3.7-.6 6.7-2.1 1.2-.2 .6 .1 1.2 .5 2.4 1.5 4.3 2.2 .6 .1 1.2 .1 1.2-.3 1.2-.6 .6-.9 1.2-2.7 .6-.8 .7-1.4 .6-2.5 1.2-8.9 1.8-17.5 .6-4.1 .6-1.8 .6 .9 .6 3.2 .6 5.2 5.5 56.3 .6 5.4 .6 3.7 .6 1.3 .6-1.2 .6-3.6 1.8-16.9 1.3-9.2 .6-3.3 1.2-4.5 .6-1.2 .6-.4 .6 .5 .6 1 1.8 4 2.5 4.7 .6 .8 .6 .4 .6 0 .6-.5 .6-.9 2.4-4.3 1.2-1.4 1.9-1.8 .6-.4 .6-.1 1.8 .1 6.7 1.6 2.4 .3 1.8-.2 4.9-.7 7.9-.3 1.8 .2 4.2 1 2.5 .1 6-.7 7.3-.6 6.1-.9 2.4-.1 2.4 .2 7.9 1.7 2.4 .4 1.9-.1 4.8-.6 11.5 .8 2.5-1.3 .6-1 .6-2 1.2-6 .6-1.7 .6 .8 .6 2.8 1.8 9.9 .7 4.7 .6 7.7 1.8 33.3 .6 3.9 .6-3.9 .6-10.2 1.2-24.5 1.8-32.5 1.2-28.7 .7-8.5 .6 1 .6 9.9 1.2 27.7 .6 9.6 .6 6.1 2.4 16.7 .6 1 .6-2.2 1.3-8.2 .6-2.8 .6-1 .6 .3 3.6 3.2 .6 0 3.7-3.7 3-5.5"/><path d="M43.4 335.8l1.3-.6 1.2-.4 1.8-.1 7.9 2.5 1.8 .3 1.2 0 2.4-.2 3.7-.6 6.7-2.2 1.2-.2 .6 .1 1.2 .5 2.4 1.6 4.3 2.3 .6 .1 1.2 .1 1.2-.3 1.2-.6 .6-1 1.2-2.5 .6-.6 .7-1 .6-1.9 1.2-7.2 1.8-14 .6-3.3 .6-1.4 .6 .6 .6 2.7 6.1 48.6 .6 4.2 .6 2.8 .6 1 .6-.9 .6-2.8 2.5-17.1 1.2-6.1 1.2-4.1 .6-1.3 .6-.3 .6 .5 1.8 3.7 1.8 2.9 1.3 1.6 .6 .5 .6 .3 .6 0 .6-.3 3-3.6 3.1-2.6 1.2-.5 1.8 .2 6.7 1.6 2.4 .3 1.8-.1 4.9-.8 7.9-.3 1.8 .2 4.2 1 2.5 .1 6-.7 7.3-.6 6.1-.9 2.4-.1 2.4 .2 7.9 1.7 2.4 .4 1.9-.1 4.8-.6 11.5 .9 2.5-1.4 .6-.9 .6-2 1.2-5.8 .6-1.7 .6 .8 .6 2.7 1.8 9.2 .7 4.1 .6 6.4 1.8 28.1 .6 3.3 .6-3.3 .6-8.6 1.2-20.6 1.8-27.2 1.2-24 .7-7.1 .6 .8 .6 8.3 1.2 23.1 .6 8.1 .6 5.1 2.4 14.2 .6 .9 .6-1.9 1.3-7 .6-2.5 .6-.9 .6-.1 .6 .3 3 2.4 .6-.1 3.7-3.5 1.8-3.3 1.2-3.1"/><path d="M43.4 335.9l2.5-.8 1.8 0 7.9 2 1.8 .2 1.2 0 2.4-.1 3.7-.5 6.7-1.8 1.2-.2 .6 .1 1.2 .4 2.4 1.3 4.3 1.8 1.8 .2 1.2-.3 1.2-.4 .6-.9 1.2-2.3 .6-.8 .7-1.3 .6-2.4 1.2-8.3 1.8-16.6 .6-3.8 .6-1.7 .6 .8 .6 3.1 .6 4.9 5.5 53.7 .6 5.2 .6 3.6 .6 1.3 .6-1.2 .6-3.5 1.8-16.4 1.3-8.9 .6-3.2 1.2-4.5 .6-1.3 .6-.3 .6 .4 .6 1.2 1.8 3.9 1.8 3.6 1.3 1.8 .6 .3 .6 0 .6-.5 .6-.8 2.4-4.2 2.4-2.8 1.3-1 .6-.2 1.8 .2 6.7 1.9 2.4 .4 1.8-.1 4.9-.9 7.9-.4 1.8 .2 4.2 1.3 2.5 0 6-.8 7.3-.7 6.1-1.1 2.4-.2 2.4 .3 7.9 2.1 2.4 .5 1.9-.1 3.6-.7 1.2-.1 11.5 1 2.5-1.5 .6-.9 .6-2 1.2-5.9 .6-1.6 .6 .7 .6 2.7 1.8 9.4 .7 4.2 .6 6.7 1.8 29.2 .6 3.5 .6-3.5 .6-8.9 1.2-21.5 1.2-18 1.8-36.8 .7-7.6 .6 .9 .6 8.9 1.2 25 .6 8.6 .6 5.5 2.4 14.9 .6 .8 .6-1.9 1.3-7.3 .6-2.5 .6-1.3 .6-.4 .6 0 .6 .3 1.2 1.1 1.2 .8 .6-.1 3.1-2.7 1.2-1.6 1.2-2.6 1.2-3.7"/><path d="M43.4 335.8l1.3-.6 1.2-.4 1.8 0 7.9 2.4 1.8 .3 1.2 0 2.4-.2 3.7-.6 6.7-2.2 1.2-.1 .6 0 1.2 .5 2.4 1.6 4.3 2.2 .6 .2 1.2 0 1.2-.3 1.2-.5 1.8-3.4 .6-.5 .7-.9 .6-1.7 1.2-6.5 1.8-12.7 .6-2.9 .6-1.3 .6 .6 .6 2.3 .6 3.8 5.5 40.7 .6 3.8 .6 2.7 .6 .9 .6-.9 .6-2.5 2.5-15.9 1.2-5.6 1.2-4 .6-1.1 .6-.4 .6 .5 1.8 3.4 1.2 1.8 1.9 2 .6 .5 .6 .2 .6 0 1.2-.8 1.8-1.9 1.8-1.4 1.9-2 .6-.4 .6-.2 1.8 .2 7.3 2.6 1.8 .3 1.8-.2 4.9-1.1 4.2-.4 3.7-.1 1.8 .3 4.2 1.6 1.2 .1 1.3-.1 6-1 7.3-.9 6.1-1.4 2.4-.2 2.4 .4 7.9 2.6 2.4 .6 1.9-.1 3.6-.9 1.2-.1 2.4 .1 7.3 1.1 1.8 .1 1.3-1 1.2-.8 .6-.9 .6-1.9 1.2-5.7 .6-1.6 .6 .8 2.4 11.2 .7 3.4 .6 5.4 1.8 23.2 .6 2.7 .6-2.7 .6-7.1 3-40 1.2-20.5 .7-6 .6 .7 .6 7.1 1.2 19.7 .6 6.9 .6 4.3 2.4 12.1 .6 .7 .6-1.5 1.3-6 .6-2.1 .6-.7 .6 .2 1.2 .8 2.4 2.1 .6 0 3.7-3.6 1.8-3.3 1.2-2.8"/><path d="M43.4 335.8l2.5-.8 1.8-.1 7.9 2.2 1.8 .3 1.2 0 2.4-.2 3.7-.5 6.7-2 1.2-.2 .6 .1 1.2 .5 2.4 1.4 4.3 2 .6 .2 1.2 0 1.2-.2 1.2-.6 .6-.9 1.2-2.7 .6-.9 .7-1.5 .6-2.8 1.2-9.8 1.8-19.2 .6-4.5 .6-2 .6 .9 .6 3.6 6.1 66.8 .6 5.8 .6 4 .6 1.4 .6-1.4 .6-3.8 1.8-18.1 1.3-9.8 .6-3.4 1.2-4.7 .6-1.3 .6-.3 .6 .5 .6 1.1 4.3 9.9 .6 .9 .6 .5 .6 0 .6-.6 .6-1 2.4-5.3 1.8-2.6 1.3-1.4 .6-.4 .6-.2 1.8 .2 6.7 1.9 2.4 .4 1.8-.1 4.9-.9 7.9-.5 1.8 .3 4.2 1.3 2.5 .1 6-.9 7.3-.8 6.1-1.1 2.4-.2 2.4 .3 7.9 2.2 2.4 .5 1.9-.1 3-.6 1.8-.2 2.4 .1 7.3 .9 1.8 .1 2.5-1.6 .6-1 .6-2.1 1.2-6.3 .6-1.7 .6 .8 .6 2.9 1.8 10.7 .7 5.6 .6 9 1.8 39.7 .6 4.6 .6-4.7 .6-12.1 3-68.1 1.2-34.7 .7-10.3 .6 1.2 .6 12 1.2 33.5 .6 11.6 .6 7.3 2.4 19.7 .6 1.1 .6-2.5 1.3-9.6 .6-3.3 .6-1.2 .6 .2 3.6 3.4 .6-.1 2.4-2.3 1.3-1.4 3-5.3"/><path d="M43.4 335.8l1.3-.6 1.2-.4 1.8-.1 7.9 2.5 1.8 .3 1.2 0 2.4-.2 3.7-.6 6.7-2.2 1.2-.2 .6 .1 1.2 .5 2.4 1.6 4.3 2.2 .6 .2 1.2 0 1.2-.3 1.2-.5 .6-1 1.2-2.8 .6-.8 .7-1.4 .6-2.7 1.2-9.3 1.8-18.4 .6-4.2 .6-1.9 .6 .8 .6 3.5 6.1 63.2 .6 5.4 .6 3.7 .6 1.3 .6-1.3 .6-3.6 1.8-16.9 1.3-9.2 .6-3.3 1.2-4.6 .6-1.3 .6-.4 .6 .5 .6 1.2 4.3 9.8 .6 .9 .6 .5 .6-.1 .6-.5 .6-1 2.4-5 1.2-1.7 1.9-2 .6-.4 .6-.1 1.8 .1 6.7 1.7 2.4 .3 1.8-.1 4.9-.8 7.9-.4 1.8 .3 4.2 1.1 2.5 0 6-.7 7.3-.7 6.1-.9 2.4-.2 2.4 .3 7.9 1.9 2.4 .3 1.9 0 3-.5 1.8-.2 11.5 .9 2.5-1.4 .6-1 .6-2 1.2-6 .6-1.7 .6 .8 .6 2.8 1.8 9.8 .7 4.8 .6 7.7 1.8 33.3 .6 3.9 .6-3.9 .6-10.2 3-57.2 1.2-29.1 .7-8.6 .6 1 .6 10.1 1.2 28 .6 9.7 .6 6.1 2.4 16.8 .6 1 .6-2.2 1.3-8.2 .6-2.8 .6-1.3 .6-.1 .6 .2 3 2.3 .6 0 3.7-3.5 1.8-3.4 1.2-3.1"/><path d="M43.4 335.9l2.5-.7 1.8 0 7.9 1.8 1.8 .3 1.2 0 6.1-.6 6.7-1.7 1.2-.1 1.8 .4 2.4 1.2 4.3 1.7 1.8 .2 1.2-.3 1.2-.4 .6-.8 1.2-2.1 .6-.8 .7-1.2 .6-2.2 1.2-7.6 1.8-15.2 .6-3.5 .6-1.6 .6 .7 .6 2.9 .6 4.5 5.5 48.4 .6 4.6 .6 3.2 .6 1.1 .6-1.1 .6-3.1 1.8-14.4 1.3-8 .6-2.9 1.2-4.3 .6-1.2 .6-.4 .6 .5 2.4 5.1 1.8 3.2 1.3 1.5 .6 .4 .6-.1 .6-.4 .6-.7 2.4-3.7 2.4-2.5 1.3-.9 .6-.2 1.8 .2 6.7 1.7 2.4 .3 1.8-.1 4.9-.8 7.9-.4 1.8 .3 4.2 1.1 2.5 0 6-.7 7.3-.7 6.1-.9 2.4-.2 2.4 .3 7.9 1.9 2.4 .4 1.9-.1 3.6-.6 1.2-.1 11.5 .9 2.5-1.4 .6-.9 .6-1.9 1.2-5.8 .6-1.6 .6 .8 .6 2.6 1.8 8.8 .7 3.7 .6 5.7 1.8 24.9 .6 2.9 .6-2.9 .6-7.6 1.2-18.3 1.2-15.4 1.8-31.3 .7-6.5 .6 .7 .6 7.6 1.2 21.3 .6 7.4 .6 4.7 2.4 12.9 .6 .7 .6-1.6 1.3-6.4 .6-2.2 .6-.7 .6 .1 1.2 .9 2.4 2.1 .6-.1 3.7-3.6 1.8-3.3 1.2-2.7"/><path d="M43.4 335.9l2.5-.7 1.8-.1 7.9 1.9 1.8 .3 1.2 0 6.1-.6 6.7-1.7 1.2-.2 .6 .1 1.2 .4 2.4 1.2 4.3 1.8 1.8 .1 1.2-.2 1.2-.4 .6-.8 1.2-2.1 .6-.6 .7-.9 .6-1.8 1.2-6.3 1.8-12.6 .6-2.9 .6-1.3 .6 .5 .6 2.4 .6 3.7 5.5 40.8 .6 4 .6 2.7 .6 .9 .6-.9 .6-2.6 1.8-12.4 1.3-6.9 .6-2.5 1.2-3.8 .6-1.2 .6-.3 .6 .4 1.8 3.2 1.2 1.6 1.9 1.8 1.2 .6 .6 0 .6-.2 3-2.6 1.2-.9 1.9-1.6 .6-.4 .6-.2 1.8 .3 7.3 2.1 1.8 .2 1.8-.1 4.9-.9 7.9-.5 1.8 .3 4.2 1.3 2.5 .1 6-.9 7.3-.8 6.1-1.1 2.4-.2 2.4 .3 7.9 2.2 2.4 .5 1.9-.1 3.6-.7 1.2-.1 2.4 .1 7.3 .9 1.8 .1 2.5-1.6 .6-.9 .6-1.9 1.2-5.7 .6-1.6 .6 .7 2.4 11.3 .7 3.5 .6 5.4 1.8 23.6 .6 2.7 .6-2.7 .6-7.2 1.2-17.3 1.8-22.9 1.2-20.3 .7-6 .6 .7 .6 7 1.2 19.6 .6 6.8 .6 4.2 2.4 12.3 .6 .7 .6-1.6 1.3-6.1 .6-2 .6-.6 .6 .4 3.6 3.4 .6-.1 2.4-2.3 1.3-1.4 3-5.4"/><path d="M43.4 335.9l2.5-.7 1.8 0 7.9 1.8 1.8 .3 1.2 0 6.1-.6 6.7-1.7 1.2-.1 1.8 .4 2.4 1.2 4.3 1.7 1.8 .1 1.2-.2 1.2-.5 .6-.8 1.8-3.6 .7-1.9 .6-3.2 1.2-11.1 1.8-21.8 .6-5 .6-2.3 .6 1 .6 4.1 .6 6.5 5.5 69.8 .6 6.7 .6 4.5 .6 1.7 .6-1.6 .6-4.4 1.8-20.9 1.3-11.2 .6-3.9 .6-3 .6-2.2 .6-1.3 .6-.4 .6 .5 .6 1.2 4.3 11.4 .6 1.1 .6 .6 .6-.1 .6-.7 .6-1.2 2.4-6.2 1.2-2.1 1.9-2.5 .6-.4 .6-.2 1.8 .2 6.7 1.9 2.4 .4 1.8-.1 4.9-.9 7.9-.5 1.8 .3 4.2 1.3 2.5 .1 6-.9 7.3-.8 6.1-1.1 2.4-.2 2.4 .3 7.9 2.2 2.4 .5 1.9-.1 3.6-.7 1.2-.1 2.4 .1 7.3 .9 1.8 .1 2.5-1.6 .6-1 .6-2.1 1.2-6.4 .6-1.7 .6 .8 .6 2.9 1.8 11 .7 5.8 .6 9.6 1.8 41.6 .6 4.9 .6-4.9 .6-12.8 1.2-30.7 1.2-25.7 1.8-52.6 .7-10.9 .6 1.3 .6 12.8 1.2 35.7 .6 12.4 .6 7.7 2.4 20.7 .6 1.2 .6-2.7 1.3-10 .6-3.5 .6-1.6 .6-.5 .6 .1 .6 .3 2.4 2 .6-.1 3.7-3.5 .6-.9 1.2-2.5 1.2-3.3"/><path d="M43.4 335.8l1.3-.6 1.2-.4 1.8-.1 7.9 2.5 1.8 .3 1.2 .1 2.4-.3 3.7-.6 6.7-2.2 1.2-.2 .6 .1 1.2 .5 2.4 1.6 4.3 2.3 .6 .2 1.2 0 1.2-.3 1.2-.6 .6-.9 1.2-2.6 .6-.5 .7-1 .6-1.9 1.2-6.9 1.8-13.7 .6-3.2 .6-1.4 .6 .6 .6 2.6 6.1 46.4 .6 3.9 .6 2.7 .6 1 .6-1 .6-2.6 2.5-15.9 1.2-5.6 1.2-3.9 .6-1.1 .6-.4 .6 .6 2.4 4.8 1.8 3 1.3 1.4 .6 .3 .6 0 .6-.4 3-4.1 3.1-3.2 .6-.5 .6-.2 1.8 .3 6.7 2.2 1.2 .3 1.2 .1 1.8-.2 4.9-1 4.2-.3 3.7-.1 1.8 .2 4.2 1.5 1.2 .1 1.3 0 6-1 7.3-.8 6.1-1.3 2.4-.2 2.4 .4 7.9 2.4 2.4 .5 1.9-.1 3-.7 1.8-.2 2.4 .1 7.3 1 1.8 .1 1.3-1 1.2-.7 .6-.9 .6-1.9 1.2-5.8 .6-1.6 .6 .8 .6 2.6 1.8 8.8 .7 3.7 .6 5.8 1.8 24.9 .6 2.9 .6-2.9 .6-7.6 1.2-18.4 1.2-15.4 1.8-31.3 .7-6.5 .6 .8 .6 7.6 1.2 21.3 .6 7.3 .6 4.7 2.4 12.9 .6 .8 .6-1.7 1.3-6.4 .6-2.1 .6-.8 .6 .2 1.2 .9 2.4 2.1 .6-.1 3.7-3.6 1.8-3.3 1.2-2.6"/><path d="M43.4 335.8l1.3-.6 1.2-.3 1.8-.1 7.9 2.4 1.8 .3 1.2 0 2.4-.2 3.7-.6 6.7-2.1 1.2-.2 .6 .1 1.2 .5 2.4 1.5 4.3 2.2 .6 .1 1.2 .1 1.2-.3 1.2-.6 .6-.9 1.2-2.6 .6-.7 .7-1.1 .6-2.3 1.2-7.9 1.8-15.8 .6-3.6 .6-1.6 .6 .7 .6 3 .6 4.6 5.5 50.5 .6 4.9 .6 3.3 .6 1.2 .6-1.1 .6-3.3 1.8-15.2 1.3-8.2 .6-3 1.2-4.2 .6-1.2 .6-.3 .6 .4 2.4 4.6 1.8 3.1 1.3 1.5 .6 .3 .6 0 .6-.4 .6-.7 2.4-3.6 3.1-3.4 .6-.5 .6-.2 1.8 .3 6.7 2.3 1.2 .3 1.2 .1 1.8-.1 4.9-1.1 4.2-.4 3.7-.1 1.8 .3 4.2 1.5 1.2 .2 1.3-.1 6-1 7.3-.9 6.1-1.3 2.4-.2 2.4 .4 7.9 2.5 2.4 .5 1.9 0 3.6-.9 1.2-.1 2.4 .1 7.3 1.1 1.8 .1 1.3-1 1.2-.8 .6-.9 .6-1.9 1.2-5.9 .6-1.6 .6 .8 .6 2.6 1.8 9.1 .7 3.9 .6 6.2 1.8 27 .6 3.1 .6-3.1 .6-8.3 3-46.2 1.2-23.5 .7-6.9 .6 .8 .6 8.1 1.2 22.6 .6 7.9 .6 5 2.4 13.8 .6 .8 .6-1.8 1.3-6.8 .6-2.4 .6-1.1 .6-.3 .6 0 .6 .3 1.2 1 1.2 .8 .6 0 3.1-2.8 1.2-1.5 1.2-2.6 1.2-3.7"/><path d="M43.4 335.9l2.5-.7 1.8 0 7.9 1.8 3 .3 6.1-.6 6.7-1.7 1.2-.1 1.8 .4 2.4 1.2 4.3 1.7 1.8 .1 1.2-.2 1.2-.4 1.8-2.5 .6-.4 .7-.6 .6-1.2 1.2-4.6 1.8-9.1 .6-2 .6-1 .6 .4 .6 1.7 6.1 31.6 .6 2.7 .6 1.9 .6 .7 .6-.7 .6-1.8 2.5-11.3 1.2-4.2 1.2-3.4 .6-1 .6-.4 .6 .5 1.8 3 .6 .7 1.8 1.1 1.9 .5 1.2-.1 3.6-1.4 .6-.2 1.9-1.4 .6-.3 .6-.2 1.8 .3 7.3 2 1.8 .2 1.8-.2 4.9-.8 7.9-.4 1.8 .2 4.2 1.2 2.5 .1 6-.8 7.3-.7 6.1-1.1 2.4-.2 2.4 .3 7.9 2.1 2.4 .4 1.9 0 3.6-.7 1.2-.1 11.5 1 2.5-1.5 .6-.9 .6-1.8 1.2-5.5 .6-1.6 .6 .7 3.1 13.4 .6 4.3 1.8 18.6 .6 2.1 .6-2.1 .6-5.7 3-31.9 1.2-16.2 .7-4.7 .6 .5 .6 5.6 1.2 15.7 .6 5.4 .6 3.4 2.4 10 .6 .6 .6-1.3 1.3-5 .6-1.6 .6-.1 1.2 1.7 2.4 2.5 .6 .6 .6-.1 3.1-3.1 .6-.8 1.2-2.1 1.8-2.4"/><path d="M43.4 335.8l1.3-.6 1.2-.4 1.8-.1 7.9 2.5 1.8 .3 1.2 0 2.4-.2 3.7-.6 6.7-2.2 1.2-.2 .6 .1 1.2 .5 2.4 1.6 4.3 2.3 .6 .1 1.2 0 1.8-.5 .6-.3 1.8-3.3 .6-.3 .7-.6 .6-1.4 1.2-5.2 1.8-10.3 .6-2.4 .6-1.1 .6 .5 .6 2 .6 3 5.5 33.3 .6 3.2 .6 2.2 .6 .8 .6-.8 .6-2.1 2.5-13.2 1.2-4.8 1.2-3.5 .6-1 .6-.4 .6 .5 1.8 3.1 .6 .7 1.8 1.6 1.3 .7 .6 .1 .6 0 1.2-.5 1.8-1.2 1.8-1 1.9-1.2 1.2-.5 1.8 .2 7.3 1.7 1.8 .2 1.8-.2 4.9-.7 7.9-.3 1.8 .2 4.2 1 2.5 .1 6-.7 7.3-.6 6.1-.9 2.4-.1 2.4 .2 7.9 1.7 2.4 .4 1.9-.1 4.8-.6 11.5 .8 2.5-1.3 .6-.8 .6-1.8 1.2-5.5 .6-1.5 .6 .7 1.8 8 1.3 4.7 .6 3.7 1.8 16.2 .6 1.9 .6-1.9 .6-5 3-27.7 1.2-14.1 .7-4.2 .6 .5 .6 4.9 1.2 13.6 .6 4.8 .6 3 2.4 8.8 .6 .6 .6-1.2 1.3-4.4 .6-1.5 .6-.3 4.2 3.6 .6-.1 3.7-3.6 1.8-3.2 1.2-2.5"/><path d="M43.4 335.9l2.5-.8 1.8 0 7.9 2 1.8 .2 1.2 0 2.4-.1 3.7-.5 6.7-1.8 1.2-.2 .6 .1 1.2 .4 2.4 1.3 4.3 1.8 1.8 .2 1.2-.2 1.2-.5 1.8-2.8 .6-.4 .7-.7 .6-1.4 1.2-5.3 1.8-10.3 .6-2.4 .6-1.1 .6 .5 .6 1.9 6.1 35.6 .6 3 .6 2.1 .6 .7 .6-.7 .6-2 2.5-12.4 1.2-4.7 1.2-3.7 .6-1.1 .6-.4 .6 .5 1.8 3.5 .6 .9 1.8 1.8 1.3 .7 .6 .2 1.2-.2 6.1-4.1 1.2-.4 1.8 .1 7.3 1.7 1.8 .2 1.8-.2 4.9-.7 7.9-.3 1.8 .2 4.2 1 2.5 .1 6-.7 7.3-.6 6.1-.8 2.4-.2 2.4 .2 7.9 1.7 2.4 .4 1.9-.1 4.8-.6 11.5 .8 2.5-1.3 .6-.9 .6-1.8 1.2-5.6 .6-1.5 .6 .7 3.1 13.6 .6 4.5 1.8 19.3 .6 2.3 .6-2.3 .6-5.9 3-33.2 1.2-16.8 .7-4.9 .6 .5 .6 5.9 1.2 16.2 .6 5.6 .6 3.6 2.4 10.3 .6 .6 .6-1.3 1.3-5.2 .6-1.7 .6-.8 .6-.1 .6 .1 .6 .3 2.4 1.9 .6 0 3.1-2.8 1.2-1.6 1.2-2.5 1.2-3.5"/><path d="M43.4 335.9l2.5-.7 1.8 0 7.9 1.8 1.8 .3 1.2 0 6.1-.6 6.7-1.7 1.2-.1 1.8 .4 2.4 1.2 4.3 1.7 1.8 .1 1.2-.2 1.2-.4 1.8-2.7 .6-.4 .7-.8 .6-1.5 1.2-5.5 1.8-10.8 .6-2.5 .6-1.1 .6 .5 .6 2 .6 3.2 5.5 35 .6 3.4 .6 2.3 .6 .8 .6-.8 .6-2.3 2.5-13.7 1.2-5 1.2-3.4 .6-1.1 .6-.3 .6 .4 1.8 3.1 1.2 1.6 1.9 1.7 1.2 .6 .6 0 1.2-.7 1.8-1.6 1.8-1.3 1.9-1.8 .6-.5 .6-.2 1.8 .3 7.3 2.5 1.8 .2 1.8-.1 4.9-1.1 4.2-.4 3.7-.1 1.8 .3 4.2 1.5 1.2 .2 1.3-.1 6-1 7.3-.9 6.1-1.3 2.4-.2 2.4 .4 7.9 2.5 2.4 .5 1.9 0 3.6-.9 1.2-.1 2.4 .1 7.3 1.1 1.8 .1 1.3-1 1.2-.8 .6-.8 .6-1.8 1.2-5.6 .6-1.5 .6 .7 3.1 13 .6 4.1 1.8 17.3 .6 2.1 .6-2.1 .6-5.3 3-29.7 1.2-15.2 .7-4.5 .6 .5 .6 5.3 1.2 14.6 .6 5.1 .6 3.2 2.4 9.4 .6 .6 .6-1.3 1.3-4.6 .6-1.6 .6-.6 .6 0 1.2 .7 2.4 2 .6 0 3.7-3.5 1.8-3.4 1.2-3.1"/><path d="M43.4 335.8l2.5-.8 1.8-.1 7.9 2.2 1.8 .3 1.2 0 2.4-.2 3.7-.5 6.7-1.9 1.2-.2 .6 0 1.2 .5 2.4 1.4 4.3 2 .6 .1 1.2 .1 1.8-.5 .6-.3 1.8-2.9 .6-.4 .7-.6 .6-1.4 1.2-5.1 1.8-10.1 .6-2.4 .6-1 .6 .5 .6 1.9 6.1 34.7 .6 3 .6 2 .6 .7 .6-.7 .6-2 2.5-12.2 1.2-4.5 1.2-3.5 .6-1.1 .6-.3 .6 .5 1.8 3.2 .6 .8 1.8 1.5 1.3 .7 .6 .1 .6 0 1.2-.5 1.8-1.2 1.8-.9 1.9-1.2 1.2-.4 1.8 .2 7.3 1.6 1.8 .1 1.8-.1 4.9-.7 7.9-.3 1.8 .2 4.2 1 2.5 .1 6-.7 7.3-.6 6.1-.8 2.4-.2 2.4 .3 7.9 1.6 2.4 .4 1.9-.1 4.8-.6 11.5 .8 2.5-1.3 .6-.9 .6-1.8 1.2-5.6 .6-1.6 .6 .7 3.1 13.8 .6 4.7 1.8 20.1 .6 2.4 .6-2.4 .6-6.1 1.2-14.8 1.2-12.4 1.8-25.3 .7-5.2 .6 .6 .6 6.1 1.2 17.2 .6 6 .6 3.7 2.4 10.7 .6 .6 .6-1.4 1.3-5.2 .6-1.8 .6-.3 1.2 1.6 2.4 2.4 .6 .6 .6 0 3.1-3.1 .6-.8 1.8-3 1.2-1.7"/><path d="M43.4 335.9l2.5-.7 1.8-.1 7.9 1.9 1.8 .3 1.2 0 6.1-.6 6.7-1.7 1.2-.2 .6 .1 1.2 .4 2.4 1.2 4.3 1.8 1.8 .1 1.2-.2 1.2-.4 1.8-2.7 .6-.4 .7-.7 .6-1.3 1.2-5 1.8-9.8 .6-2.3 .6-1 .6 .4 .6 1.9 .6 2.9 5.5 31.8 .6 3.1 .6 2.1 .6 .7 .6-.7 .6-2 2.5-12.6 1.2-4.6 1.2-3.4 .6-1.1 .6-.3 .6 .5 1.8 3 1.2 1.4 1.9 1.4 1.2 .5 .6 0 1.2-.5 1.8-1.3 1.8-1.1 1.9-1.5 .6-.3 .6-.2 1.8 .2 7.3 2.1 1.8 .2 1.8-.1 4.9-.9 7.9-.4 1.8 .2 4.2 1.3 2.5 0 6-.8 7.3-.7 6.1-1.1 2.4-.2 2.4 .3 7.9 2.1 2.4 .4 1.9 0 3.6-.7 1.2-.1 11.5 1 2.5-1.5 .6-.9 .6-1.8 1.2-5.5 .6-1.5 .6 .6 3.1 13.4 .6 4.3 1.8 18.4 .6 2.1 .6-2.1 .6-5.7 3-31.6 1.2-16.1 .7-4.8 .6 .6 .6 5.6 1.2 15.5 .6 5.4 .6 3.5 2.4 9.8 .6 .6 .6-1.3 1.3-4.9 .6-1.7 .6-.8 .6-.1 .6 .1 .6 .3 2.4 1.9 .6-.1 3.1-2.7 1.2-1.6 1.2-2.5 1.2-3.6"/></g><g stroke="#0000ff"><path d="M43.4 335.7l1.3-.6 1.2-.4 1.8-.1 7.9 2.7 1.8 .3 1.2 0 2.4-.2 3.7-.7 6.7-2.3 1.2-.3 .6 .1 1.2 .6 2.4 1.7 4.3 2.5 .6 .1 1.2 .1 1.2-.3 1.2-.7 .6-1.1 1.2-3 .6-.9 .7-1.5 .6-2.9 1.2-10.1 1.8-19.9 .6-4.6 .6-2.1 .6 .9 .6 3.8 6.1 68.3 .6 5.9 .6 3.9 .6 1.5 .6-1.4 .6-3.9 1.8-18.2 1.3-9.9 .6-3.5 1.2-4.7 .6-1.3 .6-.4 .6 .5 .6 1.1 4.3 9.3 .6 .9 .6 .4 .6 0 .6-.6 .6-.9 2.4-4.7 1.8-2.4 1.3-1.4 .6-.4 .6-.2 1.8 .2 6.7 1.9 2.4 .4 1.8-.1 4.9-.9 7.9-.5 1.8 .3 4.2 1.3 2.5 .1 6-.9 7.3-.8 6.1-1.1 2.4-.2 2.4 .4 7.9 2.1 2.4 .5 1.9-.1 3-.6 1.8-.2 2.4 .1 7.3 .9 1.8 .1 2.5-1.6 .6-1 .6-2.1 1.2-6.3 .6-1.8 .6 .8 .6 2.9 1.8 10.9 .7 5.8 .6 9.3 1.8 41 .6 4.8 .6-4.9 .6-12.5 1.2-30.2 1.2-25.3 1.8-52.1 .7-10.8 .6 1.3 .6 12.7 1.2 35.3 .6 12.3 .6 7.6 2.4 20.4 .6 1.2 .6-2.7 1.3-9.8 .6-3.5 .6-1.6 .6-.6 .6 .1 .6 .2 2.4 1.9 .6 0 3.1-2.8 1.2-1.6 1.2-2.5 1.2-3.6"/><path d="M43.4 335.8l1.3-.6 1.2-.4 1.8 0 7.9 2.4 1.8 .3 1.2 0 2.4-.2 3.7-.6 6.7-2.1 1.2-.2 .6 0 1.2 .5 2.4 1.6 4.3 2.2 .6 .2 1.2 0 1.2-.3 1.2-.5 .6-1 1.2-2.9 .6-.9 .7-1.5 .6-2.8 1.2-9.8 1.8-19.5 .6-4.5 .6-2 .6 .9 .6 3.7 6.1 67.3 .6 5.9 .6 3.9 .6 1.5 .6-1.4 .6-3.9 1.8-18.2 1.3-9.9 .6-3.5 1.2-4.9 .6-1.4 .6-.4 .6 .5 .6 1.2 1.8 4.3 2.5 4.9 .6 .9 .6 .4 .6 0 .6-.6 .6-.9 2.4-4.5 1.2-1.6 1.9-1.7 1.2-.5 1.8 .2 6.7 1.3 2.4 .3 1.8-.1 4.9-.6 7.9-.3 1.8 .1 4.2 .9 2.5 .1 6-.6 7.3-.5 6.1-.8 2.4-.1 2.4 .2 7.9 1.5 2.4 .3 1.9 0 4.8-.6 11.5 .7 2.5-1.2 .6-1.1 .6-2 1.2-6.4 .6-1.8 .6 .8 .6 3 1.8 11.1 .7 6 .6 9.8 1.8 42.8 .6 5 .6-5 .6-13.1 1.2-31.6 1.2-26.4 1.8-53.9 .7-11.3 .6 1.3 .6 13.2 1.2 36.6 .6 12.7 .6 7.9 2.4 21.2 .6 1.3 .6-2.8 1.3-10.3 .6-3.5 .6-1.7 .6-.3 .6 .1 .6 .4 2.4 2 .6-.1 3.7-3.5 1.8-3.4 1.2-3.1"/><path d="M43.4 335.8l1.3-.6 1.2-.4 1.8-.1 7.9 2.5 1.8 .3 1.2 .1 2.4-.3 3.7-.6 6.7-2.2 1.2-.2 .6 .1 1.2 .5 2.4 1.6 4.3 2.3 .6 .1 1.2 .1 1.2-.3 1.2-.6 .6-1 1.2-2.7 .6-.8 .7-1.3 .6-2.5 1.2-8.7 1.8-17.3 .6-4 .6-1.8 .6 .8 .6 3.3 .6 5.1 5.5 55.5 .6 5.4 .6 3.6 .6 1.3 .6-1.3 .6-3.5 1.8-16.7 1.3-9.1 .6-3.2 1.2-4.5 .6-1.2 .6-.4 .6 .5 .6 1.1 1.8 4 2.5 4.7 .6 .8 .6 .4 .6-.1 .6-.5 .6-.8 2.4-4.4 3.1-3.8 .6-.5 .6-.2 1.8 .3 6.7 2.3 1.2 .3 1.2 .2 1.8-.2 4.9-1.1 4.2-.4 3.7-.1 1.8 .3 4.2 1.5 1.2 .2 1.3-.1 6-1 7.3-.9 6.1-1.3 2.4-.2 2.4 .3 7.9 2.6 2.4 .6 1.9-.1 3-.8 1.8-.2 2.4 .1 7.3 1.1 1.8 .1 1.3-1 1.2-.8 .6-1 .6-2 1.2-6 .6-1.7 .6 .8 .6 2.8 1.8 9.9 .7 4.7 .6 7.7 1.8 33.4 .6 3.9 .6-4 .6-10.2 3-57.5 1.2-29.4 .7-8.7 .6 1 .6 10.2 1.2 28.4 .6 9.8 .6 6.2 2.4 16.8 .6 1 .6-2.2 1.3-8.2 .6-2.8 .6-.9 .6 .3 3.6 3.5 .6-.1 2.4-2.3 1.3-1.4 3-5.2"/><path d="M43.4 335.9l2.5-.8 1.8-.1 7.9 2.1 1.8 .3 1.2 0 2.4-.2 3.7-.5 6.7-1.9 1.2-.2 .6 .1 1.2 .4 2.4 1.4 4.3 1.9 1.8 .2 1.2-.2 1.2-.5 .6-.9 1.2-2.2 .6-.6 .7-1 .6-1.9 1.2-6.7 1.8-13.4 .6-3.1 .6-1.4 .6 .6 .6 2.6 .6 3.9 5.5 42.6 .6 4 .6 2.8 .6 1 .6-1 .6-2.7 2.5-16.5 1.2-5.9 1.2-4.1 .6-1.3 .6-.4 .6 .5 1.8 3.6 1.2 1.7 1.9 1.9 1.2 .6 .6 0 .6-.3 2.4-2.1 3.7-2.9 .6-.3 .6-.2 1.8 .2 6.7 1.8 2.4 .3 1.8-.1 4.9-.8 7.9-.4 1.8 .2 4.2 1.2 2.5 .1 6-.8 7.3-.7 6.1-1 2.4-.2 2.4 .3 7.9 2 2.4 .4 1.9-.1 3-.5 1.8-.2 11.5 1 2.5-1.5 .6-.9 .6-2 1.2-5.9 .6-1.6 .6 .7 .6 2.7 1.8 9.4 .7 4.1 .6 6.7 1.8 28.8 .6 3.4 .6-3.5 .6-8.8 3-49.4 1.2-25.2 .7-7.5 .6 .9 .6 8.7 1.2 24.3 .6 8.4 .6 5.3 2.4 14.7 .6 .9 .6-1.9 1.3-7.2 .6-2.5 .6-1 .6 .1 .6 .4 3 2.5 .6-.1 3.7-3.6 1.8-3.3 1.2-2.8"/><path d="M43.4 335.8l1.3-.6 1.2-.4 1.8 0 7.9 2.4 1.8 .3 1.2 0 2.4-.2 3.7-.6 6.7-2.1 1.2-.2 .6 0 1.2 .5 2.4 1.6 4.3 2.2 .6 .2 1.2 0 1.2-.3 1.2-.5 .6-1 1.2-2.5 .6-.5 .7-1 .6-1.9 1.2-7 1.8-13.8 .6-3.2 .6-1.4 .6 .7 .6 2.5 6.1 47.6 .6 4.1 .6 2.8 .6 1 .6-1 .6-2.7 1.8-12.8 1.3-7.1 .6-2.6 1.2-3.9 .6-1.2 .6-.3 .6 .4 1.8 3.4 1.8 2.5 1.3 1.4 .6 .4 .6 .3 .6-.1 .6-.3 3-3 3.1-2.2 1.2-.5 1.8 .2 6.7 1.3 2.4 .3 1.8-.1 4.9-.6 7.9-.3 1.8 .2 4.2 .8 2.5 .1 6-.6 7.3-.5 6.1-.8 2.4-.1 2.4 .2 7.9 1.5 2.4 .3 1.9-.1 4.8-.5 11.5 .7 2.5-1.2 .6-1 .6-1.9 1.2-6 .6-1.6 .6 .7 .6 2.7 1.8 9.7 .7 4.4 .6 7.2 1.8 31.1 .6 3.7 .6-3.7 .6-9.5 3-53.4 1.2-27.1 .7-8 .6 .9 .6 9.4 1.2 26.1 .6 9.1 .6 5.7 2.4 15.7 .6 1 .6-2.1 1.3-7.7 .6-2.6 .6-.8 .6 .3 3.6 3.5 .6 0 2.4-2.4 1.3-1.4 3-5.1"/><path d="M43.4 335.8l2.5-.8 1.8-.1 7.9 2.2 1.8 .3 1.2 0 2.4-.2 3.7-.5 6.7-2 1.2-.1 .6 0 1.2 .5 2.4 1.4 4.3 2 .6 .2 1.2 0 1.2-.3 1.2-.5 .6-.9 1.2-2.4 .6-.6 .7-1.2 .6-2.1 1.2-7.6 1.8-15 .6-3.5 .6-1.5 .6 .7 .6 2.8 6.1 51.5 .6 4.5 .6 3 .6 1.1 .6-1.1 .6-2.9 1.8-13.8 1.3-7.6 .6-2.8 1.2-4.1 .6-1.1 .6-.4 .6 .4 1.8 3.4 1.8 2.7 1.3 1.5 .6 .5 .6 .3 .6-.1 .6-.3 2.4-2.7 1.8-1.6 1.9-2.1 .6-.4 .6-.2 1.8 .3 7.3 2.5 1.8 .3 1.8-.2 4.9-1.1 4.2-.4 3.7-.1 1.8 .3 4.2 1.5 1.2 .2 1.3-.1 6-1 7.3-.9 6.1-1.3 2.4-.3 2.4 .4 7.9 2.6 2.4 .6 1.9-.1 3.6-.9 1.2-.1 2.4 .1 7.3 1.1 1.8 .1 1.3-1 1.2-.8 .6-1 .6-1.9 1.2-6.1 .6-1.6 .6 .7 .6 2.8 1.8 9.8 .7 4.6 .6 7.4 1.8 32.3 .6 3.9 .6-3.9 .6-9.9 3-55.5 1.2-28.2 .7-8.3 .6 1 .6 9.7 1.2 27.2 .6 9.5 .6 5.9 2.4 16.3 .6 1 .6-2.2 1.3-7.9 .6-2.8 .6-1 .6 .1 .6 .4 3 2.6 .6-.1 3.7-3.6 1.8-3.3 1.2-2.6"/><path d="M43.4 335.9l2.5-.8 1.8 0 7.9 2 1.8 .2 1.2 0 2.4-.1 3.7-.5 6.7-1.8 1.2-.2 .6 .1 1.2 .4 2.4 1.3 4.3 1.8 1.8 .2 1.2-.3 1.2-.4 .6-.8 1.2-2.2 .6-.6 .7-1 .6-1.8 1.2-6.8 1.8-13.3 .6-3.1 .6-1.4 .6 .6 .6 2.5 .6 4 5.5 42.4 .6 4.1 .6 2.7 .6 1 .6-.9 .6-2.7 2.5-16.5 1.2-5.9 1.2-4.1 .6-1.2 .6-.4 .6 .5 1.8 3.6 1.2 1.7 1.9 2 .6 .4 .6 .2 .6 0 .6-.2 3-2.8 1.2-.9 1.9-1.8 .6-.4 .6-.2 1.8 .3 7.3 2.2 1.8 .3 1.8-.2 4.9-.9 7.9-.5 1.8 .3 4.2 1.3 1.2 .2 1.3-.1 6-.9 7.3-.8 6.1-1.2 2.4-.2 2.4 .3 7.9 2.4 2.4 .4 1.9 0 3-.7 1.8-.2 2.4 .1 7.3 1 1.8 0 2.5-1.6 .6-1 .6-1.9 1.2-6 .6-1.6 .6 .7 .6 2.7 1.8 9.6 .7 4.5 .6 7.1 1.8 31 .6 3.7 .6-3.7 .6-9.5 3-53 1.2-26.9 .7-7.9 .6 .9 .6 9.3 1.2 25.9 .6 9 .6 5.6 2.4 15.7 .6 .9 .6-2 1.3-7.7 .6-2.6 .6-.8 .6 .3 3.6 3.5 .6 0 2.4-2.4 1.3-1.4 3-5.1"/><path d="M43.4 335.9l2.5-.7 1.8-.1 7.9 2 1.8 .2 1.2 0 6.1-.6 6.7-1.8 1.2-.1 .6 0 1.2 .4 2.4 1.3 4.3 1.8 1.8 .1 1.2-.2 1.2-.5 .6-.8 1.2-2.3 .6-.8 .7-1.3 .6-2.5 1.2-8.5 1.8-16.8 .6-3.9 .6-1.8 .6 .8 .6 3.2 6.1 58.4 .6 5.1 .6 3.5 .6 1.2 .6-1.2 .6-3.3 1.8-15.9 1.3-8.7 .6-3.1 1.2-4.4 .6-1.2 .6-.4 .6 .5 2.4 4.7 1.8 3 1.3 1.5 .6 .3 .6 0 .6-.4 .6-.7 2.4-3.5 1.8-1.8 1.3-.9 1.2-.5 1.8 .2 6.7 1.3 2.4 .3 1.8-.1 4.9-.6 7.9-.3 1.8 .1 4.2 .9 2.5 .1 6-.6 7.3-.5 6.1-.8 2.4-.1 2.4 .2 7.9 1.5 2.4 .3 1.9 0 4.8-.6 11.5 .7 2.5-1.2 .6-1 .6-1.9 1.2-6 .6-1.7 .6 .8 .6 2.7 1.8 9.7 .7 4.6 .6 7.4 1.8 32 .6 3.8 .6-3.8 .6-9.8 3-55 1.2-28 .7-8.2 .6 .9 .6 9.7 1.2 27 .6 9.4 .6 5.8 2.4 16.2 .6 .9 .6-2.1 1.3-7.9 .6-2.7 .6-1.3 .6-.3 .6 .1 .6 .3 2.4 2 .6-.1 3.7-3.5 .6-.9 1.2-2.5 1.2-3.4"/><path d="M43.4 335.6l1.3-.7 1.2-.4 1.8-.1 1.2 .4 2.4 1 4.3 1.5 1.8 .4 1.2 0 2.4-.2 3.7-.7 6.7-2.6 1.2-.3 .6 .1 1.2 .6 2.4 1.9 4.3 2.7 .6 .2 1.2 0 1.8-.6 .6-.3 1.8-4 .6-.3 .7-.7 .6-1.6 1.2-6 1.8-11.9 .6-2.7 .6-1.2 .6 .5 .6 2.3 6.1 41.2 .6 3.5 .6 2.5 .6 .8 .6-.8 .6-2.4 2.5-14.6 1.2-5.2 1.2-3.8 .6-1.1 .6-.4 .6 .5 1.8 3.3 1.2 1.5 1.9 1.7 1.2 .5 .6 0 .6-.2 3-2.4 3.1-2 1.2-.4 1.8 .2 6.7 1.4 2.4 .3 1.8-.1 4.9-.7 7.9-.3 1.8 .2 4.2 1 2.5 0 6-.6 7.3-.6 6.1-.8 2.4-.2 2.4 .3 7.9 1.6 2.4 .4 1.9-.1 4.8-.6 11.5 .8 2.5-1.3 .6-.9 .6-1.8 1.2-5.6 .6-1.5 .6 .7 3.1 13.7 .6 4.6 1.8 19.8 .6 2.4 .6-2.4 .6-6 3-34.1 1.2-17.2 .7-5.1 .6 .6 .6 5.9 1.2 16.7 .6 5.8 .6 3.7 2.4 10.5 .6 .6 .6-1.4 1.3-5.2 .6-1.7 .6-.3 1.2 1.5 2.4 2.4 .6 .5 .6 0 2.4-2.4 1.3-1.4 1.2-2.2 1.8-2.7"/><path d="M43.4 335.7l1.3-.6 1.2-.4 1.8-.1 7.9 2.7 1.8 .3 1.2 0 2.4-.2 3.7-.7 6.7-2.4 1.2-.2 .6 .1 1.2 .6 2.4 1.7 4.3 2.5 .6 .2 1.2 0 1.2-.3 1.2-.6 1.8-3.8 .6-.5 .7-.9 .6-1.9 1.2-6.9 1.8-13.8 .6-3.1 .6-1.4 .6 .6 .6 2.6 .6 4 5.5 43.8 .6 4.1 .6 2.9 .6 1 .6-1 .6-2.7 2.5-17.1 1.2-6 1.2-4.2 .6-1.2 .6-.4 .6 .5 1.8 3.7 1.2 1.9 1.9 2.2 .6 .5 .6 .2 .6 0 .6-.3 3-3.2 3.1-2.6 .6-.4 .6-.1 1.8 .2 6.7 1.8 2.4 .4 1.8-.2 4.9-.8 7.9-.4 1.8 .2 4.2 1.2 2.5 .1 6-.8 7.3-.7 6.1-1 2.4-.2 2.4 .3 7.9 2 2.4 .4 1.9 0 3-.6 1.8-.2 11.5 1 2.5-1.5 .6-1 .6-1.9 1.2-6 .6-1.6 .6 .7 .6 2.8 1.8 9.5 .7 4.5 .6 7.1 1.8 30.9 .6 3.7 .6-3.7 .6-9.4 1.2-22.8 1.2-19.2 1.8-39.1 .7-8.2 .6 1 .6 9.5 1.2 26.6 .6 9.3 .6 5.7 2.4 15.7 .6 1 .6-2.1 1.3-7.6 .6-2.7 .6-.9 .6 .1 3.6 3.1 .6 0 3.7-3.7 1.8-3.2 1.2-2.5"/><path d="M43.4 335.6l1.3-.6 1.2-.5 1.8-.1 1.2 .4 2.4 1 4.3 1.5 1.8 .4 1.2 0 2.4-.2 3.7-.7 6.7-2.6 1.2-.2 .6 .1 1.2 .6 2.4 1.8 4.3 2.6 .6 .2 1.2 .1 1.2-.4 1.2-.6 1.8-4 .6-.6 .7-.9 .6-2 1.2-7.3 1.8-14.5 .6-3.3 .6-1.5 .6 .7 .6 2.7 6.1 49.6 .6 4.2 .6 2.9 .6 1.1 .6-1 .6-2.8 1.8-13.3 1.3-7.4 .6-2.7 1.2-4.1 .6-1.2 .6-.4 .6 .5 1.8 3.4 1.2 1.7 1.9 1.8 1.2 .6 .6 0 .6-.2 2.4-2.2 1.8-1.3 1.9-1.6 .6-.4 .6-.2 1.8 .3 6.7 1.8 2.4 .4 1.8-.2 4.9-.8 7.9-.4 1.8 .2 4.2 1.2 2.5 .1 6-.8 7.3-.7 6.1-1.1 2.4-.2 2.4 .3 7.9 2.1 2.4 .4 1.9 0 3-.6 1.8-.2 11.5 1 2.5-1.5 .6-1 .6-1.9 1.2-5.9 .6-1.7 .6 .8 .6 2.7 1.8 9.4 .7 4.3 .6 6.8 1.8 29.7 .6 3.5 .6-3.5 .6-9.1 3-50.8 1.2-25.8 .7-7.6 .6 .9 .6 8.9 1.2 24.8 .6 8.7 .6 5.4 2.4 15.1 .6 .8 .6-1.9 1.3-7.4 .6-2.6 .6-1 .6 0 .6 .3 3 2.5 .6-.1 3.7-3.6 1.8-3.3 1.2-2.9"/><path d="M43.4 335.9l2.5-.7 1.8 0 7.9 1.8 1.8 .3 1.2 0 6.1-.6 6.7-1.7 1.2-.1 1.8 .4 2.4 1.2 4.3 1.7 1.8 .1 1.2-.2 1.2-.4 3.1-4.4 .6-1.9 1.2-6.7 1.8-13.2 .6-3.1 .6-1.3 .6 .6 .6 2.5 6.1 45.8 .6 4 .6 2.7 .6 1 .6-.9 .6-2.7 1.8-12.4 1.3-6.9 .6-2.6 1.2-3.8 .6-1.1 .6-.4 .6 .4 1.8 3.3 1.2 1.6 1.9 1.9 .6 .5 .6 .2 .6-.1 1.2-.7 1.8-1.7 1.8-1.4 1.9-1.9 .6-.4 .6-.2 1.8 .3 7.3 2.4 1.8 .2 1.8-.1 4.9-1.1 4.2-.3 3.7-.2 1.8 .3 4.2 1.5 1.2 .1 1.3 0 6-1 7.3-.9 6.1-1.2 2.4-.2 2.4 .3 7.9 2.5 2.4 .5 1.9-.1 3-.7 1.8-.2 2.4 .1 7.3 1 1.8 .1 1.3-1 1.2-.7 .6-.9 .6-1.9 1.2-5.8 .6-1.6 .6 .8 .6 2.6 1.8 8.8 .7 3.7 .6 5.8 1.8 25.1 .6 3 .6-3 .6-7.7 3-43.1 1.2-21.9 .7-6.5 .6 .8 .6 7.6 1.2 21.1 .6 7.4 .6 4.6 2.4 13 .6 .7 .6-1.7 1.3-6.3 .6-2.2 .6-.8 .6 .2 1.2 .9 2.4 2.1 .6 0 3.7-3.7 1.8-3.2 1.2-2.6"/><path d="M43.4 335.9l2.5-.7 1.8-.1 7.9 2 1.8 .2 1.2 0 6.1-.6 6.7-1.8 1.2-.1 .6 0 1.2 .4 2.4 1.3 4.3 1.8 1.8 .1 1.2-.2 1.2-.5 .6-.8 1.2-2.4 .6-.8 .7-1.4 .6-2.6 1.2-9 1.8-17.7 .6-4.1 .6-1.8 .6 .8 .6 3.3 6.1 60.4 .6 5.1 .6 3.5 .6 1.2 .6-1.2 .6-3.4 1.8-15.9 1.3-8.8 .6-3.1 1.2-4.4 .6-1.2 .6-.4 .6 .5 .6 1.1 1.8 4.1 2.5 4.9 .6 .8 .6 .5 .6-.1 .6-.5 .6-.9 2.4-4.5 1.2-1.5 1.9-1.6 1.2-.5 1.8 .1 6.7 1.3 2.4 .3 1.8-.1 4.9-.6 7.9-.3 1.8 .2 4.2 .8 2.5 .1 6-.6 7.3-.5 6.1-.7 2.4-.1 2.4 .2 7.9 1.4 2.4 .3 1.9-.1 4.8-.5 11.5 .7 2.5-1.2 .6-1 .6-2 1.2-6.3 .6-1.7 .6 .8 .6 2.9 1.8 10.4 .7 5.4 .6 8.7 1.8 37.8 .6 4.5 .6-4.5 .6-11.6 1.2-27.9 1.2-23.3 1.8-47.5 .7-9.9 .6 1.1 .6 11.6 1.2 32.3 .6 11.2 .6 7 2.4 18.9 .6 1.1 .6-2.5 1.3-9.2 .6-3.1 .6-1.4 .6-.3 .6 .2 3 2.4 .6 0 3.7-3.6 1.8-3.3 1.2-3.1"/><path d="M43.4 335.9l2.5-.7 1.8 0 7.9 1.8 1.8 .3 1.2 0 6.1-.6 6.7-1.7 1.2-.1 1.8 .4 2.4 1.2 4.3 1.7 1.8 .1 1.2-.2 1.2-.4 .6-.8 1.2-2.1 .6-.6 .7-1.1 .6-2 1.2-7 1.8-14 .6-3.2 .6-1.5 .6 .7 .6 2.6 .6 4.1 5.5 44.6 .6 4.3 .6 2.9 .6 1.1 .6-1 .6-2.9 2.5-17.4 1.2-6.1 1.2-4.3 .6-1.2 .6-.4 .6 .5 1.8 3.7 1.2 2 1.9 2.3 .6 .5 .6 .3 .6 0 .6-.4 3-3.3 3.1-2.7 .6-.4 .6-.1 1.8 .2 6.7 1.8 2.4 .4 1.8-.2 4.9-.8 7.9-.4 1.8 .2 4.2 1.2 2.5 .1 6-.8 7.3-.7 6.1-1 2.4-.2 2.4 .3 7.9 2 2.4 .4 1.9 0 3-.6 1.8-.2 11.5 1 2.5-1.5 .6-1 .6-1.9 1.2-6 .6-1.7 .6 .8 .6 2.7 1.8 9.7 .7 4.5 .6 7.2 1.8 31.2 .6 3.7 .6-3.7 .6-9.6 3-53.7 1.2-27.4 .7-8.1 .6 1 .6 9.4 1.2 26.4 .6 9.2 .6 5.8 2.4 15.8 .6 .9 .6-2 1.3-7.8 .6-2.7 .6-1.3 .6-.5 .6 0 .6 .2 1.2 1.1 1.2 .8 .6-.1 3.1-2.7 1.2-1.6 1.2-2.5 1.2-3.8"/><path d="M43.4 335.8l1.3-.5 1.2-.4 1.8-.1 7.9 2.4 1.8 .3 1.2 0 2.4-.2 3.7-.6 6.7-2.1 1.2-.2 .6 .1 1.2 .5 2.4 1.5 4.3 2.1 .6 .2 1.2 0 1.2-.2 1.2-.6 .6-.9 1.2-2.5 .6-.6 .7-1 .6-2.1 1.2-7.3 1.8-14.5 .6-3.3 .6-1.5 .6 .7 .6 2.7 6.1 49.7 .6 4.2 .6 2.9 .6 1.1 .6-1 .6-2.9 1.8-13.3 1.3-7.3 .6-2.7 1.2-4.1 .6-1.2 .6-.3 .6 .4 1.8 3.5 1.8 2.7 1.3 1.5 .6 .5 .6 .2 .6 0 .6-.3 3-3.3 3.1-2.6 .6-.4 .6-.2 1.8 .2 6.7 1.8 2.4 .3 1.8-.1 4.9-.8 7.9-.4 1.8 .2 4.2 1.2 2.5 .1 6-.8 7.3-.7 6.1-1 2.4-.2 2.4 .3 7.9 2 2.4 .4 1.9-.1 3-.5 1.8-.2 11.5 1 2.5-1.5 .6-.9 .6-1.9 1.2-5.9 .6-1.6 .6 .7 .6 2.7 1.8 9.1 .7 4 .6 6.3 1.8 27.4 .6 3.2 .6-3.2 .6-8.4 1.2-20.1 1.2-16.9 1.8-34.4 .7-7.1 .6 .8 .6 8.4 1.2 23.3 .6 8.1 .6 5.1 2.4 14.1 .6 .8 .6-1.8 1.3-6.9 .6-2.4 .6-1 .6-.1 .6 .3 3 2.4 .6-.1 3.7-3.5 1.8-3.4 1.2-3.1"/><path d="M43.4 335.9l2.5-.8 1.8-.1 7.9 2.1 1.8 .3 1.2 0 2.4-.2 3.7-.5 6.7-1.9 1.2-.1 .6 0 1.2 .5 2.4 1.3 4.3 1.9 1.8 .2 1.2-.3 1.2-.5 .6-.8 1.2-2.3 .6-.7 .7-1.1 .6-2.1 1.2-7.5 1.8-14.9 .6-3.4 .6-1.5 .6 .7 .6 2.7 .6 4.4 5.5 47.3 .6 4.4 .6 3.1 .6 1.1 .6-1 .6-3 1.8-14.1 1.3-7.7 .6-2.8 1.2-4.1 .6-1.2 .6-.4 .6 .5 2.4 4.5 1.8 2.7 1.3 1.2 .6 .3 .6 0 .6-.3 3-3.7 3.1-2.5 1.2-.5 1.8 .2 6.7 1.4 2.4 .3 1.8-.1 4.9-.7 7.9-.3 1.8 .2 4.2 1 2.5 0 6-.6 7.3-.6 6.1-.8 2.4-.1 2.4 .2 7.9 1.6 2.4 .4 1.9-.1 4.8-.6 11.5 .8 2.5-1.3 .6-1 .6-2 1.2-6.1 .6-1.6 .6 .7 .6 2.8 1.8 10 .7 4.9 .6 7.9 1.8 34.3 .6 4.1 .6-4.1 .6-10.5 3-59.1 1.2-30.2 .7-8.9 .6 1 .6 10.4 1.2 29.2 .6 10.1 .6 6.3 2.4 17.3 .6 1 .6-2.2 1.3-8.5 .6-2.8 .6-.8 4.2 4.3 .6 0 3.1-3.1 .6-.8 1.2-2.1 1.8-2.5"/><path d="M43.4 335.9l2.5-.7 1.8-.1 7.9 2 1.8 .2 1.2 0 6.1-.6 6.7-1.8 1.2-.1 .6 0 1.2 .4 2.4 1.3 4.3 1.8 1.8 .1 1.2-.2 1.2-.5 .6-.8 1.2-2.3 .6-.9 .7-1.4 .6-2.6 1.2-8.9 1.8-17.7 .6-4 .6-1.8 .6 .8 .6 3.3 6.1 60.4 .6 5.1 .6 3.5 .6 1.3 .6-1.2 .6-3.4 1.8-16.1 1.3-8.8 .6-3.1 1.2-4.3 .6-1.2 .6-.4 .6 .5 .6 1 1.8 3.6 1.8 3.3 1.3 1.6 .6 .3 .6 0 .6-.5 .6-.7 2.4-3.8 1.8-1.9 1.3-1.1 .6-.4 .6-.1 1.8 .1 6.7 1.7 2.4 .3 1.8-.1 4.9-.8 7.9-.3 1.8 .2 4.2 1.1 2.5 0 6-.7 7.3-.6 6.1-1 2.4-.1 2.4 .2 7.9 1.9 2.4 .3 1.9 0 3.6-.6 1.2-.1 11.5 .9 2.5-1.4 .6-1 .6-2.1 1.2-6.2 .6-1.8 .6 .8 .6 2.9 1.8 10.7 .7 5.5 .6 9 1.8 39.4 .6 4.6 .6-4.6 .6-12.1 3-67.4 1.2-34.1 .7-10.1 .6 1.2 .6 11.8 1.2 32.9 .6 11.4 .6 7.2 2.4 19.5 .6 1.1 .6-2.5 1.3-9.5 .6-3.4 .6-1.6 .6-.4 .6 0 .6 .3 2.4 1.9 .6-.1 3.1-2.7 1.2-1.6 1.2-2.5 1.2-3.5"/><path d="M43.4 335.7l1.3-.6 1.2-.4 1.8-.1 7.9 2.7 1.8 .3 1.2 0 2.4-.2 3.7-.7 6.7-2.3 1.2-.2 .6 0 1.2 .6 2.4 1.7 4.3 2.4 .6 .2 1.2 0 1.2-.3 1.2-.5 1.8-3.7 .6-.5 .7-.8 .6-1.8 1.2-6.5 1.8-12.9 .6-3 .6-1.3 .6 .6 .6 2.4 6.1 44.8 .6 3.9 .6 2.6 .6 1 .6-.9 .6-2.6 1.8-12.2 1.3-6.7 .6-2.5 1.2-3.8 .6-1.1 .6-.4 .6 .4 1.8 3.2 1.2 1.7 1.9 1.9 1.2 .6 .6 0 .6-.3 3-2.7 2.4-1.8 1.3-.8 .6-.1 1.8 .1 6.7 1.7 2.4 .3 1.8-.1 4.9-.8 7.9-.3 1.8 .2 4.2 1.1 2.5 0 6-.7 7.3-.6 6.1-1 2.4-.1 2.4 .2 7.9 1.9 2.4 .3 1.9 0 3.6-.6 1.2-.1 11.5 .9 2.5-1.4 .6-.9 .6-1.9 1.2-5.9 .6-1.6 .6 .7 .6 2.7 1.8 9.2 .7 4 .6 6.4 1.8 27.6 .6 3.3 .6-3.3 .6-8.5 3-47.6 1.2-24.3 .7-7.2 .6 .9 .6 8.4 1.2 23.4 .6 8.2 .6 5.1 2.4 14.2 .6 .8 .6-1.8 1.3-7 .6-2.3 .6-.6 1.2 1.5 3 3 .6 0 3.1-3.1 2.4-3.8 1.2-1.6"/><path d="M43.4 335.9l2.5-.8 1.8 0 7.9 2 1.8 .2 1.2 0 2.4-.1 3.7-.5 6.7-1.8 1.2-.1 .6 0 1.2 .4 2.4 1.3 4.3 1.8 1.8 .2 1.2-.3 1.2-.4 .6-.9 1.2-2.4 .6-.8 .7-1.4 .6-2.6 1.2-8.9 1.8-17.6 .6-4.1 .6-1.8 .6 .8 .6 3.3 6.1 59.9 .6 5.1 .6 3.4 .6 1.3 .6-1.2 .6-3.4 1.8-15.8 1.3-8.6 .6-3.2 1.2-4.4 .6-1.3 .6-.4 .6 .5 .6 1.2 1.8 3.9 1.8 3.5 1.3 1.7 .6 .3 .6 0 .6-.5 .6-.7 2.4-4 3.1-3.5 .6-.4 .6-.2 1.8 .2 6.7 2.1 2.4 .4 1.8-.2 4.9-.9 7.9-.5 1.8 .3 4.2 1.3 1.2 .2 1.3-.1 6-.9 7.3-.8 6.1-1.2 2.4-.2 2.4 .4 7.9 2.3 2.4 .4 1.9 0 3-.7 1.8-.2 2.4 .1 7.3 1 1.8 0 2.5-1.6 .6-1 .6-2 1.2-6.1 .6-1.7 .6 .7 .6 2.9 1.8 10.2 .7 5 .6 8.2 1.8 35.8 .6 4.2 .6-4.2 .6-11 1.2-26.3 1.2-22 1.8-44.9 .7-9.3 .6 1.1 .6 10.9 1.2 30.4 .6 10.6 .6 6.6 2.4 17.9 .6 1.1 .6-2.3 1.3-8.8 .6-2.9 .6-1 .6 .4 .6 .7 3 2.9 .6 0 2.4-2.4 1.3-1.4 3-5"/><path d="M43.4 335.9l2.5-.9 1.8-.1 7.9 2.2 1.8 .3 1.2 0 2.4-.2 3.7-.5 6.7-1.9 1.2-.2 .6 .1 1.2 .4 2.4 1.4 4.3 2 .6 .1 1.2 0 1.2-.2 1.2-.5 .6-.9 1.2-2.6 .6-.9 .7-1.5 .6-2.7 1.2-9.3 1.8-18.6 .6-4.3 .6-1.9 .6 .9 .6 3.4 6.1 63.6 .6 5.4 .6 3.7 .6 1.3 .6-1.3 .6-3.6 1.8-16.9 1.3-9.3 .6-3.3 1.2-4.8 .6-1.4 .6-.4 .6 .6 .6 1.2 1.8 4.5 1.8 4 1.3 2 .6 .5 .6-.1 .6-.5 .6-.9 2.4-4.8 1.8-2.4 1.3-1.4 .6-.5 .6-.2 1.8 .3 6.7 2.1 2.4 .4 1.8-.2 4.9-1 7.9-.4 1.8 .3 4.2 1.3 1.2 .2 1.3-.1 6-.9 7.3-.8 6.1-1.2 2.4-.2 2.4 .3 7.9 2.4 2.4 .4 1.9 0 3.6-.8 1.2-.1 2.4 .1 7.3 1 1.8 .1 2.5-1.7 .6-1 .6-2.1 1.2-6.3 .6-1.8 .6 .8 .6 2.9 1.8 10.9 .7 5.7 .6 9.4 1.8 40.8 .6 4.9 .6-4.9 .6-12.5 3-70.2 1.2-35.7 .7-10.6 .6 1.2 .6 12.4 1.2 34.5 .6 11.9 .6 7.5 2.4 20.2 .6 1.2 .6-2.6 1.3-9.8 .6-3.4 .6-1.4 .6-.1 1.2 .7 2.4 2.1 .6 0 3.7-3.6 1.8-3.3 1.2-2.7"/><path d="M43.4 335.7l1.3-.6 1.2-.4 1.8-.1 7.9 2.7 1.8 .3 1.2 0 2.4-.2 3.7-.7 6.7-2.4 1.2-.2 .6 .1 1.2 .6 2.4 1.7 4.3 2.5 .6 .2 1.2 0 1.2-.3 1.2-.6 1.8-3.8 .6-.5 .7-.8 .6-1.8 1.2-6.7 1.8-13.3 .6-3.1 .6-1.3 .6 .6 .6 2.5 .6 3.9 5.5 42.2 .6 4.1 .6 2.7 .6 1 .6-.9 .6-2.7 2.5-16.4 1.2-5.9 1.2-4 .6-1.2 .6-.4 .6 .5 1.8 3.5 1.2 1.8 1.9 2.1 .6 .4 .6 .2 .6 0 .6-.3 3-2.9 2.4-1.7 1.3-.5 .6-.2 1.8 .2 6.7 1.1 2.4 .2 6.7-.6 7.9-.2 1.8 .1 4.2 .7 2.5 .1 13.3-.9 6.1-.7 2.4-.1 2.4 .2 7.9 1.2 2.4 .3 1.9 0 4.8-.5 11.5 .6 2.5-1.1 .6-.9 .6-2 1.2-5.8 .6-1.7 .6 .8 .6 2.7 1.8 9.2 .7 4.1 .6 6.5 1.8 28.3 .6 3.3 .6-3.3 .6-8.7 3-48.7 1.2-24.9 .7-7.3 .6 .8 .6 8.6 1.2 24.1 .6 8.3 .6 5.3 2.4 14.4 .6 .9 .6-1.9 1.3-7.1 .6-2.4 .6-.9 .6 0 .6 .4 3 2.5 .6 0 3.7-3.6 1.8-3.3 1.2-2.7"/><path d="M43.4 335.8l1.3-.6 1.2-.4 1.8 0 7.9 2.4 1.8 .3 1.2 0 2.4-.2 3.7-.6 6.7-2.1 1.2-.2 .6 0 1.2 .5 2.4 1.6 4.3 2.2 .6 .2 1.2 0 1.2-.3 1.2-.5 1.8-3.4 .6-.5 .7-.8 .6-1.7 1.2-6.4 1.8-12.5 .6-2.9 .6-1.3 .6 .6 .6 2.3 .6 3.8 5.5 41 .6 4 .6 2.8 .6 1 .6-1 .6-2.7 2.5-16.4 1.2-5.9 1.2-4.1 .6-1.2 .6-.4 .6 .5 1.8 3.5 1.2 1.8 1.9 1.9 .6 .5 .6 .2 .6 0 .6-.3 2.4-2.2 1.8-1.4 1.9-1.7 .6-.4 .6-.1 1.8 .2 6.7 1.9 2.4 .4 1.8-.1 4.9-.9 7.9-.4 1.8 .2 4.2 1.3 2.5 0 6-.8 7.3-.7 6.1-1.1 2.4-.2 2.4 .3 7.9 2.1 2.4 .5 1.9-.1 3.6-.7 1.2-.1 2.4 .1 7.3 .9 1.8 .1 2.5-1.6 .6-.9 .6-1.9 1.2-5.7 .6-1.6 .6 .7 2.4 11.3 .7 3.5 .6 5.5 1.8 23.8 .6 2.8 .6-2.9 .6-7.2 3-40.8 1.2-20.8 .7-6.1 .6 .7 .6 7.2 1.2 20 .6 7 .6 4.4 2.4 12.3 .6 .8 .6-1.7 1.3-6 .6-2.2 .6-1 .6-.4 .6 0 .6 .3 1.2 1 1.2 .8 .6 0 1.8-1.8 1.3-.9 1.2-1.6 1.2-2.6 1.2-3.8"/><path d="M43.4 335.9l2.5-.8 1.8 0 7.9 2 1.8 .2 1.2 0 2.4-.1 3.7-.5 6.7-1.8 1.2-.2 .6 .1 1.2 .4 2.4 1.3 4.3 1.8 1.8 .2 1.2-.3 1.2-.4 .6-.9 1.2-2.3 .6-.9 .7-1.4 .6-2.5 1.2-8.7 1.8-17.4 .6-4 .6-1.7 .6 .8 .6 3.2 .6 5.1 5.5 55.1 .6 5.2 .6 3.6 .6 1.3 .6-1.3 .6-3.4 1.8-16.4 1.3-8.9 .6-3.2 1.2-4.4 .6-1.2 .6-.4 .6 .5 .6 1 1.8 3.8 1.8 3.3 1.3 1.6 .6 .4 .6-.1 .6-.4 .6-.8 2.4-3.8 1.2-1.3 1.9-1.5 1.2-.4 1.8 .1 6.7 1.2 2.4 .2 6.7-.6 7.9-.3 1.8 .2 4.2 .8 2.5 0 13.3-1 6.1-.6 2.4-.1 2.4 .2 7.9 1.2 2.4 .3 1.9 0 4.8-.5 11.5 .6 2.5-1.1 .6-1 .6-2 1.2-6.1 .6-1.6 .6 .7 .6 2.8 1.8 10 .7 4.9 .6 7.9 1.8 34.4 .6 4 .6-4 .6-10.5 1.2-25.4 1.2-21.2 1.8-43.3 .7-9 .6 1.1 .6 10.5 1.2 29.4 .6 10.2 .6 6.4 2.4 17.3 .6 1 .6-2.2 1.3-8.4 .6-3 .6-1.2 .6-.2 .6 .2 3 2.4 .6-.1 3.7-3.5 1.8-3.3 1.2-3.1"/><path d="M43.4 335.8l1.3-.6 1.2-.3 1.8-.1 7.9 2.4 1.8 .3 1.2 0 2.4-.2 3.7-.6 6.7-2.1 1.2-.2 .6 .1 1.2 .5 2.4 1.5 4.3 2.2 .6 .1 1.2 0 1.2-.2 1.2-.6 .6-.9 1.2-2.4 .6-.6 .7-1 .6-1.9 1.2-6.9 1.8-13.6 .6-3.2 .6-1.4 .6 .7 .6 2.5 6.1 47.1 .6 4.1 .6 2.7 .6 1 .6-.9 .6-2.7 1.8-12.7 1.3-7 .6-2.6 1.2-3.7 .6-1.1 .6-.4 .6 .4 1.8 3.2 1.8 2.6 1.3 1.3 .6 .5 .6 .2 .6 0 .6-.3 3-3.1 3.1-2.3 1.2-.4 1.8 .1 6.7 1.4 2.4 .3 1.8-.1 4.9-.6 7.9-.4 1.8 .2 4.2 1 2.5 0 6-.6 7.3-.6 6.1-.8 2.4-.1 2.4 .2 7.9 1.6 2.4 .3 1.9 0 4.8-.6 11.5 .8 2.5-1.3 .6-1 .6-1.9 1.2-5.9 .6-1.7 .6 .8 .6 2.7 1.8 9.4 .7 4.4 .6 6.8 1.8 29.9 .6 3.6 .6-3.6 .6-9.1 1.2-22 1.2-18.5 1.8-37.6 .7-7.9 .6 1 .6 9.1 1.2 25.6 .6 8.9 .6 5.5 2.4 15.2 .6 .9 .6-1.9 1.3-7.5 .6-2.5 .6-1 .6 0 .6 .4 3 2.4 .6 0 3.7-3.6 1.8-3.3 1.2-2.8"/><path d="M43.4 335.8l1.3-.6 1.2-.3 1.8-.1 7.9 2.4 1.8 .3 1.2 0 2.4-.2 3.7-.6 6.7-2.1 1.2-.2 .6 .1 1.2 .5 2.4 1.5 4.3 2.2 .6 .1 1.2 .1 1.2-.3 1.2-.5 .6-1 1.2-2.4 .6-.5 .7-.9 .6-1.8 1.2-6.6 1.8-13 .6-2.9 .6-1.4 .6 .6 .6 2.4 .6 3.9 5.5 42 .6 4 .6 2.8 .6 1 .6-1 .6-2.7 1.8-12.7 1.3-7 .6-2.6 1.2-3.9 .6-1.2 .6-.3 .6 .4 1.8 3.1 1.2 1.4 1.9 1.5 1.2 .5 1.2-.2 6.1-4.1 1.2-.5 1.8 .2 7.3 1.7 1.8 .2 1.8-.1 4.9-.8 7.9-.3 1.8 .2 4.2 1 2.5 .1 6-.7 7.3-.6 6.1-.9 2.4-.2 2.4 .3 7.9 1.7 2.4 .4 1.9-.1 4.8-.6 11.5 .9 2.5-1.4 .6-.9 .6-2 1.2-5.9 .6-1.6 .6 .7 .6 2.7 1.8 9.3 .7 4.2 .6 6.6 1.8 28.7 .6 3.4 .6-3.4 .6-8.8 3-49.2 1.2-25 .7-7.4 .6 .8 .6 8.7 1.2 24.1 .6 8.4 .6 5.3 2.4 14.6 .6 .8 .6-1.9 1.3-7.1 .6-2.5 .6-.7 .6 .3 3.6 3.4 .6 0 2.4-2.3 1.3-1.4 3-5.3"/><path d="M43.4 335.8l2.5-.8 1.8-.1 7.9 2.2 1.8 .3 1.2 0 2.4-.2 3.7-.5 6.7-1.9 1.2-.2 .6 .1 1.2 .4 2.4 1.4 4.3 2 .6 .1 1.2 .1 1.2-.3 1.2-.5 1.8-3.1 .6-.4 .7-.8 .6-1.7 1.2-5.9 1.8-11.9 .6-2.7 .6-1.2 .6 .5 .6 2.2 .6 3.5 5.5 38.3 .6 3.7 .6 2.5 .6 .9 .6-.8 .6-2.5 2.5-15.1 1.2-5.5 1.2-3.9 .6-1.1 .6-.4 .6 .5 1.8 3.4 1.2 1.7 1.9 1.7 1.2 .6 .6 0 1.2-.7 1.8-1.6 1.8-1.3 1.9-1.8 .6-.4 .6-.2 1.8 .3 7.3 2.4 1.8 .2 1.8-.1 4.9-1.1 4.2-.3 3.7-.2 1.8 .3 4.2 1.5 1.2 .1 1.3 0 6-1 7.3-.9 6.1-1.2 2.4-.2 2.4 .3 7.9 2.5 2.4 .5 1.9-.1 3-.7 1.8-.2 2.4 .1 7.3 1 1.8 .1 1.3-1 1.2-.7 .6-.9 .6-1.8 1.2-5.7 .6-1.6 .6 .7 2.4 11.1 .7 3.3 .6 5.2 1.8 22.4 .6 2.6 .6-2.6 .6-6.9 3-38.5 1.2-19.7 .7-5.8 .6 .7 .6 6.8 1.2 19 .6 6.6 .6 4.2 2.4 11.7 .6 .7 .6-1.5 1.3-5.8 .6-2 .6-.9 .6-.1 .6 .2 .6 .3 2.4 1.9 .6 0 3.7-3.5 .6-.9 1.2-2.5 1.2-3.3"/><path d="M43.4 335.9l2.5-.8 1.8-.1 7.9 2.1 1.8 .3 1.2 0 2.4-.2 3.7-.5 6.7-1.9 1.2-.2 .6 .1 1.2 .4 2.4 1.4 4.3 1.9 1.8 .2 1.2-.2 1.2-.5 .6-.9 1.2-2.4 .6-.7 .7-1.3 .6-2.3 1.2-8 1.8-16 .6-3.7 .6-1.6 .6 .7 .6 3 6.1 54.3 .6 4.6 .6 3.1 .6 1.2 .6-1.1 .6-3.1 1.8-14.3 1.3-7.9 .6-2.8 1.2-4.1 .6-1.1 .6-.4 .6 .4 2.4 4.5 1.8 2.9 1.3 1.4 .6 .3 .6-.1 .6-.3 3-3.9 1.8-1.7 1.3-.9 1.2-.4 1.8 .1 6.7 1.3 2.4 .3 1.8-.1 4.9-.6 7.9-.3 1.8 .2 4.2 .8 2.5 .1 6-.6 7.3-.5 6.1-.8 2.4-.1 2.4 .2 7.9 1.5 2.4 .3 1.9-.1 4.8-.5 11.5 .7 2.5-1.2 .6-1 .6-1.9 1.2-5.9 .6-1.7 .6 .8 .6 2.7 1.8 9.5 .7 4.3 .6 6.9 1.8 30 .6 3.5 .6-3.5 .6-9.2 1.2-22.1 1.2-18.6 1.8-38.2 .7-7.9 .6 .9 .6 9.3 1.2 25.9 .6 9 .6 5.7 2.4 15.3 .6 .9 .6-2 1.3-7.5 .6-2.5 .6-.7 .6 .4 3.6 3.5 .6-.1 2.4-2.3 1.3-1.4 3-5.2"/><path d="M43.4 335.9l2.5-.7 1.8-.1 7.9 1.9 1.8 .3 1.2 0 6.1-.6 6.7-1.7 1.2-.2 1.8 .5 2.4 1.2 4.3 1.7 1.8 .2 1.2-.3 1.2-.4 .6-.8 1.8-3.3 .7-1.5 .6-2.7 1.2-9.4 1.8-18.4 .6-4.3 .6-1.9 .6 .9 .6 3.4 .6 5.5 5.5 58.9 .6 5.6 .6 3.9 .6 1.4 .6-1.4 .6-3.7 1.8-17.6 1.3-9.6 .6-3.4 1.2-4.8 .6-1.4 .6-.4 .6 .5 .6 1.2 1.8 4.2 1.8 3.7 1.3 1.8 .6 .4 .6 0 .6-.5 .6-.8 2.4-4.4 1.8-2.1 1.3-1.2 .6-.4 .6-.1 1.8 .1 6.7 1.7 2.4 .3 1.8-.1 4.9-.8 7.9-.3 1.8 .2 4.2 1.1 2.5 0 6-.7 7.3-.6 6.1-1 2.4-.1 2.4 .2 7.9 1.9 2.4 .3 1.9 0 3-.6 1.8-.1 11.5 .9 2.5-1.4 .6-1 .6-2.1 1.2-6.3 .6-1.7 .6 .8 .6 2.9 1.8 10.7 .7 5.6 .6 9.1 1.8 39.9 .6 4.7 .6-4.7 .6-12.2 1.2-29.4 1.2-24.8 1.8-50.9 .7-10.7 .6 1.3 .6 12.4 1.2 34.6 .6 12.1 .6 7.5 2.4 19.8 .6 1.2 .6-2.5 1.3-9.7 .6-3.3 .6-1.4 .6-.1 1.2 .7 2.4 2.1 .6 0 3.7-3.6 1.8-3.3 1.2-2.8"/><path d="M43.4 335.7l1.3-.7 1.2-.4 1.8-.1 7.9 2.8 1.8 .4 1.2 0 2.4-.3 3.7-.6 6.7-2.5 1.2-.3 .6 .1 1.2 .6 2.4 1.8 4.3 2.6 .6 .2 1.2 0 1.2-.3 1.2-.7 .6-1.1 1.2-3 .6-.8 .7-1.3 .6-2.6 1.2-9.1 1.8-18 .6-4.2 .6-1.8 .6 .8 .6 3.4 6.1 62.3 .6 5.3 .6 3.7 .6 1.3 .6-1.3 .6-3.5 1.8-16.8 1.3-9.2 .6-3.2 1.2-4.6 .6-1.3 .6-.4 .6 .5 .6 1.2 1.8 4.2 2.5 5 .6 .8 .6 .4 .6 0 .6-.5 .6-.9 2.4-4.6 1.2-1.6 1.9-1.8 .6-.3 .6-.2 1.8 .2 6.7 1.4 2.4 .3 1.8-.1 4.9-.7 7.9-.3 1.8 .2 4.2 1 2.5 0 6-.6 7.3-.6 6.1-.8 2.4-.2 2.4 .3 7.9 1.6 2.4 .4 1.9-.1 4.8-.6 11.5 .8 2.5-1.3 .6-1 .6-2.1 1.2-6.2 .6-1.7 .6 .8 .6 2.8 1.8 10.6 .7 5.5 .6 8.8 1.8 38.7 .6 4.5 .6-4.5 .6-11.9 1.2-28.4 1.2-23.9 1.8-48.6 .7-10.1 .6 1.2 .6 11.8 1.2 33 .6 11.5 .6 7.1 2.4 19.3 .6 1.1 .6-2.5 1.3-9.3 .6-3.2 .6-1 .6 .5 .6 .8 3 3 .6 0 3.1-3.1 .6-.8 1.2-2.1 1.8-2.4"/><path d="M43.4 335.7l1.3-.6 1.2-.4 1.8-.1 7.9 2.6 1.8 .4 1.2 0 2.4-.2 3.7-.7 6.7-2.3 1.2-.2 .6 .1 1.2 .5 2.4 1.7 4.3 2.4 .6 .2 1.2 0 1.2-.3 1.2-.6 .6-1 1.2-2.8 .6-.6 .7-1.2 .6-2.2 1.2-8 1.8-15.7 .6-3.7 .6-1.6 .6 .7 .6 3 .6 4.7 5.5 50.5 .6 4.8 .6 3.3 .6 1.2 .6-1.2 .6-3.2 1.8-15.1 1.3-8.3 .6-3 1.2-4.2 .6-1.2 .6-.3 .6 .4 .6 1.1 1.8 3.7 1.8 3.2 1.3 1.6 .6 .4 .6-.1 .6-.4 .6-.7 2.4-3.8 1.8-1.9 1.3-1.1 .6-.4 .6-.1 1.8 .1 6.7 1.7 2.4 .3 1.8-.1 4.9-.8 7.9-.3 1.8 .2 4.2 1 2.5 .1 6-.7 7.3-.6 6.1-1 2.4-.1 2.4 .2 7.9 1.9 2.4 .3 1.9 0 3-.6 1.8-.1 11.5 .9 2.5-1.4 .6-1 .6-2 1.2-6.2 .6-1.7 .6 .8 .6 2.8 1.8 10.4 .7 5.2 .6 8.5 1.8 37.1 .6 4.3 .6-4.4 .6-11.3 3-63.5 1.2-32.3 .7-9.5 .6 1.1 .6 11.2 1.2 31 .6 10.8 .6 6.8 2.4 18.5 .6 1 .6-2.4 1.3-9 .6-3.1 .6-1.2 .6-.1 1.2 .8 2.4 2 .6 0 3.7-3.6 1.8-3.3 1.2-2.7"/><path d="M43.4 335.8l2.5-.8 1.8-.1 7.9 2.2 1.8 .3 1.2 0 2.4-.2 3.7-.5 6.7-2 1.2-.2 .6 .1 1.2 .5 2.4 1.4 4.3 2.1 .6 .1 1.2 0 1.2-.2 1.2-.5 .6-.9 1.2-2.5 .6-.6 .7-1.1 .6-2 1.2-7.4 1.8-14.6 .6-3.4 .6-1.5 .6 .7 .6 2.7 6.1 50.2 .6 4.3 .6 2.9 .6 1 .6-1 .6-2.8 1.8-13.5 1.3-7.3 .6-2.7 1.2-4 .6-1.1 .6-.4 .6 .5 2.4 4.4 1.8 2.6 1.3 1.3 .6 .3 .6-.1 .6-.3 3-3.6 3.1-2.7 .6-.4 .6-.1 1.8 .2 6.7 1.7 2.4 .3 1.8-.1 4.9-.8 7.9-.4 1.8 .3 4.2 1.1 2.5 0 6-.7 7.3-.7 6.1-.9 2.4-.2 2.4 .3 7.9 1.9 2.4 .4 1.9-.1 3-.5 1.8-.2 11.5 .9 2.5-1.4 .6-1 .6-1.9 1.2-6.1 .6-1.6 .6 .7 .6 2.8 1.8 9.7 .7 4.7 .6 7.4 1.8 32.1 .6 3.8 .6-3.8 .6-9.8 3-55.3 1.2-28 .7-8.3 .6 1 .6 9.7 1.2 27 .6 9.4 .6 5.9 2.4 16.2 .6 1 .6-2.1 1.3-8 .6-2.7 .6-1.2 .6-.1 .6 .2 3 2.4 .6-.1 3.7-3.5 1.8-3.3 1.2-3.1"/><path d="M43.4 335.8l1.3-.5 1.2-.4 1.8-.1 7.9 2.4 1.8 .3 1.2 0 2.4-.2 3.7-.6 6.7-2.1 1.2-.2 .6 .1 1.2 .5 2.4 1.5 4.3 2.1 .6 .2 1.2 0 1.2-.3 1.2-.5 .6-1 1.2-2.7 .6-.8 .7-1.5 .6-2.7 1.2-9.5 1.8-18.8 .6-4.3 .6-2 .6 .9 .6 3.5 6.1 65 .6 5.7 .6 3.8 .6 1.4 .6-1.3 .6-3.8 1.8-17.6 1.3-9.5 .6-3.4 1.2-4.7 .6-1.3 .6-.4 .6 .5 .6 1.1 2.4 5.6 1.9 3.7 .6 .9 .6 .4 .6 0 .6-.6 .6-.9 2.4-4.7 1.2-1.5 1.9-1.9 .6-.3 .6-.2 1.8 .2 6.7 1.4 2.4 .3 1.8-.1 4.9-.7 7.9-.3 1.8 .2 4.2 1 2.5 0 6-.6 7.3-.6 6.1-.8 2.4-.1 2.4 .2 7.9 1.6 2.4 .4 1.9-.1 4.8-.6 11.5 .8 2.5-1.3 .6-1 .6-2 1.2-6.2 .6-1.7 .6 .8 .6 2.8 1.8 10.4 .7 5.2 .6 8.5 1.8 37.2 .6 4.4 .6-4.4 .6-11.4 1.2-27.4 1.2-23 1.8-47.1 .7-9.8 .6 1.1 .6 11.5 1.2 32 .6 11.1 .6 7 2.4 18.6 .6 1.1 .6-2.4 1.3-9.1 .6-3 .6-.9 4.2 4.4 .6-.1 3.1-3.1 .6-.8 1.2-2.1 1.8-2.4"/><path d="M43.4 335.9l2.5-.7 1.8-.1 7.9 1.9 1.8 .3 1.2 0 6.1-.6 6.7-1.7 1.2-.2 .6 .1 1.2 .4 2.4 1.2 4.3 1.8 1.8 .1 1.2-.2 1.2-.5 .6-.8 1.2-2.2 .6-.8 .7-1.3 .6-2.4 1.2-8.3 1.8-16.3 .6-3.7 .6-1.7 .6 .7 .6 3.1 .6 4.8 5.5 52.1 .6 4.9 .6 3.4 .6 1.3 .6-1.2 .6-3.3 1.8-15.6 1.3-8.5 .6-3.1 1.2-4.6 .6-1.3 .6-.4 .6 .5 2.4 5.2 1.8 3.2 1.3 1.6 .6 .3 .6 0 .6-.4 .6-.7 2.4-3.7 1.2-1.3 1.9-1.5 1.2-.5 1.8 .2 6.7 1.3 2.4 .3 1.8-.1 4.9-.6 7.9-.3 1.8 .2 4.2 .8 2.5 .1 6-.6 7.3-.5 6.1-.8 2.4-.1 2.4 .2 7.9 1.5 2.4 .3 1.9-.1 4.8-.5 11.5 .7 2.5-1.2 .6-1 .6-2 1.2-6.2 .6-1.7 .6 .7 .6 2.9 1.8 10.4 .7 5.3 .6 8.5 1.8 37.4 .6 4.4 .6-4.4 .6-11.4 3-64 1.2-32.4 .7-9.5 .6 1.1 .6 11.2 1.2 31.2 .6 10.8 .6 6.8 2.4 18.6 .6 1.1 .6-2.4 1.3-9.1 .6-3.2 .6-1.6 .6-.5 .6 0 .6 .3 1.2 1.1 1.2 .8 .6-.1 3.1-2.7 1.2-1.6 1.2-2.5 1.2-3.7"/><path d="M43.4 335.7l1.3-.5 1.2-.4 1.8-.1 7.9 2.5 1.8 .4 1.2 0 2.4-.2 3.7-.7 6.7-2.2 1.2-.2 .6 0 1.2 .6 2.4 1.6 4.3 2.3 .6 .2 1.2 0 1.2-.3 1.2-.6 3.1-6.1 .6-2.7 1.2-9.4 1.8-18.6 .6-4.3 .6-1.9 .6 .9 .6 3.4 .6 5.5 5.5 60.5 .6 5.9 .6 4 .6 1.4 .6-1.4 .6-3.9 1.8-18.4 1.3-10 .6-3.6 1.2-5 .6-1.4 .6-.4 .6 .5 .6 1.2 1.8 4.3 1.8 3.7 1.3 1.9 .6 .4 .6-.1 .6-.4 .6-.9 2.4-4.4 3.1-3.8 .6-.5 .6-.2 1.8 .3 6.7 2.3 1.2 .3 1.2 .2 1.8-.2 4.9-1.1 4.2-.4 3.7-.1 1.8 .3 4.2 1.5 1.2 .2 1.3-.1 6-1 7.3-.9 6.1-1.3 2.4-.2 2.4 .3 7.9 2.6 2.4 .5 1.9 0 3-.8 1.8-.2 2.4 .1 7.3 1.1 1.8 .1 1.3-1 1.2-.8 .6-1 .6-2.1 1.2-6.2 .6-1.7 .6 .8 .6 2.9 1.8 10.5 .7 5.4 .6 8.8 1.8 38.2 .6 4.6 .6-4.6 .6-11.7 3-65.9 1.2-33.7 .7-9.9 .6 1.1 .6 11.7 1.2 32.4 .6 11.3 .6 7.1 2.4 19 .6 1.2 .6-2.5 1.3-9.3 .6-3.2 .6-1.5 .6-.3 .6 .2 .6 .4 2.4 1.9 .6 0 3.7-3.5 1.8-3.4 1.2-3.2"/><path d="M43.4 335.7l1.3-.7 1.2-.4 1.8-.1 7.9 2.8 1.8 .4 1.2 0 2.4-.3 3.7-.6 6.7-2.6 1.2-.2 .6 .1 1.2 .6 2.4 1.8 4.3 2.6 .6 .2 1.2 0 1.2-.3 1.2-.7 .6-1.1 1.2-2.9 .6-.7 .7-1.2 .6-2.3 1.2-8.3 1.8-16.6 .6-3.8 .6-1.7 .6 .8 .6 3.1 .6 4.8 5.5 52.9 .6 5 .6 3.5 .6 1.2 .6-1.2 .6-3.3 1.8-15.8 1.3-8.7 .6-3.1 1.2-4.4 .6-1.3 .6-.3 .6 .4 2.4 4.9 1.8 3 1.3 1.5 .6 .3 .6 0 .6-.4 .6-.7 2.4-3.5 1.2-1.2 1.9-1.4 1.2-.3 1.8 .1 6.7 1.1 2.4 .2 6.7-.6 7.9-.2 1.8 .1 4.2 .7 2.5 .1 13.3-.9 6.1-.7 2.4-.1 2.4 .2 7.9 1.2 2.4 .3 1.9 0 4.8-.5 11.5 .6 2.5-1.1 .6-1 .6-2 1.2-6.2 .6-1.7 .6 .7 .6 2.9 1.8 10.4 .7 5.3 .6 8.5 1.8 37.3 .6 4.4 .6-4.4 .6-11.4 1.2-27.5 1.2-23 1.8-46.9 .7-9.7 .6 1.1 .6 11.4 1.2 31.9 .6 11 .6 6.9 2.4 18.6 .6 1.1 .6-2.4 1.3-9 .6-3.1 .6-1.2 .6 .1 3.6 3.2 .6 0 3.7-3.7 3-5.5"/><path d="M43.4 335.8l1.3-.6 1.2-.3 1.8-.1 7.9 2.4 1.8 .3 1.2 0 2.4-.2 3.7-.6 6.7-2.1 1.2-.2 .6 .1 1.2 .5 2.4 1.5 4.3 2.2 .6 .1 1.2 .1 1.2-.3 1.2-.6 .6-.9 1.2-2.6 .6-.8 .7-1.2 .6-2.4 1.2-8.4 1.8-16.6 .6-3.8 .6-1.7 .6 .7 .6 3.1 .6 4.9 5.5 53.4 .6 5.1 .6 3.5 .6 1.3 .6-1.2 .6-3.4 1.8-16.1 1.3-8.8 .6-3.2 1.2-4.7 .6-1.3 .6-.4 .6 .5 2.4 5.2 1.8 3.2 1.3 1.6 .6 .3 .6 0 .6-.4 .6-.7 2.4-3.7 3.1-3.5 .6-.5 .6-.2 1.8 .3 6.7 2.3 1.2 .3 1.2 .2 1.8-.2 4.9-1.1 4.2-.4 3.7-.1 1.8 .3 4.2 1.5 1.2 .2 1.3-.1 6-1 7.3-.9 6.1-1.3 2.4-.2 2.4 .3 7.9 2.6 2.4 .5 1.9 0 3.6-.9 1.2-.1 2.4 .1 7.3 1.1 1.8 .1 1.3-1 1.2-.8 .6-1 .6-2 1.2-6 .6-1.7 .6 .8 .6 2.7 1.8 10 .7 4.8 .6 7.7 1.8 33.8 .6 4 .6-4 .6-10.3 1.2-24.9 1.2-20.8 1.8-42.6 .7-8.9 .6 1 .6 10.4 1.2 28.9 .6 10.1 .6 6.2 2.4 17.1 .6 .9 .6-2.1 1.3-8.3 .6-2.9 .6-.8 .6 .3 3.6 3.5 .6 0 2.4-2.4 1.3-1.4 3-5.1"/><path d="M43.4 335.8l1.3-.5 1.2-.4 1.8-.1 7.9 2.4 1.8 .3 1.2 0 2.4-.2 3.7-.6 6.7-2.1 1.2-.1 .6 0 1.2 .5 2.4 1.5 4.3 2.1 .6 .2 1.2 0 1.2-.3 1.2-.5 .6-.9 1.2-2.6 .6-.8 .7-1.2 .6-2.4 1.2-8.4 1.8-16.7 .6-3.8 .6-1.7 .6 .7 .6 3.2 6.1 57.6 .6 5 .6 3.5 .6 1.2 .6-1.2 .6-3.3 1.8-15.7 1.3-8.5 .6-3 1.2-4.3 .6-1.2 .6-.4 .6 .4 2.4 4.6 1.8 2.8 1.3 1.4 .6 .3 .6 0 .6-.4 3-3.9 3.1-2.8 .6-.3 .6-.2 1.8 .2 6.7 1.6 2.4 .3 1.8-.1 4.9-.8 7.9-.3 1.8 .2 4.2 1 2.5 .1 6-.7 7.3-.6 6.1-.9 2.4-.2 2.4 .3 7.9 1.7 2.4 .4 1.9-.1 4.8-.6 11.5 .9 2.5-1.4 .6-1 .6-1.9 1.2-6 .6-1.6 .6 .8 .6 2.7 1.8 9.5 .7 4.4 .6 7 1.8 30.3 .6 3.6 .6-3.6 .6-9.3 1.2-22.3 1.2-18.8 1.8-38.2 .7-7.9 .6 .9 .6 9.3 1.2 25.9 .6 9.1 .6 5.6 2.4 15.4 .6 .9 .6-2 1.3-7.5 .6-2.6 .6-.8 .6 .3 3.6 3.4 .6 0 2.4-2.4 1.3-1.3 3-5.3"/><path d="M43.4 335.8l1.3-.6 1.2-.3 1.8-.1 7.9 2.4 1.8 .3 1.2 0 2.4-.2 3.7-.6 6.7-2.1 1.2-.2 .6 .1 1.2 .5 2.4 1.5 4.3 2.2 .6 .1 1.2 .1 1.2-.3 1.2-.5 1.8-3.4 .6-.4 .7-.8 .6-1.7 1.2-6.2 1.8-12.2 .6-2.8 .6-1.2 .6 .5 .6 2.3 6.1 42.2 .6 3.7 .6 2.5 .6 .9 .6-.9 .6-2.4 2.5-14.9 1.2-5.4 1.2-3.7 .6-1.2 .6-.3 .6 .4 1.8 3.2 1.2 1.4 1.9 1.5 1.2 .5 .6 0 1.2-.6 1.8-1.3 1.8-1.1 1.9-1.5 .6-.3 .6-.2 1.8 .2 7.3 2.1 1.8 .2 1.8-.1 4.9-.9 7.9-.4 1.8 .2 4.2 1.3 2.5 0 6-.8 7.3-.7 6.1-1.1 2.4-.2 2.4 .3 7.9 2.1 2.4 .5 1.9-.1 3-.6 1.8-.2 11.5 1 2.5-1.5 .6-.9 .6-1.8 1.2-5.7 .6-1.6 .6 .7 2.4 11.1 .7 3.4 .6 5.2 1.8 22.4 .6 2.7 .6-2.7 .6-6.8 1.2-16.6 1.2-13.8 1.8-28.2 .7-5.9 .6 .7 .6 6.9 1.2 19.1 .6 6.7 .6 4.2 2.4 11.7 .6 .7 .6-1.5 1.3-5.8 .6-2 .6-.7 .6 .2 1.2 .9 2.4 2.1 .6 0 3.7-3.7 1.8-3.2 1.2-2.7"/><path d="M43.4 335.9l2.5-.8 1.8-.1 7.9 2.1 1.8 .3 1.2 0 2.4-.2 3.7-.5 6.7-1.9 1.2-.1 .6 0 1.2 .5 2.4 1.3 4.3 1.9 1.8 .2 1.2-.3 1.2-.4 .6-.9 1.2-2.2 .6-.6 .7-.9 .6-1.9 1.2-6.7 1.8-13.1 .6-3.1 .6-1.3 .6 .6 .6 2.5 .6 3.9 5.5 42.2 .6 4.1 .6 2.7 .6 1 .6-.9 .6-2.7 1.8-12.7 1.3-7 .6-2.6 1.2-3.8 .6-1.2 .6-.3 .6 .4 1.8 3.3 1.8 2.6 1.3 1.4 .6 .5 .6 .2 .6 0 .6-.3 3-3.2 3.1-2.4 1.2-.5 1.8 .2 6.7 1.6 2.4 .3 1.8-.1 4.9-.8 7.9-.3 1.8 .2 4.2 1 2.5 .1 6-.7 7.3-.6 6.1-.9 2.4-.1 2.4 .2 7.9 1.7 2.4 .4 1.9-.1 4.8-.6 11.5 .9 2.5-1.4 .6-.9 .6-1.9 1.2-5.9 .6-1.6 .6 .7 .6 2.7 1.8 9.1 .7 4 .6 6.4 1.8 27.5 .6 3.3 .6-3.3 .6-8.4 1.2-20.3 1.2-17 1.8-34.7 .7-7.2 .6 .8 .6 8.5 1.2 23.6 .6 8.1 .6 5.2 2.4 14.1 .6 .8 .6-1.8 1.3-6.9 .6-2.4 .6-.6 .6 .4 3.6 3.5 .6 0 2.4-2.4 1.3-1.4 3-5.1"/><path d="M43.4 335.8l2.5-.9 1.8 0 7.9 2.2 1.8 .3 1.2 .1 2.4-.2 3.7-.6 6.7-2 1.2-.2 .6 .1 1.2 .4 2.4 1.5 4.3 2.1 .6 .1 1.2 .1 1.2-.3 1.2-.5 1.8-3.2 .6-.4 .7-.8 .6-1.6 1.2-6 1.8-11.7 .6-2.7 .6-1.2 .6 .5 .6 2.2 .6 3.5 5.5 37.6 .6 3.6 .6 2.5 .6 .8 .6-.8 .6-2.4 2.5-14.7 1.2-5.4 1.2-3.9 .6-1.2 .6-.4 .6 .5 1.8 3.3 .6 .8 1.8 1.6 1.3 .6 .6 .2 .6 0 1.2-.5 1.8-1.2 1.8-.9 1.9-1.3 1.2-.4 1.8 .2 7.3 1.7 1.8 .2 1.8-.1 4.9-.8 7.9-.3 1.8 .2 4.2 1 2.5 .1 6-.7 7.3-.6 6.1-.9 2.4-.2 2.4 .3 7.9 1.7 2.4 .4 1.9-.1 4.8-.6 11.5 .9 2.5-1.4 .6-.9 .6-1.9 1.2-5.7 .6-1.6 .6 .7 2.4 11.3 .7 3.5 .6 5.5 1.8 23.7 .6 2.8 .6-2.8 .6-7.3 1.2-17.4 1.2-14.7 1.8-30.3 .7-6.3 .6 .8 .6 7.3 1.2 20.6 .6 7.1 .6 4.5 2.4 12.4 .6 .7 .6-1.6 1.3-6 .6-2.1 .6-1 .6-.1 .6 .2 .6 .3 2.4 1.9 .6 0 3.7-3.5 .6-.9 1.2-2.5 1.2-3.3"/><path d="M43.4 335.9l2.5-.7 1.8-.1 7.9 2 1.8 .2 1.2 0 2.4-.1 3.7-.5 6.7-1.8 1.2-.1 .6 0 1.2 .4 2.4 1.3 4.3 1.8 1.8 .2 1.2-.3 1.2-.5 .6-.8 1.2-2.4 .6-.9 .7-1.5 .6-2.7 1.2-9.3 1.8-18.5 .6-4.2 .6-1.9 .6 .8 .6 3.5 .6 5.5 5.5 59.7 .6 5.8 .6 3.9 .6 1.5 .6-1.4 .6-3.8 1.8-18.2 1.3-9.9 .6-3.5 1.2-4.9 .6-1.4 .6-.4 .6 .5 .6 1.2 1.8 4.1 1.8 3.6 1.3 1.8 .6 .3 .6 0 .6-.5 .6-.8 2.4-4.2 3.1-3.7 .6-.5 .6-.2 1.8 .3 6.7 2.3 1.2 .3 1.2 .2 1.8-.2 4.9-1.1 4.2-.4 3.7-.1 1.8 .3 4.2 1.5 1.2 .2 1.3-.1 6-1 7.3-.9 6.1-1.3 2.4-.2 2.4 .4 7.9 2.5 2.4 .5 1.9 0 3.6-.9 1.2-.1 2.4 .1 7.3 1.1 1.8 .1 1.3-1 1.2-.8 .6-1 .6-2.1 1.2-6.3 .6-1.7 .6 .8 .6 2.9 1.8 10.8 .7 5.7 .6 9.3 1.8 40.6 .6 4.8 .6-4.8 .6-12.4 3-69.8 1.2-35.6 .7-10.4 .6 1.2 .6 12.3 1.2 34.2 .6 11.9 .6 7.4 2.4 20.2 .6 1.1 .6-2.6 1.3-9.8 .6-3.4 .6-1.5 .6-.3 .6 .2 .6 .4 2.4 2 .6-.1 3.7-3.5 1.8-3.3 1.2-3.2"/><path d="M43.4 335.7l1.3-.6 1.2-.4 1.8-.1 7.9 2.6 1.8 .4 1.2 0 2.4-.2 3.7-.7 6.7-2.3 1.2-.2 .6 .1 1.2 .5 2.4 1.7 4.3 2.4 .6 .2 1.2 0 1.2-.3 1.2-.6 3.1-6.3 .6-2.7 1.2-9.6 1.8-18.9 .6-4.3 .6-2 .6 .9 .6 3.5 6.1 65.3 .6 5.7 .6 3.8 .6 1.4 .6-1.3 .6-3.8 1.8-17.6 1.3-9.6 .6-3.4 1.2-4.9 .6-1.4 .6-.4 .6 .5 .6 1.2 1.8 4.3 1.8 3.8 1.3 1.8 .6 .4 .6 0 .6-.5 .6-.9 2.4-4.3 1.2-1.5 1.9-1.6 1.2-.5 1.8 .1 6.7 1.3 2.4 .3 1.8-.1 4.9-.6 7.9-.3 1.8 .2 4.2 .8 2.5 .1 6-.6 7.3-.5 6.1-.7 2.4-.2 2.4 .2 7.9 1.5 2.4 .3 1.9-.1 4.8-.5 11.5 .7 2.5-1.2 .6-1 .6-2.1 1.2-6.3 .6-1.7 .6 .8 .6 2.9 1.8 10.8 .7 5.7 .6 9.3 1.8 40.6 .6 4.8 .6-4.8 .6-12.4 3-69.9 1.2-35.7 .7-10.5 .6 1.2 .6 12.3 1.2 34.4 .6 12 .6 7.4 2.4 20.2 .6 1.1 .6-2.6 1.3-9.8 .6-3.3 .6-1.4 .6 0 .6 .4 3 2.5 .6 0 3.7-3.6 1.8-3.3 1.2-2.5"/><path d="M43.4 335.8l1.3-.6 1.2-.3 1.8-.1 7.9 2.4 1.8 .3 1.2 0 2.4-.2 3.7-.6 6.7-2.1 1.2-.2 .6 .1 1.2 .5 2.4 1.5 4.3 2.2 .6 .1 1.2 .1 1.2-.3 1.2-.6 .6-.9 1.2-2.6 .6-.7 .7-1.2 .6-2.2 1.2-8.1 1.8-15.9 .6-3.6 .6-1.7 .6 .8 .6 2.9 .6 4.7 5.5 50.6 .6 4.8 .6 3.3 .6 1.2 .6-1.1 .6-3.2 1.8-15.1 1.3-8.3 .6-3 1.2-4.5 .6-1.3 .6-.4 .6 .5 1.8 3.9 1.8 3.1 1.3 1.7 .6 .6 .6 .3 .6 0 .6-.4 3-3.9 3.1-2.9 .6-.3 .6-.2 1.8 .2 6.7 1.7 2.4 .3 1.8-.1 4.9-.8 7.9-.4 1.8 .3 4.2 1.1 2.5 0 6-.7 7.3-.7 6.1-.9 2.4-.2 2.4 .3 7.9 1.9 2.4 .4 1.9-.1 3-.5 1.8-.2 11.5 .9 2.5-1.4 .6-1 .6-2 1.2-6.1 .6-1.7 .6 .8 .6 2.8 1.8 10 .7 4.9 .6 8 1.8 34.4 .6 4.1 .6-4.1 .6-10.5 1.2-25.4 1.8-33.5 1.2-29.7 .7-8.8 .6 1 .6 10.3 1.2 28.6 .6 10 .6 6.2 2.4 17.2 .6 1 .6-2.2 1.3-8.4 .6-2.9 .6-1 .6 .2 3.6 3.2 .6 0 3.7-3.7 3-5.4"/><path d="M43.4 335.7l1.3-.7 1.2-.4 1.8-.1 7.9 2.8 1.8 .4 1.2 0 2.4-.3 3.7-.7 6.7-2.4 1.2-.2 .6 0 1.2 .6 2.4 1.8 4.3 2.6 .6 .1 1.2 .1 1.8-.6 .6-.4 1.8-3.7 .6-.5 .7-.7 .6-1.7 1.2-6.3 1.8-12.4 .6-2.9 .6-1.3 .6 .6 .6 2.3 6.1 43.1 .6 3.8 .6 2.5 .6 1 .6-.9 .6-2.5 2.5-15.3 1.2-5.3 1.2-3.7 .6-1.1 .6-.3 .6 .4 1.8 3 1.2 1.5 1.9 1.6 1.2 .5 .6 0 1.2-.6 1.8-1.5 1.8-1.1 1.9-1.6 .6-.4 .6-.2 1.8 .2 7.3 2.2 1.8 .2 1.8-.1 4.9-.9 7.9-.5 1.8 .3 4.2 1.3 2.5 .1 6-.9 7.3-.8 6.1-1.1 2.4-.2 2.4 .3 7.9 2.2 2.4 .5 1.9-.1 3-.6 1.8-.2 2.4 .1 7.3 .9 1.8 .1 2.5-1.6 .6-.9 .6-1.8 1.2-5.7 .6-1.5 .6 .7 3.1 14 .6 4.9 1.8 20.9 .6 2.4 .6-2.5 .6-6.3 1.2-15.4 1.2-12.9 1.8-26.3 .7-5.4 .6 .6 .6 6.4 1.2 17.8 .6 6.3 .6 3.9 2.4 11 .6 .7 .6-1.5 1.3-5.4 .6-1.9 .6-.4 4.2 3.9 .6 0 2.4-2.3 1.3-1.4 3-5.3"/><path d="M43.4 335.9l2.5-.8 1.8-.1 7.9 2.1 1.8 .3 1.2 0 2.4-.2 3.7-.5 6.7-1.9 1.2-.1 .6 0 1.2 .5 2.4 1.3 4.3 1.9 1.8 .1 1.2-.2 1.2-.5 .6-.8 1.2-2.1 .6-.5 .7-.9 .6-1.7 1.2-6.2 1.8-12.1 .6-2.9 .6-1.2 .6 .6 .6 2.2 .6 3.6 5.5 39.4 .6 3.9 .6 2.6 .6 .9 .6-.9 .6-2.5 1.8-12 1.3-6.6 .6-2.5 1.2-3.6 .6-1.1 .6-.4 .6 .4 1.8 3.1 1.2 1.6 1.9 1.7 1.2 .6 .6-.1 1.2-.6 1.8-1.6 1.8-1.3 1.9-1.9 .6-.4 .6-.2 1.8 .3 7.3 2.5 1.8 .3 1.8-.2 4.9-1.1 4.2-.4 3.7-.1 1.8 .3 4.2 1.5 1.2 .2 1.3-.1 6-1 7.3-.9 6.1-1.3 2.4-.2 2.4 .3 7.9 2.6 2.4 .6 1.9-.1 3.6-.9 1.2-.1 2.4 .1 7.3 1.1 1.8 .1 1.3-1 1.2-.8 .6-.9 .6-1.9 1.2-5.8 .6-1.6 .6 .7 .6 2.6 1.8 9 .7 3.9 .6 6.1 1.8 26.4 .6 3.1 .6-3.1 .6-8.1 3-45.4 1.2-23.1 .7-6.9 .6 .8 .6 8 1.2 22.4 .6 7.7 .6 4.9 2.4 13.6 .6 .8 .6-1.8 1.3-6.7 .6-2.3 .6-1 .6-.2 .6 .2 .6 .3 2.4 2 .6-.1 3.7-3.4 1.8-3.4 1.2-3.4"/><path d="M43.4 335.8l2.5-.9 1.8 0 7.9 2.2 1.8 .3 1.2 .1 2.4-.2 3.7-.6 6.7-2 1.2-.2 .6 .1 1.2 .4 2.4 1.5 4.3 2.1 .6 .1 1.2 .1 1.2-.3 1.2-.5 .6-.9 1.2-2.5 .6-.6 .7-1.1 .6-2.1 1.2-7.4 1.8-14.6 .6-3.4 .6-1.5 .6 .6 .6 2.8 3.1 25.2 3 23.6 .6 4.1 .6 2.7 .6 1 .6-1 .6-2.6 1.8-12.6 1.3-6.9 .6-2.6 1.2-3.8 .6-1.1 .6-.4 .6 .5 2.4 4.6 1.8 2.9 1.3 1.3 .6 .3 .6 0 .6-.4 3-3.8 3.1-3.2 .6-.5 .6-.2 1.8 .3 6.7 2.2 1.2 .3 1.2 .1 1.8-.2 4.9-1 4.2-.3 3.7-.2 1.8 .3 4.2 1.5 1.2 .1 1.3 0 6-1 7.3-.9 6.1-1.2 2.4-.2 2.4 .3 7.9 2.5 2.4 .5 1.9-.1 3.6-.8 1.2-.1 2.4 .1 7.3 1 1.8 .1 1.3-1 1.2-.7 .6-.9 .6-2 1.2-5.9 .6-1.6 .6 .7 .6 2.7 1.8 9.4 .7 4.3 .6 6.8 1.8 29.5 .6 3.4 .6-3.5 .6-9 1.2-21.7 1.8-28.7 1.2-25.4 .7-7.5 .6 .9 .6 8.8 1.2 24.5 .6 8.5 .6 5.3 2.4 15 .6 .9 .6-2 1.3-7.3 .6-2.6 .6-1.1 .6-.1 .6 .2 .6 .3 2.4 2 .6 0 3.7-3.5 1.8-3.4 1.2-3.2"/><path d="M43.4 335.9l2.5-.8 1.8-.1 7.9 2.1 1.8 .3 1.2 0 2.4-.2 3.7-.5 6.7-1.9 1.2-.1 .6 0 1.2 .5 2.4 1.3 4.3 1.9 1.8 .2 1.2-.3 1.2-.4 .6-.9 1.2-2.3 .6-.6 .7-1.1 .6-2 1.2-7.2 1.8-14.2 .6-3.3 .6-1.5 .6 .7 .6 2.6 .6 4.2 5.5 45.5 .6 4.4 .6 3 .6 1 .6-1 .6-2.9 1.8-13.6 1.3-7.5 .6-2.7 1.2-3.9 .6-1.1 .6-.4 .6 .4 2.4 4.4 1.8 2.6 1.3 1.3 .6 .2 .6 0 .6-.3 3-3.6 2.4-2.4 1.3-1 .6-.2 1.8 .3 6.7 2.1 2.4 .4 1.8-.2 4.9-.9 7.9-.5 1.8 .3 4.2 1.3 1.2 .2 1.3-.1 6-.9 7.3-.8 6.1-1.2 2.4-.2 2.4 .3 7.9 2.4 2.4 .4 1.9 0 3-.7 1.8-.2 2.4 .1 7.3 1 1.8 0 2.5-1.6 .6-1 .6-1.9 1.2-6 .6-1.7 .6 .8 .6 2.7 1.8 9.7 .7 4.5 .6 7.3 1.8 31.6 .6 3.8 .6-3.8 .6-9.6 1.2-23.3 1.2-19.5 1.8-39.8 .7-8.3 .6 1 .6 9.7 1.2 27 .6 9.3 .6 5.9 2.4 16 .6 1 .6-2.1 1.3-7.8 .6-2.7 .6-1.3 .6-.4 .6 .1 .6 .3 2.4 1.9 .6 0 3.1-2.8 1.2-1.6 1.2-2.5 1.2-3.5"/><path d="M43.4 335.9l2.5-.8 1.8-.1 7.9 2.1 1.8 .3 1.2 0 2.4-.2 3.7-.5 6.7-1.9 1.2-.1 .6 0 1.2 .5 2.4 1.3 4.3 1.9 1.8 .2 1.2-.3 1.2-.4 .6-.9 1.2-2.2 .6-.5 .7-.9 .6-1.8 1.2-6.5 1.8-12.7 .6-2.9 .6-1.3 .6 .6 .6 2.3 6.1 43.5 .6 3.6 .6 2.6 .6 .9 .6-.9 .6-2.5 2.5-15 1.2-5.3 1.2-3.8 .6-1.1 .6-.4 .6 .5 1.8 3.2 1.2 1.5 1.9 1.5 1.2 .6 .6-.1 1.2-.5 1.8-1.5 1.8-1.1 1.9-1.5 .6-.4 .6-.1 1.8 .2 7.3 2 1.8 .2 1.8-.2 4.9-.8 7.9-.4 1.8 .2 4.2 1.2 2.5 .1 6-.8 7.3-.7 6.1-1.1 2.4-.1 2.4 .3 7.9 2 2.4 .4 1.9 0 3-.6 1.8-.2 11.5 1 2.5-1.5 .6-.9 .6-1.9 1.2-5.7 .6-1.6 .6 .7 2.4 11.3 .7 3.5 .6 5.5 1.8 23.8 .6 2.8 .6-2.8 .6-7.3 3-40.7 1.2-20.7 .7-6.1 .6 .7 .6 7.2 1.2 19.9 .6 6.9 .6 4.4 2.4 12.3 .6 .8 .6-1.6 1.3-6.1 .6-2.1 .6-.5 4.2 3.9 .6 0 2.4-2.4 1.3-1.4 3-5.2"/><path d="M43.4 335.9l2.5-.7 1.8-.1 7.9 1.9 1.8 .3 1.2 0 6.1-.6 6.7-1.7 1.2-.2 .6 .1 1.2 .4 2.4 1.2 4.3 1.8 1.8 .1 1.8-.4 .6-.2 1.8-2.7 .6-.3 .7-.6 .6-1.3 1.2-4.6 1.8-9.2 .6-2.1 .6-.9 .6 .4 .6 1.7 6.1 31.6 .6 2.8 .6 1.8 .6 .7 .6-.6 .6-1.8 2.5-11.2 1.2-4.1 1.2-3.1 .6-1 .6-.3 .6 .4 1.8 2.8 .6 .6 1.8 1.3 1.3 .5 .6 .1 .6 0 1.2-.4 5.5-2.6 1.2-.3 1.8 .1 7.3 1.3 1.8 .1 6.7-.6 7.9-.3 1.8 .2 4.2 .8 2.5 0 13.3-1 6.1-.6 2.4-.1 2.4 .2 7.9 1.2 2.4 .3 1.9 0 4.8-.5 11.5 .6 2.5-1.1 .6-.9 .6-1.8 1.2-5.5 .6-1.5 .6 .6 3.1 13.4 .6 4.2 1.8 18.4 .6 2.2 .6-2.2 .6-5.6 3-31.5 1.2-16 .7-4.7 .6 .5 .6 5.6 1.2 15.4 .6 5.4 .6 3.4 2.4 9.8 .6 .6 .6-1.3 1.3-4.9 .6-1.7 .6-.8 .6-.1 .6 .1 .6 .3 2.4 1.9 .6 0 3.1-2.8 1.2-1.6 1.2-2.5 1.2-3.6"/><path d="M43.4 335.9l2.5-.7 1.8 0 7.9 1.8 3 .3 6.1-.6 6.7-1.7 1.2-.1 1.8 .4 2.4 1.2 4.3 1.7 1.8 .1 1.2-.2 1.2-.4 1.8-2.6 .6-.4 .7-.8 .6-1.4 1.2-5.3 1.8-10.4 .6-2.4 .6-1.1 .6 .5 .6 1.9 6.1 35.9 .6 3.1 .6 2.1 .6 .7 .6-.7 .6-2 2.5-12.6 1.2-4.6 1.2-3.4 .6-1 .6-.3 .6 .4 1.8 2.9 .6 .7 1.8 1.3 1.3 .5 .6 .1 .6 0 1.2-.4 5.5-2.7 1.2-.4 1.8 .2 7.3 1.3 1.8 .1 6.7-.6 7.9-.3 1.8 .2 4.2 .8 2.5 0 13.3-1 6.1-.7 2.4-.1 2.4 .2 7.9 1.4 2.4 .2 1.9 0 4.8-.5 11.5 .7 2.5-1.2 .6-.9 .6-1.9 1.2-5.8 .6-1.6 .6 .7 .6 2.6 1.8 9 .7 3.8 .6 6.1 1.8 26 .6 3.1 .6-3.1 .6-7.9 3-44.8 1.2-22.6 .7-6.7 .6 .8 .6 7.8 1.2 21.9 .6 7.6 .6 4.7 2.4 13.4 .6 .8 .6-1.7 1.3-6.6 .6-2.3 .6-1.1 .6-.3 .6 .1 .6 .3 1.2 1 1.2 .8 .6 0 3.1-2.8 1.2-1.6 1.2-2.5 1.2-3.6"/><path d="M43.4 335.9l2.5-.8 1.8-.1 7.9 2.1 1.8 .3 1.2 0 2.4-.2 3.7-.5 6.7-1.9 1.2-.2 .6 .1 1.2 .4 2.4 1.4 4.3 1.9 1.8 .2 1.2-.2 1.2-.5 1.8-3 .6-.4 .7-.7 .6-1.5 1.2-5.4 1.8-10.7 .6-2.5 .6-1.1 .6 .5 .6 2 .6 3.2 5.5 34.5 .6 3.3 .6 2.3 .6 .8 .6-.8 .6-2.2 2.5-13.6 1.2-4.9 1.2-3.5 .6-1.1 .6-.3 .6 .4 1.8 3 .6 .8 1.8 1.5 1.3 .6 .6 .2 .6-.1 1.2-.4 3.6-2.1 1.9-1.7 .6-.5 .6-.1 1.8 .2 7.3 2.5 1.8 .2 1.8-.1 4.9-1.1 4.2-.3 3.7-.2 1.8 .3 4.2 1.5 1.2 .1 1.3 0 6-1 7.3-.9 6.1-1.2 2.4-.3 2.4 .4 7.9 2.5 2.4 .5 1.9-.1 3-.7 1.8-.2 2.4 .1 7.3 1 1.8 .1 1.3-1 1.2-.7 .6-.9 .6-1.9 1.2-5.7 .6-1.6 .6 .7 2.4 11.3 .7 3.5 .6 5.5 1.8 23.6 .6 2.8 .6-2.8 .6-7.2 3-40.7 1.2-20.8 .7-6.1 .6 .7 .6 7.2 1.2 20 .6 7 .6 4.4 2.4 12.3 .6 .7 .6-1.6 1.3-6.1 .6-2 .6-.4 1.2 1.4 3 2.9 .6 0 2.4-2.4 1.3-1.5 1.2-2.1 1.8-2.7"/><path d="M43.4 335.9l2.5-.7 1.8-.1 7.9 1.9 1.8 .3 1.2 0 6.1-.6 6.7-1.7 1.2-.2 .6 .1 1.2 .4 2.4 1.2 4.3 1.7 1.8 .2 1.8-.4 .6-.2 1.8-2.7 .6-.3 .7-.6 .6-1.2 1.2-4.6 1.8-9.2 .6-2.1 .6-.9 .6 .4 .6 1.7 6.1 30.9 .6 2.6 .6 1.8 .6 .6 .6-.6 .6-1.7 2.5-10.7 1.2-4.1 1.2-3.4 .6-1.1 .6-.3 .6 .4 1.8 3.2 .6 .7 .6 .4 1.2 .6 1.9 .5 1.2-.1 3.6-1.2 .6-.2 1.9-1.2 1.2-.5 1.8 .2 7.3 1.8 1.8 .2 1.8-.1 4.9-.8 7.9-.3 1.8 .2 4.2 1.1 2.5 0 6-.7 7.3-.6 6.1-1 2.4-.1 2.4 .2 7.9 1.9 2.4 .3 1.9 0 3-.6 1.8-.1 11.5 .9 2.5-1.4 .6-.9 .6-1.8 1.2-5.6 .6-1.6 .6 .7 3.1 14 .6 4.8 1.8 20.7 .6 2.4 .6-2.4 .6-6.3 3-35.6 1.2-18.1 .7-5.3 .6 .6 .6 6.3 1.2 17.4 .6 6.1 .6 3.8 2.4 10.9 .6 .7 .6-1.4 1.3-5.5 .6-1.8 .6-.7 .6 .1 1.2 .7 2.4 2 .6 0 3.7-3.6 1.8-3.3 1.2-3"/><path d="M43.4 335.7l1.3-.7 1.2-.4 1.8-.1 7.9 2.8 1.8 .4 1.2 0 2.4-.3 3.7-.7 6.7-2.4 1.2-.2 .6 .1 1.2 .5 2.4 1.8 4.3 2.5 1.2 .3 1.8-.4 1.2-.6 1.8-3.5 1.3-.8 .6-1.2 1.2-4.9 1.8-9.7 .6-2.2 .6-1 .6 .4 .6 1.8 .6 2.9 5.5 31 .6 2.9 .6 2.1 .6 .7 .6-.7 .6-2 2.5-12.1 1.2-4.5 1.2-3.4 .6-1 .6-.3 .6 .4 1.8 2.8 .6 .7 1.8 1.1 1.9 .6 1.2-.2 3.6-1.4 .6-.2 1.9-1.6 .6-.4 .6-.2 1.8 .3 7.3 2.4 1.8 .2 1.8-.2 4.9-1 4.2-.3 3.7-.2 1.8 .3 4.2 1.5 1.2 .1 1.3 0 6-1 7.3-.9 6.1-1.2 2.4-.2 2.4 .3 7.9 2.5 2.4 .5 1.9-.1 3.6-.8 1.2-.1 2.4 .1 7.3 1 1.8 .1 1.3-1 1.2-.7 .6-.9 .6-1.8 1.2-5.5 .6-1.5 .6 .7 3.1 13.1 .6 4.2 1.8 17.7 .6 2.1 .6-2.1 .6-5.4 3-30.6 1.2-15.6 .7-4.6 .6 .6 .6 5.4 1.2 15 .6 5.3 .6 3.3 2.4 9.6 .6 .5 .6-1.2 1.3-4.8 .6-1.6 .6-.1 1.2 1.5 2.4 2.4 .6 .5 .6 0 2.4-2.4 1.3-1.4 1.2-2.1 1.8-2.7"/><path d="M43.4 335.7l1.3-.6 1.2-.5 1.8 0 7.9 2.7 1.8 .3 1.2 .1 2.4-.3 3.7-.7 6.7-2.4 1.2-.2 .6 .1 1.2 .6 2.4 1.7 4.3 2.5 .6 .2 1.2 0 1.8-.5 .6-.4 1.8-3.5 1.3-.8 .6-1.2 1.2-4.9 1.8-9.7 .6-2.2 .6-1 .6 .5 .6 1.8 .6 2.8 5.5 30.9 .6 2.9 .6 2.1 .6 .7 .6-.7 .6-2 2.5-12.1 1.2-4.5 1.2-3.6 .6-1.1 .6-.4 .6 .5 1.8 3 .6 .7 .6 .4 1.2 .5 1.9 .3 1.2 0 3.6-1 2.5-1 1.2-.3 1.8 .2 7.3 1.2 1.8 .1 6.7-.6 7.9-.2 1.8 .1 4.2 .7 2.5 .1 13.3-.9 6.1-.7 2.4-.1 2.4 .2 7.9 1.2 2.4 .3 1.9 0 4.8-.5 11.5 .6 2.5-1.1 .6-.9 .6-1.8 1.2-5.6 .6-1.6 .6 .7 3.1 13.9 .6 4.7 1.8 20.3 .6 2.4 .6-2.4 .6-6.2 3-34.9 1.2-17.8 .7-5.3 .6 .6 .6 6.2 1.2 17.2 .6 5.9 .6 3.8 2.4 10.8 .6 .6 .6-1.4 1.3-5.3 .6-1.9 .6-.9 .6-.2 .6 0 .6 .3 1.2 1 1.2 .8 .6 0 3.1-2.8 1.2-1.5 1.2-2.6 1.2-3.7"/></g></g>
<rect x="32.3" y="247" width="229.9" height="170.3" fill="none" stroke="#3a3a3a" stroke-width="0.75"/>
<path d="M48.3 417.3v2.2M96.85 417.3v2.2M145.4 417.3v2.2M193.95 417.3v2.2M242.5 417.3v2.2M32.3 270.16h-2.2M32.3 303.32h-2.2M32.3 336.48h-2.2M32.3 369.64h-2.2M32.3 402.8h-2.2" stroke="#222" stroke-width="0.65" fill="none"/>
<rect x="35.2" y="249.7" width="48.3" height="21.6" rx="1" fill="#fff" fill-opacity="0.8" stroke="#d4d4d4" stroke-width="0.5"/>
<path d="M37.7 255.45h13.4" stroke="#ff0000" stroke-opacity="0.5" stroke-width="1.0"/>
<path d="M37.7 265.05h13.4" stroke="#0000ff" stroke-opacity="0.5" stroke-width="1.0"/>
<g class="t"><text x="48.3" y="426.7" text-anchor="middle">200</text><text x="96.85" y="426.7" text-anchor="middle">400</text><text x="145.4" y="426.7" text-anchor="middle">600</text><text x="193.95" y="426.7" text-anchor="middle">800</text><text x="242.5" y="426.7" text-anchor="middle">1000</text><text x="27.6" y="272.76" text-anchor="end">4</text><text x="27.6" y="305.92" text-anchor="end">2</text><text x="27.6" y="339.08" text-anchor="end">0</text><text x="27.6" y="372.24" text-anchor="end">−2</text><text x="27.6" y="405.4" text-anchor="end">−4</text><text x="147.25" y="436" text-anchor="middle">wavelength</text><text transform="translate(13.6 332.15) rotate(-90)" text-anchor="middle" font-size="6.55">second derivative of absorption spectrum</text><text x="56.2" y="257.7">Chaohu</text><text x="56.2" y="267.3">Taihu</text></g></g>
<g><g fill="none" stroke-width="0.9" stroke-opacity="0.68" stroke-linejoin="round"><g stroke="#ff0000"><path d="M324 259.2l1.9 0 .6 1.4 7.3 52.1 1.2 7.9 1.8 10.4 2.4 12.2 1.8 8 4.9 19.1 1.8 6.5 1.8 5.1 2.4 5.5 1.9 3.3 1.8 2.4 3 2.7 3 1.8 4.3 1.6 3 .7 .6-.2 .6-.9 1.2-3.6 .6-2.8 1.3-7.8 1.2-12.6 1.2-15.4 3.6-54.7 1.8-23.6 .6-6.1 1.3-8.5 .6-2.3 .6-1.3 12.7-.8 1.8 0 .6 .1 3.7 1.8 7.2 4.7 3.1 1.7 4.8 2.4 6.1 2.5 9.7 3.7 7.9 1.8 3 1 11.5 4.5 5.5 1.3 3 .3 2.4-.2 3.7-.6 3-.9 7.9-3.5 3-1.7 3-2 3.7-2.8 3.6-3 2.4-2.3 1.9-2 1.8-2.7 1.2-2.6 1.2-3.5 .6-.4 .6 .8 .6 2.1 2.4 30.1 3.1 42 .6-.6 4.2-46.5 2.4-24.8 .7-.8 12.7 0"/><path d="M324 259.2l1.3 0 .6 2.5 7.9 57.1 1.2 7.3 1.8 9.7 1.8 8.4 1.8 7.5 4.9 17.7 1.8 6 1.8 4.6 2.4 4.7 2.5 3.8 1.8 2.1 3 2.6 3 2 2.5 1.1 1.8 .7 1.8 .4 1.2 .1 .6-.1 .6-.9 .6-1.2 .6-1.6 .6-2.6 1.3-7.4 1.2-11.9 1.2-14.5 3.6-51.6 1.8-22.3 .6-5.8 1.3-8 .6-2.2 .6-1.2 .6-.1 1.2-.7 4.2-1.7 3.7-2.4 3-1.8 1.2-.3 1.2 .2 3.7 1.8 7.2 4.8 3.7 2.1 4.2 2 15.2 6.9 3 1 6.7 1.2 3 .8 4.3 1.4 4.8 2 2.4 .8 4.9 1.1 3 .1 2.4-.3 3.7-.7 3-1.1 5.5-2.5 3-1.6 3.6-2.1 3.7-2.5 5.4-4.4 1.8-1.7 1.9-2.1 1.2-1.7 .6-1.1 1.2-2.7 1.2-3.6 .6-.4 .6 .8 .6 2.1 2.4 30 3.1 41.7 .6-1.9 4.8-68.7 .6-1.7 14.6 0"/><path d="M324 259.2l7.3 .1 6.7 40.9 4.8 26.7 6.1 30.1 1.2 5 1.2 4 1.9 5.1 1.8 4.1 2.4 4.6 4.2 6.9 2.5 3.5 1.8 2.1 2.4 1.9 .6 .4 .6 .1 .6-.8 1.2-3.3 .6-2.5 1.3-7.1 .6-5 1.8-20 3.6-49 1.8-21.1 .6-5.5 1.3-7.7 .6-2 .6-1.2 .6-.1 1.2-1 4.2-2.5 3.7-3.7 3-2.5 .6-.3 1.2-.1 1.2 .4 3.1 1.6 9.1 6.6 5.4 3.4 5.5 2.8 9.7 4.3 3.6 1.2 7.3 1.3 3.6 .9 3.7 1.2 5.4 2.4 4.9 1.5 3 .5 2.4 0 6.1-1 2.4-.8 3.6-1.5 4.3-2.1 2.4-1.6 2.4-1.8 6.7-6 2.4-2.5 1.8-2.2 1.3-1.7 1.2-2.2 1.2-3 1.2-3.7 .6-.4 .6 .8 .6 2 2.4 28.9 3.1 40.2 .6-.2 6-56.3 1.3-10.4 .6-2.7 12.1 0"/><path d="M324 259.2l4.3 0 .6 .2 7.3 47.4 3 17 2.4 12.2 1.8 8.3 3.7 15.2 1.8 6.6 1.8 4.9 2.5 5.2 2.4 4.2 2.4 3.5 3.6 4.7 2.5 2.5 1.2 1 1.8 1.3 1.8 .9 .6 .1 .6-.8 .6-1.3 .6-1.5 .6-2.3 1.3-6.8 .6-4.9 1.8-19.2 3.6-47.3 1.2-14 1.2-11.6 1.3-7.4 .6-2 .6-1.1 .6-.2 1.2-1.4 3-2.5 1.2-1.1 1.2-1.6 2.5-3.8 3-3.7 .6-.5 .6-.2 1.2 .2 1.2 .6 3.1 1.8 8.5 6.2 4.2 2.6 6.1 3.1 10.3 4.8 3.6 1.2 6.7 1.3 3 .8 4.9 1.7 4.2 1.9 1.8 .7 4.9 1.2 3 .3 2.4-.3 3.7-.6 1.8-.5 1.8-.7 4.8-2.3 3.1-1.6 3.6-2.3 3-2.2 6.1-5.2 2.4-2.5 1.9-2.3 1.2-1.9 .6-1.2 1.2-2.9 1.2-3.8 .6-.4 .6 .8 .6 2 2.4 27.2 3.1 37.8 .6-2.7 3-47.2 1.2-15.6 15.8 0"/><path d="M324 259.2l4.9 0 .6 1.5 7.3 47.5 3.6 21 2.4 12.4 3.1 13.7 1.8 7.8 1.8 6.4 1.8 4.8 2.5 5.2 2.4 4.3 3 4.4 3 4 2.5 2.6 1.2 1 1.8 1.2 1.2 .7 .6 .1 .6-.9 .6-1.3 .6-1.6 .6-2.4 1.3-7.2 .6-5.2 1.8-20.3 3.6-49.9 1.2-14.8 1.2-12.3 1.3-7.8 .6-2 .6-1.2 .6-.2 1.2-1 4.2-2.9 3.7-4.2 2.4-2.4 1.2-.8 .6-.2 .6 .1 1.2 .3 3.1 1.6 8.5 5.4 4.2 2.3 6.7 3.1 10.3 4 3.6 1 9.1 1.6 5.5 1.5 6 2.3 4.9 1.1 3 .3 7.3-.8 4.2-1 3-.9 2.5-1 2.4-1.2 2.4-1.6 3.1-2.2 4.2-3.5 2.4-2.2 2.4-2.5 1.3-1.5 1.2-1.9 1.2-2.7 1.2-3.5 .6-.4 .6 .8 .6 2 2.4 28.7 3.1 39.9 .6-1.5 3.6-46.6 1.8-21 14.6 0"/><path d="M324 259.2l.7 2.1 7.8 57.8 2.5 14.3 1.8 9.1 2.4 10.4 4.9 17.4 1.8 6 1.8 4.9 1.8 3.5 2.4 3.8 2.5 3 3 2.5 1.8 1.2 1.8 .9 4.3 1.5 3.6 .8 .6-.1 .6-.8 1.2-3.5 .6-2.6 1.3-7.6 1.2-12 1.2-14.7 3.6-52.2 1.8-22.6 .6-5.8 1.3-8.2 .6-2.1 .6-1.3 6-2 3.7-2 3-1.4 1.2-.3 1.2 .2 3.7 1.6 8.5 5.3 3.6 2 4.2 2.1 3.7 1.4 10.9 3.5 8.5 1.8 3 .8 5.5 1.8 6 2.3 5.5 1.2 3 .1 2.4-.3 3.1-.5 1.8-.5 1.8-.7 5.5-2.4 3.6-1.8 3-1.7 3.7-2.4 5.4-4 1.8-1.6 1.9-1.8 1.8-2.5 1.2-2.4 1.2-3.4 .6-.4 .6 .8 .6 2.1 2.4 31.8 3.1 44.3 .6-3.1 3-55.7 .6-10.5 .6-7.4 15.8 0"/><path d="M324 259.2l6.7 0 7.3 45.7 4.2 24.6 1.9 9.6 3.6 17.2 1.8 7.5 1.2 3.9 1.8 4.8 1.9 4 1.8 3.5 2.4 3.8 3.6 5.2 2.5 2.9 1.2 1.2 1.8 1.5 1.2 .8 .6 .2 .6-.8 1.2-3.3 .6-2.5 1.3-7.3 .6-5.2 1.8-20.6 3.6-50.5 1.8-21.8 .6-5.7 1.3-7.9 .6-2 .6-1.2 .6-.2 1.2-.7 4.2-1.8 3.7-2.7 3-1.9 .6-.2 1.2 0 1.2 .3 2.5 1.3 8.4 5.5 3.7 2 19.4 9.1 1.8 .6 1.8 .3 6.7 .6 3.6 .7 3.1 .8 5.4 2.2 4.9 1.5 3 .6 2.4 0 4.9-.7 3.6-1.2 7.3-3.3 3-1.8 3-2.1 6.7-5.3 2.4-2.3 1.9-2 1.8-2.7 1.2-2.6 1.2-3.5 .6-.4 .6 .8 .6 1.9 2.4 26.5 3.1 36.9 .6-.8 3.6-37.9 2.4-23.6 .6-1.5 13.4 0"/><path d="M324 259.2l6.1 0 .6 1.9 7.3 46.1 3.6 20.8 2.5 12.4 3 13.7 1.8 7.5 1.2 4 1.8 4.7 2.5 5.2 2.4 4.4 4.2 6.7 2.5 3.4 1.8 2.1 2.4 1.9 1.2 .7 .6 .1 .6-.9 1.2-3.3 .6-2.5 1.3-7.2 .6-5.2 1.8-20.5 3.6-50.2 1.8-21.6 .6-5.6 1.3-7.9 .6-2 .6-1.2 .6-.2 1.2-.6 4.2-1.8 3.7-2.7 3-1.9 .6-.2 1.2 0 1.2 .2 3.1 1.2 8.5 4.4 5.4 2.4 6.7 2.6 10.3 3.6 3.6 .8 6.1 .6 3.6 .5 3.7 .8 5.4 1.5 4.9 .9 3 .3 2.4-.1 6.7-.7 6-1.5 4.3-1.6 4.8-2.5 6.7-4.3 2.4-1.9 1.9-1.6 1.8-2.2 1.2-2.2 1.2-3.2 .6-.4 .6 .8 .6 2 2.4 29.4 3.1 40.8 .6-1.2 4.8-58.1 .6-6.8 .6-4.6 14 0"/><path d="M324 259.2l4.9 36.2 3 23.8 2.5 15.5 1.8 9.7 2.4 11.2 1.8 7.1 4.9 17.4 1.8 5.3 1.2 2.6 3 4.9 1.2 1.6 1.9 2 4.2 3.5 3 1.9 1.9 .7 1.8 .6 3.6 .5 .6-.2 .6-.9 1.2-4 .6-2.7 1.3-8.1 1.2-12.7 1.2-15.6 3.6-55.5 1.8-24 .6-6.2 1.3-8.7 .6-2.3 .6-1.3 6-.8 6.7-1.4 1.2-.1 1.2 .2 3.7 1.5 7.2 4 3.7 1.8 19.4 7.6 3 .9 6.7 1 3 .6 4.3 1.1 4.8 1.6 1.8 .5 4.9 .8 3 .1 6.7-.7 3.6-.7 6.1-1.9 2.4-1 2.4-1.3 3-2 5.5-4.1 2.4-1.9 2.5-2.2 1.8-2.3 1.2-2.3 1.2-3.2 .6-.4 .6 .8 .6 2.1 2.4 29.7 3.1 41.4 .6-.7 5.4-61.1 .6-6.3 .6-3.6 13.4 0"/><path d="M324 259.2l5.5 0 .6 .7 7.3 46.1 4.2 24.3 2.5 12.1 3 13.5 1.8 7.3 1.2 3.9 1.8 4.6 2.5 5.1 2.4 4.3 4.2 6.4 2.5 3.2 1.8 1.9 2.4 1.9 1.2 .8 .6 .1 .6-.8 .6-2.4 .6-1.6 .6-2.5 1.3-7.3 .6-5.3 1.8-20.7 3.6-50.9 1.8-22 .6-5.7 1.3-7.9 .6-2.1 .6-1.2 6-2.1 3.7-2 3-1.4 .6-.2 1.2 0 1.2 .3 3.1 1.2 7.2 4 3.7 1.7 5.4 2.1 5.5 1.8 9.1 2.7 10.9 2.1 10.9 3.4 5.5 .7 3.6 0 6.7-.8 3.6-1 4.9-1.7 3.6-1.5 4.8-2.2 4.3-2.2 2.4-1.5 1.8-1.3 1.8-1.5 1.3-1.2 1.2-1.6 1.2-2.3 1.2-3.2 .6-.4 .6 .8 .6 2 2.4 28.9 3.1 40.2 .6-1.3 5.4-67.3 .6-1 14 0"/><path d="M324 259.2l4.9 0 7.3 47 3 17.2 2.4 12.3 1.8 8.3 4.3 18.3 1.8 6.5 1.8 5 1.9 4.2 1.8 3.3 1.8 2.6 3.6 4 3.1 2.8 3.6 2.7 1.8 .9 .6 .1 .6-.8 .6-.5 .6-1.6 .6-2.5 1.3-7.3 .6-5.3 1.8-20.6 3.6-50.7 1.8-21.8 .6-5.6 1.3-8 .6-2.1 .6-1.2 .6-.1 1.2-.6 4.2-1.8 3.7-2.6 3-1.8 1.2-.3 1.2 .2 3.7 2 8.5 6.2 3.6 2.4 4.2 2.4 4.9 2.3 7.3 3 3 1.1 2.4 .6 6.7 1.4 3 .9 4.3 1.6 5.4 2.6 4.3 1.5 3 .8 2.4 .1 2.4-.3 3.1-.7 3-1.2 5.5-2.9 3-1.8 3-2 3.7-2.8 6-5.4 1.8-1.9 1.9-2.3 1.2-1.8 .6-1.2 1.2-3 1.2-3.7 .6-.4 .6 .8 .6 1.9 2.4 26.4 3.1 36.5 .6-1.4 4.2-50.8 .6-6.7 .6-4.4 14.6 0"/><path d="M324 259.2l3.7 0 .6 1.7 7.3 49.3 2.4 13.9 2.4 12.3 1.8 8.2 4.9 20.2 1.2 4.6 1.2 3.8 1.8 4.7 1.9 4 1.2 2.2 1.8 2.6 3 3.2 3 2.7 4.9 3.2 1.8 .9 .6 .1 1.2-1.4 .6-1.7 .6-2.6 1.3-7.6 .6-5.4 1.8-21.3 3.6-52.4 1.8-22.6 .6-5.8 1.3-8.2 .6-2.2 .6-1.2 6-1.9 3.7-1.8 3-1.3 1.8-.1 1.2 .2 3.1 .8 7.2 2.7 3.7 1.2 4.8 1.3 4.9 1.1 10.3 1.9 10.3 1.4 11.5 2.5 5.5 .5 4.2 0 7.3-.6 6.6-1.3 5.5-1.4 5.5-2.1 6-2.7 3.7-2.2 1.2-1 .6-.8 .6-.8 1.2-2.7 .6-.4 .6 .8 .6 2 2.4 27.8 3.1 38.7 .6-.6 4.2-43.4 2.4-23 13.4 0"/><path d="M324 259.2l6.1 0 .6 1.3 7.3 44.7 4.2 24.5 1.9 9.3 3 13.8 1.8 7.6 1.2 4.1 1.8 4.8 1.9 4.1 1.8 3.5 2.4 3.9 3.6 5.3 2.5 3.1 3 3 1.8 1.4 .6 .2 .6-.6 1.2-3 .6-2.3 1.3-6.9 .6-4.8 1.8-19.3 3.6-47.2 1.2-14.1 1.2-11.6 1.3-7.4 .6-1.9 .6-1.1 .6-.3 1.2-1.3 4.2-3.5 1.2-1.5 2.5-3.6 3-3.6 .6-.4 .6-.2 1.8 .3 3.1 1 8.5 3.6 4.2 1.5 6.1 1.8 11.5 3.2 3.6 .6 8.5 1.1 5.5 1.1 6.6 1.7 4.9 .8 3 .2 6.7-.6 6.6-1.5 5.5-1.8 5.5-2.4 6-3.3 2.4-1.6 1.9-1.5 1.2-1.3 .6-.9 .6-1 1.2-2.9 .6-.4 .6 .8 .6 2.1 2.4 31.2 3.1 43.5 .6-3.3 3.6-65.9 .6-6.1 15.8 0"/><path d="M324 259.2l4.9 0 .6 .2 7.3 48 3 17.4 2.4 12.6 1.9 8.3 3.6 15.4 1.8 6.2 1.8 4.6 3.1 6.1 2.4 4.1 4.2 6.3 2.5 3 1.8 1.9 2.4 1.7 1.2 .6 .6 0 .6-.8 .6-.4 .6-1.6 .6-2.6 1.3-7.5 .6-5.3 1.8-21.2 3.6-51.9 1.8-22.4 .6-5.8 1.3-8.1 .6-2.2 .6-1.2 6-1.9 3.7-1.9 3-1.3 1.2-.3 1.2 .2 3.7 1.8 7.2 4.9 3.1 1.8 5.4 2.8 5.5 2.4 9.7 3.8 6.6 1.7 3.1 1 9.7 4.2 2.4 .9 1.8 .4 3.1 .5 3.6 .2 6.7-1 3-.9 7.9-3.6 3-1.7 3-2 6.7-5.3 2.4-2.2 1.8-2 1.3-1.5 1.2-2 1.2-2.7 1.2-3.6 .6-.4 .6 .8 .6 2 2.4 27.6 3.1 38.5 .6-.7 4.8-49.6 1.8-16.3 13.4 0"/><path d="M324 259.2l1.9 0 .6 .8 7.3 52.7 1.2 8.1 1.8 10.6 2.4 12.6 1.8 8.3 4.3 17 1.8 6.4 1.8 5 1.8 3.7 2.5 4.1 2.4 3.3 4.2 4.8 3 2.8 1.9 1.2 1.2 .5 1.8 .6 1.2 .3 .6-.1 .6-1 1.2-3.9 .6-2.7 1.3-7.8 1.2-12.4 1.2-15.3 3.6-54.1 1.8-23.4 .6-6.1 1.3-8.4 .6-2.3 .6-1.2 6-1.5 3.7-1.4 3-1 1.2-.2 1.2 .2 3.7 1.4 7.8 4.1 3.1 1.5 4.2 1.7 4.3 1.6 10.9 3 10.9 2.2 12.7 4.1 5.5 1.2 3 .1 2.4-.2 3.1-.5 3-1 11.5-4.9 3-1.6 3.7-2.1 4.8-3.2 3.1-2.7 1.2-1.5 1.2-2.2 1.2-3.1 .6-.4 .6 .8 .6 2.1 2.4 31.5 3.1 43.8 .6-.6 4.2-48.2 2.4-25.7 .7-1.4 12.7 0"/><path d="M324 259.2l4.9 0 .6 3.2 7.3 46.4 3.6 20.5 1.8 9.2 1.9 8.2 3 12.8 1.8 6.6 1.2 3.4 2.4 5.3 2.5 4.5 2.4 3.7 4.2 5.8 2.5 2.8 3 2.6 1.8 1.3 .6 .2 .6-.8 1.2-3.6 .6-2.6 1.3-7.4 .6-5.4 1.8-21.1 3.6-51.9 1.8-22.3 .6-5.8 1.3-8.1 .6-2.2 .6-1.2 6-1.4 3.7-1.5 3-1 1.2-.2 1.2 .2 3.7 2 7.8 5.7 3.1 2 4.2 2.5 4.3 2.1 3.6 1.4 7.3 2.4 8.5 2.2 2.4 .7 6.1 2.4 4.8 2.2 1.8 .7 4.9 1.1 3 .2 2.4-.2 3.7-.8 1.8-.5 1.8-.8 5.5-2.7 3.6-2 3.6-2.3 3.7-2.7 4.8-4 1.8-1.9 1.9-2.2 1.2-1.8 .6-1.2 1.2-2.9 1.2-3.7 .6-.4 .6 .8 .6 2.1 2.4 30 3.1 41.9 .6-.5 5.4-57.2 1.2-11.8 .7-3 12.7 0"/><path d="M324 259.2l1.3 0 .6 3.2 7.2 52.4 1.9 11.4 1.8 9.9 1.8 8.8 1.8 7.9 4.3 16 1.8 6 1.2 3.3 1.8 3.7 2.4 3.8 3.1 3.8 3.6 3.3 3 2.2 3.7 1.9 3.6 1.3 .6 0 .6-.8 1.2-3.3 .6-2.6 1.3-7.4 1.2-11.7 1.2-14.4 3.6-51.2 1.8-22.1 .6-5.7 1.3-8 .6-2.1 .6-1.3 .6-.1 1.2-.8 4.2-2 3.7-2.9 3-2.1 .6-.3 1.2 0 1.2 .4 3.1 1.6 7.2 5.2 3.7 2.4 4.8 2.6 4.9 2.2 10.3 4.1 7.3 2 3 .9 10.3 4.6 1.8 .7 4.9 1 1.8 .2 1.8 0 2.4-.4 3.7-.8 1.8-.6 1.8-.8 6.1-3.1 3.6-2 4.2-2.7 4.3-3.1 2.4-2 1.8-1.8 1.8-2 1.3-1.7 1.2-2.2 .6-1.4 1.8-5.3 .6-.4 .6 .8 .6 2.1 2.4 30.3 3.1 42.2 .6-.5 4.2-46.7 2.4-24.8 .7-1.1 12.7 0"/><path d="M324 259.2l.7 0 .6 2.3 7.8 55.8 3.1 17 1.8 8.7 1.8 7.6 4.9 17.8 1.8 6.1 1.8 5 2.4 4.9 2.5 3.9 1.8 2.2 2.4 1.9 3 1.8 1.8 .7 6.7 2 .6 0 .6-.8 .6-1.1 .6-1.7 .6-2.5 1.3-7.4 1.2-11.8 1.2-14.4 3.6-51.4 1.8-22.2 .6-5.7 1.3-8 .6-2.1 .6-1.3 .6-.1 1.2-.7 4.2-1.7 3.7-2.6 3-1.9 .6-.2 1.2 0 1.2 .2 3.1 1 8.5 3.5 4.8 1.7 6.1 1.8 10.9 2.9 3.6 .7 9.1 1 4.9 .9 5.4 1.3 3.6 .6 3.7 .3 3.6-.1 5.5-.6 7.9-2 6-2.1 6.1-2.7 4.8-2.7 1.9-1.3 1.2-1 1.8-2.5 1.2-2.9 .6-.4 .6 .8 .6 2 2.4 28.1 3.1 39 .6-.2 4.2-40.4 3.1-26.8 .6-.2 12.1 0"/><path d="M324 259.2l3.7 0 .6 2.1 7.3 48.6 3 17.5 2.4 12.4 1.8 8.2 3.7 15.2 1.2 4.6 1.2 3.9 1.8 4.6 1.8 3.9 1.9 3.2 2.4 3.3 3 3.3 3 2.6 3.1 1.9 1.8 .8 1.2 .3 .6-.1 1.2-1.9 .6-1.5 1.2-5.7 1.3-8.8 1.8-19.9 3.6-48.9 1.2-14.5 1.2-12 1.3-7.6 .6-2 .6-1.2 .6-.2 1.2-1.1 4.2-3 3.7-4.4 3-3.1 .6-.3 .6-.2 .6 .1 1.2 .4 3.1 1.6 8.5 6 4.2 2.5 6.1 3.1 10.3 4.4 3.6 1.3 6.1 1.3 3 .9 5.5 2.1 4.8 2.2 1.8 .7 4.9 1.2 3 .3 1.8-.1 3.1-.5 1.8-.4 1.8-.5 7.3-3.4 3-1.7 2.4-1.7 3-2.5 5.5-5.1 3-3.1 1.9-2 1.8-2.8 1.2-2.7 1.2-3.5 .6-.4 .6 .8 .6 2 2.4 27.2 3.1 37.9 .6-2.1 3.6-50.8 .6-7.9 .6-4.8 15.2 0"/><path d="M324 259.2l1.9 0 7.9 56.6 3 18.4 2.4 12.8 1.8 8.4 3.1 12.4 2.4 8.7 1.2 3.5 1.8 3.9 3 4.7 3.1 3.8 3 2.9 3 2.3 3.1 1.6 4.2 1.8 .6 .1 .6-.8 1.2-3.5 .6-2.7 1.3-7.9 .6-5.6 1.8-22.3 3.6-54.5 1.8-23.6 .6-6.1 1.3-8.5 .6-2.3 .6-1.2 6-1.1 6.7-1.6 1.2-.2 1.2 .2 3.7 2 7.2 5.2 3.7 2.3 4.8 2.6 14.6 7 1.8 .7 1.8 .5 7.3 1 3.6 .8 3.1 .9 5.4 2.5 4.9 1.8 2.4 .6 2.4 .1 2.4-.3 2.5-.6 3-1.2 11.5-6.7 3.6-2.5 3.7-2.8 4.2-3.8 1.8-2 1.3-1.6 1.2-2.1 .6-1.4 1.8-5.1 .6-.4 .6 .8 .6 2.1 2.4 30.5 3.1 42.5 .6-.1 6-59.9 1.3-11 .6-2.6 12.1 0"/><path d="M324 259.2l3.7 0 7.9 52.4 2.4 13.9 2.4 12.4 1.8 8.1 3.7 14.6 2.4 8.2 1.2 3.1 2.4 4.8 2.5 4 2.4 3.2 3.6 4 2.4 2.3 3.1 2 1.8 .9 1.2 .3 .6 0 .6-.9 1.2-3 .6-2.5 1.3-7.6 1.2-12 1.2-14.7 3.6-52.2 1.8-22.6 .6-5.8 1.3-8.2 .6-2.1 .6-1.3 6-.4 6.7-.8 2.4 0 3.7 1.1 10.9 4.1 4.2 1.3 4.3 1.2 11.5 2.2 10.9 1.5 12.7 2.9 4.9 .8 3 .1 5.5-.4 3.6-.8 10.3-3.2 3.6-1.4 4.3-1.9 4.8-2.4 3.1-2.1 1.8-2.2 1.2-2.8 .6-.4 .6 .8 .6 2 2.4 28.3 3.1 39.3 .6-.4 5.4-53.5 1.2-11 .7-3.2 12.7 0"/><path d="M324 259.2l9.8 0 .6 2.7 7.8 41.2 6.7 35.6 2.4 11.1 1.9 5.8 1.8 4.7 2.4 5.1 4.2 7.9 2.5 4.3 1.8 2.6 1.8 1.9 1.2 1 .6 .3 .6-.7 1.2-2.9 .6-2.2 1.3-6.4 .6-4.6 1.8-18.1 3.6-44.5 1.2-13.3 1.2-10.9 1.3-7 .6-1.8 .6-1 .6-.2 1.2-1 4.2-2.6 3.7-3.8 2.4-2.3 1.2-.7 .6-.2 .6 .1 1.2 .4 3.1 1.8 8.5 6.4 4.8 3.2 6.1 3.2 9.1 4.1 4.2 1.5 6.7 1.5 3 .9 5.5 2.2 5.4 2.7 4.3 1.5 2.4 .6 2.4 .2 2.4-.3 3.1-.6 1.2-.4 1.8-.8 6.1-3.5 3.6-2.2 3-2.1 3.1-2.4 3.6-3.2 2.4-2.4 1.8-2 1.9-2.3 1.2-1.9 .6-1.2 1.2-3.1 1.2-3.8 .6-.4 .6 .8 .6 2 2.4 28.8 3.1 40 .6-.3 4.2-40.8 3.1-27.3 .6-.9 12.1 0"/><path d="M324 259.2l6.1 0 .6 3.2 6.7 42.9 3.6 20.7 2.4 12.5 3.7 16.5 1.8 7.4 1.2 4 1.8 4.7 2.5 5.2 2.4 4.4 4.8 8.1 1.9 2.6 1.8 2 1.8 1.4 1.8 .7 .6 0 .6-1 1.2-3.2 .6-2.6 1.3-7.6 1.2-12.2 1.2-14.8 3.6-52.9 1.8-22.8 .6-5.9 1.3-8.2 .6-2.2 .6-1.3 6-.6 6.7-.9 1.2-.1 1.2 .2 3.7 1.5 7.8 4.3 3.7 1.8 5.4 2.3 5.5 1.9 9.1 2.9 8.5 1.5 3 .7 4.9 1.4 6 2.1 4.9 1 3 .3 2.4-.2 3.1-.5 1.8-.3 1.8-.6 6.1-2.4 3.6-1.6 3-1.5 3.7-2.1 5.4-3.6 1.8-1.5 1.9-1.7 1.8-2.3 1.2-2.3 1.2-3.2 .6-.4 .6 .8 .6 2 2.4 28.8 3.1 40.1 .6-2 3-43.6 1.8-23.8 15.2 0"/><path d="M324 259.2l6.7 0 .6 2.9 6.7 41.3 3 16.6 3.1 15.2 3 13.7 1.8 7.5 1.2 4.2 1.8 4.8 1.9 4.1 2.4 4.6 2.4 3.9 3.6 5.4 2.5 3.1 1.2 1.2 1.8 1.6 1.2 .8 .6 .2 .6-.7 .6-1 .6-1.5 .6-2.3 1.3-6.8 .6-4.9 1.8-19.1 3.6-47 1.2-13.9 1.2-11.6 1.3-7.3 .6-2 .6-1.1 .6-.2 1.2-1 4.2-2.9 3.7-4.3 3-3 .6-.3 1.2-.1 1.8 .7 2.5 1.3 9.1 6.6 5.4 3.5 5.5 2.8 9.1 4 2.4 .9 1.8 .5 6.7 1.3 2.4 .6 5.5 1.8 6 2.6 4.9 1.4 1.8 .3 1.2 .1 2.4-.2 3.7-.7 3-1 7.9-4.1 3-1.9 3-2.1 6.7-5.7 2.4-2.4 1.8-2.1 1.3-1.6 1.2-2.1 1.2-2.8 1.2-3.7 .6-.4 .6 .8 .6 2.1 2.4 32 3.1 44.7 .6-.7 4.2-50.2 2.4-26.4 13.4 0"/><path d="M324 259.2l8.5 0 .6 .7 12.2 67.1 3.6 18.4 1.8 7.9 1.2 4 1.9 5 1.8 4.2 1.8 3.5 4.8 8.4 2.5 3.8 2.4 3.1 1.8 1.8 .6 .3 .6-.7 .6-1.1 .6-1.6 .6-2.4 1.3-7.1 .6-5.1 1.8-20.1 3.6-49.3 1.8-21.3 .6-5.5 1.3-7.7 .6-2.1 .6-1.1 6-1.1 6.7-1.8 1.2-.2 1.2 .2 3.7 1.8 7.8 5.2 3.7 2.1 5.4 2.6 12.8 5.6 3.6 1.2 6.7 1.1 3 .7 4.9 1.6 5.4 2.4 4.9 1.8 2.4 .6 2.4 .1 2.4-.3 2.5-.5 3-1.1 10.9-6 3-2 3.7-2.6 4.2-3.5 1.8-1.8 1.9-2 1.2-1.7 .6-1.1 1.2-2.7 1.2-3.6 .6-.4 .6 .8 .6 1.9 2.4 26.6 3.1 37 .6-1.7 4.8-60.2 .6-2.1 14.6 0"/><path d="M324 259.2l.7 .4 7.8 58.5 2.5 14.7 1.8 9.2 2.4 10.5 6.1 21.6 1.8 5.3 1.2 2.7 3 5 1.2 1.7 1.9 2 4.2 3.7 3 2.1 1.9 .9 1.8 .6 3 .4 .6 0 .6-.2 .6-1 1.2-3.4 .6-2.7 1.3-7.8 1.2-12.6 1.2-15.3 3.6-54.5 1.8-23.5 .6-6.1 1.3-8.6 .6-2.2 .6-1.3 13.9-.1 1.2 .1 3.7 1.1 7.2 2.9 4.3 1.4 7.3 2 10.3 2.5 4.2 .8 7.3 .6 3.6 .5 3.7 .6 5.4 1.3 4.9 1 2.4 .3 2.4 .1 6.1-.6 6.6-1.6 6.7-2.1 6.1-2.5 5.4-2.7 1.8-1.2 1.9-1.3 1.8-2.3 1.2-2.8 .6-.4 .6 .8 .6 1.9 2.4 26.5 3.1 36.7 .6-2.1 4.2-57.2 .6-4.3 15.2 0"/><path d="M324 259.2l3.7 0 .6 .8 7.3 48.4 3.6 21.2 1.8 9.4 1.8 8.4 3.7 14.9 1.8 6.2 1.8 4.6 1.8 3.6 2.5 4.1 2.4 3.5 3.6 4.3 3.1 2.9 2.4 1.8 1.8 .9 1.2 .4 .6 0 .6-.9 1.2-3.1 .6-2.6 1.3-7.5 1.2-11.9 1.2-14.6 3.6-51.9 1.8-22.4 .6-5.8 1.3-8.1 .6-2.2 .6-1.2 6-1.1 6.7-1.9 1.2-.2 1.2 .2 3.7 1.9 7.8 5.5 3.7 2.2 4.8 2.4 14 6.6 1.8 .7 1.8 .4 7.3 1.1 3.6 .8 3.7 1.2 5.4 2.5 4.9 1.9 2.4 .6 1.8 0 1.8-.1 1.9-.4 1.8-.6 1.8-.8 13.3-8.1 3.1-2.1 3.6-2.7 3.6-3.2 1.8-1.9 1.3-1.6 1.2-2 .6-1.4 1.8-5 .6-.4 .6 .8 .6 2.2 2.4 32.5 3.1 45.3 .6-2.8 4.2-73.8 .6-1.9 15.2 0"/><path d="M324 259.2l1.9 0 .6 1.1 7.3 53.4 2.4 15.1 1.8 9.6 2.4 11.1 5.5 21.5 1.8 6.4 1.8 5 2.4 5.4 1.9 3.2 1.8 2.4 3 2.8 3 2 4.3 1.8 3 .8 .6-.1 .6-.9 1.2-2.8 1.2-5.9 1.3-9.2 1.8-20.8 3.6-50.9 1.2-15.1 1.2-12.6 1.3-7.9 .6-2.1 .6-1.2 .6-.2 1.2-1.1 4.2-3 3.7-4.3 2.4-2.4 1.2-.9 .6-.2 .6 .1 1.2 .4 3.1 1.7 8.5 6.3 4.2 2.7 6.1 3.2 10.9 5.2 3.6 1.2 7.3 1.3 3.6 .9 4.3 1.6 4.8 2.4 4.9 2 2.4 .7 2.4 .2 2.4-.3 2.5-.6 1.2-.4 1.8-.9 10.9-6.8 3-2.2 3.1-2.4 4.8-4.4 1.8-1.9 1.9-2.2 1.2-1.9 .6-1.1 1.2-3 1.2-3.7 .6-.4 .6 .8 .6 1.9 2.4 26.5 3.1 36.7 .6-1.8 4.8-61.6 .6-.2 14.6 0"/><path d="M324 259.2l7.3 0 .6 1.5 6.7 40.3 4.8 26.7 4.9 23.7 1.8 7.5 1.2 3.8 1.9 4.7 1.8 4.1 1.8 3.5 3 4.8 3 4.5 2.5 3.1 2.4 2.2 1.2 .8 .6 .2 .6-.7 .6 .1 .6-1.4 1.2-5.5 1.3-8.5 1.8-19.1 3.6-47 1.2-14 1.2-11.5 1.3-7.4 .6-1.9 .6-1.1 .6-.2 1.2-1.2 4.2-3.3 1.2-1.4 2.5-3.4 3-3.3 .6-.4 .6-.2 .6 .1 1.2 .4 3.1 1.8 7.8 6 4.3 2.8 6.7 3.5 9.7 4.2 4.2 1.6 7.9 1.5 3 .9 4.9 1.8 4.8 2.5 4.9 2 2.4 .8 2.4 .2 1.8-.2 3.7-.8 3-1.2 7.9-4.3 3-2.1 3-2.4 6.7-6.2 2.4-2.6 1.9-2.3 1.2-1.9 .6-1.2 1.2-3 1.2-3.8 .6-.4 .6 .8 .6 2.1 2.4 31.3 3.1 43.5 .6-1.4 5.4-71.9 .6-2.1 14 0"/><path d="M324 259.2l10.4 0 .6 2.7 3 16.3 8.5 46.7 3 14.7 1.8 7.7 1.9 5.5 2.4 5.9 2.4 5 4.2 7.9 1.9 3.2 1.8 2.6 2.4 2.6 1.2 .8 1.2-1.6 .6-1.5 .6-2.3 1.3-6.9 .6-5 1.8-19.4 3.6-47.8 1.8-20.6 .6-5.3 1.3-7.5 .6-2 .6-1.1 12.7-.5 1.8 0 .6 .1 3.7 1.7 7.8 4.8 3.1 1.7 4.8 2.4 4.3 1.7 10.9 3.7 2.4 .6 6.7 1.2 3 .8 4.9 1.7 5.4 2.2 3.6 1.1 3.1 .8 2.4 .1 2.4-.2 3.1-.5 3-.9 8.5-3.9 3-1.7 2.4-1.6 7.3-5.5 2.4-2.2 1.9-1.8 1.8-2.5 1.2-2.4 1.2-3.4 .6-.4 .6 .8 .6 2.2 2.4 32.2 3.1 45.1 .6-1.9 4.2-63.3 .6-8.3 .6-4.5 14.6 0"/><path d="M324 259.2l17 0 .6 2.5 9.7 67.3 2.5 14.9 1.2 6.4 1.2 4.8 1.8 6 1.8 5.1 3.7 9.2 1.8 4.2 1.2 2.4 1.8 2.8 1.2 1.3 .6-.6 .6-2.4 .6-1.5 .6-2.2 1.3-6.4 .6-4.6 1.8-18.2 3.6-44.7 1.2-13.3 1.2-11 1.3-7 .6-1.8 .6-1.1 .6-.2 1.2-1 4.2-3 3.7-4.3 3-3.1 .6-.3 1.2-.1 1.8 .6 3.1 1.7 8.5 5.7 4.8 2.8 5.5 2.6 9.1 3.6 4.2 1.4 6.7 1.3 3 .8 5.5 2 5.4 2.3 3.6 1.1 3.1 .7 2.4 .1 6.1-.8 3.6-1.2 4.2-1.7 3.1-1.5 3-1.8 2.4-1.7 6.7-5.6 2.4-2.4 1.8-2 1.3-1.6 1.2-2 1.2-2.8 1.2-3.6 .6-.4 .6 .8 .6 2.1 2.4 31.1 3.1 43.3 .6-.4 5.4-58.9 1.2-12.1 .7-3.6 12.7 0"/><path d="M324 259.2l.7 .5 7.8 58.3 2.5 14.7 1.8 9.4 2.4 10.8 4.9 18 1.8 6.2 1.8 5.2 1.8 3.7 2.4 4.2 2.5 3.1 1.2 1.2 2.4 2 3 2 1.8 .8 2.5 .8 1.2 .3 1.8 .1 .6 0 .6-.2 .6-1 1.2-3.2 .6-2.7 1.3-7.7 1.2-12.2 1.2-15 3.6-53.3 1.8-23 .6-6 1.3-8.3 .6-2.2 .6-1.3 6-1.8 3.7-1.9 3-1.2 1.2-.3 1.2 .2 3.7 2 7.2 5.3 4.3 2.7 4.8 2.6 14 6.8 3 1.2 6.7 1.5 3 1 4.9 1.8 5.4 2.6 4.3 1.5 3 .7 2.4 0 4.9-.8 3-1.1 7.9-4.4 3-2 3-2.4 7.3-6.7 2.4-2.5 1.9-2.3 1.2-1.8 .6-1.2 1.2-2.9 1.2-3.7 .6-.4 .6 .8 .6 2.1 2.4 31.8 3.1 44.2 .6-3.3 3.6-66.7 .6-6.6 15.8 0"/><path d="M324 259.2l.7 2.3 7.8 59.1 2.5 14.4 1.8 8.9 1.8 7.5 7.3 24.9 1.8 5 1.8 3.6 2.4 4.1 2.5 3.1 1.2 1.2 2.4 1.9 3 1.9 1.8 .8 2.5 .8 3 .3 .6 0 .6-.2 .6-.9 1.2-3 .6-2.5 1.3-7.4 1.2-11.7 1.2-14.3 3.6-50.9 1.8-22 .6-5.7 1.3-7.9 .6-2.1 .6-1.2 .6-.2 1.2-.9 4.2-2.4 3.7-3.6 3-2.5 .6-.2 1.2-.1 1.2 .3 3.1 1.5 9.1 5.7 5.4 3 5.5 2.3 7.9 2.9 4.8 1.4 7.9 1 3.6 .7 3.7 1.1 6 2.3 4.9 1.3 2.4 .4 3-.1 3.7-.6 1.8-.5 6.6-2.9 6.7-3.5 3-1.8 3.7-2.5 4.2-3.3 3.1-3.1 1.2-1.8 1.2-2.4 1.2-3.4 .6-.4 .6 .8 .6 2.1 2.4 30.3 3.1 42.3 .6-.8 5.4-63 .6-6.4 .6-3 13.4 0"/><path d="M324 259.2l6.7 0 .6 .6 7.3 43.1 4.8 27.2 4.9 23.2 1.2 5 1.2 4.1 1.2 3.4 1.9 4.4 1.8 3.6 1.8 3.1 4.2 6 3.1 3.8 3 3 1.2 .9 .6 .3 1.2-1.5 .6-1.6 .6-2.5 1.3-7.3 .6-5.3 1.8-20.6 3.6-50.7 1.8-21.9 .6-5.7 1.3-7.9 .6-2.1 .6-1.2 6-1.2 6.7-2 1.2-.2 1.2 .2 3.7 1.8 7.8 5.3 4.9 2.7 6.1 2.9 9.7 3.9 4.2 1.4 7.3 1.4 3 .7 4.9 1.7 5.4 2.2 3 .9 3.7 .8 2.4 0 2.4-.2 3.1-.6 1.8-.5 1.8-.7 5.5-2.5 3.6-1.9 3-1.8 3.7-2.5 5.4-4.3 1.8-1.8 1.9-2 1.2-1.7 .6-1 1.2-2.8 1.2-3.5 .6-.4 .6 .8 .6 2 2.4 28 3.1 38.9 .6-.5 4.2-43.1 2.4-23 .7-.8 12.7 0"/><path d="M324 259.2l5.5 0 .6 .8 7.3 45.5 4.2 24.1 2.5 12.3 3 13.8 1.8 7.4 1.2 4 1.8 4.7 2.5 5.2 2.4 4.4 4.2 6.6 2.5 3.3 1.8 1.9 2.4 1.9 1.2 .7 .6 .1 1.2-1.9 .6-1.6 .6-2.7 1.3-7.6 .6-5.5 1.8-21.7 3.6-53.1 1.8-22.9 .6-5.9 1.3-8.4 .6-2.1 .6-1.3 6-.7 6.7-1.2 2.4 0 3.7 1.1 7.2 2.8 3.7 1.2 7.2 1.9 11 2.5 3.6 .7 9.1 1.2 11.5 2.4 5.5 .6 3 .1 7.3-.7 6.6-1.3 5.5-1.6 6.1-2.3 6-2.8 3.7-2.3 1.2-1.1 .6-.8 .6-.9 1.2-2.7 .6-.4 .6 .8 .6 2 2.4 28.8 3.1 40.1 .6-.3 4.2-41.3 3.1-27.5 .6-.3 12.1 0"/><path d="M324 259.2l.7 0 7.8 57.7 1.3 7.8 1.8 10 1.8 8.6 1.8 7.5 5.5 19.2 1.8 5.9 1.8 4.8 2.4 4.8 2.5 3.8 1.8 2.1 3 2.3 3 1.4 4.9 1.2 3 .3 .6-.2 .6-.9 .6-.4 .6-1.6 1.2-5.6 1.3-8.8 1.8-19.8 3.6-48.5 1.2-14.4 1.2-11.9 1.3-7.6 .6-2 .6-1.2 .6-.2 1.2-1.3 3-2.4 1.2-1.2 1.2-1.5 2.5-3.6 3-3.7 .6-.4 .6-.2 .6 .1 1.2 .4 3.1 1.6 8.5 5.9 4.8 2.9 6.1 3 10.3 4.4 3.6 1.2 7.3 1.1 3 .7 4.3 1.4 5.4 2.4 4.9 1.8 2.4 .7 2.4 .1 2.4-.3 2.5-.5 1.8-.6 1.8-.9 6.1-3.2 4.2-2.5 3.6-2.4 3.7-2.7 4.2-3.7 1.8-1.9 1.9-2.3 1.2-2.1 .6-1.4 1.8-5.1 .6-.4 .6 .8 .6 2.2 2.4 32.4 3.1 45.2 .6-.8 4.8-59.3 1.2-13.9 .6-4.3 13.4 0"/><path d="M324 259.2l.7 2 7.2 54.3 1.2 8.3 1.9 10.6 1.8 9.4 2.4 10.8 6.1 22.3 1.8 5.5 1.2 2.8 3 5.4 2.5 3.3 1.2 1.2 2.4 2.1 3.6 2.8 1.8 1 1.9 .7 1.2 .3 1.8 .2 1.2-.1 .6-.2 .6-1 .6-1.5 .6-1.7 .6-2.7 1.3-7.8 1.2-12.4 1.2-15.2 3.6-54 1.8-23.2 .6-6.1 1.3-8.4 .6-2.2 .6-1.3 6-1.8 3.7-1.9 3-1.3 1.2-.2 1.2 .2 3.7 1.7 9.1 5.9 3.6 2.2 3.6 1.9 4.3 1.8 10.9 3.5 3 .7 6.1 1 3.6 .9 3.7 1.2 5.4 2.2 4.9 1.5 2.4 .5 2.4 .1 2.4-.3 3.1-.6 3-1.1 5.5-2.5 3.6-1.8 3-1.8 3.7-2.5 5.4-4.2 1.8-1.7 1.9-1.9 1.8-2.7 1.2-2.6 1.2-3.5 .6-.4 .6 .8 .6 2 2.4 27.8 3.1 38.6 .6-2.2 4.2-60.5 .6-4.2 15.2 0"/></g><g stroke="#0000ff"><path d="M324 259.2l7.3 0 .6 2.4 7.3 43.1 4.2 22.7 1.9 8.8 3 13.4 1.2 4.7 1.2 3.8 1.8 4.6 2.5 5.2 2.4 4.5 3.6 6 2.5 3.7 1.8 2.3 2.4 2.5 1.2 1.1 .6 .3 1.2-1.1 .6-1.4 .6-2.3 1.3-6.4 .6-4.6 1.8-18.2 3.6-44.6 1.2-13.3 1.2-11 1.3-7 .6-1.8 .6-1 .6-.3 1.2-1.5 3-2.7 1.2-1.3 1.2-1.7 2.5-4.1 2.4-3.4 1.2-1.2 .6-.2 1.2 .2 2.4 .9 1.9 .9 9.1 5.1 4.8 2.4 5.5 2.2 9.1 3.1 2.4 .7 2.4 .4 6.7 .7 3 .5 4.3 .9 5.4 1.8 3.6 .9 3.1 .6 2.4 .1 6.1-.6 4.2-1.1 3.6-1.1 3.1-1.1 2.4-1.2 3-1.7 7.3-5 2.4-2 1.9-1.7 1.8-2.3 1.2-2.3 1.2-3.2 .6-.4 .6 .8 .6 2.1 2.4 31.8 3.1 44.3 .6-.3 4.8-52.3 2.5-24.1 12.7 0"/><path d="M324 260l4.9 35.4 3 23.3 1.2 8 1.3 6.9 1.8 8.9 1.8 7.7 1.8 6.5 5.5 18 1.8 5.4 1.8 4.1 2.4 4.6 1.2 1.9 1.3 1.6 1.2 1.2 1.2 .9 1.8 1.2 1.8 .9 1.8 .7 1.9 .4 2.4 .5 1.2 0 1.8-.1 .6-.3 .6-1.1 .6-.7 .6-1.7 .6-2.7 1.3-7.8 1.2-12.5 1.2-15.2 3.6-54.3 1.8-23.3 .6-6.1 1.3-8.5 .6-2.2 .6-1.3 12.7-1 2.4 .1 3.7 1.4 8.5 4.5 4.2 1.9 6.1 2.3 10.9 3.8 3.6 .9 6.7 .9 3 .5 4.9 1.2 6.6 2.2 4.9 1 3 .2 2.4-.2 2.5-.3 1.8-.5 1.8-.6 11.5-4.9 3.6-1.9 3.7-2.1 4.2-2.8 3.1-2.7 1.2-1.5 1.2-2.2 1.2-3.2 .6-.4 .6 .8 .6 2.1 2.4 31.5 3.1 43.9 .6-.5 6-66.7 .6-6.1 .7-2.7 12.7 0"/><path d="M324 259.2l4.9 0 1.8 10.9 5.5 35 3 16.8 2.4 12 1.8 8 3.7 14.7 1.8 6.2 1.2 3.2 2.4 5 1.9 3.2 2.4 3.5 3.6 4.3 3.1 3.1 1.8 1.5 1.8 1.2 1.8 .9 .6 0 .6-.8 .6-.5 .6-1.7 .6-2.6 1.3-7.6 .6-5.5 1.8-21.5 3.6-52.8 1.8-22.8 .6-5.8 1.3-8.3 .6-2.2 .6-1.2 .6 .3 1.2 2 .6 .3 1.8 .6 4.9 .6 6.6 .1 8.5 1.5 3.1 .2 6.6 0 8.5-.4 3.6-.5 11.6-2 1.8-.2 1.8 .1 2.4 .8 5.5 2.9 4.2 3 1.8 1.1 1.3 .5 1.2 .2 1.2-.3 1.2-.7 8.5-6.8 1.2-.5 2.4 0 4.3 .8 1.8 .5 1.2 .5 6.1 3.9 3.6 2.8 1.2 .5 .6 .1 2.4-.3 1.2-.4 .7-.5 2.4-4.1 1.8-4.7 .6-.4 .6 .8 .6 2.1 2.4 30.9 3.1 43 .6 0 4.8-47.2 3.1-27.3 12.1 0"/><path d="M324 259.2l21.9 0 .6 3.7 7.9 64.3 1.8 13.4 1.2 7.7 1.2 5.6 1.8 6.7 4.3 12.3 1.2 3.2 1.2 2.7 1.2 2.1 .6 .8 .6 .6 .6-.7 .6-1.4 .6-1.6 .6-2.5 1.3-7.2 .6-5.2 1.8-20.3 3.6-49.9 1.8-21.5 .6-5.6 1.3-7.8 .6-2 .6-1.2 .6 .3 1.2 2 .6 .3 1.2 .4 4.3 .7 6.6 .2 1.2 .3 3.1 1.4 7.2 4.3 4.3 2.2 6.6 2.8 11.6 4.3 3.6 1 6.7 1.1 3.6 .8 4.3 1.3 5.4 2.1 4.3 1.4 2.4 .7 2.4 .2 2.4-.1 3.1-.4 3-.8 7.9-3.3 3-1.6 2.4-1.5 3.7-2.6 4.2-3.3 2.4-2.2 1.9-1.8 1.8-2.5 1.2-2.4 1.2-3.4 .6-.4 .6 .8 .6 2 2.4 28.4 3.1 39.6 .6-.3 4.2-41 3.1-27.2 12.7 0"/><path d="M324 259.2l1.3 0 .6 3.2 7.2 52.1 1.3 7.7 1.8 9.9 1.8 8.8 1.8 7.8 4.9 17.8 1.8 5.9 1.8 4.7 1.8 3.4 2.4 3.7 2.5 2.9 4.2 4 3 2.3 3.1 1.4 1.2 .3 1.8 .2 .6 0 .6-.3 .6-1 1.2-3.6 .6-2.7 1.3-7.9 1.2-12.5 1.2-15.3 3.6-54.6 1.8-23.5 .6-6.1 1.3-8.5 .6-2.3 .6-1.3 .6 .3 1.2 1.8 1.8 .7 4.9 .7 6 .1 1.2 .1 3.1 .9 7.8 2.7 4.3 1.2 6 1.5 9.8 2.1 4.8 .8 10.3 1 4.9 .8 6 1.2 4.9 .6 3 .2 6.7-.4 4.2-.6 6.7-1.3 4.8-1.6 8.5-3.9 4.3-2.3 1.2-.9 1.2-1.5 1.2-2.6 .6-.4 .6 .8 .6 2.3 2.4 35.7 3.1 49.9 .6-3.5 3-62.4 .6-11.8 .6-8.7 15.8 0"/><path d="M324 259.2l4.9 0 .6 1.6 7.3 47.7 3 17.2 3.6 18 4.3 18.4 1.8 6.5 1.8 4.8 1.9 4.1 1.8 3.4 1.8 2.8 3.6 4.8 3.1 3.4 1.8 1.7 1.8 1.4 1.8 1.2 .6 .2 .6-.7 1.2-3.8 .6-2.6 1.3-7.7 .6-5.5 1.8-21.7 3.6-53.3 1.8-22.9 .6-6 1.3-8.3 .6-2.2 .6-1.3 6-.4 6.7-.7 2.4 0 3.7 1 10.9 3.7 4.8 1.3 4.3 1 11.5 1.9 11.5 1.3 4.9 .9 5.4 1.2 4.3 .7 3 .4 2.4 0 6.1-.5 7.2-1.6 6.1-1.7 6.7-2.6 4.8-2.1 1.8-1 1.9-1.2 1.8-2.1 1.2-2.6 .6-.4 .6 .8 .6 2.3 2.4 35.6 3.1 49.8 .6-.1 5.4-62.1 1.9-19.4 .6-4.6 12.1 0"/><path d="M324 259.2l6.1 0 .6 .9 7.3 41.5 4.2 22.4 1.9 8.7 3.6 16.1 1.8 7.1 1.2 3.6 1.8 4.6 1.9 3.8 2.4 4.1 2.4 3.5 3 3.9 2.5 2.7 1.2 1 1.8 1.3 1.2 .6 .6 .1 .6-.9 .6-.5 .6-1.6 .6-2.6 1.3-7.4 .6-5.4 1.8-21 3.6-51.6 1.8-22.2 .6-5.8 1.3-8 .6-2.2 .6-1.2 .6 .4 1.2 2.3 1.2 .7 1.8 .6 4.3 .5 5.4 .1 1.2 .1 3.1 .6 9.1 2.5 4.8 1.2 5.5 1 9.1 1.5 4.2 .5 11.5 1 4.3 .6 9.7 1.7 4.2 .4 3.6-.2 3.7-.5 16.3-4.1 6.7-2 3-1.2 2.5-1.4 1.2-1.2 1.2-2.5 .6-.4 .6 .8 .6 2.1 2.4 32.3 3.1 45 .6-.6 6-68.6 .6-6.3 .7-2.4 12.7 0"/><path d="M324 259.2l7.9 58 1.2 8 1.3 6.8 1.8 9.1 2.4 10.4 1.8 6.5 4.9 16.4 1.8 5 1.2 2.6 3 5 2.5 3 1.2 1.1 2.4 1.8 1.8 1.3 1.8 1 3.7 1.2 3 .4 1.2 0 .6-.2 .6-1 1.2-3.5 .6-2.6 1.3-7.5 1.2-11.9 1.2-14.6 3.6-51.9 1.8-22.3 .6-5.8 1.3-8.1 .6-2.2 .6-1.2 6-1.7 3.7-1.7 3-1.2 1.2-.2 1.2 .2 3.7 1.3 7.2 3.7 3.7 1.5 7.2 2.5 9.8 2.9 4.2 1 9.7 1.7 12.7 3.7 4.9 .9 1.8 .2 1.8-.1 4.9-.7 3-.9 13.3-5.4 3.7-1.7 3.6-2 3.6-2.4 2.5-2.3 1.8-2.9 1.2-3.1 .6-.4 .6 .8 .6 2 2.4 27.3 3.1 37.9 .6-.6 4.8-49.7 1.2-11.6 .6-3.8 13.4 0"/><path d="M324 261.1l4.3 29.4 3.6 26.4 2.5 14.1 1.8 8.6 2.4 9.9 6.7 22.1 1.8 4.9 2.4 4.6 1.8 2.9 1.2 1.6 1.3 1.3 1.2 1.1 1.8 1.1 2.4 .8 4.9 .3 4.8 .8 .6-.1 .6-.8 .6 .3 .6-1.6 .6-2.5 1.3-7.4 1.2-11.7 1.2-14.2 3.6-50.9 1.8-21.9 .6-5.7 1.3-8 .6-2.1 .6-1.2 6-1.4 3.7-1.4 3-1 1.2-.2 1.2 .1 3.7 1.2 7.8 3.4 3.7 1.3 18.8 5.8 3.6 .7 7.3 .5 3 .4 3.7 .7 5.4 1.5 4.9 1 3 .4 2.4 0 4.9-.6 3.6-1 10.9-3.8 3.7-1.6 4.2-2 3.6-2.1 1.9-1.3 1.2-1.1 1.8-2.5 1.2-2.9 .6-.4 .6 .8 .6 2 2.4 28.3 3.1 39.3 .6 .2 5.4-45.1 3.1-23.1 11.5-.1"/><path d="M324 259.2l3.7 0 .6 1.6 7.3 45.6 3 16.4 2.4 11.6 1.8 7.6 3.7 13.9 1.8 6 1.8 4.4 1.8 3.5 1.9 2.9 2.4 3.3 3.6 3.8 3 2.7 3.7 2.4 2.4 1.2 .6 .1 1.2-1.3 .6-1.5 .6-2.2 1.3-6.6 .6-4.7 1.8-18.6 3.6-45.7 1.2-13.6 1.2-11.2 1.3-7.1 .6-1.9 .6-1.1 .6-.2 1.2-1 4.2-2.8 3.7-4.1 3-2.9 .6-.3 .6-.2 1.8 .1 2.5 .5 6 1.4 2.4 .5 7.3 .8 5.5 .5 6 .2 12.2-.5 3.6 .1 2.4 .8 5.5 2.8 4.8 3.5 1.2 .7 1.3 .5 1.2 .2 1.8-.4 1.8-.7 3.6-1.8 3.1-2.1 1.8-.9 11.5-.2 9.1 .8 1.8-.1 1.2-.4 2.5-1.2 .6-.6 1.8-3 1.2-3.4 .6-.4 .6 .8 .6 2.2 2.4 32.4 3.1 45.3 .6-.7 4.8-58.4 1.8-19.3 13.4 0"/><path d="M324 259.2l4.3 28.7 3.6 26.3 1.2 7.7 1.3 6.5 1.8 8.7 2.4 9.6 7.3 23.2 1.8 4.6 2.4 4.5 2.4 3.6 1.3 1.4 1.2 1.1 2.4 1.5 2.4 1 9.1 1.9 .6 0 .6-.7 .6-.9 .6-1.5 1.2-5.3 1.3-8.4 1.8-18.7 3.6-46.1 1.2-13.7 1.2-11.3 1.3-7.2 .6-1.9 .6-1.1 .6-.2 1.2-1.2 4.2-3.3 1.2-1.5 2.5-3.3 3-3.4 .6-.4 .6-.2 3 .2 9.1 .7 9.7-.2 7.9-.4 13.4-1.7 3.6-.2 1.8 .2 1.8 .5 5.5 1.9 4.8 2.3 1.9 .5 1.2 .1 1.2-.2 1.2-.5 8.5-4.4 1.2-.4 1.8 0 3.6 .5 3.7 .7 1.8 .7 4.9 2.2 3.6 2 1.2 .4 1.2 .1 2.4-.3 1.3-.4 2.4-2.6 .6-.9 1.2-2.7 .6-.4 .6 .8 .6 2.3 2.4 35.9 3.1 50.2 .6-.4 4.8-59.8 1.8-21.1 .7-5.6 12.7 0"/><path d="M324 259.2l3.7 0 .6 .9 7.3 48.4 2.4 14 2.4 12.3 1.8 8.2 4.3 17.1 1.8 6.2 1.8 4.7 1.8 3.7 1.9 3.1 2.4 3.5 3.6 4.1 3 2.9 1.9 1.4 3 2 1.2 .8 .6 .1 .6-.7 1.2-3.5 .6-2.6 1.3-7.7 .6-5.5 1.8-21.6 3.6-53.2 1.8-22.9 .6-6 1.3-8.3 .6-2.2 .6-1.2 .6 .1 1.2 1.1 .6 .2 6.7 .6 5.4 .1 1.2 .2 3.1 .8 7.8 2.8 3.7 1.2 19.4 4.8 3 .4 7.9 .5 4.2 .5 3.1 .5 9.7 2.2 2.4 .4 1.8 0 4.9-.4 3.6-.8 11.5-3.4 4.3-1.5 4.2-1.8 3.6-1.8 2.5-1.7 1.8-2.2 1.2-2.7 .6-.4 .6 .8 .6 2 2.4 29.4 3.1 40.8 .6-2.1 3.6-54 .6-8.4 .6-6.2 15.2 0"/><path d="M324 260.8l.7 5.6 1.8 24.1 3 33.2 1.2 11.7 1.8 14.5 1.9 12.4 1.2 6.6 1.8 7.4 1.2 3.8 1.2 3.3 4.9 10.5 1.8 3.4 1.8 2.9 3.6 5 .6 .7 1.3 .9 4.2 1.9 3.6 .7 2.5 1.1 1.2 .3 1.8-.4 1.8-.9 1.2-1.4 .6-1.1 1.2-6.6 .6-2.6 .7-4.1 1.2-13.7 1.2-16.6 3.6-59 1.8-25.5 .6-6.5 1.3-9.3 .6-2.4 .6-1.4 2.4-.1 3.6-.3 3.7 .3 4.2 0 1.2 .2 3.7 1.4 7.2 3.7 3.1 1.4 4.8 1.9 5.5 1.8 10.3 2.9 10.3 2.1 12.1 3.7 4.9 .8 3 .2 6.7-.7 3-.7 7.9-2.6 3-1.3 2.4-1.2 7.9-4.9 2.4-1.8 1.9-1.6 1.8-2 1.2-2.1 1.2-3.1 .6-.4 .6 .8 .6 2.3 2.4 37 3.1 51.7 .6-.8 4.2-58 2.4-30.7 13.4 0"/><path d="M324 259.2l6.1 0 6.7 40.8 3.6 19.6 3 14.6 3.7 15.8 1.8 7.1 1.2 3.8 1.8 4.6 2.5 5 2.4 4.3 4.8 7.5 1.9 2.4 1.8 1.9 2.4 1.8 1.2 .6 .6 .1 .6-.8 1.2-3 .6-2.3 1.3-6.7 .6-4.8 1.8-18.8 3.6-46.2 1.2-13.8 1.2-11.3 1.3-7.3 .6-1.9 .6-1 .6-.2 1.2-1.1 4.2-2.9 3.7-4.3 3-3 .6-.3 .6-.2 1.2 .2 1.2 .5 2.5 1.1 7.8 4.8 4.3 2.3 4.2 1.9 14.6 6.3 3 .8 6.1 .8 3 .6 4.9 1.4 5.4 2.1 3.6 1.1 3.1 .7 2.4 .1 2.4-.2 3.1-.5 3-1 6.1-2.9 4.2-2.1 3-1.8 3.7-2.4 4.8-3.7 1.8-1.6 1.9-1.9 1.8-2.5 1.2-2.6 1.2-3.4 .6-.4 .6 .8 .6 2.1 2.4 30.2 3.1 42 .6-.2 4.2-42.4 3.1-28.4 .6-1.8 12.1 0"/><path d="M324 262l7.9 56.9 2.5 14 1.8 8.7 2.4 9.7 6.7 21.8 1.8 5 1.8 3.6 3 4.8 2.5 2.7 2.4 1.7 3 1.4 1.8 .5 4.3 .8 3 .4 .6-.1 .6-.9 .6-.4 .6-1.7 .6-2.7 1.3-7.9 1.2-12.5 1.2-15.3 3.6-54.3 1.8-23.5 .6-6 1.3-8.5 .6-2.3 .6-1.3 .6 .2 1.2 1.4 .6 .2 6.7 .8 5.4 .1 1.2 .1 3.1 .8 8.5 3 3.6 1.1 4.8 1.3 4.9 1.1 9.1 1.8 12.1 1.3 4.9 .8 5.4 1.2 4.3 .8 2.4 .3 2.4 .2 5.5-.5 3.6-.7 10.9-3.1 3.6-1.3 4.9-1.9 4.2-2 2.5-1.6 1.8-2 1.2-2.7 .6-.4 .6 .8 .6 2 2.4 29.1 3.1 40.4 .6 .1 4.8-43 3.1-25.2 .6-1.9 11.5 0"/><path d="M324 260.4l7.9 55.6 2.5 14 1.8 8.8 2.4 10.1 4.8 16.5 2.5 7.8 1.8 4.7 2.4 4.8 2.4 3.9 1.3 1.5 1.2 1.1 2.4 1.5 2.4 .8 9.1 1.4 .6-.2 1.2-1.6 .6-1.7 .6-2.7 1.3-7.9 1.2-12.5 1.2-15.4 3.6-54.5 1.8-23.6 .6-6.1 1.3-8.5 .6-2.2 .6-1.3 .6 .3 1.2 2.4 1.2 .7 1.8 .6 2.4 .3 2.5 .2 4.8 .1 1.2 .3 3.1 1.3 7.8 4.5 3.7 1.8 5.4 2.3 5.5 2 8.5 2.6 3 .6 6.1 .8 3.6 .7 4.3 1.1 5.4 1.9 4.9 1.4 2.4 .6 1.8 .1 2.4-.1 3.7-.3 3-.8 7.3-2.7 3-1.5 2.4-1.4 7.3-5.1 2.4-1.9 2.5-2.3 1.8-2.3 1.2-2.3 1.2-3.3 .6-.4 .6 .8 .6 2 2.4 28.8 3.1 40 .6-3.1 3.6-61.8 .6-4.4 15.8 0"/><path d="M324 259.2l3.1 0 .6 3.4 7.3 49.2 3 17.6 2.4 12.3 1.8 8 3.7 14.5 1.8 6.2 1.8 4.7 2.4 4.7 2.5 3.8 3 3.9 3.6 4.3 2.5 2.2 2.4 1.6 1.8 .7 1.2 .3 .6-.1 .6-.8 1.2-3.1 1.2-5.6 1.3-8.7 1.8-19.6 3.6-48 1.2-14.3 1.2-11.8 1.3-7.5 .6-2 .6-1.1 .6-.3 1.2-1.3 3-2.4 1.2-1.2 1.2-1.6 2.5-3.7 3-3.7 .6-.4 .6-.2 .6 .1 1.2 .3 3.1 1.7 7.2 4.9 3.7 2.1 5.4 2.7 14 6.2 3.6 1.1 7.3 .9 4.2 .9 3.1 1 5.4 2.4 4.9 1.8 2.4 .6 1.8 .1 1.8-.2 3.7-.7 3-1.1 5.5-2.6 3.6-2 3-1.9 3.7-2.6 5.4-4.5 1.8-1.8 1.9-2.1 1.2-1.7 .6-1.1 1.2-2.8 1.2-3.6 .6-.4 .6 .8 .6 2 2.4 27.4 3.1 38.3 .6-.5 6-58 .6-5.3 .7-2.4 12.7 0"/><path d="M324 259.2l2.5 0 .6 .9 7.3 50.5 2.4 14.4 2.4 12.2 1.8 8 4.9 18.9 2.4 8.2 1.2 3.1 2.4 5.1 2.5 4 1.8 2.3 2.4 2.2 3 2.3 6.1 3.3 1.2 .5 .6 .1 .6-.8 1.2-3.4 .6-2.7 1.3-7.9 .6-5.6 1.8-22.3 3.6-54.6 1.8-23.5 .6-6.1 1.3-8.5 .6-2.3 .6-1.3 .6 .3 1.2 1.5 1.2 .4 6.1 .8 5.4 .1 1.2 .3 3.1 1.4 7.8 4.9 3.7 2 5.4 2.6 5.5 2 9.1 2.8 8.5 1.5 3 .8 4.9 1.5 6 2.2 4.9 1.2 3 .3 2.4-.2 3.1-.5 1.8-.4 1.8-.6 5.4-2.3 3.7-1.7 3-1.6 3.7-2.3 6-4.3 1.8-1.5 1.9-1.9 1.8-2.4 1.2-2.5 1.2-3.3 .6-.4 .6 .8 .6 2.1 2.4 30.1 3.1 42 .6-1.6 3.6-48.9 1.8-22.2 14.6 0"/><path d="M324 259.2l6.7 0 .6 .4 7.3 41.4 4.2 22.4 1.9 8.8 3.6 16.2 1.2 4.7 1.2 3.9 1.8 4.7 1.9 3.9 2.4 4.4 2.4 3.7 3 4.2 2.5 2.9 2.4 2.2 1.8 1.1 .6 .2 .6-.8 .6-.4 .6-1.4 .6-2.4 1.3-6.7 .6-4.8 1.8-19 3.6-46.5 1.8-20.1 .6-5.2 1.3-7.3 .6-1.9 .6-1.1 .6-.1 1.2-.7 4.2-1.8 3.7-2.7 3-1.9 .6-.2 1.2 0 1.2 .2 3.1 1.2 8.5 4.4 4.2 2 3.6 1.4 3.1 1.1 3.6 .9 6.7 1.4 11.5 2.1 6.7 1.9 5.4 1.8 4.3 1 3 .5 3-.1 3.7-.4 2.4-.5 6.6-2.3 3.7-1.4 4.2-2 6.7-3.5 3.6-2.5 1.9-1.6 1.2-1.4 1.8-3 1.2-3.2 .6-.4 .6 .8 .6 2.2 2.4 33 3.1 46.1 .6-3.5 3.6-70.3 .6-6 15.8 0"/><path d="M324 259.2l.7 0 .6 1.6 7.8 56.6 3.1 17.7 2.4 12.1 1.8 7.8 3.7 14 2.4 8.4 1.8 4.9 1.8 3.6 2.4 4.1 2.5 3 3.6 3.2 3 1.9 2.5 1 1.8 .6 1.2 .2 1.8 .1 .6-.2 .6-.9 1.2-3.1 .6-2.6 1.3-7.7 1.2-12.3 1.2-14.9 3.6-53.3 1.8-23 .6-5.9 1.3-8.3 .6-2.2 .6-1.3 6-1.8 3.7-1.8 3-1.3 1.2-.2 1.2 .2 3.7 1.2 9.1 4.5 4.8 2.1 4.2 1.5 4.9 1.5 6.1 1.6 3 .7 8.5 1 3.6 .6 3.7 .9 5.4 1.6 4.3 .9 3 .4 2.4 0 6.7-.8 6.6-1.9 3.1-1 3-1.2 5.5-2.7 5.4-3.3 1.8-1.4 1.9-1.6 1.2-1.5 1.2-2.1 1.2-3.1 .6-.4 .6 .8 .6 1.9 2.4 25.6 3.1 35.5 .6 .1 6.6-50.7 1.3-8.6 .6-2.3 11.5 0"/><path d="M324 259.2l6.1 0 .6 2 7.3 44.2 3.6 20 2.5 11.9 3 13.3 1.8 7.1 1.2 3.8 2.4 5.8 2.5 4.8 2.4 4 3.6 5.5 2.5 3.4 1.8 2 2.4 2.1 1.2 .8 .6 .2 .6-.7 1.2-2.9 .6-2.3 1.3-6.7 .6-4.8 1.8-18.9 3.6-46.5 1.2-13.7 1.2-11.5 1.3-7.2 .6-1.9 .6-1.1 .6-.2 1.2-1.2 4.2-3.1 3.7-4.5 3-3.1 .6-.4 1.2-.2 3 .3 8.5 1.1 4.3 0 4.8-.1 8.5-.5 13.4-2 3.6-.3 1.8 .4 1.8 .6 5.5 2.4 4.8 2.9 1.9 .7 1.2 .1 1.2-.3 1.2-.5 8.5-5.6 1.2-.5 1.8 0 3.6 .5 3.7 .9 1.8 .8 4.9 2.7 3.6 2.4 1.2 .5 1.2 0 2.4-.3 .6-.2 .7-.4 2.4-3.4 .6-1.1 1.2-3 .6-.4 .6 .8 .6 2.1 2.4 31.3 3.1 43.5 .6-.8 5.4-64.7 .6-6.6 .6-3.3 13.4 0"/><path d="M324 259.2l7.3 0 .6 1.9 6.7 39.4 4.8 26.5 4.9 23.4 1.8 7.4 1.2 3.8 1.9 4.7 2.4 5.2 1.8 3.4 4.2 7.1 1.9 2.8 1.8 2.3 2.4 2.3 1.2 .9 .6 .2 1.2-1.4 .6-1.5 .6-2.3 1.3-6.6 .6-4.7 1.8-18.7 3.6-45.9 1.2-13.7 1.2-11.2 1.3-7.2 .6-1.9 .6-1.1 .6-.2 1.2-1.4 3-2.5 1.2-1.2 1.2-1.6 2.5-3.8 3-3.7 .6-.5 .6-.2 1.8 .2 3.1 .9 10.9 3.6 6 1.6 4.3 .9 10.3 1.5 10.9 1.2 11.5 2 5.5 .7 3 .1 6.7-.6 7.2-1.5 7.3-1.9 7.3-2.5 3.6-1.6 3.1-1.8 1.8-2.1 1.2-2.6 .6-.4 .6 .8 .6 2.1 2.4 32.3 3.1 44.9 .6-.8 5.4-66.1 .6-6.8 .6-4.1 13.4 0"/><path d="M324 259.2l7.9 0 6.7 39 6.1 33.2 4.8 24.1 1.2 4.8 1.2 3.9 1.9 4.9 1.8 4.1 1.8 3.3 2.4 3.9 3 4.6 2.5 3.2 2.4 2.4 1.2 .9 .6 .2 .6-.8 .6-.4 .6-1.6 .6-2.5 1.3-7.3 .6-5.2 1.8-20.5 3.6-50.4 1.8-21.7 .6-5.6 1.3-7.9 .6-2.1 .6-1.2 6-1.8 3.7-1.9 2.4-1.1 1.8-.5 3.6 .3 9.1 1.7 11.6 .9 7.2 .1 15.2-.5 1.8 .3 1.8 .7 5.5 2.4 4.8 2.9 1.9 .7 1.2 .1 1.8-.2 1.8-.7 3.6-1.5 3.1-1.8 1.8-.7 11.5 0 9.7 .8 1.2-.1 1.2-.2 2.5-1 .6-.5 1.8-2.5 1.2-3.1 .6-.4 .6 .8 .6 1.9 2.4 26.6 3.1 36.9 .6-1.2 5.4-61.7 .6-1 14 0"/><path d="M324 259.2l18.2 0 .6 1.3 8.5 63.4 3.1 20.2 1.2 7 1.2 5.3 1.8 6.4 1.8 5.3 3.1 8 1.8 4.5 1.2 2.5 1.8 2.7 .6 .7 .6 .5 .6-.7 1.2-3.1 .6-2.4 1.3-6.9 .6-4.9 1.8-19.5 3.6-47.9 1.8-20.7 .6-5.3 1.3-7.5 .6-2 .6-1.1 6-2 3.7-2.1 3-1.4 .6-.2 1.2 0 1.2 .2 3.1 1 9.7 4.4 4.8 2 3.6 1.3 4.9 1.3 9.1 2.3 8.5 1 3 .6 4.3 .9 6 1.6 5.5 .8 3.6 .1 6.1-.8 7.2-2.2 7.3-2.7 6.7-3.2 4.2-2.5 1.9-1.4 1.2-1.1 1.8-2.6 1.2-3 .6-.4 .6 .8 .6 2.1 2.4 30.7 3.1 42.8 .6-3.5 3.6-67.9 .6-2.7 15.8 0"/><path d="M324 259.2l2.5 0 .6 3.3 7.3 49.7 2.4 13.9 2.4 12 1.8 8 4.3 16.3 2.4 8.1 1.2 3 2.4 4.7 2.5 3.8 2.4 3.1 3.6 3.9 3 2.6 1.9 1.2 1.8 1 2.4 .9 .6 0 .6-.7 1.2-3 .6-2.4 1.3-7.1 .6-5 1.8-19.9 3.6-48.7 1.2-14.5 1.2-12 1.3-7.6 .6-2 .6-1.2 .6-.2 1.2-1 4.2-2.8 3.7-4.1 2.4-2.3 1.2-.8 .6-.2 1.8 .3 3.1 1.1 8.5 3.8 5.4 2.1 5.5 1.7 9.7 2.6 3.6 .8 9.1 1.4 12.1 3.1 4.9 .8 3 .2 6.1-.6 3.6-.8 8.5-2.7 3.6-1.5 3.7-1.7 6-3.4 1.8-1.3 1.9-1.5 1.2-1.4 .6-.9 .6-1 1.2-3 .6-.4 .6 .8 .6 1.9 2.4 24.9 3.1 34.6 .6-1.4 4.2-48.9 .6-6.5 .6-3.1 14.6 0"/><path d="M324 259.2l3.7 0 .6 1.8 6.7 41.1 3 16.2 2.4 11.1 1.8 7.4 4.9 18.5 1.2 4.2 1.2 3.5 1.8 4.4 1.9 3.6 1.2 2 1.8 2.4 2.4 2.4 3 2.5 7.3 4.6 .6 .2 .6-.6 .6-1.2 .6-1.6 .6-2.5 1.3-7.5 .6-5.3 1.8-21 3.6-51.5 1.8-22.2 .6-5.8 1.3-8.1 .6-2.1 .6-1.2 .6 .4 1.2 2.4 1.2 .8 1.8 .6 2.4 .3 2.5 .2 4.8 .1 1.2 .3 3.1 1.4 8.5 4.9 4.2 2.2 6.1 2.5 9.7 3.6 4.2 1.2 6.7 1.1 3 .7 10.9 3.5 4.3 .7 2.4 .2 1.8-.1 3.6-.4 3.1-.5 1.8-.4 8.5-3.2 3.6-1.7 3-1.7 6.7-4.4 2.4-2 1.9-1.8 1.8-2.4 1.2-2.4 1.2-3.3 .6-.4 .6 .8 .6 1.9 2.4 25.2 3.1 34.9 .6-.6 5.4-52 .6-5.3 .6-2.6 13.4 0"/><path d="M324 259.2l7.3 0 .6 1.9 7.3 41.1 4.2 22.9 1.9 8.7 3 13.2 1.2 4.6 1.2 3.8 1.8 4.4 2.5 5 2.4 4.1 3.6 5.6 2.5 3.5 1.8 2.2 2.4 2.3 1.2 .9 .6 .3 .6-.6 .6-1 .6-1.4 .6-2.3 1.3-6.5 .6-4.7 1.8-18.5 3.6-45.3 1.8-19.5 .6-5.1 1.3-7 .6-1.9 .6-1.1 .6-.2 1.2-.8 4.2-2.4 3.7-3.4 3-2.4 .6-.3 1.2 0 1.2 .2 2.5 .8 9.1 3.8 4.8 1.7 6.1 1.8 9.7 2.4 4.2 .8 9.7 1.2 4.9 1 5.4 1.4 3.6 .6 3.7 .4 3.6-.1 5.5-.8 8.5-2.5 6.6-2.4 6.7-3 3.6-2.1 2.5-1.9 1.8-2.4 1.2-2.9 .6-.4 .6 .8 .6 2.2 2.4 32.3 3.1 45.2 .6-.1 5.4-56.3 1.9-17.6 .6-4.2 12.1 0"/><path d="M324 259.2l6.1 0 .6 .9 6.7 37.8 4.8 24.7 1.9 8.4 3.6 15.4 1.8 6.8 1.2 3.5 1.8 4.4 2.5 4.9 2.4 4.2 4.2 6.5 1.9 2.4 1.8 2 2.4 1.8 1.2 .6 .6 .1 .6-.8 1.2-3.6 .6-2.5 1.3-7 .6-5.1 1.8-19.9 3.6-48.9 1.8-21.1 .6-5.5 1.3-7.6 .6-2.1 .6-1.1 .6 0 1.2 .5 4.2 0 3.7 .3 4.2 0 1.2 .2 3.7 1.6 7.8 4.5 4.9 2.4 6.1 2.4 8.4 2.9 3.1 1 2.4 .6 7.9 1 3.6 .7 3.7 1 5.4 2 4.3 1.3 2.4 .5 2.4 .2 2.4-.1 3.7-.6 3.6-1.1 4.9-2 3.6-1.6 3.6-1.9 4.3-2.5 4.8-3.4 1.8-1.6 1.9-1.9 1.2-1.8 1.2-2.4 1.2-3.3 .6-.4 .6 .8 .6 2.2 2.4 34.1 3.1 47.7 .6-.2 6-66.2 1.3-12.3 .6-3.8 12.1 0"/><path d="M324 259.2l18.8 0 9.1 64.4 3.1 19.3 1.2 6.2 1.2 4.6 1.8 5.9 1.8 5 3.7 9.1 1.2 2.6 1.2 2.1 1.2 1.7 .6 .6 .6 .5 1.2-1.5 .6-1.4 .6-2.3 1.3-6.5 .6-4.6 1.8-18.4 3.6-45 1.8-19.4 .6-5 1.3-7 .6-1.9 .6-1.1 .6-.1 1.2-.7 4.2-1.9 3.7-2.9 3-1.9 .6-.3 1.2 0 1.2 .2 3.1 .9 8.5 3.2 5.4 1.8 6.1 1.6 10.3 2.4 3.6 .6 8.5 .9 5.5 1 5.4 1.2 5.5 .8 3.6 .1 6.1-.4 2.4-.4 4.2-.8 4.9-1.3 4.8-1.8 6.7-3.1 3.6-2 2.5-1.8 1.8-2.3 1.2-2.8 .6-.4 .6 .8 .6 2 2.4 27 3.1 37.6 .6-.5 4.2-41.1 2.4-22 .7-1.5 12.7 0"/><path d="M324 259.2l3.1 0 .6 2.8 7.3 49.1 2.4 13.9 2.4 12.2 1.8 8.1 4.3 16.7 1.8 6.1 1.8 4.7 1.8 3.6 2.5 4 2.4 3.3 3.6 4 3 2.7 1.9 1.3 1.2 .6 1.8 .7 1.2 .3 .6-.1 .6-.9 1.2-2.6 .6-2.4 1.3-7 1.2-11.2 1.2-13.7 3.6-48.6 1.8-20.9 .6-5.4 1.3-7.6 .6-2.1 .6-1.1 .6-.2 1.2-.9 4.2-2.6 3.7-3.7 3-2.6 .6-.3 1.2-.1 1.2 .2 3.1 .9 9.7 4 5.4 2 5.5 1.6 9.7 2.5 3 .5 9.7 1.2 4.9 .9 4.2 1 2.4 .4 6.1 .6 5.4-.4 4.3-.6 8.5-2.3 6.6-2.4 6.1-2.6 3.6-2.1 2.5-2 1.8-2.5 1.2-2.9 .6-.4 .6 .8 .6 2 2.4 28.3 3.1 39.4 .6-2.1 3.6-52.3 .6-8.2 .6-5.6 15.2 0"/><path d="M324 259.2l3.7 0 .6 .5 7.3 48.4 3.6 21.5 2.4 12.4 1.8 8.2 3.7 14.9 1.8 6.2 1.2 3.2 2.4 5.1 2.5 4.2 1.8 2.5 3 3.4 3 2.9 3.1 2 3 1.4 .6 0 .6-.9 1.2-3.1 .6-2.5 1.3-7.3 1.2-11.5 1.2-14.2 3.6-50.3 1.8-21.7 .6-5.6 1.3-7.9 .6-2.1 .6-1.2 .6-.1 1.2-.8 4.2-2.1 3.7-3 3-2.1 .6-.3 1.2 0 1.2 .1 3.1 .9 8.5 2.9 4.8 1.5 5.5 1.4 9.7 2.1 3.6 .6 9.1 1.3 11.5 2.5 4.2 .7 4.3 .5 3.6-.2 3.1-.4 2.4-.5 10.3-3 5.4-1.9 6.1-2.5 3-1.6 2.5-1.6 1.8-2.1 1.2-2.7 .6-.4 .6 .8 .6 2.2 2.4 34.7 3.1 48.3 .6-2.1 4.8-78.4 .6-3.2 14.6 0"/><path d="M324 259.2l.7 0 .6 3 7.2 50.6 1.3 7.5 1.8 9.7 1.8 8.4 1.8 7.5 1.8 6.5 4.9 16.2 1.8 4.9 1.8 3.6 3 4.7 2.5 2.7 3 2.3 3 1.7 4.3 1.4 3.6 .5 .6-.1 .6-.8 1.2-2.8 1.2-5.2 1.3-8.2 1.8-18.4 3.6-45 1.2-13.4 1.2-11.1 1.3-7 .6-1.9 .6-1 .6-.3 1.2-1.4 3-2.7 1.2-1.3 1.2-1.8 2.5-4 3-4.1 .6-.5 .6-.2 .6 .1 1.2 .3 3.1 1.4 8.5 5 4.2 2.1 6.1 2.5 10.3 3.8 4.2 1.1 6.7 1.1 3 .7 4.9 1.4 5.4 2.2 4.9 1.6 2.4 .6 2.4 .2 2.4-.3 2.5-.5 3-1.1 12.1-6.3 3-1.8 3.7-2.4 4.2-3.2 3.1-3 1.2-1.7 1.2-2.4 1.2-3.3 .6-.4 .6 .8 .6 1.9 2.4 26.1 3.1 36.3 .6-2.5 3-44.9 1.2-15.4 15.8 0"/><path d="M324 259.2l6.7 0 .6 1.2 6.7 40.6 4.8 27.6 1.9 9.3 3.6 17.3 1.2 5.1 1.2 4.1 1.2 3.5 1.9 4.4 1.8 3.7 1.8 3.1 4.2 6.2 2.5 3.1 3 3.3 1.8 1.6 .6 .4 .6-.6 .6-1.5 .6-1.4 .6-2.4 1.3-6.7 .6-4.9 1.8-19.1 3.6-46.9 1.2-14 1.2-11.5 1.3-7.4 .6-1.9 .6-1.1 .6-.2 1.2-1.4 3-2.5 1.2-1.2 1.2-1.6 2.5-3.8 3-3.7 .6-.5 .6-.2 1.8 .4 3.1 1.2 8.5 4.6 4.8 2.2 6.1 2.3 9.1 2.8 4.2 1.1 6.7 1.1 3 .6 4.9 1.3 5.4 1.8 1.8 .5 4.9 1 3 .2 6.1-.7 3.6-1 4.9-1.7 3-1.2 3-1.5 3-1.7 6.1-4 2.4-1.9 1.9-1.6 1.8-2.3 1.2-2.2 1.2-3.2 .6-.4 .6 .8 .6 2.1 2.4 29.6 3.1 41.2 .6-1.2 4.8-60.2 .6-6.9 .6-3.1 14 0"/><path d="M324 264.3l7.3 50.8 2.5 14 2.4 11.6 2.4 9.8 4.2 14.7 2.5 7.6 1.8 4.5 1.8 3 2.4 3.3 1.2 1.3 1.9 1.7 3 2.1 3 1.5 1.8 .6 3.1 .7 3 .3 1.2-.3 .6-.9 .6-.2 .6-1.5 .6-2.4 1.3-6.9 1.2-10.9 1.2-13.5 3.6-47.7 1.2-14.1 1.2-11.8 1.3-7.4 .6-2 .6-1.1 .6-.2 1.2-1.1 4.2-2.9 3.7-4.2 3-3 .6-.3 .6-.2 1.2 .2 1.2 .4 3.1 1.5 7.9 4.6 3.6 2 4.8 2.2 4.3 1.5 10.3 3 7.9 1.5 3 .7 4.9 1.4 6.6 2.3 4.9 1 3 .3 2.4-.2 4.3-.6 3-.8 4.8-1.8 3.1-1.3 3-1.5 3-1.8 6.7-4.6 2.4-2 1.9-1.8 1.8-2.4 1.2-2.4 1.2-3.3 .6-.4 .6 .8 .6 1.9 2.4 26.5 3.1 36.9 .6-1.5 4.2-51.1 .6-6.8 .6-4.4 14.6 0"/><path d="M324 259.2l21.3 0 .6 1.7 7.9 65.5 2.4 18.3 1.2 7.7 1.2 5.7 1.8 6.9 4.3 13 1.2 3.2 1.2 2.6 1.2 1.9 .6 .7 .6 .4 .6-.7 .6-.5 .6-1.4 .6-2.1 1.3-6.4 .6-4.6 1.8-18 3.6-44.2 1.2-13.1 1.2-10.9 1.3-6.9 .6-1.8 .6-1.1 .6-.2 1.2-1.5 3-2.6 1.2-1.3 1.2-1.7 2.5-3.9 3-4 .6-.5 .6-.2 1.8 .3 3.1 .9 6.6 2.7 3.7 1.3 20.6 5.7 3 .5 9.1 .9 4.9 .9 6.6 1.5 4.9 .8 3 .2 6.7-.6 7.2-1.7 6.7-2 6.7-2.8 4.2-2.2 3.1-2.2 1.2-1.3 .6-.9 .6-1 1.2-2.9 .6-.4 .6 .8 .6 2 2.4 26.8 3.1 37.3 .6-2.5 4.2-61.5 .6-.6 15.2 0"/><path d="M324 259.2l20.1 .1 8.4 63.4 3.1 20.7 1.2 6.6 1.2 5 1.8 6.3 1.8 5.4 3.1 8.2 1.2 2.9 1.2 2.4 1.2 1.8 .6 .8 .6 .5 1.2-1.4 .6-1.6 .6-2.5 1.3-7.3 .6-5.2 1.8-20.5 3.6-50.4 1.8-21.7 .6-5.7 1.3-7.8 .6-2.1 .6-1.2 .6 .3 1.2 1.7 1.2 .5 1.8 .3 3.7 .5 6 .1 1.2 .2 3.1 1 7.8 3.2 4.3 1.4 6.7 2 10.9 2.7 4.2 .8 9.7 .9 4.3 .8 6 1.4 4.9 .7 3 .2 6.1-.4 3.6-.6 7.9-2.1 3-1.1 2.4-1 7.9-3.9 2.4-1.4 1.9-1.3 1.2-1.1 .6-.8 .6-.8 1.2-2.8 .6-.4 .6 .8 .6 2.3 2.4 36.2 3.1 50.7 .6 0 4.8-54.4 3.1-31.7 .6-1.6 11.5 0"/><path d="M324 259.2l4.3 0 7.3 45.3 3 16.2 2.4 11.2 1.8 7.5 4.3 16.1 1.8 5.7 1.8 4.2 2.5 4.6 2.4 3.7 3.6 4.5 3 3.4 2.5 2.1 3 1.8 1.2 .5 .6 .1 .6-.7 .6-2.4 .6-1.4 .6-2.3 1.3-6.5 .6-4.7 1.8-18.4 3.6-45.2 1.2-13.5 1.2-11.1 1.3-7.1 .6-1.8 .6-1.1 .6-.2 1.2-.9 4.2-2.6 3.7-3.9 2.4-2.2 1.2-.7 .6-.2 .6 .1 1.2 .3 3.1 1.7 9.1 6.3 4.8 2.9 6.1 3 9.7 4.1 2.4 .9 1.8 .4 7.3 .8 4.2 .9 3.1 1 5.4 2.4 4.9 1.8 2.4 .6 1.8 .1 1.8-.2 3.1-.6 1.8-.6 1.8-.8 5.5-2.8 3.6-2 3-2 3.7-2.6 5.4-4.5 1.8-1.8 1.9-2.1 1.8-2.9 1.2-2.7 1.2-3.6 .6-.4 .6 .8 .6 2.2 2.4 33 3.1 46.2 .6-1.1 3.6-48.6 2.4-30.1 14-.1"/><path d="M324 259.2l3.7 0 7.3 47.3 3 17 2.4 11.9 1.8 7.8 4.3 16.6 1.8 6.2 1.2 3.3 2.4 5.2 2.5 4.1 1.8 2.4 3 3.1 3 2.5 4.9 3 1.8 1 .6 .1 .6-.8 .6-1.3 .6-1.7 .6-2.6 1.3-7.6 .6-5.5 1.8-21.5 3.6-52.8 1.8-22.7 .6-5.9 1.3-8.3 .6-2.2 .6-1.2 .6 .2 1.2 1.4 1.2 .3 5.5 .6 6 .2 1.2 .2 3.1 1.1 7.2 3.4 4.3 1.7 19.4 6 3 .7 8.5 1.2 5.5 1.3 6 1.8 4.9 .9 3 .3 4.9-.4 2.4-.5 1.8-.5 10.9-4 3.6-1.6 3.7-1.9 4.2-2.5 1.8-1.3 1.9-1.5 1.2-1.4 .6-.9 .6-1.1 1.2-3 .6-.4 .6 .8 .6 2.1 2.4 31.3 3.1 43.6 .6-1.6 3.6-50.6 1.8-23.3 14.6 0"/><path d="M324 259.2l17 0 .6 3.5 9.1 66.4 3.1 19.9 1.2 6.6 1.8 7.2 1.8 5.8 5.5 14.1 1.2 2.9 1.2 2.3 1.8 2.6 .6 .7 .6 .4 1.2-1.7 .6-1.6 .6-2.5 1.3-7.5 .6-5.3 1.8-21.1 3.6-51.6 1.8-22.3 .6-5.8 1.3-8 .6-2.2 .6-1.2 6-.6 6.7-.9 2.4 0 3.7 1.2 7.2 3.1 4.3 1.5 6.6 2 11 2.8 3.6 .8 9.7 1.4 11.5 2.6 4.9 .7 3 .1 7.3-.5 4.2-.8 6.1-1.6 2.4-.9 3-1.3 7.3-3.8 4.3-2.8 1.2-1.1 1.2-1.6 .6-.9 1.2-2.9 .6-.4 .6 .8 .6 2.1 2.4 32 3.1 44.6 .6-.4 5.4-60 1.2-12.4 .7-4.4 12.7 0"/><path d="M324 259.2l.7 0 7.8 55.8 1.3 7.7 1.8 9.8 1.8 8.7 1.8 7.6 4.2 15.2 2.5 8 1.8 4.8 1.8 3.6 3 4.6 2.5 2.7 3 2.3 3 1.7 4.3 1.4 3.6 .6 .6-.1 .6-.9 1.2-3.2 .6-2.5 1.3-7.4 1.2-11.8 1.2-14.4 3.6-51.4 1.8-22.1 .6-5.8 1.3-8 .6-2.1 .6-1.2 6-1.3 6.7-2.1 1.2-.2 1.2 .2 3.7 1.2 7.2 3.5 3.7 1.6 5.4 1.9 4.9 1.5 10.3 2.5 8.5 1.2 3.6 .7 4.3 1.1 5.4 1.6 3.6 .8 3.1 .5 3 .1 5.5-.7 3.6-1 5.5-1.8 4.2-1.6 3.6-1.7 4.3-2.2 4.2-2.5 3.1-2.4 1.2-1.4 .6-1 .6-1 1.2-3 .6-.4 .6 .8 .6 2.2 2.4 34.9 3.1 48.7 .6-.1 6-67.7 1.3-12.5 .6-4 12.1 0"/><path d="M324 259.2l6.7 0 .6 .4 7.3 42.9 4.2 23.8 1.9 9.2 2.4 10.8 1.8 7.4 1.2 4.1 1.8 4.6 2.5 5.2 3 5.8 4.8 8.6 1.9 2.7 1.8 2.1 2.4 1.9 .6 .4 .6 .2 .6-.8 1.2-3.1 .6-2.3 1.3-6.6 .6-4.8 1.8-18.6 3.6-45.8 1.2-13.6 1.2-11.2 1.3-7.2 .6-1.9 .6-1.1 .6-.2 1.2-1.2 4.2-3.2 1.2-1.4 2.5-3.2 3-3.3 .6-.4 .6-.2 .6 .1 1.2 .3 3.1 1.3 7.8 4.5 4.3 2.1 6.7 2.6 10.9 3.8 3.6 .9 6.1 .9 3 .7 4.9 1.3 6.6 2.2 4.9 .9 3 .2 2.4-.2 3.7-.6 3.6-1.1 9.1-3.8 5.4-2.6 4.3-2.4 3.6-2.5 1.8-1.7 1.3-1.3 1.2-1.8 1.2-2.4 1.2-3.3 .6-.4 .6 .8 .6 2.2 2.4 33.4 3.1 46.6 .6 .3 5.4-53.3 3.1-27.4 .6-.3 10.9 0"/><path d="M324 259.2l6.1 0 .6 2.9 6.7 40.4 4.2 23 2.5 11.6 2.4 10.5 1.8 7.2 1.2 4 1.8 4.6 2.5 5 3 5.4 4.8 7.9 1.9 2.5 1.8 2 2.4 2 1.2 .7 .6 .2 .6-.8 1.2-3.3 .6-2.5 1.3-7.5 .6-5.3 1.8-21 3.6-51.4 1.8-22.3 .6-5.7 1.3-8.1 .6-2.1 .6-1.2 .6 .1 1.2 .7 .6 .1 3.6 .1 3.7 .3 4.8 .1 .6 .1 3.7 1.7 8.5 5.2 4.8 2.5 6.1 2.6 9.1 3.4 2.4 .8 2.4 .6 7.3 1 3 .6 4.3 1.2 6 2.1 4.9 1.2 3 .3 2.4-.1 3.7-.6 3.6-.9 4.8-1.8 3.1-1.3 3-1.5 3.6-2.2 6.1-4.3 2.4-2.1 1.9-1.9 1.8-2.6 1.2-2.6 1.2-3.4 .6-.4 .6 .8 .6 2.1 2.4 30.8 3.1 42.9 .6-.4 4.8-51.1 1.8-18 .7-4.8 12.7 0"/><path d="M324 259.2l6.1 0 .6 2.7 7.3 41.7 4.2 23 1.9 8.6 3 12.7 1.8 6.9 1.2 3.7 1.8 4.4 2.5 4.8 2.4 3.9 3 4.1 3 3.8 2.5 2.4 2.4 1.7 1.2 .6 .6 0 1.2-1.9 .6-1.6 .6-2.5 1.3-7.1 .6-5.2 1.8-20.3 3.6-49.8 1.8-21.4 .6-5.6 1.3-7.8 .6-2 .6-1.2 .6 .1 1.2 .8 .6 0 3.6 .2 3.7 .3 5.4 .2 3.7 1.2 7.2 3.2 4.3 1.6 6 2 11.6 3.3 4.2 .9 7.3 .9 3 .5 4.3 .9 5.4 1.6 4.3 1 2.4 .4 2.4 .2 2.4-.2 2.5-.3 3.6-.9 12.1-4.5 3.7-1.5 4.2-2.1 3.6-2.2 1.9-1.3 1.2-1.2 1.8-2.6 1.2-3 .6-.4 .6 .8 .6 2 2.4 29.1 3.1 40.4 .6-2.2 3.6-54.3 .6-8.4 .6-5.1 15.2 0"/><path d="M324 263.3l4.3 31.4 3 23.8 1.2 8.3 1.3 7.1 1.8 9.4 2.4 10.5 1.8 6.6 5.5 18.1 1.8 4.8 1.8 3.4 3 4.5 2.5 2.6 1.8 1.4 1.8 1.2 3 1.4 4.3 1.1 3.6 .5 .6-.2 .6-.9 .6-.6 .6-1.7 .6-2.8 1.3-7.9 1.2-12.7 1.2-15.5 3.6-55.2 1.8-23.8 .6-6.2 1.3-8.6 .6-2.3 .6-1.3 12.7-.4 2.4 .1 3.7 1.5 8.5 4.9 4.2 2.1 6.1 2.6 11.5 4.4 3.6 .9 6.7 .9 2.4 .4 4.9 1.2 6 2 4.9 1 3 .2 2.4-.1 3.7-.6 3.6-.9 7.9-3.1 3-1.5 3-1.8 6.7-4.5 2.4-2 1.9-1.7 1.8-2.4 1.2-2.3 1.2-3.3 .6-.4 .6 .8 .6 2.3 2.4 35.5 3.1 49.6 .6-3.5 3-61.8 1.2-20.6 15.8 0"/><path d="M324 259.2l19.4 0 .7 3.5 8.4 67.5 2.5 17.6 1.2 7.5 1.2 5.5 1.2 4.6 3 9.4 3.1 8.4 1.8 4.5 1.8 3.4 1.2 1.6 .6-.5 .6-1.3 .6-1.5 .6-2.4 1.3-6.8 .6-4.9 1.8-19.3 3.6-47.4 1.2-14.1 1.2-11.6 1.3-7.5 .6-1.9 .6-1.1 .6-.2 1.2-1.2 4.2-3.2 1.2-1.5 2.5-3.2 3-3.3 .6-.4 .6-.2 1.8 .3 3.1 .9 8.5 3.2 4.8 1.5 6.1 1.6 10.3 2.4 3.6 .6 9.7 1 4.9 .9 6.6 1.5 4.3 .6 3 .1 6.1-.5 3.6-.7 10.3-2.9 4.2-1.5 4.3-1.7 4.2-2.1 1.9-1.1 1.2-1 1.8-2.2 1.2-2.8 .6-.4 .6 .8 .6 1.9 2.4 26.8 3.1 37.2 .6-1 4.2-46.2 1.2-12.4 .6-4.8 14 0"/><path d="M324 259.2l6.7 0 .6 2.5 7.3 41.2 4.2 21.8 4.9 21.4 1.8 6.9 1.2 3.5 1.8 4.4 2.5 4.8 1.8 3.1 3.6 5.2 2.4 3.3 2.5 2.7 2.4 2 1.2 .8 .6 .2 .6-.6 .6-1 .6-1.4 .6-2.2 1.3-6.3 .6-4.6 1.8-17.9 3.6-43.9 1.2-13 1.2-10.8 1.3-6.9 .6-1.8 .6-1 .6-.2 1.2-1.2 4.2-3 3.7-4.4 3-3.1 .6-.3 .6-.2 1.2 .2 1.2 .4 2.5 1 7.2 3.9 3.7 1.8 20 7.7 3 .7 6.7 .8 3.6 .6 3.7 .8 5.4 1.9 3.6 .9 3.1 .7 2.4 .1 2.4-.2 3.1-.4 3.6-1 5.5-2.1 3.6-1.6 3.6-1.8 3.7-2.1 4.8-3.2 1.8-1.4 1.9-1.7 1.8-2.3 1.2-2.3 1.2-3.3 .6-.4 .6 .8 .6 2.2 2.4 32.3 3.1 45.2 .6-1 3.6-47.1 2.4-29.3 .6-.8 13.4 0"/><path d="M324 259.2l.7 1.7 7.8 57.4 2.5 14.4 1.8 9 2.4 10.2 6.7 23.1 1.8 4.9 1.8 3.6 2.4 3.9 2.5 3 4.2 3.8 3 2.2 3.1 1.4 1.8 .4 1.8 .2 1.2-.2 .6-.9 1.2-3 1.2-5.5 1.3-8.7 1.8-19.4 3.6-47.8 1.2-14.2 1.2-11.7 1.3-7.5 .6-2 .6-1.1 .6-.3 1.2-1.5 3-2.9 1.2-1.3 1.2-1.9 2.5-4.3 3-4.3 .6-.5 .6-.2 .6 .1 1.2 .3 3.1 1.5 8.5 5.5 4.8 2.6 6.1 2.8 8.5 3 4.8 1.5 7.3 1.2 3 .7 4.3 1.3 6.6 2.4 4.9 1 3 .3 6.7-.8 3.6-.9 4.2-1.5 2.5-1 2.4-1.2 3-1.9 3.1-2.2 4.2-3.4 2.4-2.1 2.5-2.5 1.8-2.6 1.2-2.6 1.2-3.4 .6-.4 .6 .8 .6 2.3 2.4 35.8 3.1 50.1 .6-.1 4.8-55 3.1-31.6 12.1 0"/><path d="M324 259.2l.7 1.1 7.8 58.7 2.5 14.7 1.8 9.3 2.4 10.7 6.7 24 1.8 5.3 2.4 5.2 2.4 4.1 1.3 1.7 1.2 1.3 2.4 1.8 3 1.6 1.8 .5 6.7 1.7 .6-.1 .6-.8 1.2-2.9 1.2-5.9 1.3-9.3 1.8-20.8 3.6-51 1.2-15.1 1.2-12.6 1.3-8 .6-2.1 .6-1.2 .6-.2 1.2-1.1 4.2-2.9 3.7-4.2 2.4-2.5 1.2-.8 .6-.2 1.8 .4 3.1 1.2 9.1 5 5.4 2.5 5.5 2.1 9.7 3.2 3 .8 9.1 1.7 5.5 1.5 6.6 2.3 4.9 .9 3 .2 4.2-.6 2.5-.6 1.8-.6 13.9-6.1 3.7-1.8 3-1.7 3.6-2.6 2.5-2.4 1.2-1.7 1.2-2.3 1.2-3.3 .6-.4 .6 .8 .6 2.1 2.4 30.9 3.1 43.2 .6-2.5 4.2-67.8 .6-4.4 15.2 0"/><path d="M324 259.2l4.3 0 7.3 49.7 3 17.6 2.4 12.3 1.8 8.2 4.3 17.7 1.8 6.4 1.8 4.7 2.5 5.2 1.8 3.2 2.4 3.4 3.6 4.4 3.1 2.9 1.2 .9 1.8 1.1 1.8 .7 .6 0 .6-.9 1.2-3.3 .6-2.6 1.3-7.6 .6-5.4 1.8-21.3 3.6-52.2 1.8-22.6 .6-5.8 1.3-8.2 .6-2.2 .6-1.2 6-1.8 3.7-1.8 3-1.3 1.2-.2 1.2 .2 3.7 1.9 7.2 5 3.1 1.9 4.8 2.5 4.9 2.2 10.9 3.9 2.4 .7 6.7 1.3 3 .9 4.9 1.8 5.4 2.6 4.3 1.5 3 .7 2.4 .1 2.4-.3 2.5-.5 3-1.2 6.1-3.3 3.6-2.1 3-2 3.7-2.7 5.4-4.4 1.8-1.8 1.9-2 1.8-2.6 1.2-2.7 1.2-3.5 .6-.4 .6 .8 .6 2.2 2.4 33.1 3.1 46.3 .6 .2 6-59.7 1.9-16.7 .6-3.9 11.5 0"/><path d="M324 259.2l17.6 0 .6 .4 5.5 37.4 4.2 30.3 2.5 15.3 1.2 6.3 1.2 4.7 1.8 5.7 1.8 4.7 3.7 8.6 2.4 5.1 1.8 2.6 1.2 1.3 .6-.7 .6-1.3 .6-1.4 .6-2.4 1.3-6.7 .6-4.8 1.8-19.1 3.6-46.7 1.8-20.1 .6-5.2 1.3-7.3 .6-2 .6-1.1 6-1.3 6.7-2.1 1.2-.2 1.2 .2 3.7 1.7 7.8 4.9 4.3 2.2 6.7 3 10.3 4 4.2 1.3 7.3 1.1 3.6 .9 4.3 1.4 5.4 2.1 4.9 1.5 2.4 .5 1.8 0 2.4-.3 2.5-.4 1.8-.6 1.8-.7 6.1-2.9 4.2-2.2 3.6-2.1 4.3-2.9 4.2-3.4 1.8-1.8 1.3-1.4 1.2-1.9 .6-1.3 .6-1.3 1.2-3.5 .6-.4 .6 .8 .6 2.3 2.4 35 3.1 49 .6-2 4.2-68.3 .6-9 .6-5.5 14.6 0"/><path d="M324 259.2l6.1 0 .6 2.6 7.3 43.1 3.6 19.5 2.5 11.8 3 13.4 1.8 7.4 1.2 3.9 1.8 4.8 1.9 3.9 1.8 3.4 1.8 2.7 3.6 4.9 3.1 3.5 3 2.7 1.8 1.2 .6 .2 .6-.7 1.2-2.8 .6-2.3 1.3-6.5 .6-4.6 1.8-18.5 3.6-45.2 1.2-13.4 1.2-11.1 1.3-7.1 .6-1.8 .6-1.1 .6-.2 1.2-1.3 4.2-3.4 1.2-1.5 2.5-3.4 3-3.5 .6-.4 .6-.2 1.8 .2 14 2.3 20.6 2.7 12.7 .7 14.6 1.4 4.8 .1 6.1-.3 9.1-1.2 6-1 7.9-1.8 3.7-1.1 1.8-.8 1.2-.9 1.2-2.2 .6-.4 .6 .8 .6 2 2.4 27 3.1 37.6 .6-.1 6-52.3 1.3-9.7 .6-3 12.1 0"/><path d="M324 265.2l7.3 55 2.5 15 1.8 9.4 2.4 10.7 1.8 6.8 4.9 16.9 1.8 5.3 1.2 2.9 3 5.2 2.5 3.3 1.2 1.2 1.8 1.5 2.4 1.9 1.8 1.2 1.8 .9 1.9 .6 1.8 .5 1.2 0 1.8-.2 .6-.3 .6-1 1.2-3.3 .6-2.6 1.3-7.6 1.2-12 1.2-14.7 3.6-52.2 1.8-22.6 .6-5.8 1.3-8.2 .6-2.1 .6-1.3 .6-.2 1.2-.9 4.2-2.5 3.7-3.7 3-2.6 .6-.3 1.2-.1 1.2 .2 3.1 .9 8.5 3.2 5.4 1.7 6.1 1.6 9.7 2.1 3 .6 9.7 1.2 5.5 1.1 5.4 1.3 5.5 .9 3.6 .2 5.5-.5 4.2-.7 4.9-1.3 3.6-1.1 5.4-2 6.1-2.8 3-1.8 2.5-1.7 1.8-2.3 1.2-2.8 .6-.4 .6 .8 .6 2.3 2.4 35.1 3.1 49.1 .6-.8 4.2-55 2.4-29.1 13.4-.1"/><path d="M324 259.2l4.9 0 .6 3 7.3 46.6 3.6 20.5 1.8 9.1 1.9 8.2 3 12.6 1.8 6.4 1.8 4.6 3.1 6 2.4 4.1 4.8 7.2 2.5 3 1.8 1.7 2.4 1.5 1.2 .4 .6 .1 .6-.9 1.2-3.1 .6-2.3 1.3-6.8 .6-4.9 1.8-19.3 3.6-47.3 1.2-14 1.2-11.6 1.3-7.4 .6-2 .6-1.1 .6-.2 1.2-1.3 4.2-3.5 1.2-1.5 2.5-3.6 3-3.6 .6-.4 .6-.2 1.2 .2 1.2 .4 3.1 1.4 8.5 4.8 4.2 2 6.1 2.5 10.9 4 3 .8 6.7 1.2 3 .7 4.9 1.4 5.4 2 3.6 .9 3.1 .6 2.4 .1 2.4-.2 3.7-.6 3-.8 4.8-1.9 3.1-1.3 3-1.6 3-1.8 6.7-4.8 2.4-2 1.9-1.8 1.8-2.4 1.2-2.4 1.2-3.3 .6-.4 .6 .8 .6 2 2.4 26.8 3.1 37.3 .6-.9 3.6-38.5 2.4-24 .6-1.2 13.4 0"/></g><g stroke="#ff0000"><path d="M324 259.2l7.9 59.5 1.2 8.1 1.3 6.9 1.8 9.2 2.4 10.4 7.3 25.2 1.8 5.1 1.8 3.8 2.4 4.2 1.3 1.7 1.2 1.4 1.2 1.1 1.8 1.2 3 1.7 1.8 .6 6.7 1.5 .6 0 .6-.8 1.2-3.1 1.2-5.8 1.3-9.2 1.8-20.5 3.6-50.5 1.2-15 1.2-12.4 1.3-7.9 .6-2.1 .6-1.2 .6-.2 1.2-1.2 4.2-3.2 1.2-1.4 2.5-3.3 3-3.2 .6-.4 .6-.2 1.2 .2 1.2 .5 2.5 1.2 8.5 5.4 4.2 2.4 6.7 3 10.9 4.5 3.6 1 7.9 .9 4.2 .9 3.1 1 4.8 2.1 4.9 1.8 2.4 .6 1.8 .1 1.8-.2 3.7-.6 3.6-1.4 4.9-2.2 3.6-1.9 3.6-2.1 3.7-2.6 4.8-3.8 1.8-1.7 1.9-2 1.2-1.7 .6-1.1 1.2-2.7 1.2-3.5 .6-.4 .6 .8 .6 2.2 2.4 32.5 3.1 45.3 .6-.7 4.2-51.2 2.4-26.6 13.4 0"/><path d="M324 259.2l5.5 0 .6 1.8 7.3 45.4 3.6 20.3 2.4 12 2.5 10.6 1.8 7.4 1.8 6.1 1.8 4.4 3.1 5.9 3 5.2 4.8 7.6 1.9 2.3 1.8 1.7 2.4 1.6 .6 .2 .6 .1 .6-.8 1.2-3.7 .6-2.4 1.3-7.2 .6-5.1 1.8-20.2 3.6-49.7 1.8-21.4 .6-5.5 1.3-7.8 .6-2.1 .6-1.1 6-2 3.7-2 3-1.3 1.2-.3 1.2 .2 3.7 1.8 7.2 4.9 4.3 2.4 7.3 3.4 11.5 4.8 3.6 1 6.7 1 3 .7 4.3 1.2 4.2 1.5 1.8 .5 5.5 1 3 0 6.7-.8 4.2-1.1 3-1 2.5-1 2.4-1.2 2.4-1.6 3.1-2.2 4.2-3.4 2.4-2.2 2.4-2.4 1.3-1.5 1.2-1.8 1.2-2.6 1.2-3.5 .6-.4 .6 .8 .6 2.1 2.4 32 3.1 44.6 .6-2 4.8-73.1 .6-2.1 14.6 0"/><path d="M324 259.2l7.3 0 .6 .9 6.7 40.4 4.8 27.7 1.9 9.4 3 14.3 1.2 5.1 1.2 4.2 1.8 5 2.5 5.5 2.4 4.8 4.2 7.5 1.9 2.9 1.8 2.5 2.4 2.6 1.2 1.1 .6 .3 .6-.8 .6-1.3 .6-1.6 .6-2.6 1.3-7.5 .6-5.3 1.8-21.1 3.6-51.8 1.8-22.4 .6-5.8 1.3-8.1 .6-2.1 .6-1.2 6-.9 6.7-1.6 1.2-.1 1.2 .2 3.1 1.6 1.2 .8 8.5 6.6 4.2 3 3.6 2.2 3.7 1.8 6.6 2.4 4.3 1.3 3 .6 6.1 .8 3 .7 4.3 1.4 5.4 2.5 4.9 1.7 2.4 .6 2.4 .1 2.4-.2 3.1-.5 3-1.1 4.8-2.4 3.1-1.6 3-1.9 3.6-2.7 6.1-5.3 2.4-2.5 1.9-2.2 1.2-1.9 .6-1.2 1.2-3 1.2-3.7 .6-.4 .6 .8 .6 2.1 2.4 29.9 3.1 41.6 .6-1.6 4.2-57.1 1.2-13.4 14.6 0"/></g><g stroke="#0000ff"><path d="M324 259.2l7.3 0 .6 .9 7.3 40.8 6.1 30.2 3 13.9 1.8 7.3 1.8 5.4 2.5 5.8 3 6.1 4.2 7.6 1.9 2.9 1.8 2.4 2.4 2.2 1.2 .9 .6 .2 .6-.8 1.2-3 .6-2.2 1.3-6.4 .6-4.5 1.8-18 3.6-44.2 1.2-13.1 1.2-10.9 1.3-6.9 .6-1.8 .6-1.1 .6-.2 1.2-1.2 4.2-3.4 1.2-1.4 2.5-3.5 3-3.4 .6-.4 .6-.2 1.8 .3 3.1 1 7.2 3 3.7 1.3 20.6 6.3 2.4 .4 8.5 1.1 11.5 2.5 4.3 .4 3 .1 7.9-.6 4.2-.8 6.1-1.5 2.4-.9 3-1.3 7.3-3.9 2.4-1.5 1.9-1.3 1.2-1.1 1.2-1.5 .6-1 1.2-2.9 .6-.4 .6 .8 .6 2.1 2.4 31.5 3.1 44 .6 .1 6.6-63 1.3-10.6 .6-2.6 11.5 0"/></g><g stroke="#ff0000"><path d="M324 259.2l1.9 0 .6 3.6 7.3 51.6 1.8 11 1.8 9.7 1.8 8.7 1.8 7.7 4.3 16.1 1.8 6.2 1.8 4.8 1.8 3.6 2.5 4.1 2.4 3.1 4.2 4.4 2.4 2.1 1.9 1.1 1.2 .6 1.8 .6 1.8 .3 .6-.1 .6-.9 1.2-2.7 1.2-5.7 1.3-9 1.8-20 3.6-49.3 1.2-14.6 1.2-12.1 1.3-7.7 .6-2 .6-1.2 .6-.2 1.2-1.3 4.2-3.4 1.2-1.5 2.5-3.5 3-3.5 .6-.4 .6-.2 .6 .1 1.2 .3 3.1 1.5 7.2 4.5 4.3 2.3 6 2.7 12.8 5.1 3 .9 6.7 1.2 3 .7 4.3 1.3 4.8 1.8 1.8 .6 4.9 .9 3 .2 6.1-.8 1.8-.4 1.8-.7 7.9-3.3 3.6-2 3-1.9 6.1-4.4 2.4-2.1 1.9-1.9 1.8-2.6 1.2-2.5 1.2-3.4 .6-.4 .6 .8 .6 2 2.4 27.1 3.1 37.7 .6-.6 4.8-49.2 1.2-11.5 .6-4 13.4 0"/></g><g stroke="#0000ff"><path d="M324 259.2l1.9 0 .6 1.8 7.3 51.4 2.4 14.4 1.8 9.1 2.4 10.5 4.9 18.1 1.8 6.2 1.8 5 1.8 3.9 2.5 4.2 2.4 3.3 3.6 3.5 3 2.3 1.9 1.1 1.8 .8 1.8 .5 1.2 .2 .6-.2 .6-.9 1.2-3.7 .6-2.4 1.3-7.2 1.2-11.5 1.2-14.1 3.6-50 1.8-21.5 .6-5.6 1.3-7.8 .6-2.1 .6-1.1 .6-.2 1.2-.7 4.2-2 3.7-2.9 3-2 .6-.3 1.2 0 1.2 .2 2.5 .7 8.4 3.5 4.9 1.7 6.1 1.7 9.7 2.3 4.8 .9 7.9 .6 4.2 .5 3.1 .6 5.4 1.4 5.5 1.1 2.4 .2 3-.1 4.9-.7 7.9-2.3 8.4-2.8 6.1-2.6 3-1.7 2.5-1.9 1.8-2.4 1.2-2.9 .6-.4 .6 .8 .6 2 2.4 27.7 3.1 38.5 .6-.2 6-54.2 1.3-10 .6-2.3 12.1 0"/></g><g stroke="#ff0000"><path d="M324 259.2l1.9 0 .6 1.9 7.3 52.3 2.4 14.9 2.4 12.7 1.8 8.4 4.3 16.8 2.4 8.5 1.8 4.8 1.8 3.6 2.5 3.9 2.4 3.2 3.6 3.9 3 2.7 3.1 1.8 1.8 .6 1.8 .4 .6-.1 .6-.9 1.2-3.5 .6-2.5 1.3-7.3 1.2-11.7 1.2-14.2 3.6-50.6 1.8-21.8 .6-5.7 1.3-7.9 .6-2.1 .6-1.2 .6-.2 1.2-.9 4.2-2.7 3.7-3.9 3-2.7 .6-.3 1.2-.1 1.2 .3 3.1 1.6 8.5 5.6 3.6 2.1 4.8 2.4 4.9 2.1 6.7 2.4 3 1 3 .7 6.7 1 5.4 1.5 2.5 .9 4.8 2.2 6.1 2.5 1.8 .3 2.4 0 4.9-.9 3.6-1.6 4.9-2.4 3-1.7 3-1.9 3.1-2.3 6-5.1 3.7-3.8 1.8-2.7 1.2-2.7 1.2-3.5 .6-.4 .6 .8 .6 2 2.4 29 3.1 40.3 .6-1.6 4.2-55.8 .6-7.4 .6-5 14.6 0"/></g><g stroke="#0000ff"><path d="M324 259.2l16.4 0 .6 2.5 9.7 64.2 2.5 14.4 1.8 9.1 1.2 4.3 1.8 5.4 1.8 4.6 3.7 8.2 1.8 3.8 1.2 2.2 1.8 2.5 1.2 1.2 .6-.7 .6-1 .6-1.5 .6-2.3 1.3-6.8 .6-4.9 1.8-19.3 3.6-47.4 1.8-20.4 .6-5.3 1.3-7.4 .6-1.9 .6-1.1 6-.9 6.7-1.4 1.8 0 3.7 .6 6 1.8 2.4 .6 11 1.4 4.2 .4 3.6 .1 12.2-.5 3.6 .1 1.2 .4 1.2 .5 5.5 3.4 4.2 3.5 1.8 1.3 1.3 .6 1.2 .2 1.8-.4 1.8-.8 3.6-2.1 3.1-2.4 1.8-1 10.9-.4 9.1 .7 1.8-.1 1.2-.3 2.5-1.3 .6-.4 .6-.7 1.8-3.6 1.2-3.6 .6-.4 .6 .8 .6 2.1 2.4 31.2 3.1 43.5 .6-.5 5.4-58.5 1.2-12.2 .7-4.1 12.7 0"/><path d="M324 259.2l4.9 0 7.3 44.7 2.4 13.2 2.4 11.7 1.8 7.9 4.3 16.9 1.8 6.2 1.2 3.2 2.4 5.1 1.9 3.2 2.4 3.5 3.6 4.4 3.1 3 1.8 1.5 1.8 1.2 1.8 .9 .6 .1 .6-.7 1.2-3.1 .6-2.5 1.3-7.2 .6-5.2 1.8-20.3 3.6-50 1.8-21.5 .6-5.6 1.3-7.8 .6-2.1 .6-1.1 1.8 .2 4.2-.1 3.7 .3 4.2 0 1.2 .2 3.7 1.9 7.8 5.3 4.3 2.3 6.7 3.2 9.7 3.9 2.4 .9 2.4 .7 7.9 1.1 4.2 .9 3.1 .9 5.4 2.4 4.9 1.9 2.4 .5 1.8 .1 1.8-.1 3.1-.6 1.8-.5 1.8-.8 6.1-2.9 3.6-2 3.6-2.2 4.3-3 4.2-3.5 1.8-1.9 1.9-2.2 1.2-2 .6-1.4 1.8-5 .6-.4 .6 .8 .6 2 2.4 27.8 3.1 38.8 .6-1.3 5.4-64.7 .6-1.1 14 0"/></g><g stroke="#ff0000"><path d="M324 259.2l1.3 0 .6 3.3 7.2 53.9 1.3 7.9 1.8 10.2 1.8 8.8 1.8 7.8 6.7 24.2 1.8 5.2 1.8 3.8 2.4 4.3 2.5 3.3 3.6 3.3 3 2.1 3.7 1.7 1.8 .6 1.8 .3 .6-.1 .6-.9 1.2-3.1 .6-2.7 1.3-7.9 1.2-12.5 1.2-15.3 3.6-54.5 1.8-23.5 .6-6.1 1.3-8.5 .6-2.3 .6-1.2 6-.8 6.7-1.2 1.2-.1 1.2 .2 3.7 1.8 7.8 5.2 3.7 2.2 4.8 2.5 5.5 2.4 6.7 2.7 3 1.1 8.5 1.9 3 .9 4.9 1.8 4.8 2.2 1.8 .7 4.9 1.4 1.8 .3 1.2 0 2.4-.3 3.1-.6 3-1.1 8.5-4.5 3.6-2.3 3-2.2 6.1-4.9 2.4-2.3 1.9-2 1.8-2.8 1.2-2.7 1.2-3.5 .6-.4 .6 .8 .6 2 2.4 28.3 3.1 39.4 .6-.6 4.2-43.6 2.4-23.1 .7-.9 12.7 0"/></g><g stroke="#0000ff"><path d="M324 259.2l3.1 0 .6 1.1 7.3 49.9 3 17.7 2.4 12.1 1.8 8 3.7 14.6 2.4 8.3 1.2 3.1 2.4 4.9 2.5 3.9 1.8 2.4 3.6 3.9 3 2.6 3.7 2.3 2.4 1.1 .6 0 1.2-1.6 .6-1.5 .6-2.4 1.3-7.1 .6-5.1 1.8-20 3.6-49.1 1.2-14.6 1.2-12 1.3-7.7 .6-2 .6-1.2 .6-.2 1.2-1 4.2-2.8 3.7-4.2 2.4-2.4 1.2-.8 .6-.2 1.2 .1 3.7 .9 9.1 2.9 5.4 1.5 4.9 1.1 8.5 1.6 4.8 .8 7.9 .6 3.6 .4 3.7 .6 6 1.2 4.9 .7 2.4 .2 2.4 0 6.1-.5 7.9-1.7 6-1.7 6.7-2.5 4.2-1.8 3.1-1.8 1.8-1.9 1.2-2.6 .6-.4 .6 .8 .6 2.1 2.4 30.3 3.1 42.2 .6-3 3-52.4 1.2-17.7 15.8 0"/><path d="M324 259.2l3.1 0 .6 .7 7.3 49.5 3 17.6 2.4 12.2 1.8 8 4.3 17.1 1.8 6.3 1.2 3.3 2.4 5.3 2.5 4.2 1.8 2.5 3.6 3.9 3 2.6 1.9 1.3 2.4 1.4 1.8 .8 .6 .1 .6-.8 .6-1.2 .6-1.5 .6-2.4 1.3-7 .6-4.9 1.8-19.6 3.6-48 1.2-14.3 1.2-11.8 1.3-7.5 .6-2 .6-1.1 .6-.2 1.2-1.4 3-2.4 1.2-1.1 1.2-1.6 2.5-3.7 3-3.7 .6-.4 .6-.2 1.8 .3 3.1 .8 8.5 2.9 3.6 1.1 6.7 1.5 10.3 2 4.2 .7 10.3 1 4.3 .7 6 1.3 5.5 1 1.8 .1 2.4 .1 6.1-.5 7.3-1.6 6.6-1.9 6.7-2.6 4.2-2 3.1-2 1.8-2.1 1.2-2.7 .6-.4 .6 .8 .6 2 2.4 27.8 3.1 38.7 .6-2.4 4.2-62.4 .6-2.2 15.2 0"/></g><g stroke="#ff0000"><path d="M324 259.2l.7 0 .6 3.5 7.2 53.4 1.3 8 1.8 10.1 1.8 9 1.8 7.8 1.8 6.9 4.9 17.1 1.8 5.2 1.8 3.7 2.4 4.2 2.5 3.1 1.2 1.2 1.8 1.4 1.8 1.3 1.8 1 4.3 1.6 1.2 .2 1.8 .2 .6 0 .6-.2 1.2-1.7 .6-1.6 .6-2.6 1.3-7.5 1.2-11.9 1.2-14.7 3.6-51.9 1.8-22.5 .6-5.8 1.3-8.1 .6-2.1 .6-1.3 .6-.1 1.2-.6 4.2-1.7 3.7-2.5 3-1.8 .6-.2 1.2 0 3.7 .8 7.8 2.9 4.3 1.3 18.8 4.5 3 .5 6.7 .6 3.6 .5 4.3 .8 6 1.4 5.5 1 2.4 .2 3-.1 4.9-.7 8.5-2.4 6.6-2.1 6.7-2.8 3.6-1.8 2.5-1.7 1.8-2.2 1.2-2.7 .6-.4 .6 .8 .6 2.1 2.4 30.8 3.1 42.8 .6-.7 4.8-55.2 1.8-18.3 13.4 0"/><path d="M324 259.2l1.9 0 .6 .6 7.3 52 2.4 15 1.8 9.7 2.4 11.4 4.3 16.9 2.4 8.7 1.8 4.9 1.8 3.7 2.5 4.1 2.4 3.2 3.6 3.5 3 2.3 1.9 1.1 1.8 .8 1.2 .3 1.8 .3 .6-.2 .6-1 .6-.5 .6-1.7 .6-2.6 1.3-7.6 1.2-12.1 1.2-14.7 3.6-52.7 1.8-22.7 .6-5.8 1.3-8.3 .6-2.1 .6-1.3 6-1.8 3.7-1.9 3-1.2 1.2-.3 1.2 .2 3.7 2 7.8 5.7 4.3 2.6 6 3.1 9.8 4.1 2.4 1 2.4 .8 7.3 1.5 3 .9 4.9 1.7 5.4 2.5 4.3 1.3 3 .7 2.4 0 5.5-.9 3-1 4.8-2.3 3.1-1.6 3-1.9 2.4-1.8 7.3-6.4 2.4-2.5 1.9-2.2 1.2-1.7 .6-1.2 1.2-2.8 1.2-3.7 .6-.4 .6 .8 .6 2.1 2.4 30.2 3.1 42.1 .6-.7 4.8-54.8 1.2-12.8 .6-4.6 13.4 0"/></g><g stroke="#0000ff"><path d="M324 259.2l1.3 0 .6 .5 7.9 55 1.2 7.3 1.8 9.5 1.8 8.3 1.8 7.4 4.9 17.4 1.8 5.9 1.8 4.6 1.8 3.5 2.5 3.9 1.2 1.5 1.2 1.3 1.8 1.3 1.8 .9 5.5 1.6 4.2 1.6 .6 0 .6-.7 .6 0 .6-1.7 1.2-6.1 1.3-9.6 1.8-21.5 3.6-52.8 1.8-22.8 .6-5.9 1.3-8.3 .6-2.2 .6-1.2 .6 .1 1.2 .7 .6 .1 3.6 .1 3.7 .3 4.8 .1 .6 .1 3.7 1.9 7.2 5.1 3.7 2.3 4.8 2.5 4.9 2.2 10.3 3.8 3 .7 6.1 1 3 .7 4.9 1.5 5.4 2.4 4.9 1.7 2.4 .6 2.4 .2 2.4-.2 3.1-.5 1.8-.5 1.8-.7 4.2-1.9 3.1-1.5 3-1.8 3.6-2.6 6.1-5 2.4-2.5 1.9-2.1 1.2-1.8 .6-1.1 1.2-2.9 1.2-3.6 .6-.4 .6 .8 .6 2.1 2.4 31.8 3.1 44.4 .6-1.6 3.6-51.3 1.8-23.6 .6-.3 14 0"/></g><g stroke="#ff0000"><path d="M324 259.2l6.1 0 .6 2.4 7.3 45 4.2 24.5 1.9 9.3 3 14 1.8 7.7 1.2 4.1 1.8 4.9 1.9 4 1.8 3.5 1.8 2.9 4.2 5.8 3.1 3.4 3 2.7 1.2 .8 .6 .1 1.2-1.5 .6-1.5 .6-2.4 1.3-6.9 .6-5 1.8-19.6 3.6-48.2 1.2-14.2 1.2-11.9 1.3-7.5 .6-2 .6-1.1 .6-.3 1.2-1.2 4.2-3.2 1.2-1.4 2.5-3.3 3-3.3 .6-.4 .6-.2 .6 .1 1.2 .4 3.1 1.6 8.5 5.8 4.8 2.8 6.1 3 10.3 4.5 3 1 6.1 1.5 3 .9 6.1 2.4 4.2 1.9 1.8 .6 4.9 1.1 3 .3 2.4-.3 3.7-.7 1.8-.5 1.8-.7 5.5-2.6 3-1.7 3-1.8 3.7-2.6 3.6-3 2.4-2.1 1.8-1.9 1.9-2.2 1.2-1.9 .6-1.1 1.2-3 1.2-3.7 .6-.4 .6 .8 .6 2.1 2.4 31.4 3.1 43.8 .6-.4 5.4-59 1.2-12.2 .7-4.2 12.7 0"/></g><g stroke="#0000ff"><path d="M324 259.2l20.7 0 8.5 64.9 2.4 16.9 1.2 7.2 1.2 5.2 1.8 6.2 4.3 11.7 1.8 4.5 1.2 2.5 1.2 1.9 1.2 1.3 .6-.6 .6-1 .6-1.3 .6-2.1 1.3-5.9 .6-4.3 1.8-16.9 3.6-41.4 1.2-12.3 1.2-10.1 1.3-6.5 .6-1.7 .6-1 .6-.3 1.2-1.5 3-2.9 1.2-1.3 1.2-1.9 2.5-4.3 2.4-3.5 1.2-1.3 .6-.2 .6 .1 1.8 .3 2.5 .7 8.5 2.9 3.6 1 6.7 1.6 11.5 2.5 3.6 .6 9.7 .9 4.3 .6 5.4 1.1 4.3 .6 2.4 .3 2.4 0 6.7-.5 7.2-1.5 6.7-1.8 6.7-2.4 4.8-2.2 3.1-2 1.8-2 1.2-2.7 .6-.4 .6 .8 .6 1.9 2.4 26.3 3.1 36.6 .6-.6 4.2-41.2 2.4-21.5 13.4 0"/></g></g>
<rect x="313.2" y="247" width="229.1" height="170.3" fill="none" stroke="#3a3a3a" stroke-width="0.75"/>
<path d="M328.9 417.3v2.2M377.4 417.3v2.2M425.9 417.3v2.2M474.4 417.3v2.2M522.9 417.3v2.2M313.2 259.24h-2.2M313.2 295.99h-2.2M313.2 332.74h-2.2M313.2 369.49h-2.2M313.2 406.24h-2.2" stroke="#222" stroke-width="0.65" fill="none"/>
<rect x="491.2" y="392.9" width="48" height="21.6" rx="1" fill="#fff" fill-opacity="0.8" stroke="#d4d4d4" stroke-width="0.5"/>
<path d="M493.7 398.65h13.4" stroke="#ff0000" stroke-opacity="0.5" stroke-width="1.0"/>
<path d="M493.7 408.25h13.4" stroke="#0000ff" stroke-opacity="0.5" stroke-width="1.0"/>
<g class="t"><text x="328.9" y="426.7" text-anchor="middle">200</text><text x="377.4" y="426.7" text-anchor="middle">400</text><text x="425.9" y="426.7" text-anchor="middle">600</text><text x="474.4" y="426.7" text-anchor="middle">800</text><text x="522.9" y="426.7" text-anchor="middle">1000</text><text x="308.5" y="261.84" text-anchor="end">1.0</text><text x="308.5" y="298.59" text-anchor="end">0.8</text><text x="308.5" y="335.34" text-anchor="end">0.6</text><text x="308.5" y="372.09" text-anchor="end">0.4</text><text x="308.5" y="408.84" text-anchor="end">0.2</text><text x="427.25" y="436" text-anchor="middle">wavelength</text><text transform="translate(294.4 332.15) rotate(-90)" text-anchor="middle" font-size="6.55">continuum-removed of the absorption spectrum</text><text x="512.2" y="400.9">Chaohu</text><text x="512.2" y="410.5">Taihu</text></g></g>
<g class="cap"><text x="132.2" y="216.8" text-anchor="middle">(<tspan font-weight="bold">a</tspan>)</text><text x="426.2" y="216.8" text-anchor="middle">(<tspan font-weight="bold">b</tspan>)</text><text x="132.2" y="454.6" text-anchor="middle">(<tspan font-weight="bold">c</tspan>)</text><text x="426.1" y="454.6" text-anchor="middle">(<tspan font-weight="bold">d</tspan>)</text></g>
</svg>
</body>
</html>
